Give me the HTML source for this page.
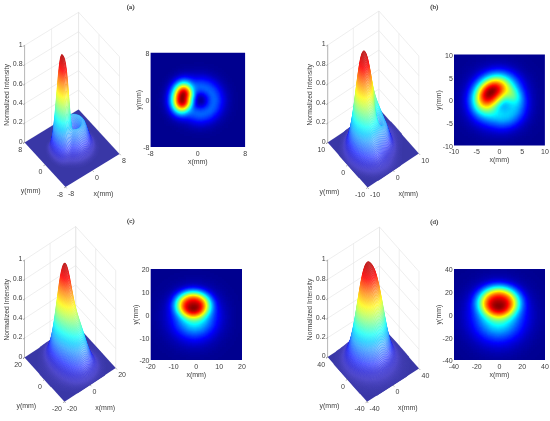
<!DOCTYPE html><html><head><meta charset="utf-8"><title>Intensity</title><style>html,body{margin:0;padding:0;background:#fff}svg{display:block}</style></head><body><svg width="550" height="421" viewBox="0 0 550 421"><defs><linearGradient id="fa" gradientUnits="userSpaceOnUse" x1="0" y1="0" x2="-432.64" y2="-705.81"><stop offset="0" stop-color="#3937a6"/><stop offset="0.03" stop-color="#5a54cc"/><stop offset="0.07" stop-color="#6460e0"/><stop offset="0.125" stop-color="#8c93ff"/><stop offset="0.1875" stop-color="#8cafff"/><stop offset="0.25" stop-color="#8ccbff"/><stop offset="0.3125" stop-color="#5cddff"/><stop offset="0.375" stop-color="#62fff9"/><stop offset="0.4375" stop-color="#8affd0"/><stop offset="0.5" stop-color="#b7ffae"/><stop offset="0.5625" stop-color="#ddff88"/><stop offset="0.625" stop-color="#fffb66"/><stop offset="0.6875" stop-color="#ffd666"/><stop offset="0.75" stop-color="#ffb066"/><stop offset="0.8125" stop-color="#ff7b52"/><stop offset="0.875" stop-color="#fe4040"/><stop offset="0.9375" stop-color="#e24040"/><stop offset="1" stop-color="#c64040"/></linearGradient><linearGradient id="sa" gradientUnits="userSpaceOnUse" x1="0" y1="0" x2="-432.64" y2="-705.81"><stop offset="0" stop-color="#3937a6"/><stop offset="0.03" stop-color="#4038c8"/><stop offset="0.07" stop-color="#1c1cd8"/><stop offset="0.125" stop-color="#000eff"/><stop offset="0.1875" stop-color="#004dff"/><stop offset="0.25" stop-color="#008bff"/><stop offset="0.3125" stop-color="#00caff"/><stop offset="0.375" stop-color="#0afff5"/><stop offset="0.4375" stop-color="#49ffb6"/><stop offset="0.5" stop-color="#87ff78"/><stop offset="0.5625" stop-color="#c6ff39"/><stop offset="0.625" stop-color="#fff900"/><stop offset="0.6875" stop-color="#ffba00"/><stop offset="0.75" stop-color="#ff7c00"/><stop offset="0.8125" stop-color="#ff3d00"/><stop offset="0.875" stop-color="#fe0000"/><stop offset="0.9375" stop-color="#d80000"/><stop offset="1" stop-color="#b20000"/></linearGradient><filter id="ja" x="0" y="0" width="1" height="1" color-interpolation-filters="sRGB"><feGaussianBlur stdDeviation="1.1"/><feComponentTransfer><feFuncR type="table" tableValues="0 0 0 0 0 0 0 0 0 0 0 0 0 0 0 0 0 0 0 0 0 0 0 0 .0625 .125 .1875 .25 .3125 .375 .4375 .5 .5625 .625 .6875 .75 .8125 .875 .9375 1 1 1 1 1 1 1 1 1 1 1 1 1 1 1 1 1 .9375 .875 .8125 .75 .6875 .625 .5625 .5"/><feFuncG type="table" tableValues="0 0 0 0 0 0 0 0 .0625 .125 .1875 .25 .3125 .375 .4375 .5 .5625 .625 .6875 .75 .8125 .875 .9375 1 1 1 1 1 1 1 1 1 1 1 1 1 1 1 1 1 .9375 .875 .8125 .75 .6875 .625 .5625 .5 .4375 .375 .3125 .25 .1875 .125 .0625 0 0 0 0 0 0 0 0 0"/><feFuncB type="table" tableValues=".5625 .625 .6875 .75 .8125 .875 .9375 1 1 1 1 1 1 1 1 1 1 1 1 1 1 1 1 1 .9375 .875 .8125 .75 .6875 .625 .5625 .5 .4375 .375 .3125 .25 .1875 .125 .0625 0 0 0 0 0 0 0 0 0 0 0 0 0 0 0 0 0 0 0 0 0 0 0 0 0"/></feComponentTransfer></filter><clipPath id="ca"><rect x="150.6" y="52.7" width="94.5" height="94.3"/></clipPath><linearGradient id="fb" gradientUnits="userSpaceOnUse" x1="0" y1="0" x2="-449.83" y2="-675.41"><stop offset="0" stop-color="#3937a6"/><stop offset="0.03" stop-color="#5a54cc"/><stop offset="0.07" stop-color="#6460e0"/><stop offset="0.125" stop-color="#8c93ff"/><stop offset="0.1875" stop-color="#8cafff"/><stop offset="0.25" stop-color="#8ccbff"/><stop offset="0.3125" stop-color="#5cddff"/><stop offset="0.375" stop-color="#62fff9"/><stop offset="0.4375" stop-color="#8affd0"/><stop offset="0.5" stop-color="#b7ffae"/><stop offset="0.5625" stop-color="#ddff88"/><stop offset="0.625" stop-color="#fffb66"/><stop offset="0.6875" stop-color="#ffd666"/><stop offset="0.75" stop-color="#ffb066"/><stop offset="0.8125" stop-color="#ff7b52"/><stop offset="0.875" stop-color="#fe4040"/><stop offset="0.9375" stop-color="#e24040"/><stop offset="1" stop-color="#c64040"/></linearGradient><linearGradient id="sb" gradientUnits="userSpaceOnUse" x1="0" y1="0" x2="-449.83" y2="-675.41"><stop offset="0" stop-color="#3937a6"/><stop offset="0.03" stop-color="#4038c8"/><stop offset="0.07" stop-color="#1c1cd8"/><stop offset="0.125" stop-color="#000eff"/><stop offset="0.1875" stop-color="#004dff"/><stop offset="0.25" stop-color="#008bff"/><stop offset="0.3125" stop-color="#00caff"/><stop offset="0.375" stop-color="#0afff5"/><stop offset="0.4375" stop-color="#49ffb6"/><stop offset="0.5" stop-color="#87ff78"/><stop offset="0.5625" stop-color="#c6ff39"/><stop offset="0.625" stop-color="#fff900"/><stop offset="0.6875" stop-color="#ffba00"/><stop offset="0.75" stop-color="#ff7c00"/><stop offset="0.8125" stop-color="#ff3d00"/><stop offset="0.875" stop-color="#fe0000"/><stop offset="0.9375" stop-color="#d80000"/><stop offset="1" stop-color="#b20000"/></linearGradient><filter id="jb" x="0" y="0" width="1" height="1" color-interpolation-filters="sRGB"><feGaussianBlur stdDeviation="1.1"/><feComponentTransfer><feFuncR type="table" tableValues="0 0 0 0 0 0 0 0 0 0 0 0 0 0 0 0 0 0 0 0 0 0 0 0 .0625 .125 .1875 .25 .3125 .375 .4375 .5 .5625 .625 .6875 .75 .8125 .875 .9375 1 1 1 1 1 1 1 1 1 1 1 1 1 1 1 1 1 .9375 .875 .8125 .75 .6875 .625 .5625 .5"/><feFuncG type="table" tableValues="0 0 0 0 0 0 0 0 .0625 .125 .1875 .25 .3125 .375 .4375 .5 .5625 .625 .6875 .75 .8125 .875 .9375 1 1 1 1 1 1 1 1 1 1 1 1 1 1 1 1 1 .9375 .875 .8125 .75 .6875 .625 .5625 .5 .4375 .375 .3125 .25 .1875 .125 .0625 0 0 0 0 0 0 0 0 0"/><feFuncB type="table" tableValues=".5625 .625 .6875 .75 .8125 .875 .9375 1 1 1 1 1 1 1 1 1 1 1 1 1 1 1 1 1 .9375 .875 .8125 .75 .6875 .625 .5625 .5 .4375 .375 .3125 .25 .1875 .125 .0625 0 0 0 0 0 0 0 0 0 0 0 0 0 0 0 0 0 0 0 0 0 0 0 0 0"/></feComponentTransfer></filter><clipPath id="cb"><rect x="454" y="54.5" width="90.9" height="90.9"/></clipPath><linearGradient id="fc" gradientUnits="userSpaceOnUse" x1="0" y1="0" x2="-447.24" y2="-681.50"><stop offset="0" stop-color="#3937a6"/><stop offset="0.03" stop-color="#5a54cc"/><stop offset="0.07" stop-color="#6460e0"/><stop offset="0.125" stop-color="#8c93ff"/><stop offset="0.1875" stop-color="#8cafff"/><stop offset="0.25" stop-color="#8ccbff"/><stop offset="0.3125" stop-color="#5cddff"/><stop offset="0.375" stop-color="#62fff9"/><stop offset="0.4375" stop-color="#8affd0"/><stop offset="0.5" stop-color="#b7ffae"/><stop offset="0.5625" stop-color="#ddff88"/><stop offset="0.625" stop-color="#fffb66"/><stop offset="0.6875" stop-color="#ffd666"/><stop offset="0.75" stop-color="#ffb066"/><stop offset="0.8125" stop-color="#ff7b52"/><stop offset="0.875" stop-color="#fe4040"/><stop offset="0.9375" stop-color="#e24040"/><stop offset="1" stop-color="#c64040"/></linearGradient><linearGradient id="sc" gradientUnits="userSpaceOnUse" x1="0" y1="0" x2="-447.24" y2="-681.50"><stop offset="0" stop-color="#3937a6"/><stop offset="0.03" stop-color="#4038c8"/><stop offset="0.07" stop-color="#1c1cd8"/><stop offset="0.125" stop-color="#000eff"/><stop offset="0.1875" stop-color="#004dff"/><stop offset="0.25" stop-color="#008bff"/><stop offset="0.3125" stop-color="#00caff"/><stop offset="0.375" stop-color="#0afff5"/><stop offset="0.4375" stop-color="#49ffb6"/><stop offset="0.5" stop-color="#87ff78"/><stop offset="0.5625" stop-color="#c6ff39"/><stop offset="0.625" stop-color="#fff900"/><stop offset="0.6875" stop-color="#ffba00"/><stop offset="0.75" stop-color="#ff7c00"/><stop offset="0.8125" stop-color="#ff3d00"/><stop offset="0.875" stop-color="#fe0000"/><stop offset="0.9375" stop-color="#d80000"/><stop offset="1" stop-color="#b20000"/></linearGradient><filter id="jc" x="0" y="0" width="1" height="1" color-interpolation-filters="sRGB"><feGaussianBlur stdDeviation="1.1"/><feComponentTransfer><feFuncR type="table" tableValues="0 0 0 0 0 0 0 0 0 0 0 0 0 0 0 0 0 0 0 0 0 0 0 0 .0625 .125 .1875 .25 .3125 .375 .4375 .5 .5625 .625 .6875 .75 .8125 .875 .9375 1 1 1 1 1 1 1 1 1 1 1 1 1 1 1 1 1 .9375 .875 .8125 .75 .6875 .625 .5625 .5"/><feFuncG type="table" tableValues="0 0 0 0 0 0 0 0 .0625 .125 .1875 .25 .3125 .375 .4375 .5 .5625 .625 .6875 .75 .8125 .875 .9375 1 1 1 1 1 1 1 1 1 1 1 1 1 1 1 1 1 .9375 .875 .8125 .75 .6875 .625 .5625 .5 .4375 .375 .3125 .25 .1875 .125 .0625 0 0 0 0 0 0 0 0 0"/><feFuncB type="table" tableValues=".5625 .625 .6875 .75 .8125 .875 .9375 1 1 1 1 1 1 1 1 1 1 1 1 1 1 1 1 1 .9375 .875 .8125 .75 .6875 .625 .5625 .5 .4375 .375 .3125 .25 .1875 .125 .0625 0 0 0 0 0 0 0 0 0 0 0 0 0 0 0 0 0 0 0 0 0 0 0 0 0"/></feComponentTransfer></filter><clipPath id="cc"><rect x="150.7" y="269" width="91.3" height="91"/></clipPath><linearGradient id="fd" gradientUnits="userSpaceOnUse" x1="0" y1="0" x2="-439.76" y2="-689.54"><stop offset="0" stop-color="#3937a6"/><stop offset="0.03" stop-color="#5a54cc"/><stop offset="0.07" stop-color="#6460e0"/><stop offset="0.125" stop-color="#8c93ff"/><stop offset="0.1875" stop-color="#8cafff"/><stop offset="0.25" stop-color="#8ccbff"/><stop offset="0.3125" stop-color="#5cddff"/><stop offset="0.375" stop-color="#62fff9"/><stop offset="0.4375" stop-color="#8affd0"/><stop offset="0.5" stop-color="#b7ffae"/><stop offset="0.5625" stop-color="#ddff88"/><stop offset="0.625" stop-color="#fffb66"/><stop offset="0.6875" stop-color="#ffd666"/><stop offset="0.75" stop-color="#ffb066"/><stop offset="0.8125" stop-color="#ff7b52"/><stop offset="0.875" stop-color="#fe4040"/><stop offset="0.9375" stop-color="#e24040"/><stop offset="1" stop-color="#c64040"/></linearGradient><linearGradient id="sd" gradientUnits="userSpaceOnUse" x1="0" y1="0" x2="-439.76" y2="-689.54"><stop offset="0" stop-color="#3937a6"/><stop offset="0.03" stop-color="#4038c8"/><stop offset="0.07" stop-color="#1c1cd8"/><stop offset="0.125" stop-color="#000eff"/><stop offset="0.1875" stop-color="#004dff"/><stop offset="0.25" stop-color="#008bff"/><stop offset="0.3125" stop-color="#00caff"/><stop offset="0.375" stop-color="#0afff5"/><stop offset="0.4375" stop-color="#49ffb6"/><stop offset="0.5" stop-color="#87ff78"/><stop offset="0.5625" stop-color="#c6ff39"/><stop offset="0.625" stop-color="#fff900"/><stop offset="0.6875" stop-color="#ffba00"/><stop offset="0.75" stop-color="#ff7c00"/><stop offset="0.8125" stop-color="#ff3d00"/><stop offset="0.875" stop-color="#fe0000"/><stop offset="0.9375" stop-color="#d80000"/><stop offset="1" stop-color="#b20000"/></linearGradient><filter id="jd" x="0" y="0" width="1" height="1" color-interpolation-filters="sRGB"><feGaussianBlur stdDeviation="1.1"/><feComponentTransfer><feFuncR type="table" tableValues="0 0 0 0 0 0 0 0 0 0 0 0 0 0 0 0 0 0 0 0 0 0 0 0 .0625 .125 .1875 .25 .3125 .375 .4375 .5 .5625 .625 .6875 .75 .8125 .875 .9375 1 1 1 1 1 1 1 1 1 1 1 1 1 1 1 1 1 .9375 .875 .8125 .75 .6875 .625 .5625 .5"/><feFuncG type="table" tableValues="0 0 0 0 0 0 0 0 .0625 .125 .1875 .25 .3125 .375 .4375 .5 .5625 .625 .6875 .75 .8125 .875 .9375 1 1 1 1 1 1 1 1 1 1 1 1 1 1 1 1 1 .9375 .875 .8125 .75 .6875 .625 .5625 .5 .4375 .375 .3125 .25 .1875 .125 .0625 0 0 0 0 0 0 0 0 0"/><feFuncB type="table" tableValues=".5625 .625 .6875 .75 .8125 .875 .9375 1 1 1 1 1 1 1 1 1 1 1 1 1 1 1 1 1 .9375 .875 .8125 .75 .6875 .625 .5625 .5 .4375 .375 .3125 .25 .1875 .125 .0625 0 0 0 0 0 0 0 0 0 0 0 0 0 0 0 0 0 0 0 0 0 0 0 0 0"/></feComponentTransfer></filter><clipPath id="cd"><rect x="453.9" y="269" width="91.1" height="91"/></clipPath></defs><path d="M24.6 142.5L78.6 109.4L119.5 153.9M24.6 123.1L78.6 90L119.5 134.5M24.6 103.7L78.6 70.6L119.5 115.1M24.6 84.2L78.6 51.1L119.5 95.6M24.6 64.8L78.6 31.7L119.5 76.2M24.6 45.4L78.6 12.3L119.5 56.8M24.6 142.5V45.4M119.5 153.9V56.8M51.6 125.9V28.8M99 131.7V34.6M78.6 109.4V12.3M78.6 109.4V12.3" stroke="#e3e3e3" stroke-width=".6" fill="none"/><path d="M24.6 142.5V45.4" stroke="#a8a8a8" stroke-width=".8" fill="none"/><path d="M65.5 187L119.5 153.9L78.6 109.4L24.6 142.5Z" fill="#3937a6"/><g fill="url(#fa)" stroke="url(#sa)" stroke-width="3.5"><g transform="translate(30.1 148.4)scale(.1)"><path d="M258 -158l0-3 6-4 6-4 6-3 6-4 6-4 6-3 6-4 6-4 6-3 0 3z"/></g><g transform="translate(30.4 148.8)scale(.1)"><path d="M234 -143l0-3 6-4 6-4 6-4 6-4 6-4 6-4 6-3 6-4 6-4 6-3 6-4 6-4 6-3 6-4 6-3 6-3 6-4 0 3z"/></g><g transform="translate(30.7 149.2)scale(.1)"><path d="M216 -132l0-3 6-4 6-4 6-4 6-4 6-4 6-4 6-4 6-4 6-4 6-4 6-3 6-4 6-4 6-3 6-4 6-3 6-4 6-3 6-3 6-4 6-3 6-3 6-4 0 3z"/></g><g transform="translate(31.1 149.5)scale(.1)"><path d="M204 -125l0-3 6-4 6-4 6-4 6-4 6-4 6-5 6-4 6-4 6-4 6-4 6-4 6-3 6-4 6-4 6-3 6-4 6-3 6-4 6-3 6-3 6-4 6-3 6-3 6-3 6-3 6-4 6-3 0 3z"/></g><g transform="translate(31.4 149.9)scale(.1)"><path d="M192 -118l0-2 6-4 6-5 6-4 6-4 6-4 6-5 6-4 6-4 6-4 6-5 6-4 6-4 6-4 6-4 6-3 6-4 6-4 6-3 6-3 6-4 6-3 6-3 6-3 6-3 6-3 6-3 6-3 6-4 6-3 6-3 0 3z"/></g><g transform="translate(31.8 150.3)scale(.1)"><path d="M180 -110l0-3 6-4 6-4 6-4 6-5 6-4 6-4 6-5 6-4 6-5 6-4 6-4 6-5 6-4 6-4 6-4 6-4 6-4 6-4 6-3 6-4 6-3 6-3 6-3 6-3 6-3 6-3 6-3 6-3 6-3 6-3 6-3 6-3 6-3 6-3 0 3z"/></g><g transform="translate(32.1 150.7)scale(.1)"><path d="M168 -103l0-2 6-5 6-4 6-4 6-4 6-5 6-4 6-4 6-5 6-5 6-4 6-5 6-5 6-4 6-5 6-4 6-4 6-4 6-4 6-4 6-4 6-3 6-4 6-3 6-3 6-3 6-3 6-2 6-3 6-3 6-3 6-2 6-3 6-3 6-3 6-3 6-3 6-3 0 3z"/></g><g transform="translate(32.4 151)scale(.1)"><path d="M162 -99l0-3 6-4 6-5 6-4 6-4 6-5 6-4 6-5 6-4 6-5 6-5 6-5 6-5 6-5 6-4 6-5 6-5 6-4 6-4 6-4 6-4 6-4 6-3 6-3 6-4 6-2 6-3 6-3 6-2 6-3 6-2 6-3 6-2 6-3 6-2 6-3 6-3 6-3 6-3 6-3 0 3z"/></g><g transform="translate(32.8 151.4)scale(.1)"><path d="M150 -92l0-3 6-4 6-4 6-5 6-4 6-4 6-5 6-4 6-5 6-5 6-5 6-5 6-5 6-5 6-5 6-5 6-5 6-5 6-5 6-4 6-5 6-4 6-4 6-4 6-3 6-3 6-3 6-3 6-2 6-3 6-2 6-2 6-2 6-2 6-3 6-2 6-2 6-3 6-2 6-3 6-2 6-3 6-3 0 3z"/></g><g transform="translate(33.1 151.8)scale(.1)"><path d="M138 -85l0-2 6-4 6-5 6-4 6-5 6-4 6-5 6-4 6-5 6-4 6-5 6-5 6-5 6-6 6-5 6-6 6-5 6-6 6-5 6-5 6-5 6-5 6-4 6-5 6-4 6-3 6-4 6-3 6-2 6-3 6-2 6-2 6-2 6-2 6-2 6-2 6-2 6-1 6-2 6-3 6-2 6-2 6-3 6-2 6-3 6-3 6-3 0 2z"/></g><g transform="translate(33.5 152.1)scale(.1)"><path d="M132 -81l0-3 6-4 6-5 6-4 6-5 6-5 6-4 6-5 6-5 6-4 6-5 6-5 6-5 6-6 6-5 6-6 6-6 6-6 6-6 6-5 6-6 6-5 6-5 6-5 6-4 6-4 6-4 6-3 6-3 6-3 6-2 6-2 6-2 6-1 6-2 6-1 6-2 6-1 6-1 6-2 6-2 6-2 6-2 6-2 6-2 6-3 6-3 6-3 0 3z"/></g><g transform="translate(33.8 152.5)scale(.1)"><path d="M126 -77l0-3 6-5 6-4 6-5 6-5 6-5 6-5 6-5 6-5 6-5 6-5 6-5 6-5 6-5 6-6 6-6 6-6 6-6 6-6 6-7 6-6 6-6 6-5 6-6 6-4 6-5 6-4 6-4 6-3 6-3 6-2 6-2 6-2 6-1 6-1 6-1 6-1 6-1 6-1 6-1 6-1 6-2 6-1 6-2 6-2 6-2 6-2 6-3 6-2 6-3 0 3z"/></g><g transform="translate(34.1 152.9)scale(.1)"><path d="M120 -74l0-2 6-5 6-5 6-5 6-5 6-6 6-5 6-5 6-6 6-5 6-5 6-5 6-5 6-5 6-6 6-6 6-6 6-7 6-6 6-7 6-7 6-6 6-7 6-6 6-5 6-5 6-5 6-4 6-4 6-3 6-2 6-2 6-2 6-1 6-1 6-1 6-1 6 0 6 0 6-1 6 0 6-1 6-1 6-1 6-1 6-2 6-1 6-2 6-3 6-2 6-3 6-3 0 3z"/></g><g transform="translate(34.5 153.3)scale(.1)"><path d="M114 -70l0-3 6-4 6-5 6-6 6-5 6-6 6-6 6-6 6-6 6-6 6-5 6-5 6-6 6-5 6-5 6-6 6-6 6-6 6-7 6-7 6-8 6-7 6-7 6-7 6-6 6-6 6-5 6-5 6-4 6-4 6-3 6-2 6-2 6-1 6-1 6-1 6 0 6 0 6 0 6 0 6 1 6 0 6 0 6 0 6-1 6-1 6-1 6-1 6-2 6-2 6-2 6-3 6-2 6-3 0 2z"/></g><g transform="translate(34.8 153.6)scale(.1)"><path d="M108 -66l0-3 6-4 6-6 6-5 6-6 6-6 6-7 6-6 6-7 6-7 6-6 6-6 6-5 6-6 6-5 6-5 6-6 6-6 6-6 6-8 6-7 6-8 6-8 6-8 6-7 6-6 6-7 6-5 6-5 6-5 6-3 6-3 6-2 6-2 6-1 6 0 6 0 6 0 6 1 6 1 6 0 6 1 6 1 6 1 6 0 6 0 6 0 6-1 6 0 6-2 6-1 6-2 6-3 6-2 6-3 6-3 0 3z"/></g><g transform="translate(35.2 154)scale(.1)"><path d="M102 -63l0-2 6-5 6-5 6-5 6-6 6-7 6-7 6-8 6-7 6-8 6-7 6-7 6-7 6-6 6-5 6-5 6-5 6-5 6-6 6-7 6-7 6-9 6-8 6-8 6-8 6-8 6-7 6-7 6-6 6-5 6-4 6-4 6-3 6-2 6-1 6 0 6 0 6 0 6 1 6 1 6 2 6 2 6 1 6 2 6 1 6 1 6 1 6 0 6 0 6 0 6-1 6-1 6-2 6-2 6-2 6-2 6-3 0 3z"/></g><g transform="translate(35.5 154.4)scale(.1)"><path d="M96 -59l0-2 6-4 6-6 6-5 6-6 6-7 6-8 6-8 6-9 6-9 6-9 6-8 6-8 6-7 6-6 6-5 6-5 6-4 6-5 6-6 6-7 6-7 6-9 6-9 6-9 6-8 6-8 6-8 6-7 6-6 6-6 6-4 6-4 6-2 6-2 6-1 6 0 6 0 6 1 6 2 6 2 6 2 6 3 6 2 6 3 6 2 6 2 6 1 6 1 6 1 6 0 6 0 6-1 6-1 6-2 6-2 6-2 6-3 6-3 0 3z"/></g><g transform="translate(35.8 154.7)scale(.1)"><path d="M96 -59l0-2 6-5 6-6 6-6 6-7 6-8 6-8 6-10 6-10 6-11 6-10 6-10 6-10 6-7 6-7 6-5 6-4 6-4 6-4 6-5 6-6 6-8 6-8 6-10 6-9 6-9 6-9 6-8 6-7 6-7 6-5 6-5 6-3 6-3 6-2 6 0 6 0 6 1 6 2 6 2 6 3 6 3 6 3 6 3 6 3 6 4 6 2 6 3 6 2 6 1 6 1 6 0 6 0 6-1 6-1 6-2 6-2 6-2 6-3 6-3 0 2z"/></g><g transform="translate(36.2 155.1)scale(.1)"><path d="M90 -55l0-2 6-5 6-5 6-6 6-7 6-8 6-9 6-10 6-11 6-13 6-12 6-13 6-12 6-10 6-9 6-7 6-5 6-3 6-3 6-3 6-4 6-5 6-7 6-9 6-9 6-10 6-10 6-9 6-9 6-8 6-6 6-6 6-5 6-3 6-3 6-1 6 0 6 0 6 2 6 2 6 3 6 3 6 4 6 4 6 4 6 5 6 4 6 3 6 4 6 2 6 2 6 2 6 1 6 0 6 0 6-1 6-1 6-2 6-2 6-3 6-2 0 2z"/></g><g transform="translate(36.5 155.5)scale(.1)"><path d="M90 -55l0-3 6-5 6-6 6-6 6-8 6-9 6-10 6-12 6-14 6-14 6-15 6-15 6-14 6-13 6-10 6-8 6-5 6-2 6-1 6-1 6-2 6-4 6-7 6-8 6-9 6-11 6-10 6-10 6-9 6-8 6-6 6-6 6-5 6-3 6-3 6-1 6 0 6 1 6 2 6 2 6 4 6 4 6 5 6 5 6 5 6 5 6 5 6 5 6 4 6 3 6 3 6 3 6 1 6 1 6 1 6-1 6-1 6-1 6-2 6-2 6-3 6-3 0 2z"/></g><g transform="translate(36.9 155.8)scale(.1)"><path d="M84 -51l0-3 6-4 6-6 6-6 6-8 6-8 6-11 6-12 6-14 6-15 6-18 6-18 6-18 6-17 6-15 6-12 6-8 6-5 6-1 6 0 6 2 6 0 6-2 6-5 6-7 6-9 6-11 6-10 6-10 6-10 6-8 6-7 6-6 6-5 6-3 6-2 6-2 6 0 6 2 6 2 6 3 6 4 6 5 6 5 6 6 6 6 6 6 6 6 6 6 6 5 6 5 6 4 6 3 6 3 6 1 6 1 6 0 6 0 6-1 6-2 6-2 6-2 6-3 0 2z"/></g><g transform="translate(37.2 156.2)scale(.1)"><path d="M84 -51l0-3 6-5 6-6 6-7 6-8 6-10 6-12 6-14 6-17 6-18 6-21 6-21 6-22 6-20 6-19 6-14 6-9 6-5 6 0 6 3 6 4 6 4 6 1 6-2 6-6 6-9 6-10 6-11 6-10 6-10 6-8 6-7 6-6 6-5 6-4 6-2 6-1 6 0 6 1 6 3 6 4 6 4 6 6 6 6 6 6 6 7 6 7 6 7 6 7 6 6 6 6 6 5 6 4 6 3 6 3 6 1 6 1 6 0 6-1 6-1 6-2 6-2 6-3 6-2 0 2z"/></g><g transform="translate(37.6 156.6)scale(.1)"><path d="M78 -48l0-2 6-5 6-5 6-7 6-7 6-10 6-11 6-13 6-17 6-19 6-22 6-24 6-26 6-26 6-24 6-22 6-17 6-11 6-5 6 1 6 6 6 8 6 8 6 5 6 1 6-4 6-8 6-9 6-11 6-10 6-10 6-8 6-8 6-6 6-4 6-4 6-2 6-1 6 0 6 1 6 3 6 4 6 5 6 6 6 6 6 8 6 8 6 8 6 8 6 8 6 7 6 7 6 6 6 5 6 4 6 3 6 2 6 1 6 1 6 0 6-1 6-2 6-2 6-2 6-3 0 3z"/></g><g transform="translate(37.9 157)scale(.1)"><path d="M78 -48l0-2 6-5 6-6 6-7 6-9 6-10 6-13 6-16 6-19 6-22 6-26 6-28 6-30 6-31 6-29 6-26 6-21 6-13 6-5 6 2 6 9 6 12 6 13 6 10 6 5 6 0 6-6 6-8 6-11 6-10 6-9 6-9 6-7 6-6 6-4 6-4 6-2 6-1 6 0 6 1 6 3 6 4 6 5 6 6 6 7 6 8 6 9 6 9 6 9 6 8 6 9 6 8 6 7 6 6 6 5 6 4 6 3 6 2 6 1 6 0 6 0 6-2 6-1 6-3 6-2 6-3 0 2z"/></g><g transform="translate(38.2 157.3)scale(.1)"><path d="M78 -48l0-3 6-5 6-6 6-8 6-10 6-11 6-15 6-18 6-22 6-25 6-30 6-33 6-36 6-36 6-34 6-31 6-25 6-15 6-7 6 4 6 11 6 17 6 19 6 16 6 11 6 4 6-2 6-7 6-10 6-10 6-9 6-8 6-7 6-5 6-5 6-4 6-2 6-1 6 0 6 1 6 2 6 4 6 5 6 6 6 8 6 8 6 10 6 9 6 10 6 10 6 9 6 9 6 8 6 7 6 7 6 4 6 4 6 3 6 2 6 0 6 0 6-1 6-1 6-2 6-3 6-2 0 2z"/></g><g transform="translate(38.6 157.7)scale(.1)"><path d="M72 -44l0-2 6-5 6-6 6-7 6-8 6-11 6-13 6-16 6-21 6-25 6-29 6-35 6-38 6-41 6-42 6-40 6-36 6-29 6-19 6-8 6 4 6 14 6 22 6 25 6 23 6 18 6 10 6 2 6-4 6-8 6-9 6-9 6-7 6-7 6-5 6-5 6-3 6-3 6-1 6-1 6 1 6 2 6 3 6 5 6 6 6 8 6 9 6 9 6 11 6 10 6 11 6 11 6 10 6 9 6 8 6 7 6 6 6 4 6 4 6 2 6 1 6 1 6-1 6-1 6-2 6-2 6-3 0 3z"/></g><g transform="translate(38.9 158.1)scale(.1)"><path d="M72 -44l0-3 6-5 6-6 6-7 6-10 6-11 6-15 6-18 6-23 6-29 6-33 6-39 6-44 6-47 6-48 6-47 6-42 6-34 6-23 6-10 6 4 6 17 6 26 6 32 6 32 6 26 6 18 6 7 6 0 6-6 6-8 6-7 6-7 6-6 6-6 6-4 6-4 6-2 6-2 6-1 6 0 6 1 6 3 6 4 6 6 6 8 6 8 6 10 6 11 6 12 6 11 6 12 6 11 6 10 6 9 6 8 6 7 6 5 6 4 6 3 6 2 6 1 6 0 6-1 6-1 6-2 6-3 6-3 0 2z"/></g><g transform="translate(39.3 158.4)scale(.1)"><path d="M72 -44l0-3 6-5 6-7 6-8 6-10 6-13 6-16 6-21 6-26 6-32 6-38 6-44 6-49 6-53 6-54 6-54 6-47 6-40 6-27 6-13 6 4 6 18 6 31 6 38 6 41 6 35 6 27 6 15 6 4 6-2 6-6 6-7 6-6 6-5 6-5 6-4 6-4 6-3 6-2 6-2 6-1 6 0 6 2 6 4 6 5 6 7 6 9 6 10 6 11 6 12 6 12 6 13 6 12 6 11 6 10 6 9 6 8 6 6 6 5 6 4 6 2 6 1 6 1 6-1 6-1 6-2 6-2 6-3 0 2z"/></g><g transform="translate(39.6 158.8)scale(.1)"><path d="M66 -40l0-2 6-5 6-6 6-7 6-9 6-11 6-14 6-18 6-23 6-29 6-35 6-43 6-49 6-55 6-59 6-61 6-59 6-54 6-45 6-32 6-16 6 2 6 20 6 34 6 45 6 49 6 45 6 37 6 24 6 11 6 2 6-4 6-5 6-5 6-4 6-4 6-4 6-4 6-3 6-3 6-3 6-2 6-1 6 1 6 2 6 5 6 6 6 8 6 10 6 11 6 12 6 13 6 13 6 13 6 13 6 11 6 10 6 9 6 7 6 5 6 5 6 3 6 2 6 0 6 0 6-1 6-2 6-2 6-2 0 2z"/></g><g transform="translate(39.9 159.2)scale(.1)"><path d="M66 -40l0-3 6-5 6-6 6-7 6-10 6-12 6-15 6-20 6-25 6-32 6-39 6-47 6-54 6-61 6-65 6-67 6-66 6-60 6-50 6-37 6-19 6 0 6 20 6 37 6 50 6 57 6 56 6 47 6 35 6 19 6 7 6 0 6-3 6-3 6-3 6-4 6-3 6-4 6-4 6-4 6-4 6-3 6-2 6-1 6 1 6 3 6 5 6 7 6 10 6 11 6 12 6 14 6 13 6 14 6 13 6 12 6 12 6 9 6 8 6 7 6 5 6 3 6 3 6 1 6 0 6-1 6-1 6-2 6-3 6-2 0 2z"/></g><g transform="translate(40.3 159.6)scale(.1)"><path d="M66 -40l0-3 6-5 6-7 6-8 6-10 6-13 6-16 6-22 6-28 6-35 6-43 6-51 6-59 6-66 6-71 6-73 6-71 6-66 6-55 6-41 6-22 6-2 6 19 6 38 6 54 6 64 6 65 6 59 6 46 6 29 6 15 6 4 6 0 6-2 6-2 6-2 6-3 6-4 6-5 6-5 6-5 6-5 6-4 6-3 6-1 6 2 6 3 6 7 6 9 6 10 6 13 6 13 6 15 6 14 6 14 6 13 6 12 6 11 6 9 6 7 6 6 6 4 6 3 6 1 6 1 6-1 6-1 6-2 6-2 6-3 0 3z"/></g><g transform="translate(40.6 159.9)scale(.1)"><path d="M66 -40l0-3 6-6 6-7 6-8 6-11 6-14 6-18 6-24 6-30 6-38 6-46 6-55 6-64 6-71 6-77 6-78 6-77 6-70 6-60 6-44 6-26 6-4 6 18 6 39 6 56 6 69 6 73 6 70 6 58 6 41 6 23 6 10 6 3 6 1 6-1 6-1 6-3 6-3 6-6 6-6 6-7 6-7 6-6 6-5 6-3 6 0 6 2 6 5 6 7 6 11 6 12 6 14 6 14 6 15 6 15 6 14 6 13 6 11 6 10 6 8 6 7 6 5 6 3 6 2 6 1 6 0 6-1 6-2 6-2 6-3 0 3z"/></g><g transform="translate(41 160.3)scale(.1)"><path d="M60 -37l0-2 6-5 6-5 6-7 6-9 6-12 6-15 6-19 6-26 6-33 6-40 6-50 6-60 6-68 6-76 6-81 6-83 6-81 6-74 6-63 6-48 6-27 6-7 6 17 6 38 6 58 6 72 6 79 6 79 6 69 6 53 6 34 6 18 6 7 6 3 6 1 6 0 6-2 6-4 6-6 6-7 6-9 6-9 6-9 6-7 6-5 6-3 6 0 6 3 6 7 6 9 6 12 6 13 6 15 6 16 6 15 6 15 6 14 6 12 6 11 6 9 6 7 6 5 6 4 6 3 6 1 6 0 6-1 6-1 6-2 6-3 0 3z"/></g><g transform="translate(41.3 160.7)scale(.1)"><path d="M60 -37l0-2 6-5 6-6 6-7 6-10 6-12 6-16 6-21 6-27 6-35 6-44 6-53 6-63 6-72 6-80 6-86 6-87 6-84 6-77 6-66 6-49 6-30 6-7 6 16 6 37 6 58 6 73 6 83 6 86 6 79 6 65 6 46 6 26 6 13 6 5 6 3 6 1 6-1 6-4 6-7 6-9 6-10 6-11 6-12 6-10 6-8 6-5 6-2 6 1 6 5 6 8 6 12 6 13 6 15 6 16 6 16 6 15 6 15 6 13 6 11 6 10 6 8 6 6 6 4 6 3 6 2 6 0 6-1 6-1 6-2 6-2 6-3 0 2z"/></g><g transform="translate(41.6 161)scale(.1)"><path d="M60 -37l0-2 6-5 6-7 6-7 6-10 6-13 6-17 6-22 6-29 6-38 6-46 6-56 6-67 6-76 6-83 6-89 6-90 6-87 6-79 6-67 6-50 6-30 6-8 6 15 6 38 6 57 6 73 6 84 6 89 6 87 6 75 6 58 6 37 6 19 6 10 6 5 6 2 6-1 6-4 6-7 6-11 6-12 6-14 6-14 6-13 6-11 6-8 6-5 6 0 6 3 6 7 6 10 6 13 6 15 6 16 6 17 6 16 6 15 6 14 6 12 6 10 6 9 6 6 6 5 6 4 6 1 6 1 6 0 6-1 6-2 6-2 6-3 0 2z"/></g><g transform="translate(42 161.4)scale(.1)"><path d="M60 -37l0-2 6-6 6-6 6-8 6-10 6-14 6-18 6-24 6-30 6-40 6-49 6-59 6-69 6-79 6-87 6-92 6-92 6-89 6-80 6-67 6-50 6-29 6-7 6 16 6 37 6 56 6 73 6 83 6 91 6 90 6 84 6 68 6 48 6 28 6 14 6 8 6 3 6 0 6-4 6-9 6-11 6-15 6-16 6-17 6-16 6-14 6-11 6-8 6-3 6 2 6 6 6 9 6 12 6 15 6 16 6 17 6 17 6 15 6 15 6 13 6 11 6 9 6 7 6 6 6 3 6 2 6 1 6 0 6-1 6-1 6-3 6-2 0 2z"/></g><g transform="translate(42.3 161.8)scale(.1)"><path d="M60 -37l0-2 6-6 6-7 6-8 6-11 6-14 6-19 6-25 6-32 6-41 6-52 6-61 6-73 6-82 6-89 6-94 6-94 6-89 6-80 6-66 6-49 6-27 6-5 6 17 6 38 6 56 6 71 6 83 6 89 6 92 6 87 6 77 6 59 6 37 6 20 6 10 6 5 6 1 6-5 6-9 6-13 6-17 6-19 6-20 6-19 6-17 6-14 6-10 6-5 6-1 6 4 6 8 6 12 6 15 6 16 6 17 6 17 6 16 6 16 6 13 6 12 6 9 6 8 6 6 6 4 6 2 6 2 6 0 6-1 6-2 6-2 6-2 0 2z"/></g><g transform="translate(42.7 162.2)scale(.1)"><path d="M60 -37l0-3 6-5 6-7 6-9 6-11 6-15 6-20 6-26 6-34 6-42 6-54 6-64 6-75 6-84 6-91 6-96 6-95 6-89 6-80 6-64 6-46 6-25 6-2 6 19 6 40 6 57 6 71 6 81 6 87 6 90 6 88 6 81 6 68 6 47 6 27 6 13 6 7 6 1 6-4 6-10 6-15 6-19 6-22 6-23 6-22 6-20 6-17 6-13 6-7 6-3 6 3 6 7 6 11 6 14 6 16 6 17 6 18 6 17 6 15 6 14 6 13 6 10 6 8 6 6 6 5 6 2 6 2 6 0 6-1 6-1 6-2 6-2 0 2z"/></g><g transform="translate(43 162.5)scale(.1)"><path d="M54 -33l0-2 6-5 6-6 6-7 6-9 6-11 6-16 6-20 6-27 6-35 6-45 6-55 6-66 6-77 6-86 6-93 6-97 6-96 6-89 6-78 6-63 6-43 6-21 6 1 6 23 6 42 6 58 6 72 6 80 6 85 6 87 6 87 6 81 6 73 6 56 6 35 6 18 6 8 6 1 6-4 6-11 6-16 6-21 6-24 6-26 6-25 6-23 6-20 6-15 6-10 6-5 6 1 6 6 6 10 6 14 6 16 6 17 6 18 6 17 6 17 6 14 6 13 6 11 6 8 6 7 6 5 6 3 6 1 6 1 6-1 6-1 6-2 6-3 0 3z"/></g><g transform="translate(43.3 162.9)scale(.1)"><path d="M54 -33l0-2 6-5 6-6 6-7 6-9 6-12 6-16 6-22 6-28 6-36 6-46 6-56 6-68 6-79 6-88 6-94 6-98 6-95 6-89 6-77 6-60 6-40 6-18 6 5 6 26 6 46 6 61 6 72 6 80 6 85 6 85 6 83 6 79 6 73 6 61 6 44 6 23 6 10 6 2 6-5 6-11 6-18 6-23 6-26 6-28 6-28 6-26 6-23 6-18 6-12 6-6 6-1 6 5 6 10 6 13 6 16 6 17 6 18 6 18 6 16 6 15 6 14 6 11 6 9 6 7 6 5 6 3 6 2 6 0 6 0 6-1 6-2 6-3 0 3z"/></g><g transform="translate(43.7 163.3)scale(.1)"><path d="M54 -33l0-2 6-5 6-6 6-7 6-10 6-12 6-17 6-21 6-29 6-38 6-47 6-58 6-69 6-80 6-90 6-95 6-98 6-96 6-88 6-75 6-58 6-37 6-14 6 9 6 30 6 48 6 64 6 75 6 81 6 84 6 84 6 80 6 76 6 70 6 62 6 50 6 29 6 12 6 3 6-4 6-13 6-18 6-25 6-28 6-31 6-30 6-29 6-25 6-20 6-14 6-8 6-2 6 4 6 9 6 12 6 16 6 18 6 18 6 18 6 17 6 15 6 13 6 12 6 9 6 7 6 6 6 3 6 2 6 1 6 0 6-2 6-1 6-3 6-3 0 2z"/></g><g transform="translate(44 163.6)scale(.1)"><path d="M54 -33l0-2 6-5 6-6 6-8 6-9 6-13 6-17 6-22 6-30 6-38 6-48 6-59 6-71 6-81 6-90 6-97 6-98 6-96 6-87 6-74 6-55 6-34 6-12 6 12 6 34 6 52 6 66 6 77 6 83 6 85 6 83 6 80 6 74 6 66 6 59 6 50 6 36 6 16 6 3 6-5 6-13 6-19 6-26 6-30 6-33 6-32 6-31 6-27 6-22 6-16 6-10 6-3 6 3 6 8 6 13 6 15 6 18 6 18 6 18 6 17 6 16 6 14 6 11 6 10 6 7 6 6 6 4 6 2 6 1 6-1 6-1 6-2 6-2 6-3 0 2z"/></g><g transform="translate(44.4 164)scale(.1)"><path d="M54 -33l0-2 6-5 6-6 6-8 6-10 6-13 6-17 6-22 6-30 6-39 6-49 6-60 6-72 6-82 6-91 6-97 6-99 6-95 6-87 6-72 6-54 6-32 6-9 6 15 6 36 6 54 6 69 6 79 6 85 6 86 6 84 6 80 6 73 6 65 6 56 6 46 6 37 6 21 6 4 6-5 6-13 6-21 6-27 6-31 6-34 6-34 6-33 6-28 6-24 6-17 6-11 6-4 6 2 6 8 6 12 6 15 6 17 6 19 6 18 6 17 6 16 6 14 6 12 6 10 6 8 6 5 6 4 6 2 6 1 6 0 6-1 6-2 6-2 6-3 0 2z"/></g><g transform="translate(44.7 164.4)scale(.1)"><path d="M54 -33l0-2 6-5 6-6 6-8 6-10 6-13 6-17 6-23 6-31 6-39 6-49 6-61 6-72 6-83 6-92 6-97 6-99 6-95 6-86 6-72 6-52 6-31 6-7 6 16 6 38 6 57 6 71 6 80 6 86 6 87 6 85 6 80 6 73 6 65 6 55 6 45 6 33 6 22 6 7 6-5 6-14 6-21 6-27 6-33 6-35 6-35 6-34 6-30 6-25 6-18 6-12 6-5 6 2 6 7 6 12 6 15 6 18 6 18 6 19 6 17 6 16 6 14 6 13 6 9 6 8 6 6 6 4 6 2 6 1 6 0 6-1 6-2 6-2 6-3 0 2z"/></g><g transform="translate(45 164.8)scale(.1)"><path d="M54 -33l0-2 6-5 6-7 6-7 6-10 6-13 6-18 6-23 6-30 6-40 6-49 6-61 6-72 6-83 6-92 6-98 6-98 6-95 6-86 6-71 6-52 6-30 6-6 6 17 6 39 6 58 6 71 6 81 6 86 6 88 6 85 6 81 6 74 6 65 6 55 6 44 6 32 6 20 6 8 6-5 6-14 6-21 6-28 6-33 6-36 6-36 6-34 6-31 6-25 6-19 6-12 6-6 6 2 6 7 6 11 6 16 6 17 6 18 6 19 6 17 6 17 6 14 6 12 6 10 6 8 6 6 6 4 6 2 6 1 6 0 6-1 6-2 6-2 6-3 0 2z"/></g><g transform="translate(45.4 165.1)scale(.1)"><path d="M54 -33l0-2 6-5 6-7 6-7 6-10 6-13 6-17 6-24 6-30 6-39 6-50 6-61 6-72 6-83 6-91 6-97 6-99 6-94 6-85 6-71 6-52 6-29 6-6 6 18 6 39 6 57 6 71 6 81 6 86 6 88 6 85 6 80 6 73 6 65 6 55 6 44 6 33 6 19 6 7 6-5 6-13 6-22 6-28 6-33 6-36 6-36 6-35 6-31 6-25 6-19 6-12 6-6 6 2 6 7 6 11 6 15 6 18 6 18 6 19 6 17 6 17 6 14 6 12 6 10 6 8 6 6 6 4 6 2 6 1 6 0 6-1 6-2 6-2 6-3 0 2z"/></g><g transform="translate(45.7 165.5)scale(.1)"><path d="M54 -33l0-2 6-5 6-6 6-8 6-10 6-13 6-17 6-23 6-30 6-39 6-49 6-61 6-71 6-82 6-91 6-96 6-98 6-94 6-84 6-70 6-51 6-30 6-5 6 17 6 39 6 56 6 71 6 80 6 85 6 86 6 85 6 79 6 73 6 64 6 55 6 43 6 32 6 19 6 4 6-5 6-13 6-21 6-28 6-33 6-36 6-35 6-35 6-30 6-25 6-19 6-12 6-5 6 2 6 7 6 12 6 15 6 17 6 19 6 18 6 18 6 16 6 14 6 12 6 10 6 8 6 6 6 4 6 2 6 1 6 0 6-1 6-2 6-2 6-3 0 2z"/></g><g transform="translate(46.1 165.9)scale(.1)"><path d="M54 -33l0-2 6-5 6-6 6-8 6-10 6-12 6-17 6-23 6-30 6-38 6-48 6-60 6-70 6-81 6-89 6-95 6-96 6-93 6-83 6-69 6-51 6-29 6-6 6 17 6 38 6 56 6 69 6 79 6 84 6 85 6 84 6 78 6 72 6 63 6 54 6 42 6 28 6 13 6 4 6-5 6-13 6-21 6-28 6-31 6-35 6-35 6-33 6-30 6-24 6-18 6-11 6-4 6 2 6 7 6 12 6 15 6 17 6 19 6 18 6 18 6 16 6 14 6 12 6 10 6 7 6 6 6 4 6 2 6 1 6 0 6-1 6-2 6-2 6-3 0 2z"/></g><g transform="translate(46.4 166.2)scale(.1)"><path d="M54 -33l0-2 6-5 6-6 6-8 6-9 6-13 6-16 6-22 6-30 6-37 6-47 6-58 6-69 6-79 6-87 6-93 6-94 6-90 6-82 6-68 6-49 6-28 6-6 6 17 6 37 6 55 6 68 6 78 6 83 6 83 6 82 6 77 6 69 6 61 6 49 6 35 6 21 6 11 6 4 6-5 6-13 6-20 6-26 6-31 6-34 6-33 6-32 6-28 6-23 6-16 6-10 6-4 6 2 6 8 6 13 6 15 6 17 6 19 6 18 6 17 6 16 6 14 6 12 6 10 6 7 6 6 6 3 6 3 6 0 6 0 6-1 6-2 6-2 6-3 0 2z"/></g><g transform="translate(46.8 166.6)scale(.1)"><path d="M54 -33l0-2 6-5 6-6 6-7 6-10 6-12 6-16 6-21 6-29 6-36 6-46 6-56 6-66 6-77 6-84 6-90 6-91 6-88 6-79 6-65 6-48 6-27 6-5 6 17 6 38 6 54 6 67 6 76 6 81 6 82 6 78 6 73 6 65 6 53 6 40 6 27 6 17 6 10 6 3 6-5 6-12 6-20 6-25 6-29 6-31 6-32 6-30 6-26 6-21 6-15 6-9 6-2 6 3 6 8 6 13 6 16 6 17 6 18 6 18 6 17 6 16 6 14 6 11 6 10 6 7 6 5 6 4 6 2 6 1 6-1 6-1 6-2 6-2 6-3 0 2z"/></g><g transform="translate(47.1 167)scale(.1)"><path d="M54 -33l0-2 6-5 6-6 6-7 6-9 6-12 6-15 6-21 6-27 6-35 6-44 6-54 6-64 6-73 6-81 6-86 6-87 6-84 6-75 6-62 6-45 6-25 6-3 6 18 6 37 6 54 6 66 6 74 6 78 6 77 6 73 6 65 6 55 6 42 6 30 6 21 6 15 6 9 6 3 6-5 6-12 6-18 6-24 6-27 6-29 6-29 6-28 6-24 6-19 6-13 6-7 6-1 6 4 6 9 6 13 6 16 6 17 6 18 6 18 6 17 6 15 6 13 6 12 6 9 6 7 6 5 6 3 6 2 6 1 6 0 6-2 6-1 6-3 0 3z"/></g><g transform="translate(47.4 167.3)scale(.1)"><path d="M54 -33l0-2 6-5 6-5 6-7 6-9 6-12 6-15 6-19 6-26 6-33 6-42 6-51 6-61 6-69 6-77 6-81 6-82 6-79 6-71 6-58 6-41 6-22 6-1 6 19 6 38 6 53 6 63 6 71 6 72 6 70 6 64 6 53 6 42 6 31 6 23 6 18 6 13 6 8 6 2 6-4 6-11 6-17 6-22 6-26 6-26 6-27 6-25 6-21 6-16 6-12 6-5 6 0 6 6 6 9 6 14 6 16 6 17 6 18 6 18 6 16 6 15 6 13 6 11 6 8 6 7 6 5 6 3 6 2 6 0 6 0 6-1 6-2 6-3 0 3z"/></g><g transform="translate(47.8 167.7)scale(.1)"><path d="M60 -37l0-3 6-5 6-7 6-8 6-11 6-14 6-19 6-24 6-32 6-39 6-48 6-57 6-65 6-72 6-76 6-76 6-73 6-65 6-53 6-37 6-18 6 2 6 20 6 38 6 51 6 60 6 64 6 64 6 59 6 51 6 40 6 30 6 23 6 17 6 15 6 12 6 7 6 1 6-4 6-11 6-15 6-20 6-23 6-24 6-24 6-22 6-18 6-14 6-9 6-3 6 1 6 7 6 11 6 13 6 17 6 17 6 17 6 17 6 16 6 15 6 12 6 11 6 8 6 7 6 4 6 3 6 2 6 0 6-1 6-1 6-2 6-3 0 3z"/></g><g transform="translate(48.1 168.1)scale(.1)"><path d="M60 -37l0-2 6-6 6-6 6-8 6-11 6-13 6-18 6-22 6-30 6-36 6-45 6-52 6-61 6-66 6-70 6-70 6-67 6-58 6-47 6-32 6-14 6 4 6 22 6 36 6 48 6 54 6 56 6 52 6 46 6 37 6 28 6 20 6 16 6 14 6 13 6 9 6 6 6 1 6-5 6-9 6-14 6-18 6-21 6-21 6-21 6-18 6-16 6-11 6-7 6-1 6 3 6 8 6 11 6 15 6 16 6 17 6 17 6 17 6 15 6 14 6 12 6 10 6 8 6 6 6 4 6 3 6 1 6 0 6 0 6-2 6-2 6-2 0 2z"/></g><g transform="translate(48.5 168.5)scale(.1)"><path d="M60 -37l0-2 6-5 6-7 6-7 6-10 6-13 6-16 6-21 6-27 6-34 6-41 6-48 6-55 6-60 6-64 6-63 6-59 6-52 6-41 6-26 6-10 6 6 6 21 6 34 6 42 6 46 6 45 6 40 6 32 6 24 6 17 6 13 6 12 6 11 6 10 6 7 6 4 6 1 6-5 6-8 6-13 6-16 6-17 6-19 6-17 6-16 6-13 6-8 6-4 6 0 6 5 6 9 6 12 6 15 6 16 6 17 6 17 6 16 6 15 6 13 6 11 6 10 6 7 6 6 6 4 6 2 6 1 6 0 6-1 6-2 6-2 6-2 0 2z"/></g><g transform="translate(48.8 168.8)scale(.1)"><path d="M60 -37l0-2 6-5 6-6 6-7 6-10 6-11 6-15 6-20 6-24 6-31 6-37 6-44 6-49 6-55 6-56 6-56 6-52 6-45 6-34 6-22 6-6 6 7 6 20 6 29 6 35 6 36 6 33 6 27 6 19 6 13 6 10 6 7 6 8 6 8 6 8 6 5 6 3 6 0 6-4 6-8 6-11 6-14 6-15 6-15 6-15 6-12 6-10 6-6 6-2 6 3 6 6 6 10 6 13 6 14 6 17 6 16 6 17 6 15 6 14 6 13 6 11 6 8 6 7 6 5 6 4 6 2 6 1 6 0 6-2 6-1 6-2 6-3 0 2z"/></g><g transform="translate(49.1 169.2)scale(.1)"><path d="M60 -37l0-2 6-5 6-5 6-7 6-9 6-11 6-14 6-17 6-23 6-27 6-34 6-39 6-44 6-47 6-50 6-49 6-45 6-38 6-28 6-17 6-5 6 8 6 17 6 24 6 26 6 25 6 21 6 15 6 9 6 5 6 3 6 4 6 5 6 5 6 5 6 4 6 1 6-1 6-4 6-7 6-9 6-12 6-13 6-12 6-12 6-9 6-7 6-3 6 0 6 4 6 8 6 11 6 13 6 15 6 16 6 16 6 16 6 15 6 13 6 12 6 10 6 8 6 7 6 4 6 3 6 2 6 1 6-1 6-1 6-2 6-2 6-3 0 2z"/></g><g transform="translate(49.5 169.6)scale(.1)"><path d="M66 -40l0-3 6-6 6-6 6-8 6-10 6-13 6-16 6-20 6-25 6-29 6-34 6-39 6-42 6-43 6-42 6-38 6-32 6-23 6-13 6-3 6 6 6 13 6 17 6 18 6 15 6 10 6 5 6 1 6-2 6-1 6 1 6 2 6 2 6 3 6 2 6 0 6-1 6-4 6-7 6-8 6-9 6-11 6-9 6-9 6-7 6-4 6-1 6 3 6 5 6 9 6 12 6 13 6 15 6 16 6 15 6 16 6 14 6 12 6 11 6 10 6 7 6 6 6 4 6 3 6 1 6 0 6 0 6-2 6-2 6-2 0 3z"/></g><g transform="translate(49.8 169.9)scale(.1)"><path d="M66 -40l0-3 6-5 6-6 6-8 6-9 6-11 6-15 6-18 6-21 6-26 6-30 6-34 6-35 6-37 6-36 6-32 6-26 6-19 6-11 6-3 6 4 6 9 6 10 6 9 6 5 6 2 6-3 6-5 6-5 6-5 6-2 6-1 6 0 6 1 6 0 6-1 6-2 6-4 6-5 6-7 6-8 6-8 6-7 6-6 6-4 6-2 6 1 6 4 6 7 6 10 6 12 6 14 6 15 6 15 6 15 6 14 6 14 6 12 6 10 6 8 6 7 6 5 6 4 6 2 6 1 6 0 6-1 6-1 6-2 6-3 0 3z"/></g><g transform="translate(50.2 170.3)scale(.1)"><path d="M66 -40l0-3 6-5 6-5 6-7 6-9 6-10 6-13 6-16 6-19 6-22 6-26 6-29 6-30 6-31 6-30 6-26 6-22 6-16 6-9 6-4 6 1 6 4 6 3 6 2 6-2 6-6 6-8 6-9 6-8 6-7 6-5 6-3 6-2 6-1 6-2 6-2 6-2 6-4 6-5 6-6 6-6 6-6 6-5 6-4 6-2 6 1 6 3 6 6 6 8 6 10 6 13 6 13 6 15 6 15 6 14 6 14 6 12 6 11 6 9 6 8 6 6 6 5 6 3 6 2 6 0 6 0 6-1 6-2 6-2 6-3 0 3z"/></g><g transform="translate(50.5 170.7)scale(.1)"><path d="M66 -40l0-2 6-5 6-6 6-6 6-8 6-9 6-11 6-14 6-17 6-19 6-22 6-25 6-25 6-26 6-25 6-22 6-18 6-14 6-8 6-5 6-2 6-1 6-3 6-4 6-8 6-10 6-12 6-12 6-11 6-8 6-7 6-5 6-4 6-3 6-3 6-3 6-3 6-4 6-4 6-5 6-4 6-4 6-4 6-1 6 0 6 2 6 4 6 7 6 9 6 11 6 13 6 13 6 15 6 14 6 13 6 13 6 11 6 10 6 9 6 7 6 5 6 4 6 3 6 1 6 0 6 0 6-1 6-2 6-3 6-2 0 2z"/></g><g transform="translate(50.8 171.1)scale(.1)"><path d="M72 -44l0-3 6-5 6-6 6-7 6-8 6-10 6-12 6-15 6-16 6-19 6-21 6-21 6-22 6-20 6-19 6-15 6-12 6-9 6-6 6-5 6-5 6-7 6-9 6-12 6-14 6-14 6-14 6-12 6-10 6-9 6-7 6-5 6-5 6-4 6-3 6-4 6-4 6-3 6-4 6-3 6-3 6-1 6-1 6 2 6 4 6 6 6 7 6 10 6 11 6 13 6 13 6 13 6 14 6 12 6 12 6 11 6 9 6 8 6 6 6 4 6 4 6 2 6 1 6 0 6-1 6-2 6-2 6-2 0 2z"/></g><g transform="translate(51.2 171.4)scale(.1)"><path d="M72 -44l0-2 6-5 6-6 6-6 6-8 6-9 6-10 6-13 6-14 6-16 6-17 6-18 6-18 6-17 6-15 6-14 6-11 6-9 6-8 6-7 6-9 6-10 6-13 6-14 6-16 6-15 6-15 6-13 6-12 6-10 6-8 6-7 6-6 6-5 6-4 6-4 6-4 6-3 6-3 6-2 6-1 6-1 6 2 6 3 6 5 6 6 6 9 6 10 6 11 6 12 6 13 6 12 6 13 6 12 6 10 6 10 6 8 6 7 6 5 6 4 6 3 6 1 6 1 6 0 6-2 6-1 6-2 6-3 0 2z"/></g><g transform="translate(51.5 171.8)scale(.1)"><path d="M78 -48l0-3 6-5 6-6 6-7 6-8 6-9 6-10 6-13 6-13 6-14 6-15 6-15 6-15 6-13 6-12 6-11 6-9 6-9 6-10 6-11 6-12 6-15 6-16 6-16 6-17 6-15 6-14 6-13 6-11 6-9 6-8 6-7 6-5 6-5 6-4 6-4 6-3 6-2 6-2 6 0 6 1 6 2 6 4 6 6 6 7 6 9 6 10 6 11 6 12 6 12 6 12 6 11 6 11 6 10 6 8 6 7 6 6 6 5 6 3 6 2 6 1 6 0 6 0 6-2 6-2 6-2 6-3 0 2z"/></g><g transform="translate(51.9 172.2)scale(.1)"><path d="M78 -48l0-2 6-5 6-6 6-6 6-7 6-8 6-9 6-11 6-11 6-12 6-13 6-13 6-12 6-11 6-11 6-10 6-10 6-10 6-11 6-13 6-14 6-16 6-16 6-17 6-17 6-15 6-15 6-13 6-11 6-10 6-9 6-8 6-6 6-5 6-5 6-3 6-3 6-2 6 0 6 0 6 2 6 3 6 4 6 7 6 7 6 9 6 10 6 10 6 12 6 11 6 11 6 10 6 10 6 9 6 7 6 6 6 5 6 4 6 3 6 1 6 1 6 0 6-1 6-2 6-2 6-3 0 3z"/></g><g transform="translate(52.2 172.5)scale(.1)"><path d="M84 -51l0-3 6-5 6-6 6-7 6-7 6-8 6-9 6-9 6-11 6-11 6-11 6-10 6-11 6-10 6-10 6-10 6-10 6-12 6-14 6-14 6-16 6-17 6-16 6-17 6-16 6-14 6-13 6-12 6-11 6-9 6-8 6-7 6-6 6-4 6-4 6-2 6-2 6 0 6 1 6 2 6 4 6 5 6 6 6 8 6 8 6 10 6 10 6 10 6 11 6 10 6 9 6 9 6 7 6 7 6 5 6 4 6 3 6 2 6 1 6 0 6 0 6-2 6-1 6-3 6-2 0 2z"/></g><g transform="translate(52.5 172.9)scale(.1)"><path d="M84 -51l0-3 6-5 6-5 6-6 6-6 6-7 6-8 6-8 6-9 6-10 6-9 6-10 6-9 6-10 6-9 6-10 6-11 6-13 6-13 6-15 6-15 6-17 6-16 6-16 6-15 6-15 6-13 6-12 6-11 6-10 6-8 6-7 6-6 6-4 6-4 6-2 6-2 6 0 6 2 6 2 6 4 6 5 6 7 6 7 6 8 6 9 6 9 6 10 6 9 6 9 6 9 6 7 6 7 6 5 6 5 6 3 6 2 6 2 6 0 6 0 6-1 6-2 6-2 6-2 6-3 0 2z"/></g><g transform="translate(52.9 173.3)scale(.1)"><path d="M90 -55l0-3 6-5 6-5 6-6 6-6 6-7 6-8 6-7 6-9 6-8 6-8 6-9 6-9 6-9 6-11 6-11 6-12 6-13 6-14 6-15 6-16 6-16 6-15 6-15 6-14 6-13 6-12 6-11 6-10 6-8 6-7 6-6 6-5 6-4 6-2 6-1 6 0 6 2 6 2 6 4 6 5 6 6 6 7 6 8 6 8 6 9 6 8 6 9 6 7 6 8 6 6 6 6 6 4 6 4 6 3 6 1 6 1 6 0 6-1 6-1 6-2 6-2 6-3 0 3z"/></g><g transform="translate(53.2 173.7)scale(.1)"><path d="M90 -55l0-2 6-5 6-5 6-5 6-6 6-6 6-7 6-7 6-7 6-7 6-8 6-8 6-9 6-9 6-10 6-10 6-12 6-13 6-14 6-14 6-15 6-14 6-15 6-14 6-14 6-13 6-12 6-10 6-10 6-8 6-8 6-6 6-4 6-4 6-2 6-1 6 0 6 1 6 3 6 4 6 4 6 6 6 7 6 7 6 7 6 8 6 7 6 7 6 7 6 6 6 6 6 4 6 4 6 3 6 2 6 1 6 0 6-1 6-1 6-1 6-2 6-3 6-3 0 3z"/></g><g transform="translate(53.6 174)scale(.1)"><path d="M96 -59l0-2 6-5 6-5 6-5 6-6 6-6 6-6 6-7 6-6 6-8 6-7 6-8 6-9 6-9 6-10 6-12 6-12 6-13 6-13 6-14 6-14 6-14 6-13 6-13 6-12 6-12 6-10 6-10 6-8 6-7 6-6 6-5 6-3 6-3 6-1 6 0 6 2 6 2 6 3 6 5 6 5 6 6 6 6 6 6 6 7 6 7 6 6 6 5 6 6 6 4 6 4 6 3 6 1 6 2 6 0 6 0 6-1 6-1 6-2 6-3 6-2 0 2z"/></g><g transform="translate(53.9 174.4)scale(.1)"><path d="M102 -63l0-2 6-5 6-5 6-5 6-5 6-6 6-6 6-6 6-7 6-7 6-8 6-8 6-9 6-10 6-10 6-12 6-11 6-13 6-13 6-13 6-13 6-12 6-13 6-11 6-11 6-10 6-10 6-8 6-7 6-6 6-4 6-4 6-2 6-1 6 0 6 1 6 2 6 3 6 4 6 4 6 5 6 6 6 5 6 6 6 5 6 5 6 5 6 4 6 4 6 3 6 2 6 1 6 0 6 0 6 0 6-2 6-1 6-3 6-2 6-3 0 2z"/></g><g transform="translate(54.3 174.8)scale(.1)"><path d="M108 -66l0-3 6-5 6-4 6-6 6-5 6-5 6-6 6-7 6-6 6-7 6-8 6-9 6-9 6-9 6-11 6-11 6-12 6-12 6-12 6-12 6-11 6-12 6-11 6-10 6-10 6-9 6-8 6-6 6-6 6-5 6-3 6-3 6-1 6 0 6 0 6 2 6 3 6 3 6 4 6 4 6 4 6 5 6 5 6 4 6 4 6 4 6 3 6 3 6 2 6 1 6 1 6 0 6-1 6-1 6-2 6-2 6-2 6-3 0 3z"/></g><g transform="translate(54.6 175.1)scale(.1)"><path d="M114 -70l0-3 6-4 6-5 6-5 6-5 6-6 6-6 6-6 6-7 6-7 6-8 6-8 6-10 6-9 6-10 6-11 6-11 6-11 6-11 6-11 6-11 6-10 6-10 6-9 6-8 6-8 6-6 6-6 6-5 6-3 6-3 6-1 6-1 6 1 6 1 6 2 6 2 6 3 6 4 6 4 6 3 6 4 6 4 6 3 6 3 6 2 6 2 6 1 6 0 6 0 6 0 6-1 6-2 6-2 6-2 6-2 6-3 0 2z"/></g><g transform="translate(54.9 175.5)scale(.1)"><path d="M114 -70l0-2 6-5 6-4 6-5 6-5 6-5 6-6 6-6 6-6 6-7 6-7 6-8 6-8 6-9 6-9 6-10 6-10 6-10 6-11 6-10 6-10 6-9 6-10 6-8 6-8 6-7 6-6 6-6 6-4 6-4 6-2 6-2 6-1 6 0 6 1 6 1 6 2 6 2 6 3 6 3 6 3 6 3 6 2 6 3 6 1 6 2 6 1 6 0 6 0 6 0 6-1 6-2 6-1 6-3 6-2 6-3 0 3z"/></g><g transform="translate(55.3 175.9)scale(.1)"><path d="M120 -74l0-2 6-4 6-5 6-5 6-5 6-5 6-5 6-6 6-7 6-6 6-8 6-8 6-8 6-8 6-9 6-9 6-10 6-9 6-9 6-10 6-9 6-8 6-8 6-8 6-6 6-6 6-6 6-4 6-3 6-3 6-2 6-1 6-1 6 1 6 0 6 2 6 1 6 2 6 2 6 2 6 2 6 2 6 1 6 2 6 0 6 1 6 0 6-1 6-1 6-1 6-2 6-2 6-3 6-2 6-3 0 2z"/></g><g transform="translate(55.6 176.2)scale(.1)"><path d="M126 -77l0-3 6-4 6-5 6-4 6-5 6-6 6-5 6-6 6-7 6-6 6-7 6-8 6-8 6-8 6-8 6-9 6-8 6-9 6-9 6-8 6-8 6-7 6-7 6-7 6-5 6-5 6-5 6-3 6-3 6-2 6-2 6 0 6-1 6 1 6 0 6 1 6 1 6 2 6 1 6 1 6 1 6 1 6 0 6 0 6 0 6-1 6-1 6-1 6-2 6-2 6-2 6-3 6-3 0 3z"/></g><g transform="translate(56 176.6)scale(.1)"><path d="M132 -81l0-2 6-5 6-4 6-5 6-5 6-5 6-6 6-6 6-6 6-7 6-7 6-7 6-7 6-8 6-8 6-8 6-8 6-8 6-7 6-7 6-7 6-7 6-6 6-6 6-4 6-5 6-3 6-3 6-2 6-2 6-1 6-1 6 0 6 0 6 0 6 1 6 0 6 1 6 0 6 0 6 0 6 0 6 0 6-1 6-1 6-2 6-2 6-2 6-2 6-3 6-3 0 3z"/></g><g transform="translate(56.3 177)scale(.1)"><path d="M138 -85l0-2 6-5 6-4 6-5 6-5 6-5 6-6 6-6 6-6 6-6 6-7 6-7 6-7 6-7 6-7 6-7 6-8 6-7 6-6 6-7 6-6 6-6 6-5 6-5 6-4 6-3 6-3 6-3 6-2 6-2 6-1 6 0 6-1 6 0 6 0 6 0 6 0 6-1 6 0 6-1 6 0 6-1 6-2 6-1 6-2 6-2 6-3 6-2 6-3 6-3 0 2z"/></g><g transform="translate(56.6 177.4)scale(.1)"><path d="M144 -88l0-3 6-4 6-5 6-5 6-5 6-5 6-5 6-6 6-6 6-6 6-6 6-7 6-7 6-6 6-7 6-7 6-6 6-6 6-6 6-6 6-6 6-5 6-4 6-4 6-4 6-3 6-3 6-2 6-2 6-1 6-2 6 0 6-1 6-1 6-1 6 0 6-1 6-1 6-1 6-1 6-2 6-2 6-2 6-2 6-2 6-3 6-3 6-3 0 3z"/></g><g transform="translate(57 177.7)scale(.1)"><path d="M150 -92l0-3 6-4 6-5 6-4 6-5 6-5 6-6 6-5 6-6 6-6 6-6 6-6 6-6 6-6 6-7 6-6 6-5 6-6 6-6 6-5 6-5 6-4 6-4 6-4 6-3 6-3 6-2 6-2 6-2 6-2 6-1 6-1 6-2 6-1 6-1 6-1 6-2 6-1 6-2 6-2 6-2 6-2 6-3 6-2 6-3 6-3 0 3z"/></g><g transform="translate(57.3 178.1)scale(.1)"><path d="M156 -96l0-2 6-5 6-4 6-5 6-5 6-5 6-5 6-5 6-6 6-5 6-6 6-6 6-6 6-5 6-6 6-6 6-5 6-5 6-5 6-4 6-5 6-4 6-3 6-4 6-3 6-2 6-3 6-2 6-2 6-2 6-1 6-2 6-2 6-1 6-2 6-2 6-2 6-2 6-2 6-2 6-3 6-3 6-2 6-3 0 2z"/></g><g transform="translate(57.7 178.5)scale(.1)"><path d="M162 -99l0-3 6-4 6-5 6-5 6-4 6-5 6-5 6-5 6-6 6-5 6-5 6-6 6-5 6-5 6-5 6-5 6-5 6-5 6-4 6-5 6-4 6-3 6-4 6-3 6-3 6-2 6-3 6-2 6-2 6-2 6-2 6-2 6-2 6-2 6-2 6-3 6-2 6-2 6-3 6-3 6-3 6-3 0 3z"/></g><g transform="translate(58 178.8)scale(.1)"><path d="M168 -103l0-3 6-4 6-4 6-5 6-5 6-4 6-5 6-5 6-5 6-5 6-5 6-5 6-5 6-5 6-5 6-5 6-4 6-4 6-5 6-3 6-4 6-3 6-4 6-3 6-2 6-3 6-3 6-2 6-2 6-3 6-2 6-2 6-3 6-2 6-3 6-2 6-3 6-3 6-3 6-3 0 3z"/></g><g transform="translate(58.3 179.2)scale(.1)"><path d="M174 -107l0-2 6-5 6-4 6-4 6-5 6-5 6-4 6-5 6-5 6-4 6-5 6-5 6-5 6-4 6-5 6-4 6-4 6-4 6-4 6-4 6-3 6-3 6-4 6-3 6-2 6-3 6-3 6-2 6-3 6-3 6-2 6-3 6-3 6-2 6-3 6-3 6-3 6-3 0 2z"/></g><g transform="translate(58.7 179.6)scale(.1)"><path d="M180 -110l0-3 6-4 6-4 6-5 6-4 6-5 6-4 6-5 6-4 6-5 6-4 6-5 6-4 6-4 6-5 6-4 6-4 6-3 6-4 6-4 6-3 6-3 6-3 6-3 6-3 6-3 6-3 6-3 6-3 6-2 6-3 6-3 6-3 6-3 6-3 6-3 0 2z"/></g><g transform="translate(59 180)scale(.1)"><path d="M192 -118l0-3 6-4 6-4 6-4 6-5 6-4 6-4 6-5 6-4 6-4 6-5 6-4 6-4 6-4 6-4 6-4 6-3 6-4 6-3 6-4 6-3 6-3 6-3 6-3 6-3 6-3 6-3 6-3 6-3 6-3 6-3 6-3 0 2z"/></g><g transform="translate(59.4 180.3)scale(.1)"><path d="M198 -121l0-3 6-4 6-4 6-4 6-5 6-4 6-4 6-4 6-4 6-5 6-4 6-4 6-4 6-3 6-4 6-4 6-3 6-4 6-3 6-4 6-3 6-3 6-3 6-3 6-4 6-3 6-3 6-3 6-3 6-4 0 3z"/></g><g transform="translate(59.7 180.7)scale(.1)"><path d="M210 -129l0-2 6-5 6-4 6-4 6-4 6-4 6-4 6-4 6-4 6-4 6-4 6-4 6-3 6-4 6-4 6-3 6-4 6-3 6-3 6-4 6-3 6-3 6-3 6-4 6-3 6-3 0 2z"/></g><g transform="translate(60 181.1)scale(.1)"><path d="M222 -136l0-3 6-4 6-4 6-4 6-4 6-4 6-4 6-3 6-4 6-4 6-4 6-3 6-4 6-4 6-3 6-4 6-3 6-3 6-4 6-3 6-4 0 3z"/></g><g transform="translate(60.4 181.4)scale(.1)"><path d="M240 -147l0-3 6-4 6-4 6-3 6-4 6-4 6-4 6-4 6-3 6-4 6-3 6-4 6-4 6-3 6-4 0 3z"/></g></g><path d="M24.6 142.5L23.1 143.4M24.6 123.1L23.1 124M24.6 103.7L23.1 104.6M24.6 84.2L23.1 85.2M24.6 64.8L23.1 65.8M24.6 45.4L23.1 46.3M65.5 187L64 187.9M65.5 187L66.7 188.3M45 164.8L43.5 165.7M92.5 170.4L93.7 171.8M24.6 142.5L23.1 143.4M119.5 153.9L120.7 155.2" stroke="#777" stroke-width=".6" fill="none"/><g style="font-family:'Liberation Sans',Arial,sans-serif" font-size="7" fill="#404040"><text x="22.6" y="143.8" text-anchor="end">0</text><text x="22.6" y="124.4" text-anchor="end">0.2</text><text x="22.6" y="105" text-anchor="end">0.4</text><text x="22.6" y="85.5" text-anchor="end">0.6</text><text x="22.6" y="66.1" text-anchor="end">0.8</text><text x="22.6" y="46.7" text-anchor="end">1</text><text x="22.1" y="152" text-anchor="end">8</text><text x="42.5" y="174.2" text-anchor="end">0</text><text x="63" y="196.5" text-anchor="end">-8</text><text x="68" y="196.3">-8</text><text x="95" y="179.8">0</text><text x="122" y="163.2">8</text></g><g clip-path="url(#ca)"><g filter="url(#ja)" shape-rendering="crispEdges"><rect x="146" y="48" width="104" height="104" fill="#000"/><path fill="#010101" d="M194 62h2v2h-2zM196 62h2v2h-2zM198 62h2v2h-2zM200 62h2v2h-2zM202 62h2v2h-2zM180 64h2v2h-2zM182 64h2v2h-2zM184 64h2v2h-2zM186 64h2v2h-2zM188 64h2v2h-2zM190 64h2v2h-2zM192 64h2v2h-2zM194 64h2v2h-2zM196 64h2v2h-2zM198 64h2v2h-2zM200 64h2v2h-2zM202 64h2v2h-2zM204 64h2v2h-2zM206 64h2v2h-2zM208 64h2v2h-2zM210 64h2v2h-2zM212 64h2v2h-2zM176 66h2v2h-2zM178 66h2v2h-2zM180 66h2v2h-2zM182 66h2v2h-2zM208 66h2v2h-2zM210 66h2v2h-2zM212 66h2v2h-2zM214 66h2v2h-2zM216 66h2v2h-2zM172 68h2v2h-2zM174 68h2v2h-2zM176 68h2v2h-2zM214 68h2v2h-2zM216 68h2v2h-2zM218 68h2v2h-2zM220 68h2v2h-2zM170 70h2v2h-2zM172 70h2v2h-2zM218 70h2v2h-2zM220 70h2v2h-2zM222 70h2v2h-2zM168 72h2v2h-2zM222 72h2v2h-2zM224 72h2v2h-2zM166 74h2v2h-2zM224 74h2v2h-2zM226 74h2v2h-2zM164 76h2v2h-2zM226 76h2v2h-2zM228 76h2v2h-2zM162 78h2v2h-2zM164 78h2v2h-2zM228 78h2v2h-2zM230 78h2v2h-2zM162 80h2v2h-2zM228 80h2v2h-2zM230 80h2v2h-2zM160 82h2v2h-2zM230 82h2v2h-2zM232 82h2v2h-2zM160 84h2v2h-2zM232 84h2v2h-2zM158 86h2v2h-2zM160 86h2v2h-2zM232 86h2v2h-2zM234 86h2v2h-2zM158 88h2v2h-2zM232 88h2v2h-2zM234 88h2v2h-2zM158 90h2v2h-2zM234 90h2v2h-2zM158 92h2v2h-2zM234 92h2v2h-2zM236 92h2v2h-2zM156 94h2v2h-2zM158 94h2v2h-2zM234 94h2v2h-2zM236 94h2v2h-2zM156 96h2v2h-2zM158 96h2v2h-2zM234 96h2v2h-2zM236 96h2v2h-2zM156 98h2v2h-2zM234 98h2v2h-2zM236 98h2v2h-2zM156 100h2v2h-2zM200 100h2v2h-2zM234 100h2v2h-2zM236 100h2v2h-2zM156 102h2v2h-2zM158 102h2v2h-2zM234 102h2v2h-2zM236 102h2v2h-2zM156 104h2v2h-2zM158 104h2v2h-2zM234 104h2v2h-2zM236 104h2v2h-2zM158 106h2v2h-2zM234 106h2v2h-2zM236 106h2v2h-2zM158 108h2v2h-2zM234 108h2v2h-2zM236 108h2v2h-2zM158 110h2v2h-2zM234 110h2v2h-2zM158 112h2v2h-2zM160 112h2v2h-2zM232 112h2v2h-2zM234 112h2v2h-2zM160 114h2v2h-2zM232 114h2v2h-2zM234 114h2v2h-2zM160 116h2v2h-2zM162 116h2v2h-2zM230 116h2v2h-2zM232 116h2v2h-2zM162 118h2v2h-2zM230 118h2v2h-2zM232 118h2v2h-2zM164 120h2v2h-2zM228 120h2v2h-2zM230 120h2v2h-2zM164 122h2v2h-2zM166 122h2v2h-2zM226 122h2v2h-2zM228 122h2v2h-2zM166 124h2v2h-2zM168 124h2v2h-2zM224 124h2v2h-2zM226 124h2v2h-2zM170 126h2v2h-2zM172 126h2v2h-2zM222 126h2v2h-2zM224 126h2v2h-2zM226 126h2v2h-2zM172 128h2v2h-2zM174 128h2v2h-2zM176 128h2v2h-2zM220 128h2v2h-2zM222 128h2v2h-2zM176 130h2v2h-2zM178 130h2v2h-2zM180 130h2v2h-2zM182 130h2v2h-2zM216 130h2v2h-2zM218 130h2v2h-2zM220 130h2v2h-2zM180 132h2v2h-2zM182 132h2v2h-2zM184 132h2v2h-2zM186 132h2v2h-2zM188 132h2v2h-2zM212 132h2v2h-2zM214 132h2v2h-2zM216 132h2v2h-2zM218 132h2v2h-2zM184 134h2v2h-2zM186 134h2v2h-2zM188 134h2v2h-2zM190 134h2v2h-2zM192 134h2v2h-2zM194 134h2v2h-2zM196 134h2v2h-2zM198 134h2v2h-2zM200 134h2v2h-2zM202 134h2v2h-2zM204 134h2v2h-2zM206 134h2v2h-2zM208 134h2v2h-2zM210 134h2v2h-2zM212 134h2v2h-2zM214 134h2v2h-2zM192 136h2v2h-2zM194 136h2v2h-2zM196 136h2v2h-2zM198 136h2v2h-2zM200 136h2v2h-2zM202 136h2v2h-2zM204 136h2v2h-2zM206 136h2v2h-2zM208 136h2v2h-2z"/><path fill="#020202" d="M184 66h2v2h-2zM186 66h2v2h-2zM188 66h2v2h-2zM190 66h2v2h-2zM192 66h2v2h-2zM194 66h2v2h-2zM196 66h2v2h-2zM198 66h2v2h-2zM200 66h2v2h-2zM202 66h2v2h-2zM204 66h2v2h-2zM206 66h2v2h-2zM178 68h2v2h-2zM180 68h2v2h-2zM210 68h2v2h-2zM212 68h2v2h-2zM174 70h2v2h-2zM214 70h2v2h-2zM216 70h2v2h-2zM170 72h2v2h-2zM218 72h2v2h-2zM220 72h2v2h-2zM168 74h2v2h-2zM220 74h2v2h-2zM222 74h2v2h-2zM166 76h2v2h-2zM224 76h2v2h-2zM226 78h2v2h-2zM164 80h2v2h-2zM226 80h2v2h-2zM162 82h2v2h-2zM228 82h2v2h-2zM162 84h2v2h-2zM230 84h2v2h-2zM230 86h2v2h-2zM160 88h2v2h-2zM160 90h2v2h-2zM232 90h2v2h-2zM232 92h2v2h-2zM232 94h2v2h-2zM232 96h2v2h-2zM158 98h2v2h-2zM158 100h2v2h-2zM232 104h2v2h-2zM232 106h2v2h-2zM160 108h2v2h-2zM232 108h2v2h-2zM160 110h2v2h-2zM232 110h2v2h-2zM230 112h2v2h-2zM162 114h2v2h-2zM230 114h2v2h-2zM228 116h2v2h-2zM164 118h2v2h-2zM228 118h2v2h-2zM166 120h2v2h-2zM226 120h2v2h-2zM168 122h2v2h-2zM224 122h2v2h-2zM170 124h2v2h-2zM172 124h2v2h-2zM222 124h2v2h-2zM174 126h2v2h-2zM176 126h2v2h-2zM220 126h2v2h-2zM178 128h2v2h-2zM180 128h2v2h-2zM182 128h2v2h-2zM216 128h2v2h-2zM218 128h2v2h-2zM184 130h2v2h-2zM186 130h2v2h-2zM212 130h2v2h-2zM214 130h2v2h-2zM190 132h2v2h-2zM192 132h2v2h-2zM194 132h2v2h-2zM204 132h2v2h-2zM206 132h2v2h-2zM208 132h2v2h-2zM210 132h2v2h-2z"/><path fill="#030303" d="M182 68h2v2h-2zM184 68h2v2h-2zM186 68h2v2h-2zM188 68h2v2h-2zM190 68h2v2h-2zM192 68h2v2h-2zM204 68h2v2h-2zM206 68h2v2h-2zM208 68h2v2h-2zM176 70h2v2h-2zM212 70h2v2h-2zM172 72h2v2h-2zM216 72h2v2h-2zM170 74h2v2h-2zM168 76h2v2h-2zM222 76h2v2h-2zM166 78h2v2h-2zM224 78h2v2h-2zM164 82h2v2h-2zM226 82h2v2h-2zM228 84h2v2h-2zM162 86h2v2h-2zM228 86h2v2h-2zM230 88h2v2h-2zM230 90h2v2h-2zM160 92h2v2h-2zM160 94h2v2h-2zM160 96h2v2h-2zM200 98h2v2h-2zM232 98h2v2h-2zM198 100h2v2h-2zM232 100h2v2h-2zM160 102h2v2h-2zM232 102h2v2h-2zM160 104h2v2h-2zM160 106h2v2h-2zM230 108h2v2h-2zM230 110h2v2h-2zM162 112h2v2h-2zM228 114h2v2h-2zM164 116h2v2h-2zM166 118h2v2h-2zM226 118h2v2h-2zM168 120h2v2h-2zM224 120h2v2h-2zM170 122h2v2h-2zM222 122h2v2h-2zM174 124h2v2h-2zM220 124h2v2h-2zM178 126h2v2h-2zM218 126h2v2h-2zM184 128h2v2h-2zM214 128h2v2h-2zM188 130h2v2h-2zM190 130h2v2h-2zM208 130h2v2h-2zM210 130h2v2h-2zM196 132h2v2h-2zM198 132h2v2h-2zM200 132h2v2h-2zM202 132h2v2h-2z"/><path fill="#040404" d="M194 68h2v2h-2zM196 68h2v2h-2zM198 68h2v2h-2zM200 68h2v2h-2zM202 68h2v2h-2zM178 70h2v2h-2zM208 70h2v2h-2zM210 70h2v2h-2zM174 72h2v2h-2zM214 72h2v2h-2zM218 74h2v2h-2zM220 76h2v2h-2zM222 78h2v2h-2zM166 80h2v2h-2zM224 80h2v2h-2zM226 84h2v2h-2zM162 88h2v2h-2zM228 88h2v2h-2zM230 92h2v2h-2zM230 94h2v2h-2zM230 96h2v2h-2zM160 98h2v2h-2zM160 100h2v2h-2zM230 102h2v2h-2zM230 104h2v2h-2zM230 106h2v2h-2zM162 110h2v2h-2zM228 112h2v2h-2zM164 114h2v2h-2zM226 116h2v2h-2zM224 118h2v2h-2zM172 122h2v2h-2zM176 124h2v2h-2zM218 124h2v2h-2zM180 126h2v2h-2zM182 126h2v2h-2zM216 126h2v2h-2zM186 128h2v2h-2zM212 128h2v2h-2zM192 130h2v2h-2zM194 130h2v2h-2zM196 130h2v2h-2zM202 130h2v2h-2zM204 130h2v2h-2zM206 130h2v2h-2z"/><path fill="#050505" d="M180 70h2v2h-2zM182 70h2v2h-2zM206 70h2v2h-2zM212 72h2v2h-2zM172 74h2v2h-2zM216 74h2v2h-2zM170 76h2v2h-2zM218 76h2v2h-2zM168 78h2v2h-2zM224 82h2v2h-2zM164 84h2v2h-2zM162 90h2v2h-2zM228 90h2v2h-2zM198 98h2v2h-2zM230 98h2v2h-2zM230 100h2v2h-2zM162 108h2v2h-2zM228 110h2v2h-2zM226 114h2v2h-2zM166 116h2v2h-2zM168 118h2v2h-2zM170 120h2v2h-2zM222 120h2v2h-2zM220 122h2v2h-2zM178 124h2v2h-2zM184 126h2v2h-2zM214 126h2v2h-2zM188 128h2v2h-2zM190 128h2v2h-2zM210 128h2v2h-2zM198 130h2v2h-2zM200 130h2v2h-2z"/><path fill="#060606" d="M184 70h2v2h-2zM186 70h2v2h-2zM188 70h2v2h-2zM190 70h2v2h-2zM192 70h2v2h-2zM194 70h2v2h-2zM196 70h2v2h-2zM198 70h2v2h-2zM200 70h2v2h-2zM202 70h2v2h-2zM204 70h2v2h-2zM176 72h2v2h-2zM210 72h2v2h-2zM214 74h2v2h-2zM220 78h2v2h-2zM222 80h2v2h-2zM226 86h2v2h-2zM162 92h2v2h-2zM228 92h2v2h-2zM202 100h2v2h-2zM200 102h2v2h-2zM162 106h2v2h-2zM228 106h2v2h-2zM228 108h2v2h-2zM164 112h2v2h-2zM226 112h2v2h-2zM224 116h2v2h-2zM222 118h2v2h-2zM174 122h2v2h-2zM218 122h2v2h-2zM180 124h2v2h-2zM216 124h2v2h-2zM186 126h2v2h-2zM212 126h2v2h-2zM192 128h2v2h-2zM206 128h2v2h-2zM208 128h2v2h-2z"/><path fill="#070707" d="M178 72h2v2h-2zM208 72h2v2h-2zM174 74h2v2h-2zM216 76h2v2h-2zM166 82h2v2h-2zM224 84h2v2h-2zM164 86h2v2h-2zM226 88h2v2h-2zM162 94h2v2h-2zM228 94h2v2h-2zM228 96h2v2h-2zM202 98h2v2h-2zM228 98h2v2h-2zM198 102h2v2h-2zM228 102h2v2h-2zM162 104h2v2h-2zM228 104h2v2h-2zM166 114h2v2h-2zM172 120h2v2h-2zM220 120h2v2h-2zM182 124h2v2h-2zM188 126h2v2h-2zM194 128h2v2h-2zM196 128h2v2h-2zM202 128h2v2h-2zM204 128h2v2h-2z"/><path fill="#080808" d="M206 72h2v2h-2zM212 74h2v2h-2zM218 78h2v2h-2zM168 80h2v2h-2zM220 80h2v2h-2zM222 82h2v2h-2zM164 88h2v2h-2zM226 90h2v2h-2zM162 96h2v2h-2zM162 98h2v2h-2zM162 100h2v2h-2zM228 100h2v2h-2zM162 102h2v2h-2zM164 110h2v2h-2zM226 110h2v2h-2zM224 114h2v2h-2zM168 116h2v2h-2zM170 118h2v2h-2zM176 122h2v2h-2zM184 124h2v2h-2zM214 124h2v2h-2zM210 126h2v2h-2zM198 128h2v2h-2zM200 128h2v2h-2z"/><path fill="#090909" d="M180 72h2v2h-2zM204 72h2v2h-2zM172 76h2v2h-2zM170 78h2v2h-2zM166 84h2v2h-2zM224 86h2v2h-2zM200 96h2v2h-2zM226 108h2v2h-2zM222 116h2v2h-2zM220 118h2v2h-2zM218 120h2v2h-2zM178 122h2v2h-2zM216 122h2v2h-2zM190 126h2v2h-2zM208 126h2v2h-2z"/><path fill="#0a0a0a" d="M182 72h2v2h-2zM190 72h2v2h-2zM192 72h2v2h-2zM194 72h2v2h-2zM196 72h2v2h-2zM198 72h2v2h-2zM200 72h2v2h-2zM202 72h2v2h-2zM176 74h2v2h-2zM210 74h2v2h-2zM214 76h2v2h-2zM222 84h2v2h-2zM164 90h2v2h-2zM226 92h2v2h-2zM202 102h2v2h-2zM226 106h2v2h-2zM164 108h2v2h-2zM224 112h2v2h-2zM174 120h2v2h-2zM186 124h2v2h-2zM212 124h2v2h-2zM192 126h2v2h-2zM206 126h2v2h-2z"/><path fill="#0b0b0b" d="M184 72h2v2h-2zM186 72h2v2h-2zM188 72h2v2h-2zM208 74h2v2h-2zM216 78h2v2h-2zM218 80h2v2h-2zM220 82h2v2h-2zM224 88h2v2h-2zM226 94h2v2h-2zM198 96h2v2h-2zM226 96h2v2h-2zM226 104h2v2h-2zM224 110h2v2h-2zM166 112h2v2h-2zM222 114h2v2h-2zM180 122h2v2h-2zM214 122h2v2h-2zM188 124h2v2h-2zM194 126h2v2h-2zM204 126h2v2h-2z"/><path fill="#0c0c0c" d="M212 76h2v2h-2zM168 82h2v2h-2zM164 92h2v2h-2zM226 98h2v2h-2zM226 100h2v2h-2zM226 102h2v2h-2zM164 106h2v2h-2zM220 116h2v2h-2zM216 120h2v2h-2zM182 122h2v2h-2zM210 124h2v2h-2zM196 126h2v2h-2zM198 126h2v2h-2zM200 126h2v2h-2zM202 126h2v2h-2z"/><path fill="#0d0d0d" d="M178 74h2v2h-2zM206 74h2v2h-2zM174 76h2v2h-2zM166 86h2v2h-2zM222 86h2v2h-2zM224 90h2v2h-2zM224 108h2v2h-2zM168 114h2v2h-2zM172 118h2v2h-2zM218 118h2v2h-2zM176 120h2v2h-2zM184 122h2v2h-2zM190 124h2v2h-2zM208 124h2v2h-2z"/><path fill="#0e0e0e" d="M204 74h2v2h-2zM210 76h2v2h-2zM172 78h2v2h-2zM214 78h2v2h-2zM170 80h2v2h-2zM220 84h2v2h-2zM224 92h2v2h-2zM164 94h2v2h-2zM202 96h2v2h-2zM164 104h2v2h-2zM166 110h2v2h-2zM222 112h2v2h-2zM170 116h2v2h-2zM212 122h2v2h-2z"/><path fill="#0f0f0f" d="M194 74h2v2h-2zM196 74h2v2h-2zM198 74h2v2h-2zM200 74h2v2h-2zM202 74h2v2h-2zM216 80h2v2h-2zM218 82h2v2h-2zM222 88h2v2h-2zM164 96h2v2h-2zM164 102h2v2h-2zM200 104h2v2h-2zM224 106h2v2h-2zM186 122h2v2h-2zM192 124h2v2h-2zM206 124h2v2h-2z"/><path fill="#101010" d="M180 74h2v2h-2zM190 74h2v2h-2zM192 74h2v2h-2zM166 88h2v2h-2zM224 94h2v2h-2zM164 98h2v2h-2zM164 100h2v2h-2zM204 100h2v2h-2zM198 104h2v2h-2zM224 104h2v2h-2zM220 114h2v2h-2zM178 120h2v2h-2zM214 120h2v2h-2zM194 124h2v2h-2z"/><path fill="#111111" d="M188 74h2v2h-2zM208 76h2v2h-2zM212 78h2v2h-2zM168 84h2v2h-2zM224 96h2v2h-2zM204 98h2v2h-2zM196 102h2v2h-2zM224 102h2v2h-2zM222 110h2v2h-2zM218 116h2v2h-2zM174 118h2v2h-2zM216 118h2v2h-2zM188 122h2v2h-2zM210 122h2v2h-2zM196 124h2v2h-2zM204 124h2v2h-2z"/><path fill="#121212" d="M182 74h2v2h-2zM186 74h2v2h-2zM176 76h2v2h-2zM220 86h2v2h-2zM222 90h2v2h-2zM224 98h2v2h-2zM196 100h2v2h-2zM224 100h2v2h-2zM166 108h2v2h-2zM168 112h2v2h-2zM180 120h2v2h-2zM198 124h2v2h-2zM200 124h2v2h-2zM202 124h2v2h-2z"/><path fill="#131313" d="M184 74h2v2h-2zM206 76h2v2h-2zM214 80h2v2h-2zM218 84h2v2h-2zM204 102h2v2h-2zM202 104h2v2h-2zM222 108h2v2h-2zM220 112h2v2h-2zM182 120h2v2h-2zM212 120h2v2h-2zM190 122h2v2h-2zM208 122h2v2h-2z"/><path fill="#141414" d="M204 76h2v2h-2zM210 78h2v2h-2zM170 82h2v2h-2zM216 82h2v2h-2zM166 90h2v2h-2zM200 94h2v2h-2zM170 114h2v2h-2zM172 116h2v2h-2zM184 120h2v2h-2z"/><path fill="#151515" d="M202 76h2v2h-2zM174 78h2v2h-2zM220 88h2v2h-2zM222 92h2v2h-2zM218 114h2v2h-2zM214 118h2v2h-2zM192 122h2v2h-2z"/><path fill="#161616" d="M194 76h2v2h-2zM196 76h2v2h-2zM198 76h2v2h-2zM200 76h2v2h-2zM172 80h2v2h-2zM198 94h2v2h-2zM204 96h2v2h-2zM196 98h2v2h-2zM166 106h2v2h-2zM222 106h2v2h-2zM216 116h2v2h-2zM176 118h2v2h-2zM186 120h2v2h-2zM206 122h2v2h-2z"/><path fill="#171717" d="M178 76h2v2h-2zM192 76h2v2h-2zM208 78h2v2h-2zM212 80h2v2h-2zM168 86h2v2h-2zM166 92h2v2h-2zM222 94h2v2h-2zM196 104h2v2h-2zM222 104h2v2h-2zM220 110h2v2h-2zM210 120h2v2h-2zM194 122h2v2h-2zM204 122h2v2h-2z"/><path fill="#181818" d="M218 86h2v2h-2zM202 94h2v2h-2zM222 96h2v2h-2zM188 120h2v2h-2zM196 122h2v2h-2z"/><path fill="#191919" d="M190 76h2v2h-2zM214 82h2v2h-2zM216 84h2v2h-2zM220 90h2v2h-2zM222 98h2v2h-2zM222 100h2v2h-2zM222 102h2v2h-2zM166 104h2v2h-2zM168 110h2v2h-2zM198 122h2v2h-2zM200 122h2v2h-2zM202 122h2v2h-2z"/><path fill="#1a1a1a" d="M206 78h2v2h-2zM166 94h2v2h-2zM220 108h2v2h-2zM218 112h2v2h-2zM178 118h2v2h-2zM212 118h2v2h-2zM190 120h2v2h-2zM208 120h2v2h-2z"/><path fill="#1b1b1b" d="M180 76h2v2h-2zM210 80h2v2h-2zM196 96h2v2h-2zM204 104h2v2h-2zM200 106h2v2h-2zM216 114h2v2h-2zM174 116h2v2h-2zM214 116h2v2h-2z"/><path fill="#1c1c1c" d="M188 76h2v2h-2zM204 78h2v2h-2zM218 88h2v2h-2zM220 92h2v2h-2zM166 96h2v2h-2zM206 100h2v2h-2zM166 102h2v2h-2zM198 106h2v2h-2zM180 118h2v2h-2z"/><path fill="#1d1d1d" d="M176 78h2v2h-2zM202 78h2v2h-2zM170 84h2v2h-2zM168 88h2v2h-2zM166 98h2v2h-2zM206 98h2v2h-2zM166 100h2v2h-2zM220 106h2v2h-2zM170 112h2v2h-2zM192 120h2v2h-2zM206 120h2v2h-2z"/><path fill="#1e1e1e" d="M182 76h2v2h-2zM186 76h2v2h-2zM196 78h2v2h-2zM198 78h2v2h-2zM200 78h2v2h-2zM212 82h2v2h-2zM216 86h2v2h-2zM220 94h2v2h-2zM202 106h2v2h-2zM218 110h2v2h-2zM172 114h2v2h-2zM182 118h2v2h-2zM184 118h2v2h-2zM210 118h2v2h-2z"/><path fill="#1f1f1f" d="M184 76h2v2h-2zM194 78h2v2h-2zM208 80h2v2h-2zM214 84h2v2h-2zM204 94h2v2h-2zM206 102h2v2h-2zM220 104h2v2h-2zM168 108h2v2h-2zM186 118h2v2h-2zM194 120h2v2h-2zM204 120h2v2h-2z"/><path fill="#202020" d="M174 80h2v2h-2zM172 82h2v2h-2zM218 90h2v2h-2zM220 96h2v2h-2zM196 106h2v2h-2zM216 112h2v2h-2zM212 116h2v2h-2zM188 118h2v2h-2z"/><path fill="#212121" d="M192 78h2v2h-2zM200 92h2v2h-2zM196 94h2v2h-2zM206 96h2v2h-2zM220 98h2v2h-2zM220 100h2v2h-2zM220 102h2v2h-2zM214 114h2v2h-2zM196 120h2v2h-2zM198 120h2v2h-2zM202 120h2v2h-2z"/><path fill="#222222" d="M206 80h2v2h-2zM210 82h2v2h-2zM198 92h2v2h-2zM218 108h2v2h-2zM176 116h2v2h-2zM190 118h2v2h-2zM208 118h2v2h-2zM200 120h2v2h-2z"/><path fill="#232323" d="M216 88h2v2h-2zM168 90h2v2h-2zM202 92h2v2h-2z"/><path fill="#242424" d="M204 80h2v2h-2zM212 84h2v2h-2zM218 92h2v2h-2zM206 104h2v2h-2zM204 106h2v2h-2z"/><path fill="#252525" d="M178 78h2v2h-2zM190 78h2v2h-2zM214 86h2v2h-2zM218 106h2v2h-2zM216 110h2v2h-2zM210 116h2v2h-2zM192 118h2v2h-2zM206 118h2v2h-2z"/><path fill="#262626" d="M200 80h2v2h-2zM202 80h2v2h-2zM208 82h2v2h-2zM170 86h2v2h-2zM168 106h2v2h-2z"/><path fill="#272727" d="M196 80h2v2h-2zM198 80h2v2h-2zM206 94h2v2h-2zM218 94h2v2h-2zM194 104h2v2h-2zM218 104h2v2h-2zM200 108h2v2h-2zM170 110h2v2h-2zM214 112h2v2h-2zM212 114h2v2h-2zM194 118h2v2h-2z"/><path fill="#282828" d="M194 80h2v2h-2zM216 90h2v2h-2zM168 92h2v2h-2zM204 92h2v2h-2zM218 96h2v2h-2zM208 98h2v2h-2zM208 100h2v2h-2zM198 108h2v2h-2zM178 116h2v2h-2zM204 118h2v2h-2z"/><path fill="#292929" d="M188 78h2v2h-2zM210 84h2v2h-2zM218 98h2v2h-2zM194 102h2v2h-2zM218 102h2v2h-2zM202 108h2v2h-2zM216 108h2v2h-2zM174 114h2v2h-2zM208 116h2v2h-2zM196 118h2v2h-2zM202 118h2v2h-2z"/><path fill="#2a2a2a" d="M206 82h2v2h-2zM212 86h2v2h-2zM214 88h2v2h-2zM196 92h2v2h-2zM218 100h2v2h-2zM208 102h2v2h-2zM194 106h2v2h-2zM186 116h2v2h-2zM188 116h2v2h-2zM198 118h2v2h-2zM200 118h2v2h-2z"/><path fill="#2b2b2b" d="M216 92h2v2h-2zM208 96h2v2h-2zM206 106h2v2h-2zM196 108h2v2h-2zM172 112h2v2h-2zM190 116h2v2h-2z"/><path fill="#2c2c2c" d="M180 78h2v2h-2zM176 80h2v2h-2zM192 80h2v2h-2zM204 82h2v2h-2zM200 90h2v2h-2zM194 100h2v2h-2zM168 104h2v2h-2zM214 110h2v2h-2zM210 114h2v2h-2zM180 116h2v2h-2zM182 116h2v2h-2zM184 116h2v2h-2z"/><path fill="#2d2d2d" d="M202 82h2v2h-2zM172 84h2v2h-2zM208 84h2v2h-2zM198 90h2v2h-2zM202 90h2v2h-2zM168 94h2v2h-2zM208 104h2v2h-2zM216 106h2v2h-2zM204 108h2v2h-2zM212 112h2v2h-2zM192 116h2v2h-2zM206 116h2v2h-2z"/><path fill="#2e2e2e" d="M186 78h2v2h-2zM200 82h2v2h-2zM214 90h2v2h-2zM206 92h2v2h-2zM216 94h2v2h-2z"/><path fill="#2f2f2f" d="M174 82h2v2h-2zM196 82h2v2h-2zM198 82h2v2h-2zM210 86h2v2h-2zM170 88h2v2h-2zM212 88h2v2h-2zM208 94h2v2h-2zM216 104h2v2h-2zM194 116h2v2h-2zM204 116h2v2h-2z"/><path fill="#303030" d="M182 78h2v2h-2zM184 78h2v2h-2zM206 84h2v2h-2zM204 90h2v2h-2zM168 96h2v2h-2zM216 96h2v2h-2zM194 98h2v2h-2zM168 102h2v2h-2zM216 102h2v2h-2zM194 108h2v2h-2zM214 108h2v2h-2zM200 110h2v2h-2zM208 114h2v2h-2zM196 116h2v2h-2zM202 116h2v2h-2z"/><path fill="#313131" d="M214 92h2v2h-2zM210 98h2v2h-2zM216 98h2v2h-2zM210 100h2v2h-2zM216 100h2v2h-2zM208 106h2v2h-2zM206 108h2v2h-2zM198 110h2v2h-2zM202 110h2v2h-2zM212 110h2v2h-2zM210 112h2v2h-2zM198 116h2v2h-2zM200 116h2v2h-2z"/><path fill="#323232" d="M194 82h2v2h-2zM204 84h2v2h-2zM196 90h2v2h-2zM210 96h2v2h-2zM168 98h2v2h-2zM168 100h2v2h-2zM210 102h2v2h-2zM214 106h2v2h-2zM170 108h2v2h-2zM196 110h2v2h-2zM206 114h2v2h-2z"/><path fill="#333333" d="M190 80h2v2h-2zM202 84h2v2h-2zM208 86h2v2h-2zM200 88h2v2h-2zM210 88h2v2h-2zM206 90h2v2h-2zM212 90h2v2h-2zM208 92h2v2h-2zM214 94h2v2h-2zM210 104h2v2h-2zM204 110h2v2h-2zM190 114h2v2h-2zM192 114h2v2h-2z"/><path fill="#343434" d="M198 84h2v2h-2zM200 84h2v2h-2zM198 88h2v2h-2zM202 88h2v2h-2zM210 94h2v2h-2zM214 96h2v2h-2zM214 104h2v2h-2zM212 108h2v2h-2zM208 112h2v2h-2zM176 114h2v2h-2zM194 114h2v2h-2zM204 114h2v2h-2z"/><path fill="#353535" d="M204 86h2v2h-2zM206 86h2v2h-2zM204 88h2v2h-2zM208 88h2v2h-2zM208 90h2v2h-2zM210 90h2v2h-2zM212 92h2v2h-2zM212 98h2v2h-2zM214 98h2v2h-2zM212 100h2v2h-2zM214 100h2v2h-2zM212 102h2v2h-2zM214 102h2v2h-2zM210 106h2v2h-2zM212 106h2v2h-2zM208 108h2v2h-2zM194 110h2v2h-2zM206 110h2v2h-2zM210 110h2v2h-2zM198 112h2v2h-2zM200 112h2v2h-2zM202 112h2v2h-2zM206 112h2v2h-2zM188 114h2v2h-2zM196 114h2v2h-2zM198 114h2v2h-2zM200 114h2v2h-2zM202 114h2v2h-2z"/><path fill="#363636" d="M196 84h2v2h-2zM198 86h2v2h-2zM200 86h2v2h-2zM202 86h2v2h-2zM206 88h2v2h-2zM210 92h2v2h-2zM212 94h2v2h-2zM212 96h2v2h-2zM212 104h2v2h-2zM210 108h2v2h-2zM208 110h2v2h-2zM194 112h2v2h-2zM196 112h2v2h-2zM204 112h2v2h-2z"/><path fill="#383838" d="M178 80h2v2h-2zM192 82h2v2h-2zM196 88h2v2h-2zM194 96h2v2h-2zM192 112h2v2h-2z"/><path fill="#393939" d="M196 86h2v2h-2zM170 90h2v2h-2zM186 114h2v2h-2z"/><path fill="#3a3a3a" d="M194 84h2v2h-2zM172 86h2v2h-2zM172 110h2v2h-2zM192 110h2v2h-2z"/><path fill="#3b3b3b" d="M188 80h2v2h-2zM192 108h2v2h-2zM174 112h2v2h-2zM190 112h2v2h-2z"/><path fill="#3c3c3c" d="M170 106h2v2h-2zM178 114h2v2h-2z"/><path fill="#3d3d3d" d="M194 94h2v2h-2zM192 106h2v2h-2z"/><path fill="#3e3e3e" d="M184 114h2v2h-2z"/><path fill="#404040" d="M176 82h2v2h-2zM194 86h2v2h-2zM194 92h2v2h-2z"/><path fill="#414141" d="M174 84h2v2h-2zM170 92h2v2h-2zM180 114h2v2h-2zM182 114h2v2h-2z"/><path fill="#424242" d="M180 80h2v2h-2zM188 112h2v2h-2z"/><path fill="#434343" d="M186 80h2v2h-2zM190 82h2v2h-2zM194 88h2v2h-2zM194 90h2v2h-2zM192 104h2v2h-2zM190 110h2v2h-2z"/><path fill="#454545" d="M192 84h2v2h-2zM170 104h2v2h-2z"/><path fill="#484848" d="M182 80h2v2h-2zM184 80h2v2h-2zM172 88h2v2h-2zM170 94h2v2h-2z"/><path fill="#4a4a4a" d="M172 108h2v2h-2zM176 112h2v2h-2z"/><path fill="#4b4b4b" d="M170 102h2v2h-2zM192 102h2v2h-2zM186 112h2v2h-2z"/><path fill="#4c4c4c" d="M170 96h2v2h-2zM190 108h2v2h-2z"/><path fill="#4f4f4f" d="M170 98h2v2h-2zM170 100h2v2h-2zM192 100h2v2h-2zM174 110h2v2h-2z"/><path fill="#505050" d="M192 86h2v2h-2z"/><path fill="#515151" d="M178 82h2v2h-2zM188 82h2v2h-2zM188 110h2v2h-2z"/><path fill="#535353" d="M192 98h2v2h-2z"/><path fill="#545454" d="M174 86h2v2h-2z"/><path fill="#555555" d="M190 84h2v2h-2zM184 112h2v2h-2z"/><path fill="#565656" d="M172 90h2v2h-2zM178 112h2v2h-2z"/><path fill="#575757" d="M176 84h2v2h-2z"/><path fill="#595959" d="M192 88h2v2h-2zM172 106h2v2h-2zM190 106h2v2h-2z"/><path fill="#5b5b5b" d="M182 112h2v2h-2z"/><path fill="#5c5c5c" d="M192 96h2v2h-2zM180 112h2v2h-2z"/><path fill="#5d5d5d" d="M186 82h2v2h-2z"/><path fill="#5e5e5e" d="M180 82h2v2h-2z"/><path fill="#606060" d="M192 90h2v2h-2z"/><path fill="#616161" d="M172 92h2v2h-2z"/><path fill="#626262" d="M186 110h2v2h-2z"/><path fill="#636363" d="M192 94h2v2h-2zM176 110h2v2h-2z"/><path fill="#646464" d="M192 92h2v2h-2zM174 108h2v2h-2zM188 108h2v2h-2z"/><path fill="#656565" d="M182 82h2v2h-2zM184 82h2v2h-2zM172 104h2v2h-2z"/><path fill="#676767" d="M190 86h2v2h-2zM174 88h2v2h-2zM190 104h2v2h-2z"/><path fill="#696969" d="M188 84h2v2h-2z"/><path fill="#6a6a6a" d="M172 94h2v2h-2z"/><path fill="#6d6d6d" d="M178 84h2v2h-2z"/><path fill="#6f6f6f" d="M172 102h2v2h-2z"/><path fill="#707070" d="M176 86h2v2h-2z"/><path fill="#717171" d="M172 96h2v2h-2z"/><path fill="#727272" d="M184 110h2v2h-2z"/><path fill="#737373" d="M172 100h2v2h-2zM190 102h2v2h-2z"/><path fill="#747474" d="M172 98h2v2h-2zM178 110h2v2h-2z"/><path fill="#787878" d="M190 88h2v2h-2zM190 100h2v2h-2z"/><path fill="#797979" d="M174 90h2v2h-2zM174 106h2v2h-2zM188 106h2v2h-2z"/><path fill="#7b7b7b" d="M186 84h2v2h-2zM182 110h2v2h-2z"/><path fill="#7c7c7c" d="M190 98h2v2h-2zM180 110h2v2h-2z"/><path fill="#7d7d7d" d="M186 108h2v2h-2z"/><path fill="#7e7e7e" d="M180 84h2v2h-2z"/><path fill="#7f7f7f" d="M176 108h2v2h-2z"/><path fill="#828282" d="M188 86h2v2h-2z"/><path fill="#858585" d="M190 96h2v2h-2z"/><path fill="#868686" d="M184 84h2v2h-2zM190 90h2v2h-2z"/><path fill="#878787" d="M182 84h2v2h-2zM174 92h2v2h-2z"/><path fill="#888888" d="M176 88h2v2h-2z"/><path fill="#8a8a8a" d="M174 104h2v2h-2z"/><path fill="#8b8b8b" d="M178 86h2v2h-2z"/><path fill="#8d8d8d" d="M190 94h2v2h-2z"/><path fill="#8e8e8e" d="M190 92h2v2h-2zM188 104h2v2h-2z"/><path fill="#929292" d="M174 94h2v2h-2zM184 108h2v2h-2z"/><path fill="#949494" d="M178 108h2v2h-2z"/><path fill="#969696" d="M174 102h2v2h-2z"/><path fill="#989898" d="M176 106h2v2h-2z"/><path fill="#999999" d="M186 106h2v2h-2z"/><path fill="#9a9a9a" d="M186 86h2v2h-2zM188 88h2v2h-2zM174 96h2v2h-2z"/><path fill="#9c9c9c" d="M174 100h2v2h-2zM188 102h2v2h-2z"/><path fill="#9d9d9d" d="M174 98h2v2h-2z"/><path fill="#9e9e9e" d="M176 90h2v2h-2z"/><path fill="#9f9f9f" d="M180 108h2v2h-2zM182 108h2v2h-2z"/><path fill="#a0a0a0" d="M180 86h2v2h-2z"/><path fill="#a3a3a3" d="M188 100h2v2h-2z"/><path fill="#a7a7a7" d="M178 88h2v2h-2zM188 98h2v2h-2z"/><path fill="#a9a9a9" d="M184 86h2v2h-2z"/><path fill="#ababab" d="M182 86h2v2h-2z"/><path fill="#adadad" d="M188 90h2v2h-2z"/><path fill="#aeaeae" d="M176 104h2v2h-2z"/><path fill="#afafaf" d="M176 92h2v2h-2zM188 96h2v2h-2z"/><path fill="#b2b2b2" d="M186 104h2v2h-2zM178 106h2v2h-2z"/><path fill="#b3b3b3" d="M184 106h2v2h-2z"/><path fill="#b7b7b7" d="M186 88h2v2h-2zM188 92h2v2h-2zM188 94h2v2h-2z"/><path fill="#bbbbbb" d="M176 94h2v2h-2z"/><path fill="#bdbdbd" d="M176 102h2v2h-2z"/><path fill="#bfbfbf" d="M180 88h2v2h-2z"/><path fill="#c0c0c0" d="M178 90h2v2h-2zM180 106h2v2h-2z"/><path fill="#c1c1c1" d="M182 106h2v2h-2z"/><path fill="#c3c3c3" d="M176 96h2v2h-2zM186 102h2v2h-2z"/><path fill="#c5c5c5" d="M176 100h2v2h-2z"/><path fill="#c6c6c6" d="M176 98h2v2h-2z"/><path fill="#c8c8c8" d="M184 88h2v2h-2z"/><path fill="#cbcbcb" d="M182 88h2v2h-2zM186 100h2v2h-2zM178 104h2v2h-2z"/><path fill="#cdcdcd" d="M186 90h2v2h-2z"/><path fill="#cecece" d="M184 104h2v2h-2z"/><path fill="#cfcfcf" d="M186 98h2v2h-2z"/><path fill="#d2d2d2" d="M178 92h2v2h-2z"/><path fill="#d5d5d5" d="M186 96h2v2h-2z"/><path fill="#d9d9d9" d="M180 90h2v2h-2zM186 92h2v2h-2z"/><path fill="#dbdbdb" d="M186 94h2v2h-2z"/><path fill="#dcdcdc" d="M178 102h2v2h-2zM180 104h2v2h-2z"/><path fill="#dddddd" d="M182 104h2v2h-2z"/><path fill="#dedede" d="M178 94h2v2h-2z"/><path fill="#e1e1e1" d="M184 90h2v2h-2zM184 102h2v2h-2z"/><path fill="#e5e5e5" d="M182 90h2v2h-2zM178 96h2v2h-2z"/><path fill="#e6e6e6" d="M178 100h2v2h-2z"/><path fill="#e8e8e8" d="M178 98h2v2h-2z"/><path fill="#eaeaea" d="M184 100h2v2h-2z"/><path fill="#ebebeb" d="M180 92h2v2h-2z"/><path fill="#eeeeee" d="M184 98h2v2h-2z"/><path fill="#efefef" d="M184 92h2v2h-2zM180 102h2v2h-2z"/><path fill="#f0f0f0" d="M182 102h2v2h-2z"/><path fill="#f1f1f1" d="M184 96h2v2h-2z"/><path fill="#f4f4f4" d="M184 94h2v2h-2z"/><path fill="#f6f6f6" d="M182 92h2v2h-2zM180 94h2v2h-2z"/><path fill="#f9f9f9" d="M180 100h2v2h-2z"/><path fill="#fafafa" d="M180 96h2v2h-2zM182 100h2v2h-2z"/><path fill="#fbfbfb" d="M180 98h2v2h-2z"/><path fill="#fdfdfd" d="M182 94h2v2h-2zM182 98h2v2h-2z"/><path fill="#fefefe" d="M182 96h2v2h-2z"/></g></g><g style="font-family:'Liberation Sans',Arial,sans-serif" font-size="7" fill="#404040"><text x="150.6" y="155.9" text-anchor="middle">-8</text><text x="197.8" y="155.9" text-anchor="middle">0</text><text x="245.1" y="155.9" text-anchor="middle">8</text><text x="149.4" y="150.3" text-anchor="end">-8</text><text x="149.4" y="103.1" text-anchor="end">0</text><text x="149.4" y="56" text-anchor="end">8</text><text x="197.8" y="163.5" text-anchor="middle">x(mm)</text><text transform="translate(141.1 99.8) rotate(-90)" text-anchor="middle">y(mm)</text></g><path d="M327.7 142.6L378.9 108.5L418.8 153.5M327.7 123.1L378.9 89L418.8 134M327.7 103.6L378.9 69.5L418.8 114.5M327.7 84.1L378.9 50L418.8 95M327.7 64.6L378.9 30.5L418.8 75.5M327.7 45.1L378.9 11L418.8 56M327.7 142.6V45.1M418.8 153.5V56M353.3 125.6V28.1M398.9 131V33.5M378.9 108.5V11M378.9 108.5V11" stroke="#e3e3e3" stroke-width=".6" fill="none"/><path d="M327.7 142.6V45.1" stroke="#a8a8a8" stroke-width=".8" fill="none"/><path d="M367.6 187.6L418.8 153.5L378.9 108.5L327.7 142.6Z" fill="#3937a6"/><g fill="url(#fb)" stroke="url(#sb)" stroke-width="3.5"><g transform="translate(327.7 142.6)scale(.1)"><path d="M171 -114l0-2 5-4 6-5 6-4 5-4 6-4 6-4 5-4 6-4 6-4 6-4 5-4 6-4 6-4 5-4 6-4 6-3 5-4 6-4 6-4 5-3 6-4 6-3 6-4 5-3 6-4 6-3 5-4 6-3 6-4 5-3 6-4 0 3z"/></g><g transform="translate(328 143)scale(.1)"><path d="M159 -106l0-3 6-4 6-4 5-4 6-4 6-5 5-4 6-4 6-4 5-4 6-4 6-5 6-4 5-4 6-4 6-4 5-3 6-4 6-4 5-4 6-3 6-4 5-4 6-3 6-4 6-3 5-4 6-3 6-4 5-3 6-3 6-4 5-3 6-4 6-3 5-4 0 3z"/></g><g transform="translate(328.4 143.3)scale(.1)"><path d="M148 -99l0-2 6-4 5-5 6-4 6-4 5-4 6-5 6-4 5-4 6-4 6-5 5-4 6-4 6-4 6-4 5-4 6-4 6-4 5-4 6-4 6-4 5-4 6-3 6-4 5-3 6-4 6-3 6-4 5-3 6-4 6-3 5-3 6-4 6-3 5-3 6-4 6-3 5-3 6-4 6-3 0 3z"/></g><g transform="translate(328.7 143.7)scale(.1)"><path d="M137 -91l0-3 5-4 6-4 6-4 5-5 6-4 6-4 5-5 6-4 6-4 5-5 6-4 6-4 5-5 6-4 6-4 6-5 5-4 6-4 6-4 5-4 6-4 6-3 5-4 6-4 6-3 5-4 6-3 6-3 6-4 5-3 6-3 6-4 5-3 6-3 6-3 5-3 6-4 6-3 5-3 6-3 6-4 5-3 6-4 0 3z"/></g><g transform="translate(329 144.1)scale(.1)"><path d="M131 -87l0-3 6-4 5-4 6-5 6-4 5-5 6-4 6-5 5-4 6-5 6-4 5-5 6-4 6-5 5-4 6-5 6-4 6-4 5-4 6-4 6-5 5-3 6-4 6-4 5-4 6-3 6-4 5-3 6-4 6-3 6-3 5-3 6-3 6-3 5-4 6-3 6-3 5-3 6-3 6-3 5-3 6-3 6-4 5-3 6-3 6-4 0 3z"/></g><g transform="translate(329.4 144.5)scale(.1)"><path d="M119 -80l0-2 6-4 6-5 6-4 5-4 6-5 6-4 5-5 6-5 6-4 5-5 6-5 6-4 5-5 6-5 6-4 5-5 6-4 6-5 6-4 5-5 6-4 6-4 5-4 6-4 6-3 5-4 6-4 6-3 5-3 6-4 6-3 6-3 5-3 6-3 6-3 5-3 6-3 6-2 5-3 6-3 6-3 5-3 6-3 6-4 5-3 6-3 6-3 6-3 5-4 0 3z"/></g><g transform="translate(329.7 144.8)scale(.1)"><path d="M114 -76l0-2 5-5 6-4 6-5 6-4 5-5 6-4 6-5 5-5 6-4 6-5 5-5 6-5 6-5 5-5 6-5 6-5 5-4 6-5 6-5 6-4 5-4 6-5 6-4 5-4 6-4 6-3 5-4 6-3 6-4 5-3 6-3 6-3 6-3 5-3 6-3 6-2 5-3 6-3 6-3 5-2 6-3 6-3 5-3 6-3 6-3 5-3 6-3 6-3 6-3 5-3 6-4 0 3z"/></g><g transform="translate(330 145.2)scale(.1)"><path d="M108 -72l0-3 6-4 5-5 6-4 6-5 6-4 5-5 6-5 6-5 5-5 6-5 6-5 5-5 6-5 6-5 5-5 6-5 6-5 5-5 6-5 6-5 6-5 5-4 6-4 6-5 5-4 6-3 6-4 5-4 6-3 6-3 5-3 6-3 6-3 6-3 5-2 6-3 6-3 5-2 6-3 6-2 5-3 6-2 6-3 5-3 6-2 6-3 5-3 6-3 6-3 6-3 5-3 6-3 6-4 0 3z"/></g><g transform="translate(330.4 145.6)scale(.1)"><path d="M102 -68l0-3 6-4 6-5 5-4 6-5 6-5 6-5 5-5 6-5 6-5 5-5 6-5 6-6 5-5 6-5 6-6 5-5 6-6 6-5 5-5 6-5 6-5 6-5 5-4 6-5 6-4 5-4 6-4 6-4 5-3 6-3 6-3 5-3 6-3 6-3 6-2 5-3 6-2 6-2 5-3 6-2 6-2 5-2 6-3 6-2 5-3 6-2 6-3 5-2 6-3 6-3 6-3 5-3 6-3 6-3 5-3 0 2z"/></g><g transform="translate(330.7 146)scale(.1)"><path d="M91 -61l0-2 6-4 5-5 6-4 6-5 5-5 6-4 6-5 6-5 5-6 6-5 6-5 5-6 6-6 6-5 5-6 6-6 6-5 5-6 6-6 6-5 5-6 6-5 6-5 6-5 5-5 6-4 6-5 5-4 6-3 6-4 5-3 6-4 6-2 5-3 6-3 6-2 6-2 5-3 6-2 6-2 5-2 6-2 6-2 5-2 6-2 6-2 5-2 6-2 6-3 5-2 6-3 6-2 6-3 5-3 6-3 6-3 5-3 6-3 0 3z"/></g><g transform="translate(331 146.3)scale(.1)"><path d="M85 -57l0-2 6-5 6-4 5-5 6-4 6-5 5-5 6-5 6-5 6-6 5-5 6-6 6-5 5-6 6-6 6-6 5-6 6-6 6-7 5-6 6-6 6-5 5-6 6-6 6-5 6-5 5-5 6-5 6-4 5-4 6-4 6-4 5-3 6-3 6-2 5-3 6-2 6-2 6-2 5-2 6-2 6-2 5-1 6-2 6-2 5-1 6-2 6-2 5-2 6-2 6-2 5-2 6-2 6-3 6-2 5-3 6-3 6-3 5-3 6-3 6-3 0 3z"/></g><g transform="translate(331.4 146.7)scale(.1)"><path d="M80 -53l0-2 5-5 6-4 6-5 5-5 6-4 6-5 5-6 6-5 6-5 6-6 5-6 6-6 6-6 5-6 6-7 6-6 5-7 6-6 6-7 5-6 6-6 6-7 5-6 6-6 6-5 6-6 5-5 6-4 6-5 5-4 6-4 6-3 5-3 6-3 6-3 5-2 6-2 6-2 6-1 5-2 6-1 6-1 5-2 6-1 6-1 5-1 6-2 6-1 5-2 6-1 6-2 5-2 6-2 6-2 6-3 5-2 6-3 6-3 5-3 6-3 6-3 5-3 0 3z"/></g><g transform="translate(331.7 147.1)scale(.1)"><path d="M80 -53l0-3 5-4 6-5 6-5 5-5 6-5 6-5 5-5 6-6 6-6 6-6 5-6 6-7 6-6 5-7 6-7 6-7 5-7 6-7 6-7 5-7 6-6 6-7 5-6 6-7 6-6 6-5 5-5 6-5 6-5 5-4 6-4 6-3 5-3 6-2 6-3 5-2 6-1 6-2 6-1 5-1 6-1 6-1 5-1 6 0 6-1 5-1 6-1 6-1 5-1 6-2 6-1 5-2 6-1 6-2 6-2 5-3 6-2 6-3 5-2 6-3 6-3 5-3 6-4 0 3z"/></g><g transform="translate(332 147.5)scale(.1)"><path d="M74 -49l0-3 6-5 5-4 6-5 6-5 5-5 6-5 6-6 5-6 6-6 6-6 6-6 5-7 6-7 6-7 5-7 6-8 6-7 5-8 6-7 6-8 5-7 6-8 6-7 5-7 6-6 6-6 6-6 5-6 6-5 6-4 5-4 6-4 6-3 5-3 6-2 6-2 5-2 6-1 6-1 6-1 5 0 6-1 6 0 5 0 6-1 6 0 5 0 6-1 6 0 5-1 6-1 6-1 5-1 6-2 6-2 6-1 5-2 6-3 6-2 5-2 6-3 6-3 5-3 6-3 6-3 0 2z"/></g><g transform="translate(332.4 147.8)scale(.1)"><path d="M68 -45l0-3 6-5 6-4 5-5 6-5 6-5 5-6 6-5 6-6 5-6 6-7 6-7 6-6 5-8 6-7 6-8 5-8 6-8 6-8 5-8 6-8 6-8 5-8 6-8 6-8 5-7 6-7 6-6 6-7 5-5 6-5 6-5 5-4 6-3 6-3 5-3 6-2 6-2 5-1 6-1 6 0 6 0 5-1 6 1 6 0 5 0 6 0 6 0 5 1 6 0 6 0 5-1 6 0 6-1 5-1 6-1 6-1 6-2 5-1 6-2 6-2 5-3 6-2 6-3 5-3 6-3 6-3 5-3 0 3z"/></g><g transform="translate(332.7 148.2)scale(.1)"><path d="M63 -42l0-2 5-5 6-4 6-5 5-5 6-5 6-6 5-6 6-6 6-6 5-6 6-7 6-8 6-7 5-8 6-8 6-8 5-9 6-9 6-9 5-8 6-9 6-9 5-9 6-8 6-8 5-8 6-7 6-7 6-7 5-5 6-6 6-4 5-4 6-4 6-2 5-3 6-1 6-2 5 0 6-1 6 0 6 1 5 0 6 1 6 1 5 0 6 1 6 1 5 1 6 1 6 0 5 0 6 0 6 0 5 0 6-1 6-1 6-1 5-1 6-2 6-2 5-2 6-2 6-3 5-2 6-3 6-3 5-3 6-4 0 3z"/></g><g transform="translate(333 148.6)scale(.1)"><path d="M57 -38l0-2 6-5 5-4 6-5 6-5 5-6 6-5 6-6 5-6 6-6 6-7 5-7 6-8 6-7 6-9 5-8 6-9 6-9 5-9 6-10 6-9 5-10 6-10 6-9 5-10 6-9 6-8 5-9 6-7 6-8 6-6 5-6 6-6 6-4 5-4 6-3 6-3 5-2 6-1 6-1 5 0 6 0 6 1 6 1 5 1 6 1 6 2 5 1 6 2 6 1 5 2 6 1 6 1 5 1 6 0 6 1 5 0 6 0 6-1 6-1 5-1 6-1 6-2 5-1 6-3 6-2 5-2 6-3 6-3 5-3 6-3 0 3z"/></g><g transform="translate(333.4 149)scale(.1)"><path d="M51 -34l0-2 6-5 6-5 5-4 6-5 6-6 5-5 6-6 6-6 5-6 6-7 6-8 5-7 6-8 6-9 6-9 5-9 6-10 6-10 5-10 6-10 6-11 5-10 6-11 6-10 5-10 6-10 6-9 5-9 6-8 6-8 6-7 5-6 6-5 6-5 5-4 6-3 6-2 5-2 6 0 6-1 5 1 6 0 6 2 6 1 5 2 6 2 6 3 5 2 6 2 6 2 5 3 6 1 6 2 5 2 6 1 6 1 5 0 6 1 6 0 6-1 5 0 6-1 6-2 5-1 6-2 6-2 5-2 6-3 6-3 5-2 6-3 6-4 0 3z"/></g><g transform="translate(333.7 149.3)scale(.1)"><path d="M51 -34l0-3 6-4 6-5 5-5 6-5 6-6 5-6 6-6 6-6 5-7 6-8 6-8 5-8 6-9 6-9 6-10 5-10 6-10 6-11 5-11 6-12 6-11 5-12 6-11 6-11 5-11 6-11 6-10 5-9 6-9 6-8 6-7 5-6 6-6 6-4 5-4 6-3 6-2 5-1 6 0 6 0 5 1 6 2 6 2 6 2 5 3 6 3 6 3 5 3 6 3 6 3 5 3 6 2 6 3 5 2 6 2 6 2 5 1 6 1 6 0 6 0 5 0 6-1 6-1 5-1 6-2 6-1 5-2 6-3 6-2 5-3 6-3 6-3 5-3 0 2z"/></g><g transform="translate(334 149.7)scale(.1)"><path d="M46 -30l0-3 5-4 6-5 6-5 5-5 6-6 6-6 5-6 6-6 6-7 5-8 6-8 6-8 5-9 6-10 6-10 6-11 5-11 6-11 6-12 5-12 6-13 6-12 5-13 6-12 6-12 5-12 6-11 6-11 5-10 6-9 6-9 6-7 5-7 6-5 6-5 5-3 6-3 6-1 5-1 6 1 6 1 5 1 6 2 6 3 6 4 5 3 6 4 6 4 5 4 6 4 6 4 5 3 6 4 6 3 5 3 6 3 6 2 5 2 6 1 6 1 6 1 5 0 6 0 6-1 5-1 6-1 6-2 5-2 6-2 6-2 5-3 6-3 6-2 5-4 0 3z"/></g><g transform="translate(334.4 150.1)scale(.1)"><path d="M40 -27l0-2 6-4 5-5 6-5 6-5 5-6 6-5 6-6 5-7 6-7 6-8 5-8 6-8 6-10 5-9 6-11 6-11 6-12 5-12 6-12 6-13 5-14 6-13 6-14 5-13 6-14 6-13 5-13 6-12 6-11 5-11 6-10 6-8 6-8 5-7 6-5 6-5 5-3 6-2 6-1 5 0 6 1 6 2 5 2 6 3 6 4 6 4 5 4 6 5 6 5 5 5 6 5 6 5 5 4 6 5 6 4 5 3 6 4 6 3 5 2 6 2 6 2 6 1 5 0 6 1 6-1 5 0 6-1 6-1 5-2 6-2 6-2 5-3 6-2 6-3 5-3 6-3 0 3z"/></g><g transform="translate(334.7 150.5)scale(.1)"><path d="M40 -27l0-2 6-5 5-5 6-5 6-5 5-6 6-6 6-7 5-7 6-7 6-8 5-9 6-9 6-10 5-11 6-12 6-12 6-13 5-13 6-14 6-14 5-15 6-14 6-15 5-15 6-15 6-14 5-13 6-13 6-13 5-11 6-10 6-9 6-8 5-7 6-5 6-4 5-3 6-2 6 0 5 0 6 2 6 2 5 4 6 4 6 4 6 5 5 6 6 6 6 5 5 6 6 6 6 6 5 5 6 6 6 5 5 4 6 4 6 4 5 3 6 3 6 2 6 2 5 1 6 0 6 1 5-1 6 0 6-1 5-2 6-1 6-2 5-2 6-3 6-3 5-2 6-3 6-4 0 3z"/></g><g transform="translate(335 150.8)scale(.1)"><path d="M34 -23l0-2 6-5 6-5 5-5 6-5 6-6 5-6 6-6 6-7 5-7 6-9 6-8 5-10 6-10 6-11 5-12 6-12 6-14 6-14 5-14 6-15 6-16 5-16 6-16 6-16 5-16 6-16 6-15 5-15 6-14 6-13 5-12 6-10 6-10 6-8 5-6 6-6 6-4 5-2 6-1 6 0 5 1 6 2 6 4 5 4 6 5 6 6 6 6 5 6 6 7 6 7 5 7 6 7 6 7 5 6 6 6 6 6 5 6 6 4 6 5 5 4 6 3 6 3 6 2 5 2 6 1 6 1 5 0 6 0 6-1 5-1 6-2 6-1 5-2 6-3 6-2 5-3 6-3 6-3 0 3z"/></g><g transform="translate(335.3 151.2)scale(.1)"><path d="M28 -19l0-2 6-5 6-4 6-5 5-6 6-5 6-6 5-6 6-7 6-8 5-8 6-9 6-9 5-10 6-12 6-12 5-12 6-14 6-15 6-15 5-16 6-17 6-17 5-17 6-17 6-18 5-17 6-17 6-17 5-15 6-15 6-14 5-12 6-11 6-10 6-8 5-7 6-5 6-4 5-2 6 0 6 1 5 2 6 3 6 4 5 6 6 6 6 6 6 8 5 7 6 8 6 8 5 8 6 8 6 8 5 7 6 8 6 6 5 7 6 5 6 5 5 5 6 4 6 4 6 2 5 3 6 1 6 2 5 0 6 0 6 0 5-1 6-1 6-1 5-2 6-2 6-3 5-3 6-2 6-3 6-3 0 2z"/></g><g transform="translate(335.7 151.6)scale(.1)"><path d="M28 -19l0-3 6-4 6-5 6-5 5-6 6-5 6-7 5-6 6-8 6-8 5-8 6-10 6-10 5-12 6-12 6-13 5-14 6-15 6-16 6-17 5-17 6-18 6-19 5-18 6-19 6-19 5-19 6-18 6-18 5-17 6-15 6-15 5-13 6-11 6-10 6-8 5-7 6-5 6-3 5-1 6 0 6 1 5 3 6 4 6 6 5 6 6 7 6 8 6 9 5 8 6 9 6 10 5 9 6 9 6 9 5 8 6 8 6 8 5 7 6 7 6 6 5 5 6 5 6 4 6 4 5 2 6 3 6 1 5 1 6 1 6 0 5-1 6 0 6-2 5-1 6-2 6-3 5-2 6-3 6-3 6-3 0 3z"/></g><g transform="translate(336 152)scale(.1)"><path d="M23 -15l0-2 5-5 6-5 6-5 6-5 5-6 6-6 6-7 5-7 6-8 6-8 5-10 6-10 6-11 5-12 6-14 6-14 5-15 6-17 6-17 6-18 5-19 6-20 6-20 5-21 6-20 6-21 5-20 6-19 6-19 5-18 6-16 6-15 5-14 6-12 6-10 6-8 5-6 6-5 6-2 5-1 6 1 6 2 5 4 6 5 6 7 5 7 6 8 6 10 6 9 5 10 6 10 6 11 5 10 6 10 6 10 5 10 6 9 6 9 5 8 6 7 6 7 5 6 6 6 6 4 6 5 5 3 6 3 6 2 5 1 6 1 6 1 5 0 6-1 6-1 5-2 6-1 6-2 5-3 6-2 6-3 6-3 5-3 0 2z"/></g><g transform="translate(336.3 152.3)scale(.1)"><path d="M23 -15l0-3 5-5 6-4 6-6 6-5 5-6 6-7 6-7 5-7 6-9 6-9 5-10 6-11 6-13 5-13 6-14 6-16 5-17 6-18 6-19 6-19 5-21 6-22 6-21 5-23 6-22 6-22 5-21 6-21 6-20 5-19 6-17 6-16 5-14 6-12 6-10 6-8 5-6 6-4 6-2 5 0 6 2 6 3 5 5 6 6 6 8 5 9 6 9 6 11 6 10 5 12 6 11 6 12 5 11 6 11 6 11 5 11 6 10 6 10 5 9 6 8 6 8 5 7 6 6 6 6 6 4 5 4 6 4 6 2 5 2 6 2 6 0 5 1 6-1 6-1 5-1 6-1 6-2 5-2 6-3 6-3 6-2 5-4 0 3z"/></g><g transform="translate(336.7 152.7)scale(.1)"><path d="M17 -11l0-3 6-4 5-5 6-5 6-6 6-5 5-7 6-6 6-8 5-8 6-9 6-10 5-11 6-12 6-14 5-14 6-16 6-17 5-18 6-20 6-20 6-22 5-22 6-23 6-24 5-24 6-24 6-23 5-23 6-22 6-21 5-20 6-18 6-16 5-15 6-12 6-10 6-8 5-6 6-3 6-1 5 0 6 3 6 5 5 6 6 7 6 9 5 10 6 11 6 11 6 13 5 12 6 13 6 12 5 13 6 13 6 12 5 11 6 12 6 10 5 10 6 9 6 9 5 8 6 6 6 7 6 5 5 5 6 4 6 3 5 2 6 2 6 1 5 0 6 0 6 0 5-1 6-1 6-2 5-2 6-2 6-3 6-3 5-3 6-3 0 2z"/></g><g transform="translate(337 153.1)scale(.1)"><path d="M17 -11l0-3 6-5 5-5 6-5 6-6 6-6 5-6 6-8 6-7 5-9 6-10 6-11 5-12 6-13 6-14 5-16 6-17 6-19 5-20 6-21 6-22 6-24 5-24 6-25 6-25 5-26 6-25 6-25 5-25 6-23 6-22 5-21 6-19 6-16 5-15 6-12 6-10 6-8 5-5 6-3 6 0 5 2 6 3 6 6 5 7 6 9 6 10 5 11 6 13 6 13 6 13 5 14 6 14 6 13 5 14 6 14 6 13 5 13 6 12 6 11 5 11 6 10 6 10 5 8 6 8 6 7 6 6 5 5 6 4 6 4 5 3 6 2 6 1 5 1 6 1 6-1 5 0 6-1 6-2 5-2 6-2 6-3 6-2 5-3 6-3 0 2z"/></g><g transform="translate(337.3 153.5)scale(.1)"><path d="M11 -8l0-2 6-4 6-5 5-5 6-6 6-6 6-6 5-7 6-8 6-8 5-10 6-10 6-12 5-13 6-14 6-16 5-17 6-18 6-21 5-21 6-23 6-24 6-26 5-26 6-27 6-27 5-27 6-27 6-27 5-26 6-24 6-24 5-21 6-19 6-17 5-15 6-12 6-10 6-7 5-5 6-2 6 1 5 3 6 4 6 7 5 9 6 10 6 12 5 12 6 14 6 14 6 15 5 15 6 15 6 15 5 15 6 14 6 15 5 13 6 13 6 13 5 12 6 11 6 10 5 9 6 8 6 8 6 6 5 6 6 5 6 4 5 3 6 3 6 2 5 1 6 1 6 0 5-1 6-1 6-1 5-2 6-2 6-2 6-3 5-3 6-3 0 3z"/></g><g transform="translate(337.7 153.8)scale(.1)"><path d="M11 -8l0-2 6-5 6-5 5-5 6-6 6-6 6-7 5-7 6-8 6-9 5-11 6-11 6-12 5-14 6-16 6-17 5-18 6-20 6-22 5-24 6-24 6-27 6-27 5-28 6-29 6-29 5-29 6-29 6-28 5-27 6-26 6-24 5-22 6-20 6-17 5-15 6-12 6-9 6-7 5-4 6-1 6 2 5 4 6 6 6 8 5 10 6 12 6 13 5 14 6 14 6 16 6 16 5 16 6 16 6 17 5 16 6 15 6 16 5 14 6 14 6 14 5 12 6 12 6 11 5 10 6 9 6 8 6 7 5 6 6 6 6 4 5 4 6 3 6 2 5 2 6 1 6 0 5 0 6-1 6-1 5-1 6-2 6-3 6-2 5-3 6-3 6-3 0 3z"/></g><g transform="translate(338 154.2)scale(.1)"><path d="M6 -4l0-2 5-5 6-4 6-5 5-6 6-6 6-6 6-7 5-8 6-9 6-10 5-11 6-12 6-13 5-15 6-17 6-18 5-20 6-22 6-24 5-25 6-27 6-28 6-29 5-30 6-31 6-31 5-31 6-31 6-29 5-29 6-26 6-25 5-23 6-20 6-18 5-14 6-12 6-9 6-6 5-2 6 0 6 2 5 6 6 7 6 10 5 11 6 13 6 14 5 16 6 16 6 17 6 17 5 17 6 18 6 17 5 17 6 17 6 16 5 16 6 15 6 14 5 13 6 13 6 11 5 11 6 9 6 9 6 8 5 7 6 6 6 5 5 4 6 3 6 3 5 2 6 1 6 1 5 0 6-1 6-1 5-1 6-2 6-2 6-3 5-2 6-3 6-3 0 3z"/></g><g transform="translate(338.3 154.6)scale(.1)"><path d="M6 -4l0-2 5-5 6-5 6-5 5-6 6-6 6-7 6-7 5-9 6-9 6-10 5-12 6-13 6-15 5-16 6-18 6-20 5-21 6-24 6-25 5-28 6-28 6-30 6-32 5-32 6-33 6-32 5-33 6-32 6-31 5-30 6-28 6-25 5-23 6-21 6-17 5-15 6-11 6-8 6-5 5-2 6 2 6 4 5 6 6 9 6 11 5 13 6 14 6 16 5 17 6 17 6 18 6 19 5 19 6 18 6 19 5 18 6 17 6 17 5 17 6 16 6 15 5 14 6 13 6 12 5 11 6 10 6 10 6 8 5 7 6 7 6 5 5 5 6 3 6 3 5 3 6 1 6 1 5 0 6 0 6-1 5-1 6-2 6-2 6-2 5-3 6-2 6-3 5-3 0 2z"/></g><g transform="translate(338.7 155)scale(.1)"><path d="M6 -4l0-3 5-4 6-5 6-6 5-6 6-6 6-7 6-8 5-9 6-10 6-11 5-13 6-14 6-15 5-18 6-19 6-22 5-23 6-25 6-28 5-29 6-31 6-32 6-33 5-34 6-35 6-35 5-34 6-34 6-32 5-31 6-28 6-27 5-23 6-20 6-18 5-14 6-10 6-7 6-4 5-1 6 3 6 5 5 8 6 10 6 13 5 14 6 16 6 17 5 18 6 19 6 19 6 20 5 20 6 20 6 19 5 19 6 19 6 17 5 18 6 16 6 16 5 14 6 14 6 13 5 12 6 11 6 9 6 9 5 8 6 7 6 6 5 5 6 4 6 3 5 2 6 2 6 1 5 1 6 0 6-1 5-1 6-1 6-2 6-3 5-2 6-3 6-3 5-3 0 3z"/></g><g transform="translate(339 155.3)scale(.1)"><path d="M0 0l0-2 6-5 5-5 6-5 6-6 5-6 6-7 6-7 6-8 5-10 6-10 6-12 5-14 6-15 6-17 5-18 6-21 6-23 5-25 6-28 6-29 5-31 6-33 6-34 6-35 5-37 6-36 6-37 5-36 6-35 6-33 5-32 6-29 6-27 5-24 6-20 6-17 5-13 6-10 6-6 6-3 5 1 6 4 6 7 5 9 6 12 6 14 5 16 6 17 6 19 5 19 6 20 6 21 6 21 5 20 6 21 6 20 5 20 6 20 6 18 5 18 6 17 6 17 5 15 6 14 6 14 5 12 6 11 6 10 6 10 5 8 6 7 6 6 5 6 6 4 6 4 5 2 6 2 6 2 5 0 6 1 6-1 5-1 6-1 6-2 6-2 5-2 6-3 6-3 5-3 0 3z"/></g><g transform="translate(339.3 155.7)scale(.1)"><path d="M0 0l0-3 6-4 5-5 6-6 6-6 5-6 6-7 6-8 6-9 5-10 6-11 6-13 5-14 6-16 6-18 5-20 6-23 6-24 5-27 6-29 6-32 5-33 6-35 6-36 6-38 5-38 6-38 6-38 5-38 6-36 6-35 5-32 6-30 6-27 5-24 6-20 6-16 5-13 6-9 6-5 6-1 5 2 6 6 6 8 5 11 6 14 6 15 5 18 6 18 6 20 5 21 6 21 6 22 6 22 5 21 6 22 6 21 5 21 6 20 6 19 5 19 6 17 6 17 5 16 6 15 6 14 5 13 6 11 6 11 6 9 5 9 6 8 6 6 5 6 6 4 6 4 5 3 6 3 6 1 5 1 6 0 6 0 5-1 6-1 6-2 6-1 5-3 6-2 6-3 5-3 0 3z"/></g><g transform="translate(339.7 156.1)scale(.1)"><path d="M0 0l0-3 6-5 5-5 6-5 6-7 5-6 6-8 6-8 6-9 5-11 6-12 6-13 5-16 6-17 6-19 5-22 6-24 6-26 5-29 6-31 6-33 5-35 6-37 6-39 6-39 5-40 6-41 6-39 5-39 6-38 6-35 5-33 6-31 6-27 5-23 6-20 6-15 5-12 6-8 6-3 6 0 5 3 6 7 6 10 5 13 6 15 6 17 5 19 6 20 6 21 5 22 6 23 6 22 6 23 5 23 6 22 6 22 5 21 6 21 6 20 5 19 6 18 6 18 5 16 6 15 6 15 5 13 6 12 6 11 6 10 5 9 6 7 6 7 5 6 6 5 6 4 5 3 6 3 6 2 5 1 6 0 6 0 5 0 6-2 6-1 6-2 5-2 6-3 6-2 5-3 6-3 0 2z"/></g><g transform="translate(340 156.5)scale(.1)"><path d="M0 0l0-3 6-5 5-5 6-6 6-7 5-7 6-7 6-9 6-10 5-11 6-13 6-14 5-17 6-18 6-21 5-23 6-25 6-28 5-31 6-33 6-35 5-37 6-39 6-41 6-41 5-42 6-42 6-41 5-41 6-38 6-37 5-33 6-31 6-26 5-23 6-19 6-15 5-11 6-6 6-3 6 2 5 5 6 9 6 12 5 14 6 17 6 18 5 21 6 21 6 22 5 24 6 23 6 24 6 23 5 23 6 23 6 23 5 22 6 21 6 21 5 19 6 19 6 18 5 17 6 15 6 15 5 13 6 13 6 11 6 10 5 9 6 8 6 8 5 6 6 5 6 4 5 4 6 2 6 2 5 2 6 0 6 0 5 0 6-1 6-2 6-1 5-3 6-2 6-3 5-3 6-3 0 3z"/></g><g transform="translate(340.3 156.8)scale(.1)"><path d="M0 0l0-4 6-5 5-5 6-6 6-7 5-7 6-8 6-9 6-11 5-12 6-13 6-15 5-18 6-19 6-22 5-25 6-27 6-30 5-32 6-35 6-37 5-40 6-41 6-42 6-43 5-44 6-44 6-42 5-42 6-39 6-37 5-34 6-30 6-27 5-23 6-18 6-14 5-9 6-5 6-1 6 4 5 6 6 11 6 13 5 16 6 18 6 21 5 21 6 23 6 24 5 24 6 24 6 24 6 25 5 24 6 23 6 23 5 23 6 21 6 21 5 20 6 20 6 18 5 17 6 16 6 15 5 14 6 12 6 12 6 10 5 10 6 8 6 7 5 7 6 5 6 4 5 4 6 3 6 2 5 1 6 1 6 0 5 0 6-1 6-1 6-2 5-2 6-2 6-3 5-3 6-3 0 3z"/></g><g transform="translate(340.7 157.2)scale(.1)"><path d="M0 0l0-4 6-5 5-6 6-6 6-7 5-7 6-9 6-10 6-11 5-12 6-15 6-16 5-18 6-21 6-23 5-26 6-29 6-32 5-34 6-37 6-39 5-41 6-43 6-45 6-45 5-45 6-45 6-44 5-42 6-40 6-38 5-34 6-30 6-26 5-22 6-17 6-13 5-8 6-3 6 1 6 4 5 9 6 12 6 15 5 18 6 19 6 22 5 23 6 24 6 25 5 25 6 25 6 25 6 25 5 24 6 24 6 24 5 23 6 22 6 21 5 20 6 20 6 18 5 18 6 16 6 15 5 14 6 13 6 12 6 11 5 9 6 9 6 7 5 7 6 5 6 5 5 4 6 3 6 2 5 1 6 1 6 1 5-1 6 0 6-2 6-1 5-2 6-3 6-2 5-3 6-3 0 3z"/></g><g transform="translate(341 157.6)scale(.1)"><path d="M0 0l0-4 6-6 5-5 6-7 6-7 5-8 6-9 6-10 6-12 5-13 6-15 6-17 5-20 6-22 6-25 5-27 6-30 6-34 5-36 6-38 6-42 5-43 6-45 6-46 6-47 5-47 6-46 6-45 5-43 6-41 6-37 5-34 6-30 6-26 5-21 6-16 6-11 5-6 6-2 6 2 6 7 5 10 6 14 6 16 5 20 6 21 6 23 5 24 6 25 6 26 5 26 6 25 6 26 6 25 5 25 6 25 6 23 5 23 6 23 6 21 5 21 6 20 6 19 5 17 6 17 6 15 5 15 6 13 6 12 6 11 5 9 6 9 6 7 5 7 6 6 6 4 5 4 6 3 6 3 5 1 6 1 6 1 5 0 6-1 6-1 6-2 5-2 6-2 6-2 5-3 6-3 0 3z"/></g><g transform="translate(341.3 158)scale(.1)"><path d="M0 0l0-5 6-5 5-6 6-7 6-7 5-8 6-10 6-10 6-13 5-14 6-16 6-18 5-21 6-23 6-26 5-29 6-32 6-35 5-38 6-40 6-43 5-45 6-47 6-48 6-48 5-49 6-47 6-46 5-44 6-41 6-37 5-34 6-29 6-25 5-20 6-15 6-10 5-5 6 0 6 4 6 9 5 12 6 15 6 18 5 21 6 23 6 24 5 25 6 26 6 27 5 26 6 27 6 26 6 25 5 26 6 24 6 24 5 23 6 23 6 21 5 21 6 20 6 19 5 18 6 17 6 16 5 15 6 13 6 12 6 11 5 10 6 8 6 8 5 7 6 5 6 5 5 4 6 3 6 3 5 2 6 1 6 0 5 0 6-1 6-1 6-1 5-2 6-2 6-3 5-2 6-3 0 3z"/></g><g transform="translate(341.7 158.3)scale(.1)"><path d="M0 0l0-5 6-6 5-6 6-7 6-7 5-9 6-10 6-11 6-13 5-15 6-17 6-19 5-21 6-25 6-28 5-30 6-34 6-36 5-40 6-42 6-45 5-47 6-48 6-50 6-50 5-49 6-49 6-46 5-44 6-41 6-38 5-33 6-29 6-23 5-19 6-14 6-8 5-3 6 1 6 6 6 10 5 14 6 17 6 20 5 22 6 24 6 25 5 27 6 26 6 28 5 27 6 27 6 26 6 26 5 25 6 25 6 23 5 24 6 22 6 22 5 21 6 20 6 20 5 18 6 17 6 16 5 15 6 13 6 13 6 11 5 9 6 9 6 8 5 7 6 5 6 5 5 4 6 4 6 2 5 2 6 1 6 1 5-1 6 0 6-1 6-1 5-2 6-2 6-3 5-2 6-3 0 3z"/></g><g transform="translate(342 158.7)scale(.1)"><path d="M0 0l0-6 6-5 5-7 6-7 6-8 5-9 6-10 6-12 6-13 5-16 6-17 6-21 5-22 6-26 6-29 5-32 6-35 6-39 5-41 6-44 6-46 5-49 6-50 6-51 6-51 5-50 6-50 6-47 5-44 6-41 6-37 5-33 6-28 6-22 5-18 6-12 6-6 5-2 6 3 6 8 6 11 5 16 6 18 6 22 5 23 6 25 6 27 5 27 6 28 6 27 5 28 6 27 6 26 6 26 5 25 6 25 6 24 5 23 6 22 6 22 5 22 6 20 6 19 5 19 6 17 6 16 5 15 6 14 6 12 6 12 5 10 6 8 6 8 5 7 6 6 6 5 5 4 6 3 6 2 5 2 6 1 6 1 5 0 6 0 6-1 6-2 5-2 6-2 6-2 5-3 6-2 0 3z"/></g><g transform="translate(342.3 159.1)scale(.1)"><path d="M0 0l0-6 6-6 5-6 6-8 6-8 5-9 6-11 6-12 6-14 5-17 6-18 6-21 5-24 6-27 6-31 5-33 6-37 6-40 5-43 6-45 6-48 5-50 6-52 6-52 6-52 5-51 6-50 6-48 5-44 6-41 6-37 5-32 6-26 6-22 5-16 6-10 6-5 5 0 6 5 6 9 6 13 5 17 6 20 6 23 5 24 6 27 6 27 5 28 6 29 6 28 5 28 6 27 6 26 6 26 5 25 6 24 6 24 5 23 6 22 6 22 5 21 6 21 6 19 5 19 6 18 6 16 5 15 6 14 6 13 6 11 5 10 6 9 6 8 5 6 6 6 6 5 5 4 6 3 6 3 5 2 6 1 6 1 5 0 6-1 6-1 6-1 5-2 6-2 6-2 5-3 6-3 0 4z"/></g><g transform="translate(342.7 159.5)scale(.1)"><path d="M0 0l0-7 6-6 5-6 6-8 6-8 5-10 6-11 6-13 6-15 5-17 6-19 6-22 5-25 6-29 6-31 5-35 6-38 6-42 5-44 6-47 6-50 5-51 6-53 6-53 6-53 5-52 6-50 6-48 5-44 6-41 6-36 5-31 6-25 6-20 5-15 6-9 6-3 5 1 6 7 6 11 6 15 5 18 6 21 6 24 5 26 6 27 6 29 5 28 6 29 6 29 5 28 6 27 6 26 6 26 5 24 6 24 6 23 5 23 6 22 6 22 5 21 6 21 6 20 5 19 6 18 6 16 5 16 6 14 6 12 6 12 5 10 6 9 6 8 5 6 6 6 6 5 5 4 6 3 6 3 5 1 6 2 6 0 5 0 6 0 6-1 6-1 5-2 6-2 6-2 5-3 6-3 0 4z"/></g><g transform="translate(343 159.8)scale(.1)"><path d="M0 0l0-7 6-6 5-7 6-8 6-9 5-10 6-11 6-14 6-15 5-18 6-20 6-23 5-26 6-30 6-32 5-37 6-39 6-43 5-46 6-49 6-51 5-52 6-54 6-54 6-54 5-52 6-51 6-47 5-44 6-40 6-35 5-30 6-25 6-18 5-13 6-7 6-2 5 3 6 8 6 12 6 17 5 19 6 23 6 25 5 27 6 28 6 29 5 30 6 29 6 29 5 27 6 28 6 26 6 25 5 24 6 23 6 23 5 22 6 22 6 22 5 21 6 20 6 20 5 19 6 19 6 16 5 16 6 14 6 13 6 12 5 10 6 9 6 8 5 6 6 6 6 5 5 4 6 3 6 2 5 2 6 1 6 1 5 0 6 0 6-1 6-2 5-1 6-2 6-2 5-3 6-3 0 4z"/></g><g transform="translate(343.3 160.2)scale(.1)"><path d="M0 0l0-7 6-7 5-7 6-8 6-9 5-11 6-12 6-13 6-16 5-19 6-21 6-24 5-27 6-31 6-34 5-37 6-41 6-44 5-47 6-50 6-52 5-54 6-55 6-54 6-55 5-52 6-51 6-47 5-44 6-39 6-34 5-29 6-23 6-17 5-12 6-5 6-1 5 5 6 10 6 13 6 18 5 21 6 24 6 26 5 28 6 29 6 30 5 29 6 30 6 29 5 28 6 26 6 26 6 24 5 24 6 23 6 22 5 21 6 22 6 21 5 21 6 21 6 20 5 19 6 19 6 17 5 16 6 14 6 13 6 12 5 10 6 9 6 8 5 7 6 5 6 5 5 4 6 3 6 2 5 2 6 1 6 1 5 0 6-1 6 0 6-2 5-1 6-2 6-3 5-2 6-3 0 4z"/></g><g transform="translate(343.7 160.6)scale(.1)"><path d="M0 0l0-8 6-6 5-8 6-8 6-9 5-11 6-13 6-14 6-17 5-19 6-22 6-25 5-28 6-31 6-35 5-39 6-42 6-46 5-48 6-51 6-53 5-55 6-55 6-56 6-54 5-53 6-50 6-47 5-43 6-38 6-33 5-28 6-22 6-15 5-10 6-4 6 1 5 6 6 11 6 15 6 19 5 22 6 25 6 27 5 29 6 30 6 30 5 30 6 30 6 29 5 27 6 27 6 25 6 23 5 23 6 22 6 21 5 21 6 21 6 21 5 21 6 21 6 20 5 19 6 19 6 17 5 17 6 14 6 14 6 12 5 10 6 9 6 8 5 6 6 6 6 4 5 4 6 3 6 2 5 2 6 1 6 1 5 0 6-1 6-1 6-1 5-1 6-2 6-3 5-2 6-3 0 4z"/></g><g transform="translate(344 161)scale(.1)"><path d="M0 0l0-8 6-7 5-8 6-8 6-10 5-11 6-13 6-15 6-17 5-20 6-22 6-26 5-29 6-33 6-36 5-40 6-43 6-47 5-49 6-52 6-54 5-56 6-55 6-56 6-55 5-52 6-50 6-46 5-42 6-38 6-32 5-26 6-20 6-15 5-8 6-3 6 3 5 8 6 12 6 16 6 20 5 23 6 26 6 28 5 30 6 30 6 31 5 31 6 30 6 28 5 28 6 26 6 24 6 23 5 21 6 21 6 20 5 21 6 20 6 20 5 21 6 20 6 21 5 19 6 19 6 18 5 17 6 15 6 13 6 12 5 11 6 9 6 7 5 7 6 5 6 5 5 4 6 2 6 3 5 1 6 1 6 1 5 0 6-1 6-1 6-1 5-2 6-2 6-2 5-2 6-3 0 4z"/></g><g transform="translate(344.3 161.3)scale(.1)"><path d="M0 0l0-9 6-7 5-7 6-9 6-10 5-12 6-13 6-15 6-18 5-20 6-24 6-26 5-30 6-34 6-37 5-41 6-44 6-48 5-50 6-53 6-55 5-56 6-56 6-56 6-54 5-53 6-49 6-45 5-41 6-36 6-31 5-25 6-19 6-13 5-7 6-1 6 4 5 9 6 13 6 18 6 21 5 24 6 27 6 28 5 31 6 31 6 31 5 31 6 30 6 29 5 27 6 25 6 23 6 22 5 20 6 20 6 19 5 20 6 19 6 20 5 20 6 20 6 21 5 20 6 19 6 18 5 17 6 15 6 14 6 12 5 11 6 9 6 7 5 7 6 5 6 5 5 3 6 3 6 2 5 2 6 1 6 0 5 0 6-1 6-1 6-1 5-2 6-2 6-2 5-2 6-3 0 4z"/></g><g transform="translate(344.7 161.7)scale(.1)"><path d="M0 0l0-9 6-7 5-8 6-9 6-10 5-12 6-14 6-16 6-18 5-21 6-24 6-27 5-31 6-35 6-38 5-41 6-46 6-48 5-51 6-54 6-55 5-56 6-57 6-56 6-54 5-52 6-48 6-45 5-40 6-34 6-29 5-24 6-17 6-12 5-6 6 0 6 5 5 10 6 15 6 18 6 22 5 25 6 28 6 30 5 31 6 31 6 32 5 32 6 30 6 28 5 27 6 24 6 22 6 21 5 19 6 18 6 18 5 18 6 19 6 19 5 20 6 20 6 20 5 20 6 19 6 19 5 17 6 16 6 14 6 12 5 11 6 9 6 7 5 7 6 5 6 4 5 4 6 3 6 2 5 1 6 1 6 0 5 0 6-1 6-1 6-1 5-2 6-2 6-2 5-2 6-3 0 4z"/></g><g transform="translate(345 162.1)scale(.1)"><path d="M0 0l0-10 6-7 5-8 6-9 6-10 5-13 6-14 6-16 6-19 5-21 6-25 6-28 5-32 6-35 6-39 5-42 6-46 6-49 5-52 6-54 6-56 5-57 6-56 6-56 6-53 5-52 6-47 6-44 5-38 6-34 6-27 5-22 6-16 6-10 5-5 6 1 6 6 5 11 6 16 6 19 6 23 5 26 6 28 6 31 5 32 6 32 6 32 5 32 6 30 6 29 5 26 6 23 6 21 6 19 5 17 6 17 6 17 5 16 6 18 6 18 5 20 6 19 6 21 5 20 6 19 6 19 5 17 6 16 6 14 6 13 5 11 6 9 6 8 5 6 6 5 6 4 5 4 6 2 6 2 5 1 6 1 6 0 5 0 6 0 6-1 6-2 5-2 6-2 6-2 5-2 6-3 0 4z"/></g><g transform="translate(345.3 162.5)scale(.1)"><path d="M0 0l0-10 6-7 5-9 6-9 6-11 5-12 6-15 6-16 6-19 5-23 6-25 6-28 5-33 6-36 6-39 5-43 6-47 6-50 5-52 6-55 6-56 5-56 6-57 6-55 6-53 5-50 6-47 6-42 5-37 6-32 6-26 5-21 6-14 6-9 5-3 6 2 6 7 5 12 6 16 6 20 6 24 5 27 6 29 6 31 5 33 6 33 6 33 5 32 6 30 6 28 5 26 6 22 6 19 6 18 5 16 6 14 6 15 5 16 6 16 6 17 5 19 6 20 6 20 5 20 6 19 6 19 5 18 6 16 6 14 6 13 5 11 6 9 6 8 5 6 6 5 6 5 5 3 6 2 6 2 5 1 6 1 6 0 5 0 6-1 6-1 6-2 5-1 6-2 6-3 5-2 6-3 0 4z"/></g><g transform="translate(345.7 162.8)scale(.1)"><path d="M0 0l0-11 6-7 5-8 6-10 6-11 5-12 6-15 6-17 6-20 5-23 6-25 6-29 5-33 6-37 6-40 5-44 6-47 6-50 5-53 6-55 6-56 5-56 6-56 6-55 6-52 5-50 6-45 6-41 5-36 6-30 6-25 5-18 6-13 6-8 5-2 6 3 6 8 5 12 6 17 6 21 6 25 5 27 6 30 6 32 5 34 6 34 6 33 5 33 6 30 6 28 5 25 6 21 6 18 6 15 5 14 6 13 6 13 5 14 6 15 6 16 5 18 6 19 6 20 5 20 6 20 6 19 5 18 6 16 6 15 6 12 5 11 6 10 6 7 5 7 6 5 6 4 5 3 6 2 6 2 5 1 6 0 6 0 5 0 6-1 6-1 6-2 5-1 6-2 6-3 5-2 6-3 0 4z"/></g><g transform="translate(346 163.2)scale(.1)"><path d="M0 0l0-11 6-7 5-9 6-10 6-11 5-13 6-15 6-17 6-20 5-23 6-26 6-30 5-33 6-37 6-41 5-44 6-48 6-50 5-53 6-55 6-56 5-56 6-56 6-54 6-51 5-49 6-44 6-39 5-35 6-28 6-23 5-18 6-11 6-6 5-1 6 4 6 8 5 14 6 17 6 21 6 26 5 28 6 31 6 32 5 35 6 34 6 35 5 33 6 31 6 27 5 24 6 20 6 16 6 14 5 11 6 11 6 11 5 12 6 14 6 15 5 17 6 18 6 20 5 19 6 20 6 19 5 18 6 17 6 15 6 13 5 11 6 9 6 8 5 6 6 5 6 4 5 3 6 2 6 2 5 0 6 1 6 0 5-1 6-1 6-1 6-1 5-2 6-2 6-3 5-2 6-3 0 4z"/></g><g transform="translate(346.3 163.6)scale(.1)"><path d="M0 0l0-11 6-8 5-8 6-10 6-12 5-13 6-15 6-18 6-20 5-24 6-26 6-30 5-34 6-37 6-41 5-45 6-48 6-51 5-53 6-54 6-56 5-56 6-55 6-53 6-50 5-47 6-43 6-38 5-33 6-27 6-22 5-16 6-10 6-5 5 1 6 5 6 9 5 14 6 18 6 22 6 25 5 29 6 32 6 34 5 35 6 35 6 36 5 33 6 31 6 28 5 23 6 18 6 14 6 12 5 9 6 8 6 9 5 10 6 12 6 14 5 16 6 18 6 19 5 19 6 20 6 19 5 18 6 17 6 15 6 13 5 12 6 9 6 8 5 6 6 5 6 3 5 3 6 2 6 2 5 0 6 1 6-1 5 0 6-1 6-2 6-1 5-2 6-2 6-3 5-2 6-3 0 4z"/></g><g transform="translate(346.7 164)scale(.1)"><path d="M0 0l0-12 6-7 5-9 6-10 6-11 5-14 6-15 6-18 6-21 5-24 6-26 6-31 5-34 6-38 6-41 5-45 6-48 6-51 5-53 6-54 6-55 5-56 6-54 6-52 6-49 5-46 6-42 6-36 5-31 6-26 6-20 5-14 6-9 6-4 5 2 6 5 6 11 5 14 6 19 6 22 6 26 5 29 6 33 6 34 5 37 6 36 6 36 5 35 6 31 6 27 5 22 6 17 6 12 6 9 5 7 6 6 6 6 5 8 6 11 6 12 5 15 6 17 6 18 5 20 6 19 6 20 5 18 6 17 6 15 6 13 5 11 6 10 6 7 5 6 6 5 6 4 5 2 6 2 6 2 5 0 6 0 6 0 5-1 6-1 6-1 6-2 5-2 6-2 6-2 5-3 6-3 0 4z"/></g><g transform="translate(347 164.3)scale(.1)"><path d="M0 0l0-12 6-8 5-8 6-10 6-12 5-14 6-15 6-18 6-21 5-24 6-27 6-31 5-34 6-38 6-42 5-45 6-48 6-50 5-53 6-54 6-55 5-55 6-53 6-51 6-48 5-45 6-40 6-35 5-29 6-24 6-19 5-13 6-7 6-3 5 2 6 7 6 11 5 15 6 19 6 23 6 27 5 30 6 33 6 35 5 37 6 38 6 37 5 35 6 31 6 27 5 22 6 15 6 10 6 6 5 4 6 3 6 4 5 6 6 9 6 11 5 14 6 16 6 18 5 19 6 19 6 19 5 18 6 17 6 15 6 14 5 11 6 9 6 8 5 6 6 5 6 3 5 3 6 2 6 1 5 0 6 0 6 0 5-1 6-1 6-2 6-2 5-2 6-2 6-2 5-3 6-3 0 4z"/></g><g transform="translate(347.3 164.7)scale(.1)"><path d="M0 0l0-12 6-8 5-9 6-10 6-12 5-13 6-16 6-18 6-22 5-24 6-27 6-31 5-34 6-38 6-42 5-45 6-48 6-50 5-53 6-53 6-54 5-54 6-52 6-50 6-47 5-43 6-39 6-33 5-28 6-23 6-17 5-11 6-7 6-1 5 3 6 8 6 11 5 16 6 20 6 23 6 27 5 30 6 34 6 36 5 38 6 39 6 38 5 35 6 32 6 27 5 20 6 14 6 8 6 3 5 1 6 1 6 1 5 4 6 7 6 9 5 13 6 15 6 17 5 19 6 19 6 19 5 18 6 17 6 15 6 14 5 11 6 9 6 8 5 6 6 4 6 4 5 2 6 2 6 1 5 0 6 0 6-1 5-1 6-1 6-1 6-2 5-2 6-3 6-2 5-3 6-3 0 4z"/></g><g transform="translate(347.6 165.1)scale(.1)"><path d="M0 0l0-12 6-8 5-9 6-10 6-12 5-14 6-16 6-18 6-21 5-25 6-27 6-31 5-35 6-38 6-41 5-45 6-48 6-50 5-52 6-53 6-53 5-53 6-51 6-49 6-45 5-42 6-37 6-32 5-26 6-21 6-16 5-10 6-5 6-1 5 4 6 9 6 12 5 16 6 21 6 24 6 27 5 31 6 34 6 37 5 38 6 40 6 38 5 37 6 33 6 26 5 19 6 12 6 5 6 0 5-1 6-2 6-1 5 1 6 5 6 8 5 11 6 15 6 16 5 18 6 19 6 19 5 18 6 17 6 15 6 14 5 11 6 9 6 8 5 6 6 4 6 3 5 3 6 1 6 1 5 0 6 0 6-1 5-1 6-1 6-2 6-2 5-2 6-2 6-3 5-3 6-3 0 4z"/></g><g transform="translate(348 165.5)scale(.1)"><path d="M0 0l0-12 6-8 5-9 6-11 6-12 5-13 6-16 6-19 6-21 5-24 6-28 6-31 5-34 6-38 6-41 5-45 6-47 6-50 5-51 6-53 6-52 5-52 6-50 6-47 6-45 5-40 6-35 6-30 5-25 6-20 6-14 5-9 6-4 6 0 5 5 6 9 6 13 5 17 6 21 6 24 6 28 5 32 6 34 6 37 5 40 6 39 6 40 5 37 6 34 6 26 5 18 6 9 6 2 6-2 5-5 6-4 6-4 5 0 6 3 6 6 5 10 6 14 6 16 5 17 6 19 6 18 5 19 6 16 6 15 6 14 5 11 6 9 6 8 5 6 6 4 6 3 5 2 6 1 6 1 5 0 6 0 6-1 5-1 6-2 6-2 6-2 5-2 6-2 6-3 5-3 6-3 0 4z"/></g><g transform="translate(348.3 165.8)scale(.1)"><path d="M0 0l0-12 6-8 5-9 6-11 6-12 5-14 6-16 6-18 6-21 5-25 6-27 6-31 5-34 6-38 6-41 5-44 6-47 6-49 5-51 6-51 6-52 5-50 6-49 6-46 6-43 5-39 6-34 6-28 5-24 6-18 6-13 5-8 6-3 6 1 5 6 6 9 6 14 5 17 6 22 6 25 6 28 5 33 6 35 6 37 5 39 6 41 6 40 5 38 6 34 6 26 5 17 6 6 6-1 6-5 5-7 6-8 6-5 5-3 6 1 6 5 5 9 6 13 6 15 5 17 6 19 6 18 5 18 6 17 6 15 6 13 5 11 6 9 6 8 5 5 6 5 6 3 5 2 6 1 6 0 5 0 6-1 6-1 5-1 6-1 6-2 6-2 5-3 6-2 6-3 5-2 6-3 0 3z"/></g><g transform="translate(348.6 166.2)scale(.1)"><path d="M0 0l0-13 6-7 5-9 6-11 6-12 5-14 6-16 6-18 6-21 5-25 6-27 6-31 5-34 6-37 6-41 5-43 6-47 6-48 5-50 6-51 6-50 5-49 6-48 6-45 6-41 5-37 6-33 6-27 5-22 6-17 6-12 5-6 6-3 6 2 5 7 6 10 6 14 5 18 6 21 6 26 6 29 5 33 6 36 6 38 5 39 6 40 6 41 5 38 6 35 6 26 5 15 6 3 6-4 6-8 5-10 6-10 6-7 5-5 6 0 6 4 5 8 6 11 6 15 5 17 6 18 6 18 5 18 6 16 6 15 6 13 5 11 6 10 6 7 5 5 6 4 6 3 5 2 6 1 6 0 5 0 6-1 6-1 5-1 6-2 6-2 6-2 5-2 6-3 6-2 5-3 6-3 0 3z"/></g><g transform="translate(349 166.6)scale(.1)"><path d="M0 0l0-13 6-7 5-9 6-11 6-12 5-14 6-16 6-18 6-21 5-24 6-27 6-31 5-33 6-38 6-40 5-43 6-46 6-47 5-49 6-50 6-49 5-48 6-46 6-44 6-40 5-35 6-31 6-26 5-21 6-15 6-11 5-6 6-1 6 2 5 7 6 11 6 14 5 18 6 22 6 26 6 30 5 33 6 37 6 38 5 40 6 40 6 40 5 39 6 36 6 25 5 12 6 0 6-7 6-11 5-13 6-11 6-10 5-6 6-1 6 2 5 8 6 11 6 14 5 16 6 18 6 18 5 17 6 17 6 15 6 13 5 11 6 9 6 7 5 5 6 4 6 3 5 1 6 1 6 0 5 0 6-1 6-1 5-1 6-2 6-2 6-2 5-3 6-2 6-3 5-3 6-3 0 3z"/></g><g transform="translate(349.3 167)scale(.1)"><path d="M0 0l0-13 6-7 5-9 6-11 6-12 5-13 6-16 6-19 6-20 5-24 6-27 6-30 5-34 6-36 6-40 5-42 6-45 6-47 5-48 6-49 6-48 5-47 6-44 6-42 6-39 5-34 6-30 6-24 5-20 6-14 6-9 5-5 6-1 6 3 5 7 6 11 6 15 5 18 6 23 6 26 6 30 5 33 6 37 6 39 5 40 6 40 6 41 5 39 6 36 6 24 5 8 6-4 6-11 6-13 5-14 6-14 6-10 5-7 6-3 6 2 5 6 6 11 6 14 5 16 6 17 6 18 5 18 6 16 6 15 6 12 5 11 6 9 6 7 5 5 6 4 6 2 5 2 6 1 6 0 5-1 6-1 6-1 5-2 6-2 6-2 6-2 5-3 6-2 6-3 5-3 6-3 0 3z"/></g><g transform="translate(349.6 167.3)scale(.1)"><path d="M0 0l0-12 6-8 5-9 6-11 6-11 5-14 6-16 6-18 6-21 5-23 6-27 6-29 5-33 6-36 6-40 5-41 6-44 6-46 5-47 6-47 6-47 5-46 6-43 6-41 6-37 5-33 6-28 6-23 5-18 6-13 6-9 5-4 6 0 6 4 5 7 6 11 6 15 5 18 6 23 6 26 6 30 5 34 6 37 6 39 5 40 6 41 6 40 5 39 6 36 6 22 5 2 6-8 6-13 6-15 5-16 6-14 6-11 5-8 6-4 6 2 5 6 6 10 6 14 5 15 6 18 6 17 5 18 6 16 6 14 6 13 5 11 6 8 6 7 5 5 6 4 6 2 5 1 6 1 6 0 5-1 6-1 6-1 5-2 6-2 6-2 6-3 5-2 6-3 6-3 5-3 6-3 0 3z"/></g><g transform="translate(350 167.7)scale(.1)"><path d="M0 0l0-12 6-8 5-9 6-10 6-12 5-13 6-16 6-18 6-20 5-24 6-26 6-29 5-33 6-35 6-38 5-41 6-43 6-45 5-46 6-46 6-46 5-44 6-42 6-39 6-36 5-31 6-27 6-22 5-17 6-12 6-8 5-3 6 0 6 4 5 8 6 11 6 15 5 18 6 22 6 26 6 30 5 34 6 37 6 38 5 41 6 40 6 41 5 39 6 33 6 18 5-4 6-11 6-14 6-16 5-16 6-14 6-12 5-9 6-3 6 1 5 6 6 10 6 13 5 16 6 17 6 18 5 17 6 16 6 14 6 13 5 10 6 9 6 6 5 5 6 3 6 3 5 1 6 0 6 0 5-1 6-1 6-2 5-1 6-3 6-2 6-2 5-3 6-3 6-3 5-3 6-3 0 3z"/></g><g transform="translate(350.3 168.1)scale(.1)"><path d="M0 0l0-12 6-8 5-9 6-10 6-11 5-14 6-15 6-18 6-20 5-23 6-26 6-28 5-32 6-35 6-38 5-40 6-42 6-43 5-45 6-45 6-44 5-43 6-41 6-38 6-34 5-30 6-25 6-21 5-16 6-11 6-7 5-3 6 1 6 4 5 8 6 11 6 15 5 18 6 21 6 26 6 29 5 33 6 36 6 39 5 39 6 40 6 39 5 37 6 30 6 9 5-6 6-10 6-14 6-15 5-16 6-15 6-12 5-8 6-4 6 2 5 6 6 10 6 13 5 16 6 17 6 18 5 17 6 15 6 14 6 13 5 10 6 8 6 6 5 5 6 3 6 2 5 1 6 0 6 0 5-1 6-1 6-2 5-2 6-2 6-2 6-3 5-3 6-2 6-3 5-3 6-4 0 3z"/></g><g transform="translate(350.6 168.5)scale(.1)"><path d="M0 0l0-12 6-8 5-8 6-10 6-12 5-13 6-15 6-17 6-20 5-23 6-25 6-28 5-31 6-34 6-37 5-39 6-41 6-43 5-43 6-44 6-43 5-41 6-40 6-36 6-33 5-29 6-24 6-20 5-15 6-10 6-6 5-3 6 2 6 4 5 8 6 11 6 14 5 18 6 21 6 24 6 29 5 32 6 35 6 37 5 38 6 38 6 37 5 33 6 22 6 6 5-5 6-10 6-13 6-15 5-15 6-14 6-12 5-7 6-3 6 1 5 7 6 10 6 14 5 15 6 17 6 18 5 16 6 16 6 14 6 12 5 10 6 8 6 6 5 4 6 3 6 2 5 1 6 0 6-1 5-1 6-1 6-2 5-2 6-2 6-3 6-2 5-3 6-3 6-3 5-3 6-3 0 2z"/></g><g transform="translate(351 168.8)scale(.1)"><path d="M0 0l0-12 6-7 5-9 6-10 6-11 5-13 6-15 6-17 6-19 5-22 6-25 6-28 5-30 6-33 6-36 5-38 6-40 6-42 5-42 6-42 6-42 5-40 6-38 6-35 6-31 5-28 6-23 6-19 5-14 6-10 6-5 5-2 6 2 6 4 5 8 6 11 6 13 5 17 6 20 6 24 6 27 5 30 6 34 6 35 5 36 6 35 6 33 5 28 6 17 6 5 5-4 6-9 6-13 6-14 5-14 6-13 6-11 5-6 6-3 6 3 5 6 6 11 6 14 5 16 6 17 6 17 5 16 6 16 6 13 6 12 5 9 6 8 6 6 5 4 6 3 6 1 5 1 6 0 6-1 5-1 6-2 6-1 5-3 6-2 6-2 6-3 5-3 6-3 6-3 5-3 0 3z"/></g><g transform="translate(351.3 169.2)scale(.1)"><path d="M0 0l0-11 6-8 5-8 6-10 6-11 5-13 6-15 6-16 6-19 5-22 6-24 6-27 5-30 6-32 6-35 5-37 6-39 6-40 5-41 6-41 6-40 5-39 6-36 6-34 6-30 5-27 6-22 6-17 5-14 6-9 6-5 5-1 6 1 6 5 5 8 6 10 6 13 5 16 6 18 6 23 6 25 5 29 6 31 6 33 5 33 6 32 6 29 5 23 6 14 6 4 5-4 6-8 6-11 6-13 5-13 6-12 6-9 5-6 6-1 6 3 5 8 6 11 6 14 5 16 6 17 6 17 5 16 6 15 6 13 6 11 5 9 6 8 6 5 5 4 6 3 6 1 5 0 6 0 6-1 5-1 6-2 6-2 5-2 6-2 6-3 6-3 5-3 6-3 6-3 5-3 0 3z"/></g><g transform="translate(351.6 169.6)scale(.1)"><path d="M0 0l0-11 6-8 5-8 6-9 6-11 5-13 6-14 6-16 6-19 5-21 6-23 6-27 5-29 6-31 6-34 5-36 6-38 6-38 5-40 6-40 6-39 5-37 6-35 6-33 6-29 5-25 6-21 6-17 5-12 6-9 6-4 5-2 6 2 6 5 5 7 6 10 6 12 5 15 6 17 6 21 6 23 5 26 6 29 6 30 5 30 6 28 6 25 5 20 6 11 6 4 5-3 6-8 6-10 6-11 5-12 6-11 6-7 5-5 6 0 6 5 5 8 6 12 6 14 5 16 6 17 6 16 5 16 6 15 6 13 6 10 5 9 6 7 6 5 5 4 6 2 6 2 5 0 6-1 6-1 5-1 6-2 6-2 5-2 6-3 6-3 6-2 5-3 6-3 6-4 5-3 0 3z"/></g><g transform="translate(352 170)scale(.1)"><path d="M0 0l0-11 6-7 5-8 6-10 6-10 5-12 6-14 6-16 6-18 5-21 6-23 6-25 5-28 6-31 6-33 5-34 6-37 6-38 5-38 6-38 6-38 5-36 6-34 6-31 6-28 5-24 6-20 6-16 5-12 6-8 6-4 5-1 6 2 6 4 5 7 6 9 6 11 5 14 6 16 6 19 6 21 5 24 6 25 6 27 5 26 6 25 6 22 5 16 6 9 6 4 5-3 6-6 6-9 6-10 5-10 6-9 6-6 5-3 6 1 6 6 5 9 6 12 6 15 5 16 6 16 6 17 5 15 6 14 6 13 6 10 5 8 6 7 6 5 5 3 6 2 6 1 5 0 6 0 6-2 5-1 6-2 6-2 5-3 6-2 6-3 6-3 5-3 6-3 6-3 0 3z"/></g><g transform="translate(352.3 170.3)scale(.1)"><path d="M0 0l0-10 6-8 5-8 6-9 6-10 5-12 6-14 6-15 6-18 5-20 6-22 6-24 5-28 6-29 6-32 5-34 6-35 6-36 5-37 6-37 6-36 5-35 6-33 6-30 6-27 5-23 6-19 6-15 5-11 6-8 6-4 5-1 6 2 6 4 5 7 6 8 6 10 5 13 6 14 6 17 6 19 5 21 6 22 6 23 5 23 6 22 6 18 5 13 6 8 6 3 5-2 6-5 6-8 6-8 5-9 6-6 6-5 5-1 6 3 6 6 5 10 6 13 6 15 5 16 6 16 6 16 5 15 6 14 6 12 6 9 5 8 6 7 6 4 5 3 6 2 6 1 5-1 6 0 6-2 5-1 6-2 6-3 5-2 6-3 6-3 6-3 5-3 6-3 6-3 0 3z"/></g><g transform="translate(352.6 170.7)scale(.1)"><path d="M0 0l0-10 6-7 5-8 6-9 6-10 5-12 6-13 6-15 6-17 5-19 6-22 6-24 5-26 6-28 6-31 5-32 6-35 6-35 5-35 6-36 6-35 5-33 6-32 6-28 6-26 5-22 6-19 6-14 5-11 6-7 6-4 5-1 6 2 6 4 5 6 6 8 6 9 5 11 6 13 6 14 6 17 5 18 6 19 6 20 5 20 6 18 6 15 5 11 6 7 6 2 5-1 6-5 6-6 6-7 5-6 6-5 6-2 5 0 6 4 6 8 5 11 6 13 6 15 5 15 6 17 6 15 5 15 6 13 6 11 6 9 5 8 6 5 6 4 5 3 6 1 6 1 5 0 6-1 6-2 5-2 6-2 6-2 5-3 6-2 6-3 6-3 5-3 6-4 6-3 0 3z"/></g><g transform="translate(353 171.1)scale(.1)"><path d="M0 0l0-10 6-6 5-8 6-9 6-10 5-11 6-13 6-15 6-16 5-19 6-20 6-23 5-26 6-27 6-30 5-31 6-33 6-34 5-34 6-34 6-34 5-32 6-30 6-28 6-25 5-21 6-18 6-14 5-10 6-7 6-3 5-1 6 2 6 3 5 6 6 7 6 8 5 10 6 11 6 13 6 14 5 15 6 16 6 17 5 16 6 15 6 13 5 9 6 5 6 3 5-2 6-3 6-5 6-5 5-4 6-3 6-1 5 3 6 5 6 8 5 12 6 13 6 15 5 16 6 15 6 15 5 14 6 13 6 10 6 9 5 7 6 5 6 4 5 2 6 1 6 0 5 0 6-1 6-2 5-2 6-2 6-3 5-2 6-3 6-3 6-3 5-3 6-3 0 2z"/></g><g transform="translate(353.3 171.5)scale(.1)"><path d="M0 0l0-9 6-7 5-7 6-9 6-10 5-11 6-12 6-14 6-16 5-18 6-20 6-22 5-25 6-26 6-28 5-31 6-31 6-33 5-33 6-32 6-33 5-31 6-29 6-26 6-24 5-21 6-17 6-13 5-10 6-6 6-4 5-1 6 2 6 3 5 5 6 7 6 7 5 8 6 10 6 11 6 12 5 12 6 14 6 13 5 14 6 12 6 10 5 7 6 5 6 1 5 0 6-3 6-3 6-4 5-2 6-1 6 1 5 4 6 7 6 9 5 12 6 13 6 15 5 15 6 16 6 14 5 13 6 12 6 10 6 8 5 6 6 5 6 3 5 2 6 1 6 0 5-1 6-1 6-2 5-2 6-2 6-3 5-3 6-3 6-3 6-3 5-3 6-3 0 2z"/></g><g transform="translate(353.6 171.8)scale(.1)"><path d="M0 0l0-9 6-6 5-8 6-8 6-9 5-11 6-12 6-14 6-15 5-17 6-20 6-21 5-23 6-26 6-27 5-29 6-30 6-31 5-32 6-32 6-31 5-29 6-28 6-26 6-23 5-19 6-17 6-13 5-9 6-6 6-4 5-1 6 2 6 3 5 4 6 6 6 6 5 8 6 8 6 9 6 10 5 10 6 11 6 11 5 10 6 10 6 8 5 5 6 4 6 2 5-1 6-1 6-2 6-2 5-1 6 0 6 3 5 5 6 8 6 10 5 13 6 13 6 15 5 15 6 14 6 14 5 12 6 11 6 9 6 7 5 6 6 4 6 3 5 2 6 0 6 0 5-1 6-1 6-2 5-2 6-3 6-2 5-3 6-3 6-3 6-3 5-4 0 3z"/></g><g transform="translate(354 172.2)scale(.1)"><path d="M0 0l0-8 6-7 5-7 6-8 6-9 5-10 6-12 6-13 6-15 5-16 6-19 6-21 5-22 6-24 6-27 5-27 6-29 6-30 5-30 6-31 6-29 5-29 6-27 6-24 6-22 5-19 6-16 6-13 5-9 6-6 6-3 5-1 6 1 6 3 5 4 6 5 6 6 5 6 6 7 6 7 6 8 5 8 6 9 6 8 5 8 6 8 6 6 5 4 6 3 6 1 5 0 6 0 6-1 6-1 5 0 6 3 6 4 5 6 6 9 6 11 5 12 6 14 6 14 5 14 6 14 6 13 5 11 6 10 6 9 6 6 5 5 6 4 6 2 5 2 6 0 6-1 5-1 6-1 6-2 5-3 6-2 6-3 5-3 6-3 6-3 6-3 5-3 0 2z"/></g><g transform="translate(354.3 172.6)scale(.1)"><path d="M0 0l0-8 6-6 5-7 6-8 6-9 5-10 6-11 6-13 6-14 5-16 6-17 6-20 5-22 6-23 6-25 5-26 6-28 6-29 5-29 6-29 6-28 5-28 6-25 6-24 6-21 5-19 6-15 6-12 5-9 6-6 6-3 5-1 6 1 6 2 5 4 6 4 6 5 5 6 6 5 6 7 6 6 5 6 6 7 6 6 5 6 6 6 6 4 5 3 6 3 6 1 5 0 6 0 6 0 6 1 5 1 6 4 6 5 5 7 6 10 6 11 5 13 6 13 6 13 5 14 6 13 6 12 5 10 6 10 6 7 6 6 5 5 6 3 6 2 5 0 6 0 6 0 5-2 6-1 6-2 5-3 6-3 6-2 5-3 6-3 6-4 6-3 0 3z"/></g><g transform="translate(354.6 173)scale(.1)"><path d="M0 0l0-7 6-7 5-6 6-8 6-8 5-10 6-11 6-12 6-14 5-15 6-17 6-19 5-20 6-23 6-23 5-26 6-26 6-28 5-27 6-28 6-27 5-27 6-24 6-23 6-21 5-17 6-15 6-12 5-8 6-6 6-4 5-1 6 1 6 2 5 3 6 4 6 5 5 4 6 5 6 5 6 5 5 5 6 5 6 4 5 5 6 4 6 3 5 2 6 2 6 1 5 0 6 1 6 1 6 1 5 3 6 5 6 6 5 8 6 10 6 11 5 12 6 13 6 13 5 13 6 12 6 11 5 10 6 8 6 7 6 5 5 4 6 2 6 2 5 0 6 0 6-1 5-2 6-1 6-3 5-2 6-3 6-3 5-3 6-3 6-3 6-4 0 3z"/></g><g transform="translate(355 173.3)scale(.1)"><path d="M0 0l0-7 6-6 5-7 6-7 6-8 5-9 6-11 6-11 6-14 5-14 6-16 6-18 5-20 6-21 6-23 5-24 6-25 6-26 5-27 6-27 6-26 5-25 6-23 6-22 6-20 5-17 6-14 6-12 5-8 6-6 6-4 5-1 6 1 6 1 5 3 6 4 6 4 5 4 6 4 6 4 6 4 5 3 6 4 6 3 5 3 6 3 6 2 5 1 6 2 6 1 5 0 6 1 6 2 6 2 5 4 6 5 6 7 5 8 6 10 6 11 5 12 6 13 6 12 5 12 6 11 6 10 5 9 6 7 6 6 6 4 5 4 6 2 6 1 5 0 6-1 6-1 5-2 6-2 6-2 5-3 6-3 6-2 5-4 6-3 6-3 0 3z"/></g><g transform="translate(355.3 173.7)scale(.1)"><path d="M0 0l0-6 6-6 5-7 6-7 6-8 5-9 6-10 6-11 6-12 5-14 6-16 6-17 5-19 6-20 6-22 5-23 6-24 6-25 5-25 6-25 6-25 5-24 6-23 6-21 6-19 5-16 6-14 6-12 5-8 6-6 6-3 5-2 6 1 6 1 5 3 6 3 6 4 5 3 6 4 6 3 6 3 5 2 6 3 6 2 5 2 6 2 6 1 5 1 6 1 6 1 5 1 6 1 6 2 6 3 5 5 6 5 6 7 5 9 6 10 6 10 5 12 6 12 6 11 5 11 6 10 6 9 5 8 6 6 6 5 6 4 5 3 6 1 6 1 5 0 6-1 6-2 5-2 6-2 6-2 5-3 6-3 6-3 5-3 6-3 6-4 0 3z"/></g><g transform="translate(355.6 174.1)scale(.1)"><path d="M0 0l0-6 6-6 5-6 6-7 6-8 5-8 6-10 6-10 6-12 5-14 6-14 6-17 5-18 6-19 6-20 5-22 6-23 6-24 5-24 6-24 6-24 5-23 6-22 6-20 6-18 5-16 6-14 6-11 5-8 6-6 6-3 5-2 6 0 6 1 5 3 6 3 6 3 5 3 6 3 6 3 6 2 5 2 6 2 6 1 5 1 6 1 6 1 5 0 6 1 6 1 5 1 6 2 6 2 6 4 5 5 6 5 6 8 5 8 6 10 6 10 5 10 6 11 6 11 5 10 6 9 6 8 5 7 6 5 6 4 6 3 5 2 6 1 6 1 5-1 6-1 6-2 5-2 6-2 6-3 5-3 6-3 6-3 5-3 6-3 0 3z"/></g><g transform="translate(356 174.5)scale(.1)"><path d="M0 0l0-6 6-5 5-6 6-7 6-7 5-9 6-9 6-10 6-11 5-13 6-14 6-16 5-16 6-19 6-19 5-21 6-22 6-22 5-23 6-23 6-23 5-22 6-21 6-19 6-18 5-15 6-14 6-10 5-9 6-5 6-4 5-2 6 0 6 1 5 2 6 3 6 2 5 3 6 3 6 2 6 2 5 2 6 1 6 1 5 0 6 1 6 0 5 1 6 0 6 1 5 1 6 2 6 3 6 4 5 4 6 6 6 7 5 9 6 9 6 9 5 10 6 10 6 9 5 9 6 8 6 7 5 6 6 5 6 3 6 3 5 1 6 1 6-1 5 0 6-2 6-2 5-2 6-2 6-3 5-3 6-3 6-3 5-4 0 3z"/></g><g transform="translate(356.3 174.8)scale(.1)"><path d="M0 0l0-5 6-6 5-6 6-6 6-7 5-8 6-9 6-10 6-11 5-12 6-13 6-15 5-16 6-17 6-19 5-19 6-21 6-21 5-22 6-22 6-21 5-21 6-21 6-18 6-17 5-15 6-13 6-10 5-9 6-6 6-4 5-2 6 0 6 1 5 2 6 2 6 3 5 2 6 3 6 2 6 1 5 2 6 1 6 0 5 0 6 1 6 0 5 0 6 0 6 1 5 1 6 2 6 3 6 4 5 5 6 6 6 7 5 7 6 8 6 9 5 9 6 9 6 8 5 8 6 7 6 7 5 4 6 4 6 3 6 2 5 1 6 0 6-1 5-1 6-2 6-2 5-2 6-3 6-3 5-3 6-3 6-3 5-3 0 2z"/></g><g transform="translate(356.6 175.2)scale(.1)"><path d="M0 0l0-5 6-5 5-6 6-6 6-7 5-8 6-8 6-9 6-11 5-11 6-13 6-14 5-15 6-16 6-18 5-19 6-19 6-20 5-21 6-21 6-20 5-20 6-20 6-18 6-16 5-14 6-13 6-10 5-8 6-6 6-4 5-3 6 0 6 0 5 2 6 2 6 2 5 3 6 2 6 2 6 1 5 1 6 1 6 0 5 1 6 0 6 0 5 0 6 0 6 1 5 1 6 2 6 3 6 4 5 5 6 5 6 7 5 7 6 7 6 8 5 8 6 8 6 7 5 7 6 6 6 5 5 4 6 3 6 2 6 1 5 1 6 0 6-1 5-2 6-2 6-2 5-2 6-3 6-3 5-3 6-3 6-4 0 3z"/></g><g transform="translate(357 175.6)scale(.1)"><path d="M0 0l0-4 6-6 5-5 6-6 6-7 5-7 6-8 6-9 6-10 5-11 6-12 6-13 5-15 6-15 6-17 5-17 6-19 6-19 5-19 6-20 6-20 5-19 6-18 6-17 6-16 5-14 6-12 6-11 5-8 6-6 6-4 5-2 6-1 6 0 5 1 6 2 6 2 5 2 6 2 6 2 6 2 5 1 6 0 6 1 5 0 6 0 6 0 5 0 6 0 6 1 5 2 6 2 6 2 6 4 5 4 6 6 6 5 5 7 6 7 6 6 5 7 6 7 6 6 5 6 6 5 6 4 5 4 6 2 6 2 6 0 5 0 6-1 6-1 5-2 6-2 6-2 5-3 6-3 6-3 5-3 6-3 6-3 0 2z"/></g><g transform="translate(357.3 176)scale(.1)"><path d="M0 0l0-4 6-5 5-6 6-5 6-7 5-7 6-8 6-8 6-10 5-10 6-11 6-13 5-13 6-15 6-16 5-16 6-18 6-18 5-18 6-19 6-19 5-18 6-17 6-17 6-15 5-14 6-12 6-10 5-8 6-6 6-4 5-3 6-1 6 0 5 1 6 1 6 2 5 2 6 2 6 2 6 2 5 1 6 0 6 1 5 0 6 0 6 0 5 0 6 1 6 1 5 1 6 2 6 2 6 4 5 4 6 4 6 6 5 5 6 6 6 6 5 6 6 6 6 5 5 5 6 4 6 3 5 3 6 1 6 2 6 0 5-1 6-1 6-2 5-2 6-2 6-2 5-3 6-3 6-3 5-3 6-4 0 3z"/></g><g transform="translate(357.6 176.3)scale(.1)"><path d="M0 0l0-4 6-5 5-5 6-6 6-6 5-7 6-7 6-8 6-9 5-10 6-11 6-11 5-13 6-14 6-15 5-16 6-16 6-17 5-18 6-17 6-18 5-17 6-17 6-16 6-14 5-14 6-11 6-10 5-8 6-6 6-5 5-3 6-1 6-1 5 1 6 1 6 2 5 2 6 2 6 1 6 2 5 1 6 1 6 0 5 1 6 0 6 0 5 0 6 1 6 1 5 1 6 2 6 2 6 3 5 4 6 4 6 4 5 5 6 5 6 5 5 5 6 5 6 4 5 4 6 3 6 3 5 1 6 2 6 0 6 0 5-1 6-2 6-1 5-3 6-2 6-3 5-3 6-3 6-3 5-3 0 3z"/></g><g transform="translate(358 176.7)scale(.1)"><path d="M0 0l0-3 6-5 5-5 6-6 6-6 5-6 6-7 6-8 6-9 5-9 6-10 6-11 5-12 6-13 6-14 5-15 6-16 6-16 5-16 6-17 6-17 5-16 6-16 6-15 6-14 5-13 6-12 6-9 5-8 6-7 6-4 5-4 6-1 6-1 5 0 6 1 6 2 5 2 6 1 6 2 6 1 5 2 6 1 6 0 5 1 6 0 6 0 5 1 6 0 6 1 5 1 6 2 6 2 6 2 5 4 6 3 6 4 5 4 6 4 6 5 5 4 6 3 6 4 5 3 6 2 6 2 5 1 6 0 6 0 6 0 5-1 6-2 6-2 5-3 6-2 6-3 5-3 6-3 6-3 5-4 0 3z"/></g><g transform="translate(358.3 177.1)scale(.1)"><path d="M0 0l0-3 6-5 5-5 6-5 6-6 5-6 6-7 6-7 6-9 5-8 6-10 6-11 5-11 6-12 6-13 5-14 6-15 6-15 5-16 6-15 6-16 5-16 6-15 6-15 6-13 5-12 6-11 6-10 5-8 6-6 6-5 5-4 6-2 6-1 5 0 6 1 6 1 5 2 6 1 6 2 6 1 5 2 6 1 6 0 5 1 6 0 6 1 5 0 6 1 6 0 5 1 6 2 6 2 6 2 5 3 6 3 6 3 5 3 6 4 6 3 5 3 6 3 6 3 5 2 6 1 6 1 5 1 6 0 6-1 6-1 5-1 6-2 6-2 5-3 6-3 6-3 5-3 6-3 6-3 0 2z"/></g><g transform="translate(358.6 177.5)scale(.1)"><path d="M0 0l0-3 6-4 5-5 6-6 6-5 5-6 6-7 6-7 6-7 5-9 6-9 6-10 5-11 6-11 6-12 5-14 6-13 6-15 5-14 6-15 6-15 5-15 6-15 6-13 6-13 5-12 6-11 6-9 5-8 6-7 6-5 5-4 6-2 6-1 5-1 6 1 6 1 5 1 6 1 6 2 6 1 5 2 6 1 6 0 5 1 6 1 6 0 5 1 6 0 6 1 5 1 6 1 6 2 6 2 5 2 6 2 6 3 5 2 6 3 6 3 5 2 6 2 6 2 5 1 6 1 6 0 5 0 6 0 6-1 6-1 5-2 6-2 6-2 5-3 6-3 6-3 5-3 6-3 0 2z"/></g><g transform="translate(359 177.8)scale(.1)"><path d="M0 0l0-2 6-5 5-5 6-5 6-5 5-6 6-6 6-7 6-7 5-8 6-9 6-9 5-11 6-10 6-12 5-12 6-13 6-14 5-14 6-14 6-14 5-14 6-14 6-13 6-12 5-12 6-10 6-10 5-7 6-7 6-5 5-4 6-3 6-1 5-1 6 0 6 1 5 1 6 1 6 1 6 2 5 1 6 1 6 1 5 1 6 0 6 1 5 0 6 1 6 0 5 1 6 1 6 2 6 1 5 2 6 2 6 2 5 2 6 1 6 2 5 2 6 1 6 1 5 1 6 0 6 0 5 0 6-1 6-1 6-2 5-2 6-2 6-3 5-2 6-3 6-4 5-3 0 3z"/></g><g transform="translate(359.3 178.2)scale(.1)"><path d="M6 -4l0-3 5-4 6-5 6-6 5-5 6-6 6-7 6-7 5-7 6-8 6-9 5-10 6-10 6-11 5-12 6-12 6-12 5-13 6-14 6-13 5-13 6-13 6-13 6-12 5-11 6-10 6-9 5-8 6-7 6-5 5-4 6-3 6-2 5-1 6 0 6 0 5 1 6 1 6 1 6 1 5 1 6 1 6 1 5 1 6 1 6 0 5 1 6 0 6 1 5 0 6 1 6 1 6 1 5 2 6 1 6 1 5 2 6 1 6 1 5 1 6 1 6 0 5 1 6-1 6 0 5-1 6-1 6-2 6-2 5-2 6-2 6-3 5-3 6-3 6-3 5-3 0 2z"/></g><g transform="translate(359.6 178.6)scale(.1)"><path d="M6 -4l0-2 5-5 6-5 6-5 5-5 6-6 6-6 6-7 5-7 6-8 6-8 5-9 6-10 6-10 5-11 6-11 6-12 5-13 6-12 6-13 5-12 6-13 6-12 6-11 5-11 6-10 6-9 5-7 6-7 6-5 5-5 6-3 6-2 5-1 6-1 6 0 5 0 6 1 6 1 6 1 5 1 6 1 6 1 5 1 6 0 6 1 5 0 6 1 6 0 5 1 6 0 6 1 6 1 5 1 6 0 6 1 5 1 6 1 6 1 5 0 6 0 6 0 5 0 6-1 6-1 5-1 6-2 6-2 6-2 5-2 6-3 6-2 5-3 6-3 6-4 0 3z"/></g><g transform="translate(360 179)scale(.1)"><path d="M6 -4l0-2 5-5 6-4 6-5 5-6 6-5 6-6 6-6 5-7 6-8 6-8 5-8 6-9 6-10 5-10 6-11 6-11 5-11 6-12 6-12 5-12 6-12 6-11 6-11 5-10 6-10 6-9 5-7 6-7 6-5 5-5 6-3 6-3 5-1 6-1 6-1 5 0 6 1 6 0 6 1 5 1 6 1 6 1 5 0 6 1 6 0 5 1 6 0 6 0 5 1 6 0 6 1 6 0 5 1 6 0 6 0 5 1 6 0 6 0 5 0 6 0 6-1 5-1 6-1 6-1 5-2 6-1 6-3 6-2 5-2 6-3 6-3 5-3 6-3 0 3z"/></g><g transform="translate(360.3 179.3)scale(.1)"><path d="M11 -8l0-2 6-5 6-5 5-5 6-5 6-6 6-6 5-7 6-6 6-8 5-8 6-9 6-9 5-9 6-10 6-11 5-11 6-11 6-11 5-11 6-11 6-11 6-11 5-10 6-9 6-8 5-8 6-6 6-6 5-5 6-3 6-3 5-2 6-1 6-1 5 0 6 0 6 0 6 1 5 1 6 0 6 1 5 0 6 1 6 0 5 0 6 1 6 0 5 0 6 0 6 0 6 0 5 1 6 0 6 0 5 0 6-1 6 0 5 0 6-1 6-1 5-1 6-2 6-1 5-2 6-2 6-3 6-2 5-3 6-3 6-3 5-3 6-3 0 3z"/></g><g transform="translate(360.6 179.7)scale(.1)"><path d="M11 -8l0-2 6-4 6-5 5-5 6-5 6-6 6-6 5-6 6-7 6-7 5-7 6-8 6-9 5-9 6-9 6-10 5-10 6-11 6-10 5-11 6-11 6-10 6-10 5-9 6-9 6-8 5-8 6-6 6-6 5-5 6-4 6-3 5-2 6-2 6-1 5 0 6 0 6 0 6 0 5 0 6 1 6 0 5 1 6 0 6 0 5 0 6 0 6 0 5 0 6 0 6 0 6 0 5 0 6 0 6-1 5 0 6-1 6 0 5-1 6-1 6-2 5-1 6-2 6-2 5-2 6-2 6-3 6-2 5-3 6-3 6-3 5-3 0 2z"/></g><g transform="translate(360.9 180.1)scale(.1)"><path d="M17 -11l0-3 6-5 5-5 6-5 6-5 6-5 5-6 6-7 6-6 5-8 6-7 6-8 5-9 6-9 6-9 5-10 6-9 6-10 5-10 6-10 6-10 6-10 5-9 6-8 6-8 5-8 6-6 6-6 5-5 6-4 6-3 5-3 6-2 6-1 5-1 6 0 6-1 6 0 5 1 6 0 6 0 5 0 6 0 6 0 5 0 6 0 6 0 5 0 6 0 6-1 6 0 5-1 6 0 6-1 5-1 6 0 6-2 5-1 6-1 6-2 5-1 6-2 6-3 5-2 6-2 6-3 6-3 5-3 6-3 6-3 5-3 0 2z"/></g><g transform="translate(361.3 180.5)scale(.1)"><path d="M17 -11l0-3 6-4 5-5 6-5 6-5 6-5 5-6 6-6 6-7 5-6 6-8 6-7 5-8 6-8 6-9 5-9 6-9 6-10 5-9 6-10 6-9 6-9 5-9 6-8 6-8 5-7 6-6 6-6 5-5 6-4 6-4 5-3 6-2 6-2 5-1 6-1 6 0 6 0 5-1 6 0 6 0 5 0 6 0 6 0 5 0 6 0 6-1 5 0 6-1 6 0 6-1 5-1 6 0 6-1 5-1 6-2 6-1 5-1 6-2 6-2 5-2 6-2 6-2 5-3 6-3 6-2 6-3 5-3 6-3 6-4 0 3z"/></g><g transform="translate(361.6 180.8)scale(.1)"><path d="M23 -15l0-3 5-4 6-5 6-5 6-5 5-6 6-6 6-6 5-6 6-7 6-7 5-8 6-8 6-8 5-8 6-9 6-9 5-9 6-9 6-9 6-8 5-9 6-8 6-7 5-7 6-6 6-6 5-5 6-4 6-4 5-3 6-3 6-2 5-1 6-1 6-1 6-1 5 0 6-1 6 0 5 0 6 0 6-1 5 0 6-1 6 0 5-1 6 0 6-1 6-1 5-1 6-1 6-1 5-2 6-1 6-2 5-2 6-1 6-2 5-3 6-2 6-2 5-3 6-3 6-3 6-3 5-3 6-3 6-3 0 2z"/></g><g transform="translate(361.9 181.2)scale(.1)"><path d="M23 -15l0-3 5-4 6-5 6-4 6-5 5-6 6-5 6-6 5-6 6-7 6-7 5-7 6-7 6-8 5-8 6-8 6-8 5-9 6-8 6-9 6-8 5-8 6-8 6-7 5-7 6-6 6-6 5-5 6-4 6-4 5-3 6-3 6-2 5-2 6-2 6-1 6-1 5 0 6-1 6 0 5-1 6 0 6-1 5-1 6 0 6-1 5-1 6-1 6-1 6-1 5-1 6-1 6-2 5-1 6-2 6-2 5-2 6-2 6-2 5-2 6-3 6-3 5-2 6-3 6-3 6-3 5-3 6-4 0 3z"/></g><g transform="translate(362.3 181.6)scale(.1)"><path d="M28 -19l0-3 6-4 6-5 6-5 5-5 6-5 6-6 5-6 6-6 6-6 5-7 6-7 6-7 5-8 6-7 6-8 5-8 6-8 6-8 6-8 5-8 6-7 6-7 5-7 6-6 6-6 5-5 6-4 6-4 5-4 6-3 6-2 5-2 6-2 6-1 6-2 5-1 6-1 6 0 5-1 6-1 6-1 5 0 6-1 6-1 5-1 6-1 6-2 6-1 5-1 6-2 6-2 5-1 6-2 6-2 5-2 6-3 6-2 5-2 6-3 6-3 5-3 6-3 6-3 6-3 5-3 0 3z"/></g><g transform="translate(362.6 182)scale(.1)"><path d="M28 -19l0-2 6-5 6-4 6-5 5-5 6-5 6-5 5-6 6-6 6-6 5-6 6-7 6-7 5-7 6-7 6-8 5-7 6-8 6-7 6-8 5-7 6-7 6-7 5-7 6-6 6-5 5-5 6-5 6-4 5-4 6-3 6-3 5-2 6-2 6-2 6-1 5-1 6-2 6-1 5-1 6-1 6-1 5-1 6-1 6-1 5-1 6-1 6-2 6-1 5-2 6-2 6-2 5-1 6-3 6-2 5-2 6-2 6-3 5-3 6-2 6-3 5-3 6-3 6-3 6-4 5-3 0 3z"/></g><g transform="translate(362.9 182.3)scale(.1)"><path d="M34 -23l0-2 6-5 6-4 5-5 6-5 6-5 5-6 6-5 6-6 5-6 6-6 6-7 5-7 6-7 6-7 5-7 6-7 6-7 6-7 5-7 6-7 6-7 5-6 6-6 6-5 5-5 6-5 6-4 5-4 6-3 6-3 5-3 6-2 6-2 6-2 5-1 6-2 6-1 5-2 6-1 6-1 5-1 6-2 6-1 5-1 6-2 6-1 6-2 5-2 6-2 6-2 5-2 6-2 6-2 5-3 6-2 6-3 5-3 6-3 6-3 5-3 6-3 6-3 6-3 0 3z"/></g><g transform="translate(363.3 182.7)scale(.1)"><path d="M40 -27l0-2 6-5 5-4 6-5 6-5 5-5 6-6 6-5 5-6 6-6 6-6 5-7 6-6 6-7 5-7 6-7 6-6 6-7 5-7 6-6 6-7 5-6 6-5 6-6 5-5 6-5 6-4 5-4 6-3 6-3 5-3 6-3 6-2 6-2 5-2 6-2 6-1 5-2 6-1 6-2 5-1 6-2 6-1 5-2 6-1 6-2 6-2 5-2 6-2 6-2 5-2 6-3 6-2 5-3 6-3 6-2 5-3 6-3 6-3 5-3 6-3 6-4 6-3 0 3z"/></g><g transform="translate(363.6 183.1)scale(.1)"><path d="M40 -27l0-2 6-4 5-5 6-4 6-5 5-5 6-5 6-6 5-5 6-6 6-6 5-6 6-6 6-7 5-6 6-6 6-7 6-6 5-7 6-6 6-6 5-6 6-6 6-5 5-5 6-5 6-4 5-4 6-4 6-3 5-3 6-3 6-2 6-2 5-2 6-2 6-2 5-2 6-2 6-1 5-2 6-2 6-1 5-2 6-2 6-2 6-2 5-2 6-2 6-3 5-2 6-3 6-2 5-3 6-3 6-3 5-2 6-4 6-3 5-3 6-3 6-3 0 2z"/></g><g transform="translate(363.9 183.5)scale(.1)"><path d="M46 -30l0-3 5-4 6-5 6-4 5-5 6-5 6-5 5-6 6-5 6-6 5-6 6-6 6-6 5-6 6-6 6-6 6-6 5-6 6-6 6-6 5-6 6-5 6-6 5-5 6-4 6-5 5-4 6-3 6-4 5-3 6-3 6-3 6-2 5-2 6-3 6-2 5-2 6-1 6-2 5-2 6-2 6-2 5-2 6-2 6-2 6-2 5-3 6-2 6-2 5-3 6-3 6-2 5-3 6-3 6-3 5-3 6-3 6-3 5-3 6-4 0 3z"/></g><g transform="translate(364.3 183.8)scale(.1)"><path d="M51 -34l0-3 6-4 6-5 5-4 6-5 6-5 5-5 6-6 6-5 5-5 6-6 6-6 5-6 6-6 6-6 6-5 5-6 6-6 6-6 5-5 6-6 6-5 5-5 6-4 6-5 5-4 6-4 6-3 5-3 6-4 6-2 6-3 5-3 6-2 6-2 5-2 6-2 6-3 5-2 6-2 6-2 5-2 6-2 6-3 6-2 5-2 6-3 6-2 5-3 6-3 6-2 5-3 6-3 6-3 5-3 6-4 6-3 5-3 6-3 0 2z"/></g><g transform="translate(364.6 184.2)scale(.1)"><path d="M57 -38l0-3 6-4 5-5 6-4 6-5 5-5 6-5 6-5 5-6 6-5 6-5 5-6 6-6 6-5 6-6 5-6 6-5 6-6 5-5 6-5 6-5 5-5 6-5 6-4 5-4 6-4 6-4 5-3 6-3 6-3 6-3 5-3 6-3 6-2 5-2 6-3 6-2 5-2 6-3 6-2 5-2 6-3 6-2 6-2 5-3 6-3 6-2 5-3 6-3 6-3 5-3 6-3 6-3 5-3 6-3 6-3 5-4 0 3z"/></g><g transform="translate(364.9 184.6)scale(.1)"><path d="M57 -38l0-2 6-5 5-4 6-5 6-4 5-5 6-5 6-5 5-5 6-5 6-5 5-6 6-5 6-6 6-5 5-5 6-6 6-5 5-5 6-5 6-5 5-5 6-5 6-4 5-4 6-4 6-4 5-3 6-4 6-3 6-3 5-3 6-2 6-3 5-3 6-2 6-3 5-2 6-2 6-3 5-2 6-3 6-2 6-3 5-3 6-2 6-3 5-3 6-3 6-3 5-3 6-3 6-3 5-4 6-3 6-3 0 3z"/></g><g transform="translate(365.3 185)scale(.1)"><path d="M63 -42l0-2 5-4 6-5 6-4 5-5 6-5 6-5 5-4 6-5 6-6 5-5 6-5 6-5 6-5 5-6 6-5 6-5 5-5 6-5 6-5 5-4 6-5 6-4 5-4 6-4 6-4 5-4 6-3 6-4 6-3 5-3 6-3 6-2 5-3 6-3 6-2 5-3 6-3 6-2 5-3 6-2 6-3 6-3 5-3 6-2 6-3 5-3 6-3 6-3 5-3 6-4 6-3 5-3 6-3 6-4 0 3z"/></g><g transform="translate(365.6 185.3)scale(.1)"><path d="M68 -45l0-3 6-4 6-5 5-4 6-5 6-4 5-5 6-5 6-5 5-5 6-5 6-5 6-5 5-5 6-5 6-5 5-5 6-5 6-5 5-4 6-5 6-4 5-4 6-4 6-4 5-4 6-3 6-3 6-4 5-3 6-3 6-3 5-3 6-2 6-3 5-3 6-3 6-2 5-3 6-3 6-3 6-3 5-3 6-2 6-3 5-3 6-4 6-3 5-3 6-3 6-3 5-4 6-3 0 3z"/></g><g transform="translate(365.9 185.7)scale(.1)"><path d="M74 -49l0-3 6-4 5-5 6-4 6-5 5-4 6-5 6-5 5-4 6-5 6-5 6-5 5-5 6-5 6-5 5-4 6-5 6-5 5-4 6-5 6-4 5-4 6-4 6-4 5-4 6-3 6-4 6-3 5-3 6-3 6-3 5-3 6-3 6-3 5-3 6-3 6-3 5-3 6-3 6-3 6-3 5-3 6-3 6-3 5-3 6-3 6-3 5-3 6-4 6-3 5-3 0 2z"/></g><g transform="translate(366.3 186.1)scale(.1)"><path d="M80 -53l0-3 5-4 6-4 6-5 5-4 6-5 6-4 5-5 6-5 6-4 6-5 5-5 6-5 6-4 5-5 6-5 6-4 5-5 6-4 6-4 5-4 6-4 6-4 5-4 6-4 6-3 6-4 5-3 6-3 6-3 5-3 6-4 6-3 5-3 6-3 6-3 5-3 6-3 6-3 6-3 5-3 6-3 6-3 5-3 6-3 6-4 5-3 6-3 6-4 0 3z"/></g><g transform="translate(366.6 186.5)scale(.1)"><path d="M85 -57l0-2 6-5 6-4 5-4 6-5 6-4 5-5 6-4 6-5 6-5 5-4 6-5 6-4 5-5 6-4 6-5 5-4 6-5 6-4 5-4 6-4 6-4 5-4 6-3 6-4 6-3 5-4 6-3 6-3 5-4 6-3 6-3 5-3 6-3 6-3 5-3 6-3 6-4 6-3 5-3 6-3 6-3 5-4 6-3 6-3 5-4 6-3 0 3z"/></g><g transform="translate(366.9 186.8)scale(.1)"><path d="M91 -61l0-2 6-4 5-5 6-4 6-4 5-5 6-4 6-5 6-4 5-5 6-4 6-5 5-4 6-5 6-4 5-4 6-4 6-5 5-4 6-4 6-4 5-3 6-4 6-4 6-3 5-4 6-3 6-4 5-3 6-3 6-3 5-4 6-3 6-3 5-3 6-3 6-4 6-3 5-3 6-3 6-4 5-3 6-3 6-4 5-3 0 3z"/></g><g transform="translate(367.3 187.2)scale(.1)"><path d="M102 -68l0-3 6-4 6-5 5-4 6-4 6-5 6-4 5-4 6-5 6-4 5-5 6-4 6-4 5-4 6-5 6-4 5-4 6-4 6-4 5-4 6-3 6-4 6-4 5-3 6-4 6-3 5-3 6-4 6-3 5-3 6-4 6-3 5-3 6-4 6-3 6-3 5-3 6-4 6-3 5-3 6-4 6-3 0 2z"/></g><g transform="translate(367.6 187.6)scale(.1)"><path d="M108 -72l0-3 6-4 5-4 6-4 6-5 6-4 5-4 6-5 6-4 5-4 6-4 6-5 5-4 6-4 6-4 5-4 6-4 6-4 5-4 6-4 6-3 6-4 5-4 6-3 6-4 5-3 6-4 6-3 5-3 6-4 6-3 5-3 6-4 6-3 6-3 5-4 6-3 6-4 5-3 6-3 0 2z"/></g></g><path d="M327.7 142.6L326.2 143.6M327.7 123.1L326.2 124.1M327.7 103.6L326.2 104.6M327.7 84.1L326.2 85.1M327.7 64.6L326.2 65.6M327.7 45.1L326.2 46.1M367.6 187.6L366.1 188.6M367.6 187.6L368.8 188.9M347.6 165.1L346.2 166.1M393.2 170.6L394.4 171.9M327.7 142.6L326.2 143.6M418.8 153.5L420 154.8" stroke="#777" stroke-width=".6" fill="none"/><g style="font-family:'Liberation Sans',Arial,sans-serif" font-size="7" fill="#404040"><text x="325.7" y="143.9" text-anchor="end">0</text><text x="325.7" y="124.4" text-anchor="end">0.2</text><text x="325.7" y="104.9" text-anchor="end">0.4</text><text x="325.7" y="85.4" text-anchor="end">0.6</text><text x="325.7" y="65.9" text-anchor="end">0.8</text><text x="325.7" y="46.4" text-anchor="end">1</text><text x="325.2" y="152.1" text-anchor="end">10</text><text x="345.1" y="174.6" text-anchor="end">0</text><text x="365.1" y="197.1" text-anchor="end">-10</text><text x="370.1" y="196.9">-10</text><text x="395.7" y="179.9">0</text><text x="421.3" y="162.8">10</text></g><g clip-path="url(#cb)"><g filter="url(#jb)" shape-rendering="crispEdges"><rect x="450" y="50" width="100" height="100" fill="#000"/><path fill="#010101" d="M470 50h2v2h-2zM472 50h2v2h-2zM474 50h2v2h-2zM476 50h2v2h-2zM478 50h2v2h-2zM480 50h2v2h-2zM482 50h2v2h-2zM484 50h2v2h-2zM486 50h2v2h-2zM488 50h2v2h-2zM490 50h2v2h-2zM492 50h2v2h-2zM494 50h2v2h-2zM496 50h2v2h-2zM498 50h2v2h-2zM500 50h2v2h-2zM502 50h2v2h-2zM504 50h2v2h-2zM506 50h2v2h-2zM508 50h2v2h-2zM510 50h2v2h-2zM512 50h2v2h-2zM514 50h2v2h-2zM516 50h2v2h-2zM466 52h2v2h-2zM468 52h2v2h-2zM470 52h2v2h-2zM472 52h2v2h-2zM474 52h2v2h-2zM476 52h2v2h-2zM478 52h2v2h-2zM480 52h2v2h-2zM482 52h2v2h-2zM484 52h2v2h-2zM486 52h2v2h-2zM502 52h2v2h-2zM504 52h2v2h-2zM506 52h2v2h-2zM508 52h2v2h-2zM510 52h2v2h-2zM512 52h2v2h-2zM514 52h2v2h-2zM516 52h2v2h-2zM518 52h2v2h-2zM520 52h2v2h-2zM462 54h2v2h-2zM464 54h2v2h-2zM466 54h2v2h-2zM468 54h2v2h-2zM470 54h2v2h-2zM472 54h2v2h-2zM474 54h2v2h-2zM476 54h2v2h-2zM478 54h2v2h-2zM510 54h2v2h-2zM512 54h2v2h-2zM514 54h2v2h-2zM516 54h2v2h-2zM518 54h2v2h-2zM520 54h2v2h-2zM522 54h2v2h-2zM524 54h2v2h-2zM460 56h2v2h-2zM462 56h2v2h-2zM464 56h2v2h-2zM466 56h2v2h-2zM468 56h2v2h-2zM470 56h2v2h-2zM472 56h2v2h-2zM474 56h2v2h-2zM516 56h2v2h-2zM518 56h2v2h-2zM520 56h2v2h-2zM522 56h2v2h-2zM524 56h2v2h-2zM526 56h2v2h-2zM458 58h2v2h-2zM460 58h2v2h-2zM462 58h2v2h-2zM464 58h2v2h-2zM466 58h2v2h-2zM468 58h2v2h-2zM470 58h2v2h-2zM520 58h2v2h-2zM522 58h2v2h-2zM524 58h2v2h-2zM526 58h2v2h-2zM528 58h2v2h-2zM456 60h2v2h-2zM458 60h2v2h-2zM460 60h2v2h-2zM462 60h2v2h-2zM464 60h2v2h-2zM466 60h2v2h-2zM524 60h2v2h-2zM526 60h2v2h-2zM528 60h2v2h-2zM530 60h2v2h-2zM454 62h2v2h-2zM456 62h2v2h-2zM458 62h2v2h-2zM460 62h2v2h-2zM462 62h2v2h-2zM464 62h2v2h-2zM526 62h2v2h-2zM528 62h2v2h-2zM530 62h2v2h-2zM532 62h2v2h-2zM452 64h2v2h-2zM454 64h2v2h-2zM456 64h2v2h-2zM458 64h2v2h-2zM460 64h2v2h-2zM462 64h2v2h-2zM528 64h2v2h-2zM530 64h2v2h-2zM532 64h2v2h-2zM534 64h2v2h-2zM450 66h2v2h-2zM452 66h2v2h-2zM454 66h2v2h-2zM456 66h2v2h-2zM458 66h2v2h-2zM460 66h2v2h-2zM530 66h2v2h-2zM532 66h2v2h-2zM534 66h2v2h-2zM536 66h2v2h-2zM450 68h2v2h-2zM452 68h2v2h-2zM454 68h2v2h-2zM456 68h2v2h-2zM458 68h2v2h-2zM532 68h2v2h-2zM534 68h2v2h-2zM536 68h2v2h-2zM538 68h2v2h-2zM450 70h2v2h-2zM452 70h2v2h-2zM454 70h2v2h-2zM456 70h2v2h-2zM534 70h2v2h-2zM536 70h2v2h-2zM538 70h2v2h-2zM450 72h2v2h-2zM452 72h2v2h-2zM454 72h2v2h-2zM536 72h2v2h-2zM538 72h2v2h-2zM540 72h2v2h-2zM450 74h2v2h-2zM452 74h2v2h-2zM536 74h2v2h-2zM538 74h2v2h-2zM540 74h2v2h-2zM542 74h2v2h-2zM450 76h2v2h-2zM452 76h2v2h-2zM538 76h2v2h-2zM540 76h2v2h-2zM542 76h2v2h-2zM450 78h2v2h-2zM538 78h2v2h-2zM540 78h2v2h-2zM542 78h2v2h-2zM450 80h2v2h-2zM540 80h2v2h-2zM542 80h2v2h-2zM544 80h2v2h-2zM450 82h2v2h-2zM540 82h2v2h-2zM542 82h2v2h-2zM544 82h2v2h-2zM540 84h2v2h-2zM542 84h2v2h-2zM544 84h2v2h-2zM546 84h2v2h-2zM542 86h2v2h-2zM544 86h2v2h-2zM546 86h2v2h-2zM542 88h2v2h-2zM544 88h2v2h-2zM546 88h2v2h-2zM542 90h2v2h-2zM544 90h2v2h-2zM546 90h2v2h-2zM542 92h2v2h-2zM544 92h2v2h-2zM546 92h2v2h-2zM544 94h2v2h-2zM546 94h2v2h-2zM544 96h2v2h-2zM546 96h2v2h-2zM548 96h2v2h-2zM544 98h2v2h-2zM546 98h2v2h-2zM548 98h2v2h-2zM544 100h2v2h-2zM546 100h2v2h-2zM548 100h2v2h-2zM544 102h2v2h-2zM546 102h2v2h-2zM548 102h2v2h-2zM544 104h2v2h-2zM546 104h2v2h-2zM544 106h2v2h-2zM546 106h2v2h-2zM542 108h2v2h-2zM544 108h2v2h-2zM546 108h2v2h-2zM542 110h2v2h-2zM544 110h2v2h-2zM546 110h2v2h-2zM542 112h2v2h-2zM544 112h2v2h-2zM546 112h2v2h-2zM450 114h2v2h-2zM542 114h2v2h-2zM544 114h2v2h-2zM546 114h2v2h-2zM450 116h2v2h-2zM540 116h2v2h-2zM542 116h2v2h-2zM544 116h2v2h-2zM450 118h2v2h-2zM540 118h2v2h-2zM542 118h2v2h-2zM544 118h2v2h-2zM450 120h2v2h-2zM452 120h2v2h-2zM540 120h2v2h-2zM542 120h2v2h-2zM544 120h2v2h-2zM450 122h2v2h-2zM452 122h2v2h-2zM538 122h2v2h-2zM540 122h2v2h-2zM542 122h2v2h-2zM450 124h2v2h-2zM452 124h2v2h-2zM454 124h2v2h-2zM538 124h2v2h-2zM540 124h2v2h-2zM542 124h2v2h-2zM450 126h2v2h-2zM452 126h2v2h-2zM454 126h2v2h-2zM456 126h2v2h-2zM536 126h2v2h-2zM538 126h2v2h-2zM540 126h2v2h-2zM450 128h2v2h-2zM452 128h2v2h-2zM454 128h2v2h-2zM456 128h2v2h-2zM458 128h2v2h-2zM534 128h2v2h-2zM536 128h2v2h-2zM538 128h2v2h-2zM540 128h2v2h-2zM452 130h2v2h-2zM454 130h2v2h-2zM456 130h2v2h-2zM458 130h2v2h-2zM532 130h2v2h-2zM534 130h2v2h-2zM536 130h2v2h-2zM538 130h2v2h-2zM452 132h2v2h-2zM454 132h2v2h-2zM456 132h2v2h-2zM458 132h2v2h-2zM460 132h2v2h-2zM532 132h2v2h-2zM534 132h2v2h-2zM536 132h2v2h-2zM454 134h2v2h-2zM456 134h2v2h-2zM458 134h2v2h-2zM460 134h2v2h-2zM462 134h2v2h-2zM530 134h2v2h-2zM532 134h2v2h-2zM534 134h2v2h-2zM456 136h2v2h-2zM458 136h2v2h-2zM460 136h2v2h-2zM462 136h2v2h-2zM464 136h2v2h-2zM466 136h2v2h-2zM526 136h2v2h-2zM528 136h2v2h-2zM530 136h2v2h-2zM532 136h2v2h-2zM458 138h2v2h-2zM460 138h2v2h-2zM462 138h2v2h-2zM464 138h2v2h-2zM466 138h2v2h-2zM468 138h2v2h-2zM524 138h2v2h-2zM526 138h2v2h-2zM528 138h2v2h-2zM530 138h2v2h-2zM462 140h2v2h-2zM464 140h2v2h-2zM466 140h2v2h-2zM468 140h2v2h-2zM470 140h2v2h-2zM472 140h2v2h-2zM520 140h2v2h-2zM522 140h2v2h-2zM524 140h2v2h-2zM526 140h2v2h-2zM528 140h2v2h-2zM464 142h2v2h-2zM466 142h2v2h-2zM468 142h2v2h-2zM470 142h2v2h-2zM472 142h2v2h-2zM474 142h2v2h-2zM476 142h2v2h-2zM516 142h2v2h-2zM518 142h2v2h-2zM520 142h2v2h-2zM522 142h2v2h-2zM524 142h2v2h-2zM526 142h2v2h-2zM466 144h2v2h-2zM468 144h2v2h-2zM470 144h2v2h-2zM472 144h2v2h-2zM474 144h2v2h-2zM476 144h2v2h-2zM478 144h2v2h-2zM480 144h2v2h-2zM482 144h2v2h-2zM510 144h2v2h-2zM512 144h2v2h-2zM514 144h2v2h-2zM516 144h2v2h-2zM518 144h2v2h-2zM520 144h2v2h-2zM522 144h2v2h-2zM470 146h2v2h-2zM472 146h2v2h-2zM474 146h2v2h-2zM476 146h2v2h-2zM478 146h2v2h-2zM480 146h2v2h-2zM482 146h2v2h-2zM484 146h2v2h-2zM486 146h2v2h-2zM488 146h2v2h-2zM490 146h2v2h-2zM492 146h2v2h-2zM494 146h2v2h-2zM496 146h2v2h-2zM498 146h2v2h-2zM500 146h2v2h-2zM502 146h2v2h-2zM504 146h2v2h-2zM506 146h2v2h-2zM508 146h2v2h-2zM510 146h2v2h-2zM512 146h2v2h-2zM514 146h2v2h-2zM516 146h2v2h-2zM518 146h2v2h-2zM520 146h2v2h-2zM474 148h2v2h-2zM476 148h2v2h-2zM478 148h2v2h-2zM480 148h2v2h-2zM482 148h2v2h-2zM484 148h2v2h-2zM486 148h2v2h-2zM488 148h2v2h-2zM490 148h2v2h-2zM492 148h2v2h-2zM494 148h2v2h-2zM496 148h2v2h-2zM498 148h2v2h-2zM500 148h2v2h-2zM502 148h2v2h-2zM504 148h2v2h-2zM506 148h2v2h-2zM508 148h2v2h-2zM510 148h2v2h-2zM512 148h2v2h-2zM514 148h2v2h-2z"/><path fill="#020202" d="M488 52h2v2h-2zM490 52h2v2h-2zM492 52h2v2h-2zM494 52h2v2h-2zM496 52h2v2h-2zM498 52h2v2h-2zM500 52h2v2h-2zM480 54h2v2h-2zM482 54h2v2h-2zM484 54h2v2h-2zM486 54h2v2h-2zM488 54h2v2h-2zM490 54h2v2h-2zM492 54h2v2h-2zM494 54h2v2h-2zM496 54h2v2h-2zM498 54h2v2h-2zM500 54h2v2h-2zM502 54h2v2h-2zM504 54h2v2h-2zM506 54h2v2h-2zM508 54h2v2h-2zM476 56h2v2h-2zM478 56h2v2h-2zM480 56h2v2h-2zM482 56h2v2h-2zM484 56h2v2h-2zM508 56h2v2h-2zM510 56h2v2h-2zM512 56h2v2h-2zM514 56h2v2h-2zM472 58h2v2h-2zM474 58h2v2h-2zM476 58h2v2h-2zM478 58h2v2h-2zM514 58h2v2h-2zM516 58h2v2h-2zM518 58h2v2h-2zM468 60h2v2h-2zM470 60h2v2h-2zM472 60h2v2h-2zM474 60h2v2h-2zM518 60h2v2h-2zM520 60h2v2h-2zM522 60h2v2h-2zM466 62h2v2h-2zM468 62h2v2h-2zM470 62h2v2h-2zM522 62h2v2h-2zM524 62h2v2h-2zM464 64h2v2h-2zM466 64h2v2h-2zM468 64h2v2h-2zM524 64h2v2h-2zM526 64h2v2h-2zM462 66h2v2h-2zM464 66h2v2h-2zM526 66h2v2h-2zM528 66h2v2h-2zM460 68h2v2h-2zM462 68h2v2h-2zM528 68h2v2h-2zM530 68h2v2h-2zM458 70h2v2h-2zM460 70h2v2h-2zM530 70h2v2h-2zM532 70h2v2h-2zM456 72h2v2h-2zM458 72h2v2h-2zM460 72h2v2h-2zM532 72h2v2h-2zM534 72h2v2h-2zM454 74h2v2h-2zM456 74h2v2h-2zM458 74h2v2h-2zM534 74h2v2h-2zM454 76h2v2h-2zM456 76h2v2h-2zM534 76h2v2h-2zM536 76h2v2h-2zM452 78h2v2h-2zM454 78h2v2h-2zM456 78h2v2h-2zM536 78h2v2h-2zM452 80h2v2h-2zM454 80h2v2h-2zM536 80h2v2h-2zM538 80h2v2h-2zM452 82h2v2h-2zM454 82h2v2h-2zM538 82h2v2h-2zM450 84h2v2h-2zM452 84h2v2h-2zM538 84h2v2h-2zM450 86h2v2h-2zM452 86h2v2h-2zM538 86h2v2h-2zM540 86h2v2h-2zM450 88h2v2h-2zM452 88h2v2h-2zM540 88h2v2h-2zM450 90h2v2h-2zM540 90h2v2h-2zM450 92h2v2h-2zM540 92h2v2h-2zM450 94h2v2h-2zM540 94h2v2h-2zM542 94h2v2h-2zM450 96h2v2h-2zM540 96h2v2h-2zM542 96h2v2h-2zM450 98h2v2h-2zM540 98h2v2h-2zM542 98h2v2h-2zM450 100h2v2h-2zM540 100h2v2h-2zM542 100h2v2h-2zM450 102h2v2h-2zM540 102h2v2h-2zM542 102h2v2h-2zM450 104h2v2h-2zM540 104h2v2h-2zM542 104h2v2h-2zM450 106h2v2h-2zM540 106h2v2h-2zM542 106h2v2h-2zM450 108h2v2h-2zM540 108h2v2h-2zM450 110h2v2h-2zM452 110h2v2h-2zM540 110h2v2h-2zM450 112h2v2h-2zM452 112h2v2h-2zM540 112h2v2h-2zM452 114h2v2h-2zM538 114h2v2h-2zM540 114h2v2h-2zM452 116h2v2h-2zM454 116h2v2h-2zM538 116h2v2h-2zM452 118h2v2h-2zM454 118h2v2h-2zM538 118h2v2h-2zM454 120h2v2h-2zM456 120h2v2h-2zM536 120h2v2h-2zM538 120h2v2h-2zM454 122h2v2h-2zM456 122h2v2h-2zM536 122h2v2h-2zM456 124h2v2h-2zM458 124h2v2h-2zM534 124h2v2h-2zM536 124h2v2h-2zM458 126h2v2h-2zM460 126h2v2h-2zM532 126h2v2h-2zM534 126h2v2h-2zM460 128h2v2h-2zM462 128h2v2h-2zM532 128h2v2h-2zM460 130h2v2h-2zM462 130h2v2h-2zM464 130h2v2h-2zM530 130h2v2h-2zM462 132h2v2h-2zM464 132h2v2h-2zM466 132h2v2h-2zM528 132h2v2h-2zM530 132h2v2h-2zM464 134h2v2h-2zM466 134h2v2h-2zM468 134h2v2h-2zM526 134h2v2h-2zM528 134h2v2h-2zM468 136h2v2h-2zM470 136h2v2h-2zM522 136h2v2h-2zM524 136h2v2h-2zM470 138h2v2h-2zM472 138h2v2h-2zM474 138h2v2h-2zM518 138h2v2h-2zM520 138h2v2h-2zM522 138h2v2h-2zM474 140h2v2h-2zM476 140h2v2h-2zM478 140h2v2h-2zM480 140h2v2h-2zM514 140h2v2h-2zM516 140h2v2h-2zM518 140h2v2h-2zM478 142h2v2h-2zM480 142h2v2h-2zM482 142h2v2h-2zM484 142h2v2h-2zM486 142h2v2h-2zM488 142h2v2h-2zM506 142h2v2h-2zM508 142h2v2h-2zM510 142h2v2h-2zM512 142h2v2h-2zM514 142h2v2h-2zM484 144h2v2h-2zM486 144h2v2h-2zM488 144h2v2h-2zM490 144h2v2h-2zM492 144h2v2h-2zM494 144h2v2h-2zM496 144h2v2h-2zM498 144h2v2h-2zM500 144h2v2h-2zM502 144h2v2h-2zM504 144h2v2h-2zM506 144h2v2h-2zM508 144h2v2h-2z"/><path fill="#030303" d="M486 56h2v2h-2zM488 56h2v2h-2zM490 56h2v2h-2zM492 56h2v2h-2zM494 56h2v2h-2zM496 56h2v2h-2zM498 56h2v2h-2zM500 56h2v2h-2zM502 56h2v2h-2zM504 56h2v2h-2zM506 56h2v2h-2zM480 58h2v2h-2zM482 58h2v2h-2zM484 58h2v2h-2zM508 58h2v2h-2zM510 58h2v2h-2zM512 58h2v2h-2zM476 60h2v2h-2zM478 60h2v2h-2zM514 60h2v2h-2zM516 60h2v2h-2zM472 62h2v2h-2zM474 62h2v2h-2zM518 62h2v2h-2zM520 62h2v2h-2zM470 64h2v2h-2zM472 64h2v2h-2zM522 64h2v2h-2zM466 66h2v2h-2zM468 66h2v2h-2zM524 66h2v2h-2zM464 68h2v2h-2zM466 68h2v2h-2zM526 68h2v2h-2zM462 70h2v2h-2zM464 70h2v2h-2zM528 70h2v2h-2zM462 72h2v2h-2zM530 72h2v2h-2zM460 74h2v2h-2zM532 74h2v2h-2zM458 76h2v2h-2zM460 76h2v2h-2zM532 76h2v2h-2zM458 78h2v2h-2zM534 78h2v2h-2zM456 80h2v2h-2zM534 80h2v2h-2zM456 82h2v2h-2zM536 82h2v2h-2zM454 84h2v2h-2zM456 84h2v2h-2zM536 84h2v2h-2zM454 86h2v2h-2zM536 86h2v2h-2zM454 88h2v2h-2zM538 88h2v2h-2zM452 90h2v2h-2zM454 90h2v2h-2zM538 90h2v2h-2zM452 92h2v2h-2zM538 92h2v2h-2zM452 94h2v2h-2zM538 94h2v2h-2zM452 96h2v2h-2zM538 96h2v2h-2zM452 98h2v2h-2zM538 98h2v2h-2zM452 100h2v2h-2zM452 102h2v2h-2zM452 104h2v2h-2zM538 104h2v2h-2zM452 106h2v2h-2zM538 106h2v2h-2zM452 108h2v2h-2zM454 108h2v2h-2zM538 108h2v2h-2zM454 110h2v2h-2zM538 110h2v2h-2zM454 112h2v2h-2zM538 112h2v2h-2zM454 114h2v2h-2zM456 114h2v2h-2zM456 116h2v2h-2zM536 116h2v2h-2zM456 118h2v2h-2zM536 118h2v2h-2zM458 120h2v2h-2zM534 120h2v2h-2zM458 122h2v2h-2zM460 122h2v2h-2zM534 122h2v2h-2zM460 124h2v2h-2zM532 124h2v2h-2zM462 126h2v2h-2zM530 126h2v2h-2zM464 128h2v2h-2zM530 128h2v2h-2zM466 130h2v2h-2zM528 130h2v2h-2zM468 132h2v2h-2zM526 132h2v2h-2zM470 134h2v2h-2zM472 134h2v2h-2zM522 134h2v2h-2zM524 134h2v2h-2zM472 136h2v2h-2zM474 136h2v2h-2zM476 136h2v2h-2zM520 136h2v2h-2zM476 138h2v2h-2zM478 138h2v2h-2zM480 138h2v2h-2zM514 138h2v2h-2zM516 138h2v2h-2zM482 140h2v2h-2zM484 140h2v2h-2zM486 140h2v2h-2zM488 140h2v2h-2zM508 140h2v2h-2zM510 140h2v2h-2zM512 140h2v2h-2zM490 142h2v2h-2zM492 142h2v2h-2zM494 142h2v2h-2zM496 142h2v2h-2zM498 142h2v2h-2zM500 142h2v2h-2zM502 142h2v2h-2zM504 142h2v2h-2z"/><path fill="#040404" d="M486 58h2v2h-2zM488 58h2v2h-2zM490 58h2v2h-2zM492 58h2v2h-2zM494 58h2v2h-2zM496 58h2v2h-2zM498 58h2v2h-2zM500 58h2v2h-2zM502 58h2v2h-2zM504 58h2v2h-2zM506 58h2v2h-2zM480 60h2v2h-2zM482 60h2v2h-2zM484 60h2v2h-2zM510 60h2v2h-2zM512 60h2v2h-2zM476 62h2v2h-2zM478 62h2v2h-2zM516 62h2v2h-2zM474 64h2v2h-2zM518 64h2v2h-2zM520 64h2v2h-2zM470 66h2v2h-2zM472 66h2v2h-2zM522 66h2v2h-2zM468 68h2v2h-2zM524 68h2v2h-2zM466 70h2v2h-2zM526 70h2v2h-2zM464 72h2v2h-2zM528 72h2v2h-2zM462 74h2v2h-2zM530 74h2v2h-2zM462 76h2v2h-2zM460 78h2v2h-2zM532 78h2v2h-2zM458 80h2v2h-2zM458 82h2v2h-2zM534 82h2v2h-2zM534 84h2v2h-2zM456 86h2v2h-2zM456 88h2v2h-2zM536 88h2v2h-2zM536 90h2v2h-2zM454 92h2v2h-2zM536 92h2v2h-2zM454 94h2v2h-2zM454 96h2v2h-2zM454 98h2v2h-2zM454 100h2v2h-2zM538 100h2v2h-2zM454 102h2v2h-2zM538 102h2v2h-2zM454 104h2v2h-2zM454 106h2v2h-2zM456 110h2v2h-2zM536 110h2v2h-2zM456 112h2v2h-2zM536 112h2v2h-2zM536 114h2v2h-2zM458 116h2v2h-2zM458 118h2v2h-2zM534 118h2v2h-2zM460 120h2v2h-2zM532 122h2v2h-2zM462 124h2v2h-2zM530 124h2v2h-2zM464 126h2v2h-2zM466 128h2v2h-2zM528 128h2v2h-2zM468 130h2v2h-2zM526 130h2v2h-2zM470 132h2v2h-2zM472 132h2v2h-2zM524 132h2v2h-2zM474 134h2v2h-2zM520 134h2v2h-2zM478 136h2v2h-2zM516 136h2v2h-2zM518 136h2v2h-2zM482 138h2v2h-2zM484 138h2v2h-2zM486 138h2v2h-2zM510 138h2v2h-2zM512 138h2v2h-2zM490 140h2v2h-2zM492 140h2v2h-2zM494 140h2v2h-2zM496 140h2v2h-2zM498 140h2v2h-2zM500 140h2v2h-2zM502 140h2v2h-2zM504 140h2v2h-2zM506 140h2v2h-2z"/><path fill="#050505" d="M486 60h2v2h-2zM488 60h2v2h-2zM506 60h2v2h-2zM508 60h2v2h-2zM480 62h2v2h-2zM512 62h2v2h-2zM514 62h2v2h-2zM476 64h2v2h-2zM474 66h2v2h-2zM520 66h2v2h-2zM470 68h2v2h-2zM522 68h2v2h-2zM468 70h2v2h-2zM524 70h2v2h-2zM466 72h2v2h-2zM526 72h2v2h-2zM464 74h2v2h-2zM528 74h2v2h-2zM530 76h2v2h-2zM462 78h2v2h-2zM460 80h2v2h-2zM532 80h2v2h-2zM460 82h2v2h-2zM532 82h2v2h-2zM458 84h2v2h-2zM458 86h2v2h-2zM534 86h2v2h-2zM534 88h2v2h-2zM456 90h2v2h-2zM456 92h2v2h-2zM456 94h2v2h-2zM536 94h2v2h-2zM456 96h2v2h-2zM536 96h2v2h-2zM456 98h2v2h-2zM536 98h2v2h-2zM456 100h2v2h-2zM536 100h2v2h-2zM456 102h2v2h-2zM536 102h2v2h-2zM456 104h2v2h-2zM536 104h2v2h-2zM456 106h2v2h-2zM536 106h2v2h-2zM456 108h2v2h-2zM536 108h2v2h-2zM458 112h2v2h-2zM458 114h2v2h-2zM534 114h2v2h-2zM534 116h2v2h-2zM460 118h2v2h-2zM532 120h2v2h-2zM462 122h2v2h-2zM464 124h2v2h-2zM466 126h2v2h-2zM528 126h2v2h-2zM468 128h2v2h-2zM526 128h2v2h-2zM470 130h2v2h-2zM524 130h2v2h-2zM474 132h2v2h-2zM522 132h2v2h-2zM476 134h2v2h-2zM478 134h2v2h-2zM518 134h2v2h-2zM480 136h2v2h-2zM482 136h2v2h-2zM514 136h2v2h-2zM488 138h2v2h-2zM490 138h2v2h-2zM492 138h2v2h-2zM506 138h2v2h-2zM508 138h2v2h-2z"/><path fill="#060606" d="M490 60h2v2h-2zM492 60h2v2h-2zM494 60h2v2h-2zM500 60h2v2h-2zM502 60h2v2h-2zM504 60h2v2h-2zM482 62h2v2h-2zM484 62h2v2h-2zM510 62h2v2h-2zM478 64h2v2h-2zM516 64h2v2h-2zM518 66h2v2h-2zM472 68h2v2h-2zM470 70h2v2h-2zM468 72h2v2h-2zM466 74h2v2h-2zM464 76h2v2h-2zM528 76h2v2h-2zM530 78h2v2h-2zM462 80h2v2h-2zM460 84h2v2h-2zM532 84h2v2h-2zM458 88h2v2h-2zM458 90h2v2h-2zM534 90h2v2h-2zM534 92h2v2h-2zM458 110h2v2h-2zM534 112h2v2h-2zM460 116h2v2h-2zM532 118h2v2h-2zM462 120h2v2h-2zM464 122h2v2h-2zM530 122h2v2h-2zM466 124h2v2h-2zM528 124h2v2h-2zM470 128h2v2h-2zM472 130h2v2h-2zM522 130h2v2h-2zM476 132h2v2h-2zM520 132h2v2h-2zM480 134h2v2h-2zM516 134h2v2h-2zM484 136h2v2h-2zM486 136h2v2h-2zM510 136h2v2h-2zM512 136h2v2h-2zM494 138h2v2h-2zM496 138h2v2h-2zM498 138h2v2h-2zM500 138h2v2h-2zM502 138h2v2h-2zM504 138h2v2h-2z"/><path fill="#070707" d="M496 60h2v2h-2zM498 60h2v2h-2zM486 62h2v2h-2zM508 62h2v2h-2zM480 64h2v2h-2zM514 64h2v2h-2zM476 66h2v2h-2zM474 68h2v2h-2zM520 68h2v2h-2zM522 70h2v2h-2zM524 72h2v2h-2zM526 74h2v2h-2zM464 78h2v2h-2zM530 80h2v2h-2zM462 82h2v2h-2zM460 86h2v2h-2zM532 86h2v2h-2zM458 92h2v2h-2zM458 94h2v2h-2zM534 94h2v2h-2zM534 96h2v2h-2zM534 98h2v2h-2zM458 104h2v2h-2zM458 106h2v2h-2zM534 106h2v2h-2zM458 108h2v2h-2zM534 108h2v2h-2zM534 110h2v2h-2zM460 114h2v2h-2zM532 116h2v2h-2zM462 118h2v2h-2zM530 120h2v2h-2zM468 126h2v2h-2zM526 126h2v2h-2zM524 128h2v2h-2zM474 130h2v2h-2zM478 132h2v2h-2zM518 132h2v2h-2zM482 134h2v2h-2zM514 134h2v2h-2zM488 136h2v2h-2zM490 136h2v2h-2zM508 136h2v2h-2z"/><path fill="#080808" d="M488 62h2v2h-2zM506 62h2v2h-2zM482 64h2v2h-2zM512 64h2v2h-2zM478 66h2v2h-2zM516 66h2v2h-2zM472 70h2v2h-2zM470 72h2v2h-2zM468 74h2v2h-2zM466 76h2v2h-2zM528 78h2v2h-2zM464 80h2v2h-2zM530 82h2v2h-2zM460 88h2v2h-2zM532 88h2v2h-2zM458 96h2v2h-2zM458 98h2v2h-2zM458 100h2v2h-2zM534 100h2v2h-2zM458 102h2v2h-2zM534 102h2v2h-2zM534 104h2v2h-2zM460 110h2v2h-2zM460 112h2v2h-2zM532 114h2v2h-2zM462 116h2v2h-2zM530 118h2v2h-2zM464 120h2v2h-2zM466 122h2v2h-2zM528 122h2v2h-2zM468 124h2v2h-2zM526 124h2v2h-2zM470 126h2v2h-2zM472 128h2v2h-2zM520 130h2v2h-2zM484 134h2v2h-2zM512 134h2v2h-2zM492 136h2v2h-2zM494 136h2v2h-2zM496 136h2v2h-2zM498 136h2v2h-2zM500 136h2v2h-2zM502 136h2v2h-2zM504 136h2v2h-2zM506 136h2v2h-2z"/><path fill="#090909" d="M490 62h2v2h-2zM492 62h2v2h-2zM502 62h2v2h-2zM504 62h2v2h-2zM484 64h2v2h-2zM510 64h2v2h-2zM480 66h2v2h-2zM476 68h2v2h-2zM518 68h2v2h-2zM520 70h2v2h-2zM524 74h2v2h-2zM526 76h2v2h-2zM466 78h2v2h-2zM528 80h2v2h-2zM462 84h2v2h-2zM530 84h2v2h-2zM460 90h2v2h-2zM532 90h2v2h-2zM532 92h2v2h-2zM460 108h2v2h-2zM532 112h2v2h-2zM462 114h2v2h-2zM464 118h2v2h-2zM524 126h2v2h-2zM522 128h2v2h-2zM476 130h2v2h-2zM480 132h2v2h-2zM516 132h2v2h-2zM486 134h2v2h-2zM488 134h2v2h-2zM510 134h2v2h-2z"/><path fill="#0a0a0a" d="M494 62h2v2h-2zM496 62h2v2h-2zM498 62h2v2h-2zM500 62h2v2h-2zM486 64h2v2h-2zM514 66h2v2h-2zM474 70h2v2h-2zM472 72h2v2h-2zM522 72h2v2h-2zM470 74h2v2h-2zM468 76h2v2h-2zM464 82h2v2h-2zM462 86h2v2h-2zM530 86h2v2h-2zM460 92h2v2h-2zM460 94h2v2h-2zM532 94h2v2h-2zM532 96h2v2h-2zM460 106h2v2h-2zM532 108h2v2h-2zM532 110h2v2h-2zM530 116h2v2h-2zM466 120h2v2h-2zM528 120h2v2h-2zM472 126h2v2h-2zM474 128h2v2h-2zM478 130h2v2h-2zM518 130h2v2h-2zM482 132h2v2h-2zM514 132h2v2h-2zM490 134h2v2h-2zM508 134h2v2h-2z"/><path fill="#0b0b0b" d="M488 64h2v2h-2zM508 64h2v2h-2zM482 66h2v2h-2zM478 68h2v2h-2zM516 68h2v2h-2zM526 78h2v2h-2zM466 80h2v2h-2zM528 82h2v2h-2zM462 88h2v2h-2zM530 88h2v2h-2zM460 96h2v2h-2zM460 98h2v2h-2zM532 98h2v2h-2zM460 100h2v2h-2zM532 100h2v2h-2zM460 102h2v2h-2zM532 102h2v2h-2zM460 104h2v2h-2zM532 104h2v2h-2zM532 106h2v2h-2zM462 112h2v2h-2zM530 114h2v2h-2zM464 116h2v2h-2zM468 122h2v2h-2zM526 122h2v2h-2zM470 124h2v2h-2zM524 124h2v2h-2zM522 126h2v2h-2zM520 128h2v2h-2zM484 132h2v2h-2zM492 134h2v2h-2zM494 134h2v2h-2zM506 134h2v2h-2z"/><path fill="#0c0c0c" d="M506 64h2v2h-2zM512 66h2v2h-2zM476 70h2v2h-2zM518 70h2v2h-2zM524 76h2v2h-2zM464 84h2v2h-2zM528 84h2v2h-2zM530 90h2v2h-2zM462 110h2v2h-2zM530 112h2v2h-2zM466 118h2v2h-2zM528 118h2v2h-2zM476 128h2v2h-2zM480 130h2v2h-2zM516 130h2v2h-2zM486 132h2v2h-2zM512 132h2v2h-2zM496 134h2v2h-2zM498 134h2v2h-2zM500 134h2v2h-2zM502 134h2v2h-2zM504 134h2v2h-2z"/><path fill="#0d0d0d" d="M490 64h2v2h-2zM504 64h2v2h-2zM484 66h2v2h-2zM480 68h2v2h-2zM474 72h2v2h-2zM520 72h2v2h-2zM472 74h2v2h-2zM522 74h2v2h-2zM470 76h2v2h-2zM468 78h2v2h-2zM526 80h2v2h-2zM462 90h2v2h-2zM530 92h2v2h-2zM462 108h2v2h-2zM464 114h2v2h-2zM468 120h2v2h-2zM526 120h2v2h-2zM474 126h2v2h-2zM482 130h2v2h-2zM488 132h2v2h-2zM510 132h2v2h-2z"/><path fill="#0e0e0e" d="M492 64h2v2h-2zM494 64h2v2h-2zM502 64h2v2h-2zM510 66h2v2h-2zM514 68h2v2h-2zM524 78h2v2h-2zM466 82h2v2h-2zM464 86h2v2h-2zM528 86h2v2h-2zM462 92h2v2h-2zM530 94h2v2h-2zM530 110h2v2h-2zM528 116h2v2h-2zM470 122h2v2h-2zM524 122h2v2h-2zM472 124h2v2h-2zM520 126h2v2h-2zM478 128h2v2h-2zM518 128h2v2h-2zM514 130h2v2h-2zM490 132h2v2h-2z"/><path fill="#0f0f0f" d="M496 64h2v2h-2zM498 64h2v2h-2zM500 64h2v2h-2zM486 66h2v2h-2zM478 70h2v2h-2zM516 70h2v2h-2zM526 82h2v2h-2zM528 88h2v2h-2zM462 94h2v2h-2zM530 96h2v2h-2zM462 104h2v2h-2zM462 106h2v2h-2zM530 106h2v2h-2zM530 108h2v2h-2zM464 112h2v2h-2zM466 116h2v2h-2zM522 124h2v2h-2zM476 126h2v2h-2zM484 130h2v2h-2zM492 132h2v2h-2zM508 132h2v2h-2z"/><path fill="#101010" d="M508 66h2v2h-2zM482 68h2v2h-2zM518 72h2v2h-2zM520 74h2v2h-2zM522 76h2v2h-2zM468 80h2v2h-2zM464 88h2v2h-2zM462 96h2v2h-2zM462 98h2v2h-2zM530 98h2v2h-2zM462 100h2v2h-2zM530 100h2v2h-2zM462 102h2v2h-2zM530 102h2v2h-2zM530 104h2v2h-2zM528 114h2v2h-2zM526 118h2v2h-2zM480 128h2v2h-2zM516 128h2v2h-2zM486 130h2v2h-2zM512 130h2v2h-2zM494 132h2v2h-2zM496 132h2v2h-2zM504 132h2v2h-2zM506 132h2v2h-2z"/><path fill="#111111" d="M488 66h2v2h-2zM512 68h2v2h-2zM476 72h2v2h-2zM470 78h2v2h-2zM524 80h2v2h-2zM466 84h2v2h-2zM526 84h2v2h-2zM528 90h2v2h-2zM464 110h2v2h-2zM468 118h2v2h-2zM470 120h2v2h-2zM472 122h2v2h-2zM474 124h2v2h-2zM488 130h2v2h-2zM498 132h2v2h-2zM500 132h2v2h-2zM502 132h2v2h-2z"/><path fill="#121212" d="M506 66h2v2h-2zM474 74h2v2h-2zM472 76h2v2h-2zM464 90h2v2h-2zM528 112h2v2h-2zM466 114h2v2h-2zM524 120h2v2h-2zM478 126h2v2h-2zM518 126h2v2h-2zM482 128h2v2h-2zM510 130h2v2h-2z"/><path fill="#131313" d="M490 66h2v2h-2zM504 66h2v2h-2zM484 68h2v2h-2zM480 70h2v2h-2zM514 70h2v2h-2zM522 78h2v2h-2zM526 86h2v2h-2zM528 92h2v2h-2zM464 108h2v2h-2zM528 110h2v2h-2zM526 116h2v2h-2zM522 122h2v2h-2zM520 124h2v2h-2zM514 128h2v2h-2zM490 130h2v2h-2z"/><path fill="#141414" d="M492 66h2v2h-2zM510 68h2v2h-2zM468 82h2v2h-2zM524 82h2v2h-2zM466 86h2v2h-2zM464 92h2v2h-2zM528 94h2v2h-2zM468 116h2v2h-2zM476 124h2v2h-2zM484 128h2v2h-2zM492 130h2v2h-2zM508 130h2v2h-2z"/><path fill="#151515" d="M494 66h2v2h-2zM502 66h2v2h-2zM478 72h2v2h-2zM516 72h2v2h-2zM518 74h2v2h-2zM520 76h2v2h-2zM528 96h2v2h-2zM464 106h2v2h-2zM528 108h2v2h-2zM466 112h2v2h-2zM526 114h2v2h-2zM524 118h2v2h-2zM480 126h2v2h-2zM486 128h2v2h-2zM494 130h2v2h-2z"/><path fill="#161616" d="M496 66h2v2h-2zM498 66h2v2h-2zM500 66h2v2h-2zM486 68h2v2h-2zM470 80h2v2h-2zM526 88h2v2h-2zM464 94h2v2h-2zM528 98h2v2h-2zM464 104h2v2h-2zM528 106h2v2h-2zM470 118h2v2h-2zM472 120h2v2h-2zM474 122h2v2h-2zM516 126h2v2h-2zM512 128h2v2h-2zM496 130h2v2h-2zM506 130h2v2h-2z"/><path fill="#171717" d="M508 68h2v2h-2zM482 70h2v2h-2zM512 70h2v2h-2zM476 74h2v2h-2zM474 76h2v2h-2zM472 78h2v2h-2zM522 80h2v2h-2zM524 84h2v2h-2zM466 88h2v2h-2zM464 96h2v2h-2zM528 100h2v2h-2zM464 102h2v2h-2zM528 102h2v2h-2zM528 104h2v2h-2zM522 120h2v2h-2zM478 124h2v2h-2zM518 124h2v2h-2zM482 126h2v2h-2zM488 128h2v2h-2zM498 130h2v2h-2zM500 130h2v2h-2zM502 130h2v2h-2zM504 130h2v2h-2z"/><path fill="#181818" d="M468 84h2v2h-2zM526 90h2v2h-2zM464 98h2v2h-2zM464 100h2v2h-2zM466 110h2v2h-2zM526 112h2v2h-2zM468 114h2v2h-2zM520 122h2v2h-2z"/><path fill="#191919" d="M488 68h2v2h-2zM520 78h2v2h-2zM524 116h2v2h-2zM490 128h2v2h-2zM510 128h2v2h-2z"/><path fill="#1a1a1a" d="M506 68h2v2h-2zM480 72h2v2h-2zM514 72h2v2h-2zM524 86h2v2h-2zM466 90h2v2h-2zM526 92h2v2h-2zM526 110h2v2h-2zM476 122h2v2h-2zM484 126h2v2h-2zM514 126h2v2h-2z"/><path fill="#1b1b1b" d="M484 70h2v2h-2zM510 70h2v2h-2zM516 74h2v2h-2zM518 76h2v2h-2zM470 82h2v2h-2zM522 82h2v2h-2zM466 108h2v2h-2zM470 116h2v2h-2zM474 120h2v2h-2zM480 124h2v2h-2zM492 128h2v2h-2zM508 128h2v2h-2z"/><path fill="#1c1c1c" d="M490 68h2v2h-2zM504 68h2v2h-2zM468 86h2v2h-2zM526 94h2v2h-2zM526 108h2v2h-2zM524 114h2v2h-2zM472 118h2v2h-2zM522 118h2v2h-2zM516 124h2v2h-2zM486 126h2v2h-2zM494 128h2v2h-2z"/><path fill="#1d1d1d" d="M478 74h2v2h-2zM472 80h2v2h-2zM524 88h2v2h-2zM466 92h2v2h-2zM468 112h2v2h-2zM520 120h2v2h-2zM518 122h2v2h-2zM512 126h2v2h-2zM506 128h2v2h-2z"/><path fill="#1e1e1e" d="M492 68h2v2h-2zM502 68h2v2h-2zM476 76h2v2h-2zM520 80h2v2h-2zM526 96h2v2h-2zM466 106h2v2h-2zM526 106h2v2h-2zM478 122h2v2h-2zM482 124h2v2h-2zM488 126h2v2h-2zM496 128h2v2h-2zM504 128h2v2h-2z"/><path fill="#1f1f1f" d="M512 72h2v2h-2zM474 78h2v2h-2zM522 84h2v2h-2zM466 94h2v2h-2zM526 98h2v2h-2zM526 104h2v2h-2zM498 128h2v2h-2zM500 128h2v2h-2zM502 128h2v2h-2z"/><path fill="#202020" d="M494 68h2v2h-2zM496 68h2v2h-2zM498 68h2v2h-2zM500 68h2v2h-2zM486 70h2v2h-2zM508 70h2v2h-2zM482 72h2v2h-2zM526 100h2v2h-2zM526 102h2v2h-2zM466 104h2v2h-2zM524 112h2v2h-2zM470 114h2v2h-2zM522 116h2v2h-2z"/><path fill="#212121" d="M514 74h2v2h-2zM518 78h2v2h-2zM470 84h2v2h-2zM468 88h2v2h-2zM524 90h2v2h-2zM466 96h2v2h-2zM466 102h2v2h-2zM468 110h2v2h-2zM476 120h2v2h-2zM484 124h2v2h-2zM514 124h2v2h-2zM490 126h2v2h-2zM510 126h2v2h-2z"/><path fill="#222222" d="M516 76h2v2h-2zM466 98h2v2h-2zM466 100h2v2h-2zM472 116h2v2h-2zM474 118h2v2h-2zM480 122h2v2h-2z"/><path fill="#232323" d="M520 82h2v2h-2zM522 86h2v2h-2zM524 110h2v2h-2zM520 118h2v2h-2zM516 122h2v2h-2zM492 126h2v2h-2z"/><path fill="#242424" d="M488 70h2v2h-2zM506 70h2v2h-2zM480 74h2v2h-2zM524 92h2v2h-2zM518 120h2v2h-2zM486 124h2v2h-2zM508 126h2v2h-2z"/><path fill="#252525" d="M510 72h2v2h-2zM472 82h2v2h-2zM468 90h2v2h-2zM468 108h2v2h-2zM524 108h2v2h-2zM522 114h2v2h-2zM512 124h2v2h-2zM494 126h2v2h-2z"/><path fill="#262626" d="M484 72h2v2h-2zM470 112h2v2h-2zM478 120h2v2h-2zM482 122h2v2h-2zM496 126h2v2h-2zM506 126h2v2h-2z"/><path fill="#272727" d="M478 76h2v2h-2zM474 80h2v2h-2zM518 80h2v2h-2zM470 86h2v2h-2zM524 94h2v2h-2zM488 124h2v2h-2zM504 126h2v2h-2z"/><path fill="#282828" d="M490 70h2v2h-2zM504 70h2v2h-2zM476 78h2v2h-2zM522 88h2v2h-2zM524 106h2v2h-2zM520 116h2v2h-2zM498 126h2v2h-2zM500 126h2v2h-2zM502 126h2v2h-2z"/><path fill="#292929" d="M512 74h2v2h-2zM520 84h2v2h-2zM468 92h2v2h-2zM524 96h2v2h-2zM524 104h2v2h-2zM468 106h2v2h-2zM522 112h2v2h-2zM472 114h2v2h-2zM476 118h2v2h-2zM514 122h2v2h-2zM510 124h2v2h-2z"/><path fill="#2a2a2a" d="M514 76h2v2h-2zM516 78h2v2h-2zM524 102h2v2h-2zM474 116h2v2h-2zM518 118h2v2h-2zM516 120h2v2h-2zM484 122h2v2h-2zM490 124h2v2h-2z"/><path fill="#2b2b2b" d="M492 70h2v2h-2zM502 70h2v2h-2zM508 72h2v2h-2zM524 98h2v2h-2zM524 100h2v2h-2z"/><path fill="#2c2c2c" d="M482 74h2v2h-2zM522 90h2v2h-2zM468 104h2v2h-2zM470 110h2v2h-2zM522 110h2v2h-2zM480 120h2v2h-2zM492 124h2v2h-2z"/><path fill="#2d2d2d" d="M494 70h2v2h-2zM500 70h2v2h-2zM486 72h2v2h-2zM472 84h2v2h-2zM468 94h2v2h-2zM520 114h2v2h-2zM486 122h2v2h-2zM508 124h2v2h-2z"/><path fill="#2e2e2e" d="M496 70h2v2h-2zM498 70h2v2h-2zM518 82h2v2h-2zM520 86h2v2h-2zM470 88h2v2h-2zM512 122h2v2h-2zM494 124h2v2h-2z"/><path fill="#2f2f2f" d="M468 96h2v2h-2zM468 102h2v2h-2zM522 108h2v2h-2zM506 124h2v2h-2z"/><path fill="#303030" d="M468 98h2v2h-2zM468 100h2v2h-2zM518 116h2v2h-2zM478 118h2v2h-2zM482 120h2v2h-2zM496 124h2v2h-2z"/><path fill="#313131" d="M506 72h2v2h-2zM510 74h2v2h-2zM480 76h2v2h-2zM516 80h2v2h-2zM474 82h2v2h-2zM522 92h2v2h-2zM472 112h2v2h-2zM516 118h2v2h-2zM514 120h2v2h-2zM488 122h2v2h-2zM504 124h2v2h-2z"/><path fill="#323232" d="M522 106h2v2h-2zM470 108h2v2h-2zM520 112h2v2h-2zM498 124h2v2h-2zM500 124h2v2h-2zM502 124h2v2h-2z"/><path fill="#333333" d="M488 72h2v2h-2zM512 76h2v2h-2zM478 78h2v2h-2zM476 80h2v2h-2zM474 114h2v2h-2zM476 116h2v2h-2zM490 122h2v2h-2zM510 122h2v2h-2z"/><path fill="#343434" d="M514 78h2v2h-2zM518 84h2v2h-2zM520 88h2v2h-2zM470 90h2v2h-2zM522 94h2v2h-2zM484 120h2v2h-2z"/><path fill="#353535" d="M484 74h2v2h-2zM522 104h2v2h-2z"/><path fill="#363636" d="M504 72h2v2h-2zM472 86h2v2h-2zM520 110h2v2h-2zM518 114h2v2h-2zM480 118h2v2h-2zM512 120h2v2h-2zM492 122h2v2h-2zM508 122h2v2h-2z"/><path fill="#373737" d="M522 96h2v2h-2zM522 102h2v2h-2zM470 106h2v2h-2z"/><path fill="#383838" d="M490 72h2v2h-2zM522 98h2v2h-2zM522 100h2v2h-2zM516 116h2v2h-2zM514 118h2v2h-2zM486 120h2v2h-2zM494 122h2v2h-2z"/><path fill="#393939" d="M508 74h2v2h-2zM470 92h2v2h-2zM520 108h2v2h-2zM472 110h2v2h-2zM506 122h2v2h-2z"/><path fill="#3a3a3a" d="M516 82h2v2h-2zM520 90h2v2h-2zM496 122h2v2h-2z"/><path fill="#3b3b3b" d="M502 72h2v2h-2zM482 76h2v2h-2zM518 86h2v2h-2zM518 112h2v2h-2zM478 116h2v2h-2zM482 118h2v2h-2zM488 120h2v2h-2zM510 120h2v2h-2zM504 122h2v2h-2z"/><path fill="#3c3c3c" d="M492 72h2v2h-2zM474 84h2v2h-2zM470 104h2v2h-2zM498 122h2v2h-2zM500 122h2v2h-2zM502 122h2v2h-2z"/><path fill="#3d3d3d" d="M486 74h2v2h-2zM510 76h2v2h-2zM514 80h2v2h-2zM520 106h2v2h-2zM474 112h2v2h-2zM476 114h2v2h-2z"/><path fill="#3e3e3e" d="M500 72h2v2h-2zM472 88h2v2h-2zM470 94h2v2h-2zM516 114h2v2h-2zM512 118h2v2h-2zM490 120h2v2h-2z"/><path fill="#3f3f3f" d="M494 72h2v2h-2zM512 78h2v2h-2zM470 102h2v2h-2zM518 110h2v2h-2zM514 116h2v2h-2zM508 120h2v2h-2z"/><path fill="#404040" d="M498 72h2v2h-2zM506 74h2v2h-2zM480 78h2v2h-2zM476 82h2v2h-2zM520 92h2v2h-2zM520 104h2v2h-2zM484 118h2v2h-2zM492 120h2v2h-2z"/><path fill="#414141" d="M496 72h2v2h-2zM478 80h2v2h-2zM470 96h2v2h-2zM470 100h2v2h-2zM472 108h2v2h-2z"/><path fill="#424242" d="M516 84h2v2h-2zM470 98h2v2h-2zM480 116h2v2h-2zM494 120h2v2h-2zM506 120h2v2h-2z"/><path fill="#434343" d="M518 88h2v2h-2zM520 102h2v2h-2zM518 108h2v2h-2zM516 112h2v2h-2zM510 118h2v2h-2z"/><path fill="#444444" d="M520 94h2v2h-2zM486 118h2v2h-2zM496 120h2v2h-2zM504 120h2v2h-2z"/><path fill="#454545" d="M488 74h2v2h-2zM514 114h2v2h-2zM512 116h2v2h-2zM498 120h2v2h-2zM502 120h2v2h-2z"/><path fill="#464646" d="M520 100h2v2h-2zM518 106h2v2h-2zM500 120h2v2h-2z"/><path fill="#474747" d="M484 76h2v2h-2zM508 76h2v2h-2zM514 82h2v2h-2zM474 86h2v2h-2zM472 90h2v2h-2zM520 96h2v2h-2zM520 98h2v2h-2zM474 110h2v2h-2zM516 110h2v2h-2zM478 114h2v2h-2zM488 118h2v2h-2zM508 118h2v2h-2z"/><path fill="#484848" d="M504 74h2v2h-2zM472 106h2v2h-2zM482 116h2v2h-2z"/><path fill="#494949" d="M476 112h2v2h-2zM514 112h2v2h-2zM510 116h2v2h-2zM490 118h2v2h-2z"/><path fill="#4a4a4a" d="M512 80h2v2h-2zM516 86h2v2h-2zM518 90h2v2h-2zM518 104h2v2h-2zM516 108h2v2h-2zM512 114h2v2h-2zM506 118h2v2h-2z"/><path fill="#4b4b4b" d="M510 78h2v2h-2zM504 106h2v2h-2zM492 118h2v2h-2zM504 118h2v2h-2z"/><path fill="#4c4c4c" d="M490 74h2v2h-2zM502 106h2v2h-2zM504 108h2v2h-2zM514 110h2v2h-2zM508 116h2v2h-2zM494 118h2v2h-2zM502 118h2v2h-2z"/><path fill="#4d4d4d" d="M482 78h2v2h-2zM504 104h2v2h-2zM506 106h2v2h-2zM516 106h2v2h-2zM502 108h2v2h-2zM506 108h2v2h-2zM512 112h2v2h-2zM484 116h2v2h-2zM496 118h2v2h-2zM498 118h2v2h-2zM500 118h2v2h-2z"/><path fill="#4e4e4e" d="M502 74h2v2h-2zM476 84h2v2h-2zM472 92h2v2h-2zM518 102h2v2h-2zM472 104h2v2h-2zM506 104h2v2h-2zM510 114h2v2h-2z"/><path fill="#4f4f4f" d="M502 104h2v2h-2zM508 106h2v2h-2zM508 108h2v2h-2zM514 108h2v2h-2zM504 110h2v2h-2zM506 110h2v2h-2zM512 110h2v2h-2zM480 114h2v2h-2zM506 116h2v2h-2z"/><path fill="#505050" d="M518 92h2v2h-2zM502 110h2v2h-2zM508 110h2v2h-2zM510 112h2v2h-2zM508 114h2v2h-2zM486 116h2v2h-2zM504 116h2v2h-2z"/><path fill="#515151" d="M480 80h2v2h-2zM478 82h2v2h-2zM514 84h2v2h-2zM508 104h2v2h-2zM474 108h2v2h-2zM500 108h2v2h-2zM510 108h2v2h-2zM512 108h2v2h-2zM510 110h2v2h-2zM504 112h2v2h-2zM506 112h2v2h-2zM508 112h2v2h-2zM506 114h2v2h-2zM502 116h2v2h-2z"/><path fill="#525252" d="M492 74h2v2h-2zM486 76h2v2h-2zM506 76h2v2h-2zM518 100h2v2h-2zM516 104h2v2h-2zM500 106h2v2h-2zM510 106h2v2h-2zM514 106h2v2h-2zM500 110h2v2h-2zM502 112h2v2h-2zM504 114h2v2h-2zM500 116h2v2h-2z"/><path fill="#535353" d="M500 74h2v2h-2zM474 88h2v2h-2zM516 88h2v2h-2zM472 94h2v2h-2zM472 102h2v2h-2zM512 106h2v2h-2zM502 114h2v2h-2zM488 116h2v2h-2zM496 116h2v2h-2zM498 116h2v2h-2z"/><path fill="#545454" d="M504 102h2v2h-2zM478 112h2v2h-2zM500 112h2v2h-2zM500 114h2v2h-2zM490 116h2v2h-2zM492 116h2v2h-2zM494 116h2v2h-2z"/><path fill="#555555" d="M494 74h2v2h-2zM512 82h2v2h-2zM518 94h2v2h-2zM506 102h2v2h-2zM510 104h2v2h-2zM476 110h2v2h-2z"/><path fill="#565656" d="M498 74h2v2h-2zM472 96h2v2h-2zM518 98h2v2h-2zM472 100h2v2h-2zM512 104h2v2h-2zM514 104h2v2h-2zM482 114h2v2h-2zM498 114h2v2h-2z"/><path fill="#575757" d="M496 74h2v2h-2zM508 78h2v2h-2zM518 96h2v2h-2zM472 98h2v2h-2zM516 102h2v2h-2zM498 110h2v2h-2zM498 112h2v2h-2z"/><path fill="#585858" d="M510 80h2v2h-2zM508 102h2v2h-2zM498 108h2v2h-2zM496 114h2v2h-2z"/><path fill="#5a5a5a" d="M514 86h2v2h-2zM474 106h2v2h-2z"/><path fill="#5b5b5b" d="M504 76h2v2h-2zM516 90h2v2h-2zM510 102h2v2h-2zM500 104h2v2h-2zM484 114h2v2h-2zM494 114h2v2h-2z"/><path fill="#5c5c5c" d="M488 76h2v2h-2zM484 78h2v2h-2zM476 86h2v2h-2zM502 102h2v2h-2zM514 102h2v2h-2zM496 112h2v2h-2z"/><path fill="#5d5d5d" d="M474 90h2v2h-2zM516 100h2v2h-2zM512 102h2v2h-2zM498 106h2v2h-2zM492 114h2v2h-2z"/><path fill="#5e5e5e" d="M480 112h2v2h-2zM486 114h2v2h-2z"/><path fill="#5f5f5f" d="M496 110h2v2h-2zM488 114h2v2h-2zM490 114h2v2h-2z"/><path fill="#606060" d="M512 84h2v2h-2zM506 100h2v2h-2z"/><path fill="#616161" d="M516 92h2v2h-2zM476 108h2v2h-2zM494 112h2v2h-2z"/><path fill="#626262" d="M482 80h2v2h-2zM478 84h2v2h-2zM516 98h2v2h-2zM504 100h2v2h-2zM508 100h2v2h-2zM474 104h2v2h-2zM478 110h2v2h-2z"/><path fill="#636363" d="M502 76h2v2h-2zM506 78h2v2h-2zM514 88h2v2h-2zM514 100h2v2h-2zM496 108h2v2h-2z"/><path fill="#646464" d="M480 82h2v2h-2z"/><path fill="#656565" d="M490 76h2v2h-2zM510 82h2v2h-2zM474 92h2v2h-2zM516 94h2v2h-2zM516 96h2v2h-2zM510 100h2v2h-2zM482 112h2v2h-2z"/><path fill="#666666" d="M508 80h2v2h-2zM512 100h2v2h-2zM492 112h2v2h-2z"/><path fill="#676767" d="M494 110h2v2h-2z"/><path fill="#696969" d="M486 78h2v2h-2zM474 102h2v2h-2zM500 102h2v2h-2zM498 104h2v2h-2z"/><path fill="#6a6a6a" d="M500 76h2v2h-2zM512 86h2v2h-2zM476 88h2v2h-2zM490 112h2v2h-2z"/><path fill="#6b6b6b" d="M492 76h2v2h-2zM514 90h2v2h-2zM514 98h2v2h-2zM502 100h2v2h-2zM496 106h2v2h-2zM484 112h2v2h-2z"/><path fill="#6c6c6c" d="M474 94h2v2h-2z"/><path fill="#6d6d6d" d="M476 106h2v2h-2zM480 110h2v2h-2zM486 112h2v2h-2zM488 112h2v2h-2z"/><path fill="#6e6e6e" d="M498 76h2v2h-2zM506 98h2v2h-2zM508 98h2v2h-2zM474 100h2v2h-2z"/><path fill="#6f6f6f" d="M494 76h2v2h-2zM504 78h2v2h-2zM474 96h2v2h-2zM512 98h2v2h-2zM494 108h2v2h-2zM492 110h2v2h-2z"/><path fill="#707070" d="M496 76h2v2h-2zM510 84h2v2h-2zM514 92h2v2h-2zM514 96h2v2h-2zM474 98h2v2h-2zM510 98h2v2h-2zM478 108h2v2h-2z"/><path fill="#727272" d="M514 94h2v2h-2zM504 98h2v2h-2z"/><path fill="#737373" d="M484 80h2v2h-2zM512 88h2v2h-2z"/><path fill="#747474" d="M478 86h2v2h-2z"/><path fill="#757575" d="M506 80h2v2h-2zM508 82h2v2h-2z"/><path fill="#767676" d="M488 78h2v2h-2zM476 90h2v2h-2zM482 110h2v2h-2zM490 110h2v2h-2z"/><path fill="#777777" d="M512 96h2v2h-2zM476 104h2v2h-2z"/><path fill="#787878" d="M482 82h2v2h-2zM480 84h2v2h-2z"/><path fill="#797979" d="M512 90h2v2h-2zM498 102h2v2h-2zM496 104h2v2h-2z"/><path fill="#7a7a7a" d="M502 78h2v2h-2zM510 86h2v2h-2zM510 96h2v2h-2zM500 100h2v2h-2zM494 106h2v2h-2zM492 108h2v2h-2z"/><path fill="#7b7b7b" d="M508 96h2v2h-2zM484 110h2v2h-2zM488 110h2v2h-2z"/><path fill="#7c7c7c" d="M512 92h2v2h-2zM512 94h2v2h-2z"/><path fill="#7d7d7d" d="M506 96h2v2h-2zM502 98h2v2h-2zM480 108h2v2h-2zM486 110h2v2h-2z"/><path fill="#7e7e7e" d="M478 106h2v2h-2z"/><path fill="#808080" d="M490 78h2v2h-2zM476 92h2v2h-2zM476 102h2v2h-2z"/><path fill="#818181" d="M508 84h2v2h-2zM510 88h2v2h-2z"/><path fill="#828282" d="M500 78h2v2h-2zM510 94h2v2h-2z"/><path fill="#838383" d="M486 80h2v2h-2zM504 80h2v2h-2zM504 96h2v2h-2z"/><path fill="#848484" d="M506 82h2v2h-2zM478 88h2v2h-2zM490 108h2v2h-2z"/><path fill="#858585" d="M510 90h2v2h-2z"/><path fill="#868686" d="M510 92h2v2h-2zM508 94h2v2h-2z"/><path fill="#878787" d="M492 78h2v2h-2zM476 94h2v2h-2zM476 100h2v2h-2zM482 108h2v2h-2z"/><path fill="#888888" d="M498 78h2v2h-2zM492 106h2v2h-2z"/><path fill="#8a8a8a" d="M508 86h2v2h-2zM476 98h2v2h-2zM494 104h2v2h-2z"/><path fill="#8b8b8b" d="M494 78h2v2h-2zM496 78h2v2h-2zM506 94h2v2h-2zM476 96h2v2h-2zM498 100h2v2h-2zM496 102h2v2h-2zM478 104h2v2h-2zM488 108h2v2h-2z"/><path fill="#8c8c8c" d="M484 82h2v2h-2zM480 86h2v2h-2z"/><path fill="#8d8d8d" d="M508 92h2v2h-2zM500 98h2v2h-2zM480 106h2v2h-2zM484 108h2v2h-2z"/><path fill="#8e8e8e" d="M486 108h2v2h-2z"/><path fill="#8f8f8f" d="M502 80h2v2h-2zM482 84h2v2h-2zM502 96h2v2h-2z"/><path fill="#909090" d="M508 88h2v2h-2z"/><path fill="#919191" d="M488 80h2v2h-2zM506 84h2v2h-2zM508 90h2v2h-2z"/><path fill="#929292" d="M478 90h2v2h-2z"/><path fill="#939393" d="M504 94h2v2h-2z"/><path fill="#949494" d="M504 82h2v2h-2zM490 106h2v2h-2z"/><path fill="#969696" d="M506 92h2v2h-2z"/><path fill="#979797" d="M478 102h2v2h-2z"/><path fill="#999999" d="M492 104h2v2h-2zM482 106h2v2h-2z"/><path fill="#9a9a9a" d="M500 80h2v2h-2zM506 86h2v2h-2z"/><path fill="#9c9c9c" d="M490 80h2v2h-2zM478 92h2v2h-2zM494 102h2v2h-2z"/><path fill="#9d9d9d" d="M506 90h2v2h-2zM496 100h2v2h-2zM480 104h2v2h-2zM488 106h2v2h-2z"/><path fill="#9e9e9e" d="M486 82h2v2h-2zM480 88h2v2h-2zM506 88h2v2h-2zM498 98h2v2h-2z"/><path fill="#9f9f9f" d="M478 100h2v2h-2zM484 106h2v2h-2z"/><path fill="#a0a0a0" d="M500 96h2v2h-2zM486 106h2v2h-2z"/><path fill="#a1a1a1" d="M504 92h2v2h-2zM502 94h2v2h-2z"/><path fill="#a2a2a2" d="M498 80h2v2h-2zM504 84h2v2h-2z"/><path fill="#a3a3a3" d="M502 82h2v2h-2zM478 94h2v2h-2z"/><path fill="#a4a4a4" d="M492 80h2v2h-2zM484 84h2v2h-2zM482 86h2v2h-2z"/><path fill="#a5a5a5" d="M478 98h2v2h-2z"/><path fill="#a6a6a6" d="M478 96h2v2h-2z"/><path fill="#a7a7a7" d="M494 80h2v2h-2zM496 80h2v2h-2zM490 104h2v2h-2z"/><path fill="#aaaaaa" d="M504 86h2v2h-2zM504 90h2v2h-2zM480 102h2v2h-2zM482 104h2v2h-2z"/><path fill="#adadad" d="M488 82h2v2h-2zM504 88h2v2h-2zM480 90h2v2h-2zM492 102h2v2h-2z"/><path fill="#afafaf" d="M500 82h2v2h-2z"/><path fill="#b0b0b0" d="M502 92h2v2h-2zM494 100h2v2h-2zM488 104h2v2h-2z"/><path fill="#b1b1b1" d="M496 98h2v2h-2z"/><path fill="#b2b2b2" d="M502 84h2v2h-2zM500 94h2v2h-2zM498 96h2v2h-2zM484 104h2v2h-2z"/><path fill="#b4b4b4" d="M486 104h2v2h-2z"/><path fill="#b5b5b5" d="M480 100h2v2h-2z"/><path fill="#b7b7b7" d="M486 84h2v2h-2zM482 88h2v2h-2z"/><path fill="#b8b8b8" d="M480 92h2v2h-2z"/><path fill="#b9b9b9" d="M490 82h2v2h-2zM498 82h2v2h-2z"/><path fill="#bababa" d="M502 90h2v2h-2zM482 102h2v2h-2zM490 102h2v2h-2z"/><path fill="#bbbbbb" d="M484 86h2v2h-2zM502 86h2v2h-2z"/><path fill="#bdbdbd" d="M480 98h2v2h-2z"/><path fill="#bebebe" d="M502 88h2v2h-2z"/><path fill="#bfbfbf" d="M480 94h2v2h-2z"/><path fill="#c0c0c0" d="M492 82h2v2h-2zM496 82h2v2h-2zM500 84h2v2h-2zM480 96h2v2h-2z"/><path fill="#c1c1c1" d="M500 92h2v2h-2zM492 100h2v2h-2z"/><path fill="#c2c2c2" d="M494 82h2v2h-2z"/><path fill="#c3c3c3" d="M494 98h2v2h-2zM484 102h2v2h-2zM488 102h2v2h-2z"/><path fill="#c4c4c4" d="M498 94h2v2h-2zM496 96h2v2h-2z"/><path fill="#c6c6c6" d="M486 102h2v2h-2z"/><path fill="#c7c7c7" d="M488 84h2v2h-2zM482 90h2v2h-2zM482 100h2v2h-2z"/><path fill="#cbcbcb" d="M500 86h2v2h-2zM500 90h2v2h-2z"/><path fill="#cccccc" d="M498 84h2v2h-2z"/><path fill="#cecece" d="M486 86h2v2h-2zM484 88h2v2h-2zM500 88h2v2h-2zM490 100h2v2h-2z"/><path fill="#d1d1d1" d="M482 92h2v2h-2zM482 98h2v2h-2z"/><path fill="#d2d2d2" d="M490 84h2v2h-2zM498 92h2v2h-2z"/><path fill="#d3d3d3" d="M484 100h2v2h-2z"/><path fill="#d4d4d4" d="M492 98h2v2h-2z"/><path fill="#d5d5d5" d="M496 84h2v2h-2zM494 96h2v2h-2z"/><path fill="#d6d6d6" d="M496 94h2v2h-2zM482 96h2v2h-2zM488 100h2v2h-2z"/><path fill="#d7d7d7" d="M482 94h2v2h-2z"/><path fill="#d8d8d8" d="M492 84h2v2h-2zM486 100h2v2h-2z"/><path fill="#d9d9d9" d="M494 84h2v2h-2zM498 86h2v2h-2z"/><path fill="#dbdbdb" d="M498 90h2v2h-2z"/><path fill="#dddddd" d="M488 86h2v2h-2zM484 90h2v2h-2z"/><path fill="#dedede" d="M498 88h2v2h-2z"/><path fill="#dfdfdf" d="M484 98h2v2h-2z"/><path fill="#e0e0e0" d="M490 98h2v2h-2z"/><path fill="#e1e1e1" d="M486 88h2v2h-2z"/><path fill="#e3e3e3" d="M496 86h2v2h-2zM496 92h2v2h-2z"/><path fill="#e4e4e4" d="M492 96h2v2h-2z"/><path fill="#e5e5e5" d="M494 94h2v2h-2z"/><path fill="#e6e6e6" d="M484 92h2v2h-2zM486 98h2v2h-2zM488 98h2v2h-2z"/><path fill="#e7e7e7" d="M490 86h2v2h-2zM484 96h2v2h-2z"/><path fill="#eaeaea" d="M494 86h2v2h-2zM496 90h2v2h-2zM484 94h2v2h-2z"/><path fill="#ebebeb" d="M492 86h2v2h-2zM496 88h2v2h-2z"/><path fill="#eeeeee" d="M488 88h2v2h-2zM486 90h2v2h-2z"/><path fill="#efefef" d="M490 96h2v2h-2z"/><path fill="#f0f0f0" d="M494 92h2v2h-2z"/><path fill="#f1f1f1" d="M492 94h2v2h-2zM486 96h2v2h-2z"/><path fill="#f3f3f3" d="M488 96h2v2h-2z"/><path fill="#f4f4f4" d="M494 88h2v2h-2z"/><path fill="#f5f5f5" d="M486 92h2v2h-2z"/><path fill="#f6f6f6" d="M490 88h2v2h-2zM494 90h2v2h-2zM486 94h2v2h-2z"/><path fill="#f8f8f8" d="M492 88h2v2h-2z"/><path fill="#f9f9f9" d="M488 90h2v2h-2zM490 94h2v2h-2z"/><path fill="#fafafa" d="M492 92h2v2h-2z"/><path fill="#fbfbfb" d="M488 94h2v2h-2z"/><path fill="#fdfdfd" d="M492 90h2v2h-2zM488 92h2v2h-2z"/><path fill="#fefefe" d="M490 90h2v2h-2z"/><path fill="#ffffff" d="M490 92h2v2h-2z"/></g></g><g style="font-family:'Liberation Sans',Arial,sans-serif" font-size="7" fill="#404040"><text x="454" y="154.3" text-anchor="middle">-10</text><text x="476.7" y="154.3" text-anchor="middle">-5</text><text x="499.4" y="154.3" text-anchor="middle">0</text><text x="522.2" y="154.3" text-anchor="middle">5</text><text x="544.9" y="154.3" text-anchor="middle">10</text><text x="452.8" y="148.7" text-anchor="end">-10</text><text x="452.8" y="126" text-anchor="end">-5</text><text x="452.8" y="103.2" text-anchor="end">0</text><text x="452.8" y="80.5" text-anchor="end">5</text><text x="452.8" y="57.8" text-anchor="end">10</text><text x="499.4" y="161.9" text-anchor="middle">x(mm)</text><text transform="translate(441 100) rotate(-90)" text-anchor="middle">y(mm)</text></g><path d="M24.5 357.6L75.7 324L115.7 368.1M24.5 338.1L75.7 304.5L115.7 348.6M24.5 318.6L75.7 285L115.7 329.1M24.5 299.1L75.7 265.5L115.7 309.6M24.5 279.6L75.7 246L115.7 290.1M24.5 260.1L75.7 226.5L115.7 270.6M24.5 357.6V260.1M115.7 368.1V270.6M50.1 340.8V243.3M95.7 346.1V248.6M75.7 324V226.5M75.7 324V226.5" stroke="#e3e3e3" stroke-width=".6" fill="none"/><path d="M24.5 357.6V260.1" stroke="#a8a8a8" stroke-width=".8" fill="none"/><path d="M64.5 401.7L115.7 368.1L75.7 324L24.5 357.6Z" fill="#3937a6"/><g fill="url(#fc)" stroke="url(#sc)" stroke-width="3.5"><g transform="translate(24.5 357.6)scale(.1)"><path d="M154 -101l0-2 5-4 6-5 6-4 5-4 6-4 6-4 5-5 6-4 6-4 5-4 6-4 6-4 6-4 5-4 6-3 6-4 5-4 6-3 6-3 5-4 6-3 6-3 5-4 6-3 6-3 6-4 5-3 6-3 6-4 0 3z"/></g><g transform="translate(24.8 358)scale(.1)"><path d="M148 -97l0-3 6-4 5-4 6-4 6-4 5-5 6-4 6-4 5-5 6-4 6-4 5-4 6-4 6-4 6-4 5-4 6-4 6-3 5-4 6-3 6-4 5-3 6-3 6-3 5-4 6-3 6-3 6-3 5-4 6-3 6-3 5-4 0 3z"/></g><g transform="translate(25.2 358.3)scale(.1)"><path d="M142 -93l0-3 6-4 6-4 5-5 6-4 6-4 5-5 6-4 6-5 5-4 6-4 6-5 5-4 6-4 6-4 6-4 5-4 6-4 6-3 5-4 6-3 6-3 5-4 6-3 6-3 5-3 6-3 6-3 6-3 5-3 6-3 6-4 5-3 6-3 0 2z"/></g><g transform="translate(25.5 358.7)scale(.1)"><path d="M137 -90l0-2 5-5 6-4 6-4 5-4 6-5 6-4 5-5 6-4 6-5 5-5 6-4 6-4 5-5 6-4 6-4 6-4 5-4 6-4 6-3 5-4 6-3 6-3 5-3 6-3 6-3 5-3 6-3 6-3 6-3 5-3 6-3 6-3 5-4 6-3 6-3 0 3z"/></g><g transform="translate(25.8 359.1)scale(.1)"><path d="M131 -86l0-3 6-4 5-4 6-4 6-5 5-4 6-5 6-5 5-4 6-5 6-5 5-4 6-5 6-5 5-4 6-5 6-4 6-4 5-4 6-3 6-4 5-3 6-3 6-3 5-3 6-3 6-3 5-3 6-3 6-2 6-3 5-3 6-3 6-3 5-3 6-3 6-4 5-3 0 3z"/></g><g transform="translate(26.2 359.4)scale(.1)"><path d="M125 -82l0-3 6-4 6-4 5-5 6-4 6-5 5-4 6-5 6-5 5-5 6-5 6-5 5-5 6-4 6-5 5-5 6-4 6-5 6-4 5-4 6-3 6-4 5-3 6-3 6-3 5-3 6-3 6-2 5-3 6-2 6-3 6-2 5-3 6-3 6-3 5-3 6-3 6-3 5-3 6-4 0 3z"/></g><g transform="translate(26.5 359.8)scale(.1)"><path d="M119 -78l0-3 6-4 6-5 6-4 5-4 6-5 6-5 5-5 6-4 6-5 5-6 6-5 6-5 5-5 6-5 6-5 5-5 6-5 6-4 6-4 5-4 6-4 6-3 5-3 6-3 6-3 5-3 6-2 6-3 5-2 6-2 6-3 6-2 5-3 6-2 6-3 5-3 6-3 6-3 5-3 6-3 6-3 0 3z"/></g><g transform="translate(26.8 360.2)scale(.1)"><path d="M114 -75l0-2 5-4 6-5 6-4 6-5 5-4 6-5 6-5 5-5 6-5 6-5 5-6 6-5 6-6 5-5 6-5 6-6 5-5 6-4 6-5 6-4 5-4 6-4 6-3 5-3 6-3 6-3 5-2 6-2 6-2 5-2 6-2 6-3 6-2 5-2 6-2 6-3 5-3 6-2 6-3 5-3 6-4 6-3 5-3 0 3z"/></g><g transform="translate(27.2 360.5)scale(.1)"><path d="M108 -71l0-2 6-5 5-4 6-4 6-5 6-4 5-5 6-5 6-5 5-5 6-6 6-5 5-6 6-6 6-6 5-5 6-6 6-5 5-6 6-5 6-5 6-4 5-4 6-4 6-3 5-3 6-2 6-3 5-2 6-2 6-2 5-1 6-2 6-2 6-2 5-2 6-2 6-2 5-3 6-2 6-3 5-3 6-3 6-3 5-3 6-4 0 3z"/></g><g transform="translate(27.5 360.9)scale(.1)"><path d="M108 -71l0-3 6-4 5-4 6-5 6-5 6-4 5-5 6-5 6-6 5-5 6-6 6-6 5-6 6-6 6-6 5-6 6-6 6-6 5-6 6-5 6-5 6-4 5-5 6-3 6-3 5-3 6-2 6-3 5-1 6-2 6-1 5-2 6-1 6-2 6-1 5-2 6-2 6-2 5-2 6-2 6-3 5-3 6-3 6-3 5-3 6-3 6-3 0 2z"/></g><g transform="translate(27.8 361.3)scale(.1)"><path d="M102 -67l0-3 6-4 6-5 5-4 6-5 6-4 6-5 5-5 6-6 6-6 5-5 6-6 6-7 5-6 6-7 6-6 5-7 6-6 6-6 5-6 6-6 6-5 6-5 5-4 6-3 6-3 5-3 6-2 6-2 5-1 6-2 6-1 5-1 6-1 6-1 6-1 5-1 6-2 6-1 5-2 6-3 6-2 5-3 6-2 6-3 5-3 6-4 6-3 5-3 0 3z"/></g><g transform="translate(28.2 361.6)scale(.1)"><path d="M97 -63l0-3 5-4 6-5 6-4 5-5 6-4 6-5 6-5 5-6 6-6 6-6 5-6 6-6 6-7 5-7 6-7 6-7 5-7 6-7 6-6 5-7 6-6 6-5 6-5 5-4 6-4 6-3 5-2 6-2 6-1 5-1 6-1 6 0 5-1 6 0 6-1 6-1 5-1 6-1 6-1 5-2 6-2 6-2 5-3 6-2 6-3 5-3 6-3 6-3 5-4 6-3 0 3z"/></g><g transform="translate(28.5 362)scale(.1)"><path d="M91 -60l0-2 6-4 5-5 6-4 6-5 5-4 6-5 6-5 6-6 5-5 6-6 6-7 5-6 6-7 6-8 5-7 6-8 6-7 5-8 6-7 6-7 5-7 6-6 6-6 6-5 5-4 6-4 6-3 5-2 6-1 6-1 5-1 6 0 6 0 5 0 6 0 6 0 6 0 5-1 6 0 6-1 5-2 6-1 6-2 5-3 6-2 6-3 5-3 6-3 6-3 5-3 6-3 6-4 0 3z"/></g><g transform="translate(28.8 362.4)scale(.1)"><path d="M91 -60l0-3 6-4 5-4 6-5 6-4 5-5 6-5 6-6 6-5 5-6 6-7 6-6 5-7 6-8 6-8 5-8 6-8 6-8 5-8 6-8 6-8 5-7 6-7 6-6 6-5 5-4 6-4 6-3 5-2 6-1 6 0 5 0 6 0 6 1 5 0 6 1 6 1 6 0 5 0 6 0 6-1 5-1 6-1 6-2 5-2 6-2 6-2 5-3 6-3 6-3 5-3 6-4 6-3 6-3 0 2z"/></g><g transform="translate(29.2 362.7)scale(.1)"><path d="M85 -56l0-3 6-4 6-4 5-5 6-4 6-5 5-5 6-5 6-6 6-6 5-6 6-7 6-7 5-8 6-8 6-8 5-9 6-9 6-9 5-9 6-8 6-9 5-8 6-7 6-6 6-5 5-5 6-3 6-3 5-2 6 0 6 0 5 0 6 1 6 2 5 1 6 1 6 2 6 1 5 0 6 1 6 0 5-1 6-1 6-1 5-2 6-2 6-2 5-3 6-3 6-3 5-3 6-3 6-3 6-4 5-3 0 3z"/></g><g transform="translate(29.5 363.1)scale(.1)"><path d="M80 -52l0-3 5-4 6-4 6-5 5-4 6-5 6-5 5-5 6-6 6-5 6-7 5-6 6-8 6-7 5-9 6-8 6-9 5-10 6-10 6-9 5-10 6-10 6-9 5-8 6-8 6-6 6-6 5-5 6-3 6-2 5-2 6 0 6 1 5 1 6 2 6 2 5 2 6 2 6 2 6 2 5 1 6 1 6 1 5-1 6 0 6-1 5-1 6-2 6-2 5-3 6-2 6-3 5-3 6-3 6-4 6-3 5-3 0 3z"/></g><g transform="translate(29.8 363.5)scale(.1)"><path d="M80 -52l0-3 5-4 6-5 6-4 5-5 6-5 6-5 5-5 6-6 6-6 6-7 5-7 6-8 6-8 5-9 6-9 6-10 5-11 6-10 6-11 5-10 6-11 6-9 5-10 6-8 6-7 6-6 5-5 6-3 6-2 5-1 6 0 6 1 5 2 6 3 6 3 5 3 6 3 6 3 6 2 5 2 6 2 6 1 5 1 6 0 6-1 5-1 6-1 6-2 5-3 6-2 6-3 5-3 6-3 6-3 6-3 5-3 6-4 0 3z"/></g><g transform="translate(30.2 363.8)scale(.1)"><path d="M74 -49l0-2 6-4 5-5 6-4 6-5 5-4 6-5 6-6 5-5 6-6 6-7 6-7 5-8 6-8 6-9 5-10 6-10 6-11 5-11 6-11 6-12 5-12 6-11 6-11 5-10 6-8 6-8 6-6 5-5 6-4 6-2 5 0 6 1 6 2 5 2 6 4 6 4 5 4 6 4 6 4 6 3 5 3 6 3 6 1 5 2 6 0 6 0 5-1 6-1 6-2 5-2 6-2 6-2 5-3 6-3 6-3 6-3 5-4 6-3 6-4 0 3z"/></g><g transform="translate(30.5 364.2)scale(.1)"><path d="M68 -45l0-2 6-4 6-5 5-4 6-4 6-5 5-5 6-5 6-6 5-6 6-6 6-7 6-7 5-9 6-9 6-9 5-11 6-11 6-12 5-12 6-13 6-13 5-12 6-12 6-12 5-11 6-10 6-8 6-6 5-5 6-4 6-1 5 0 6 1 6 3 5 3 6 5 6 5 5 5 6 5 6 5 6 5 5 4 6 3 6 2 5 2 6 1 6 1 5-1 6 0 6-2 5-2 6-2 6-2 5-3 6-3 6-3 6-3 5-3 6-3 6-4 5-3 0 2z"/></g><g transform="translate(30.8 364.6)scale(.1)"><path d="M68 -45l0-3 6-4 6-4 5-4 6-5 6-5 5-5 6-5 6-6 5-6 6-7 6-7 6-8 5-9 6-10 6-10 5-12 6-12 6-13 5-13 6-14 6-14 5-14 6-13 6-13 5-12 6-10 6-9 6-7 5-5 6-3 6-2 5 1 6 2 6 3 5 5 6 6 6 6 5 6 6 7 6 6 6 5 5 5 6 5 6 3 5 2 6 2 6 1 5 0 6 0 6-1 5-2 6-2 6-2 5-2 6-3 6-3 6-3 5-3 6-4 6-3 5-3 0 2z"/></g><g transform="translate(31.2 365)scale(.1)"><path d="M63 -41l0-3 5-4 6-4 6-4 5-5 6-4 6-5 5-6 6-5 6-6 5-7 6-7 6-7 6-9 5-10 6-10 6-11 5-13 6-13 6-14 5-15 6-15 6-15 5-16 6-14 6-14 5-13 6-11 6-10 6-7 5-6 6-3 6-1 5 1 6 3 6 5 5 6 6 6 6 8 5 8 6 7 6 8 6 6 5 6 6 6 6 4 5 3 6 3 6 1 5 1 6 0 6-1 5-1 6-2 6-2 5-2 6-3 6-3 6-3 5-3 6-3 6-3 5-4 6-3 0 3z"/></g><g transform="translate(31.5 365.3)scale(.1)"><path d="M63 -41l0-3 5-4 6-4 6-5 5-4 6-5 6-5 5-5 6-6 6-6 5-7 6-8 6-8 6-9 5-11 6-11 6-12 5-14 6-14 6-15 5-16 6-17 6-17 5-16 6-17 6-15 5-14 6-12 6-10 6-8 5-6 6-3 6 0 5 1 6 4 6 6 5 7 6 8 6 9 5 9 6 9 6 9 6 8 5 7 6 6 6 6 5 4 6 3 6 2 5 2 6 0 6 0 5-1 6-2 6-2 5-2 6-2 6-3 6-3 5-3 6-3 6-4 5-3 6-3 6-4 0 3z"/></g><g transform="translate(31.8 365.7)scale(.1)"><path d="M57 -37l0-3 6-4 5-4 6-5 6-4 5-5 6-5 6-5 5-5 6-6 6-7 5-7 6-8 6-9 6-10 5-11 6-12 6-13 5-15 6-16 6-16 5-18 6-18 6-19 5-18 6-17 6-17 5-15 6-13 6-11 6-9 5-6 6-3 6 0 5 2 6 5 6 7 5 8 6 10 6 10 5 11 6 10 6 11 6 9 5 9 6 8 6 6 5 5 6 4 6 3 5 2 6 1 6 0 5-1 6-1 6-2 5-2 6-2 6-3 6-3 5-3 6-3 6-3 5-3 6-4 6-3 5-3 0 2z"/></g><g transform="translate(32.2 366.1)scale(.1)"><path d="M57 -37l0-3 6-4 5-5 6-4 6-5 5-4 6-5 6-6 5-5 6-7 6-6 5-8 6-8 6-10 6-10 5-12 6-13 6-15 5-16 6-17 6-18 5-19 6-20 6-20 5-20 6-19 6-18 5-17 6-14 6-12 6-9 5-6 6-3 6 0 5 3 6 6 6 8 5 9 6 11 6 12 5 13 6 12 6 12 6 11 5 10 6 9 6 8 5 6 6 5 6 4 5 2 6 1 6 1 5 0 6-1 6-2 5-2 6-2 6-2 6-3 5-3 6-3 6-3 5-4 6-3 6-3 5-4 0 3z"/></g><g transform="translate(32.5 366.4)scale(.1)"><path d="M51 -34l0-2 6-4 6-5 5-4 6-4 6-5 5-5 6-5 6-5 5-6 6-7 6-7 5-8 6-9 6-10 6-11 5-13 6-14 6-16 5-17 6-19 6-20 5-21 6-21 6-22 5-22 6-21 6-19 5-18 6-16 6-12 6-10 5-6 6-3 6 0 5 4 6 7 6 9 5 11 6 13 6 14 5 14 6 14 6 14 6 12 5 12 6 10 6 9 5 7 6 6 6 5 5 3 6 2 6 1 5 0 6-1 6-1 5-2 6-2 6-2 6-3 5-3 6-3 6-3 5-3 6-3 6-3 5-4 6-3 0 3z"/></g><g transform="translate(32.8 366.8)scale(.1)"><path d="M46 -30l0-2 5-5 6-4 6-4 5-4 6-5 6-5 5-4 6-6 6-5 5-6 6-7 6-8 5-8 6-10 6-10 6-13 5-13 6-16 6-17 5-18 6-20 6-22 5-23 6-23 6-24 5-24 6-22 6-22 5-19 6-17 6-14 6-10 5-6 6-3 6 1 5 4 6 8 6 11 5 13 6 14 6 16 5 16 6 16 6 15 6 15 5 13 6 12 6 10 5 9 6 6 6 6 5 4 6 2 6 2 5 0 6 0 6-1 5-2 6-1 6-3 6-2 5-3 6-3 6-3 5-3 6-3 6-4 5-3 6-3 6-4 0 3z"/></g><g transform="translate(33.2 367.2)scale(.1)"><path d="M46 -30l0-3 5-4 6-4 6-4 5-5 6-4 6-5 5-5 6-5 6-6 5-7 6-7 6-8 5-9 6-10 6-11 6-13 5-15 6-16 6-19 5-20 6-22 6-23 5-25 6-25 6-26 5-26 6-24 6-24 5-20 6-19 6-14 6-11 5-7 6-3 6 2 5 5 6 9 6 12 5 15 6 16 6 18 5 18 6 18 6 17 6 17 5 15 6 13 6 12 5 9 6 8 6 7 5 4 6 3 6 2 5 1 6 0 6 0 5-2 6-1 6-3 6-2 5-3 6-2 6-3 5-4 6-3 6-3 5-3 6-4 6-3 0 3z"/></g><g transform="translate(33.5 367.5)scale(.1)"><path d="M40 -26l0-3 6-4 5-4 6-4 6-5 5-4 6-5 6-5 5-5 6-5 6-6 5-7 6-7 6-9 5-9 6-11 6-12 6-14 5-16 6-17 6-20 5-22 6-23 6-26 5-27 6-27 6-28 5-28 6-27 6-25 5-22 6-20 6-15 6-12 5-7 6-3 6 2 5 6 6 11 6 13 5 16 6 19 6 19 5 21 6 20 6 19 6 19 5 17 6 15 6 13 5 11 6 9 6 7 5 6 6 3 6 3 5 1 6 1 6-1 5-1 6-1 6-2 6-3 5-2 6-3 6-3 5-3 6-3 6-3 5-4 6-3 6-3 5-4 0 3z"/></g><g transform="translate(33.8 367.9)scale(.1)"><path d="M40 -26l0-3 6-4 5-4 6-5 6-4 5-4 6-5 6-5 5-5 6-6 6-6 5-7 6-8 6-9 5-10 6-11 6-13 6-15 5-17 6-19 6-21 5-23 6-26 6-27 5-29 6-30 6-30 5-30 6-29 6-27 5-24 6-21 6-17 6-12 5-8 6-2 6 2 5 7 6 12 6 15 5 18 6 20 6 22 5 23 6 22 6 22 6 20 5 19 6 17 6 14 5 13 6 10 6 8 5 7 6 4 6 3 5 2 6 1 6 0 5-1 6-1 6-2 6-2 5-3 6-2 6-3 5-3 6-3 6-4 5-3 6-3 6-3 5-4 0 3z"/></g><g transform="translate(34.2 368.3)scale(.1)"><path d="M34 -22l0-3 6-4 6-4 5-4 6-5 6-4 5-5 6-5 6-5 5-5 6-6 6-6 5-7 6-9 6-9 5-10 6-12 6-14 6-16 5-18 6-20 6-23 5-25 6-28 6-29 5-31 6-32 6-33 5-32 6-31 6-29 5-26 6-23 6-18 6-13 5-8 6-2 6 3 5 8 6 13 6 17 5 20 6 22 6 24 5 25 6 25 6 24 6 22 5 21 6 18 6 17 5 14 6 11 6 9 5 8 6 5 6 4 5 2 6 1 6 1 5-1 6-1 6-2 6-2 5-2 6-3 6-3 5-3 6-3 6-3 5-3 6-3 6-4 5-3 6-3 0 2z"/></g><g transform="translate(34.5 368.6)scale(.1)"><path d="M34 -22l0-3 6-4 6-4 5-5 6-4 6-5 5-4 6-5 6-5 5-6 6-6 6-6 5-8 6-8 6-10 5-11 6-13 6-14 6-17 5-19 6-22 6-24 5-27 6-30 6-31 5-34 6-34 6-35 5-35 6-33 6-31 5-28 6-24 6-19 6-14 5-9 6-2 6 4 5 9 6 14 6 18 5 22 6 25 6 26 5 28 6 27 6 26 6 25 5 22 6 21 6 18 5 15 6 13 6 10 5 8 6 7 6 4 5 3 6 1 6 1 5 0 6-1 6-2 6-2 5-2 6-3 6-2 5-3 6-3 6-3 5-3 6-4 6-3 5-3 6-4 0 3z"/></g><g transform="translate(34.8 369)scale(.1)"><path d="M28 -19l0-2 6-4 6-4 6-5 5-4 6-4 6-5 5-5 6-5 6-5 5-6 6-6 6-7 5-7 6-9 6-10 5-12 6-13 6-16 6-17 5-21 6-23 6-26 5-29 6-31 6-34 5-36 6-37 6-37 5-37 6-36 6-33 5-30 6-26 6-20 6-15 5-8 6-2 6 4 5 10 6 15 6 20 5 24 6 27 6 29 5 30 6 29 6 29 6 27 5 24 6 23 6 19 5 17 6 14 6 12 5 9 6 7 6 5 5 3 6 2 6 1 5 0 6 0 6-2 6-2 5-2 6-2 6-3 5-3 6-3 6-3 5-3 6-3 6-3 5-3 6-4 6-3 0 3z"/></g><g transform="translate(35.2 369.4)scale(.1)"><path d="M28 -19l0-2 6-5 6-4 6-4 5-4 6-5 6-4 5-5 6-5 6-5 5-6 6-7 6-7 5-8 6-9 6-10 5-13 6-14 6-16 6-19 5-22 6-24 6-28 5-31 6-33 6-36 5-38 6-40 6-40 5-39 6-38 6-36 5-31 6-28 6-21 6-16 5-9 6-2 6 5 5 11 6 17 6 22 5 26 6 29 6 31 5 32 6 32 6 31 6 29 5 27 6 25 6 21 5 18 6 16 6 13 5 10 6 7 6 6 5 4 6 2 6 2 5 0 6-1 6-1 6-1 5-3 6-2 6-2 5-3 6-3 6-3 5-3 6-3 6-3 5-4 6-3 6-3 0 3z"/></g><g transform="translate(35.5 369.7)scale(.1)"><path d="M28 -19l0-3 6-4 6-4 6-4 5-5 6-4 6-5 5-5 6-5 6-5 5-6 6-7 6-7 5-8 6-10 6-11 5-12 6-15 6-18 6-20 5-23 6-26 6-29 5-33 6-35 6-38 5-41 6-42 6-42 5-42 6-41 6-37 5-34 6-29 6-23 6-16 5-9 6-2 6 5 5 12 6 18 6 24 5 28 6 31 6 34 5 34 6 35 6 33 6 32 5 29 6 26 6 23 5 20 6 17 6 14 5 11 6 9 6 6 5 4 6 3 6 2 5 0 6 0 6-1 6-1 5-2 6-3 6-2 5-3 6-2 6-3 5-3 6-3 6-4 5-3 6-3 6-3 5-4 0 3z"/></g><g transform="translate(35.8 370.1)scale(.1)"><path d="M23 -15l0-3 5-4 6-4 6-4 6-4 5-5 6-4 6-5 5-5 6-5 6-6 5-6 6-7 6-7 5-9 6-10 6-11 5-13 6-16 6-18 6-21 5-24 6-28 6-31 5-34 6-38 6-41 5-43 6-44 6-45 5-44 6-43 6-40 5-36 6-30 6-25 6-17 5-9 6-2 6 5 5 14 6 19 6 26 5 30 6 33 6 36 5 37 6 37 6 36 6 34 5 31 6 28 6 25 5 22 6 18 6 15 5 12 6 10 6 7 5 5 6 3 6 2 5 1 6 0 6-1 6-1 5-2 6-2 6-3 5-2 6-3 6-3 5-3 6-3 6-3 5-3 6-3 6-4 5-3 0 3z"/></g><g transform="translate(36.2 370.5)scale(.1)"><path d="M23 -15l0-3 5-4 6-4 6-4 6-5 5-4 6-5 6-4 5-5 6-6 6-5 5-7 6-7 6-7 5-9 6-10 6-12 5-14 6-17 6-19 6-22 5-25 6-29 6-33 5-36 6-40 6-43 5-45 6-47 6-48 5-47 6-45 6-42 5-37 6-33 6-25 6-18 5-10 6-2 6 6 5 14 6 21 6 28 5 32 6 36 6 38 5 39 6 40 6 38 6 36 5 33 6 31 6 26 5 24 6 19 6 16 5 13 6 11 6 7 5 6 6 4 6 2 5 1 6 0 6 0 6-1 5-2 6-2 6-2 5-3 6-2 6-3 5-3 6-3 6-3 5-3 6-4 6-3 5-3 6-3 0 2z"/></g><g transform="translate(36.5 370.8)scale(.1)"><path d="M17 -11l0-3 6-4 5-4 6-4 6-5 6-4 5-4 6-5 6-5 5-5 6-5 6-6 5-6 6-8 6-8 5-9 6-10 6-13 5-14 6-17 6-20 6-23 5-27 6-31 6-34 5-38 6-42 6-45 5-48 6-49 6-50 5-49 6-48 6-44 5-40 6-33 6-27 6-19 5-10 6-2 6 7 5 15 6 22 6 29 5 34 6 38 6 41 5 41 6 42 6 41 6 38 5 36 6 32 6 28 5 25 6 21 6 17 5 15 6 11 6 8 5 6 6 5 6 2 5 2 6 0 6 0 6-1 5-2 6-2 6-2 5-2 6-3 6-3 5-2 6-3 6-3 5-4 6-3 6-3 5-3 6-4 0 3z"/></g><g transform="translate(36.8 371.2)scale(.1)"><path d="M17 -11l0-3 6-4 5-4 6-4 6-5 6-4 5-5 6-4 6-5 5-5 6-6 6-6 5-6 6-8 6-8 5-9 6-11 6-13 5-15 6-18 6-21 6-24 5-28 6-32 6-36 5-40 6-44 6-47 5-50 6-51 6-53 5-51 6-50 6-47 5-41 6-35 6-28 6-20 5-11 6-1 6 7 5 16 6 23 6 31 5 36 6 40 6 43 5 44 6 44 6 43 6 41 5 37 6 34 6 31 5 26 6 22 6 19 5 15 6 11 6 10 5 6 6 5 6 3 5 2 6 1 6-1 6 0 5-2 6-1 6-3 5-2 6-2 6-3 5-3 6-3 6-3 5-3 6-3 6-3 5-3 6-4 6-3 0 2z"/></g><g transform="translate(37.2 371.6)scale(.1)"><path d="M17 -11l0-3 6-4 5-4 6-5 6-4 6-4 5-5 6-5 6-5 5-5 6-5 6-6 5-7 6-8 6-8 5-10 6-11 6-13 5-16 6-19 6-21 6-25 5-29 6-34 6-37 5-42 6-46 6-49 5-52 6-54 6-55 5-54 6-52 6-48 5-43 6-37 6-29 6-21 5-11 6-2 6 8 5 17 6 25 6 32 5 38 6 42 6 45 5 46 6 46 6 46 6 42 5 40 6 36 6 32 5 27 6 24 6 20 5 16 6 12 6 10 5 7 6 6 6 3 5 2 6 1 6 0 6 0 5-2 6-1 6-2 5-3 6-2 6-3 5-2 6-3 6-3 5-3 6-3 6-3 5-4 6-3 6-3 0 2z"/></g><g transform="translate(37.5 371.9)scale(.1)"><path d="M11 -7l0-3 6-4 6-4 5-5 6-4 6-4 6-5 5-4 6-5 6-5 5-5 6-6 6-6 5-7 6-7 6-9 5-10 6-12 6-14 5-16 6-19 6-22 6-26 5-31 6-34 6-39 5-44 6-47 6-52 5-54 6-56 6-57 5-56 6-54 6-51 5-45 6-38 6-30 6-21 5-12 6-1 6 8 5 17 6 26 6 34 5 39 6 44 6 47 5 49 6 48 6 48 6 44 5 42 6 37 6 34 5 29 6 25 6 21 5 17 6 13 6 11 5 7 6 6 6 4 5 2 6 2 6 0 6-1 5-1 6-1 6-2 5-2 6-3 6-2 5-3 6-3 6-2 5-3 6-3 6-4 5-3 6-3 6-3 0 2z"/></g><g transform="translate(37.8 372.3)scale(.1)"><path d="M11 -7l0-3 6-4 6-4 5-5 6-4 6-4 6-5 5-5 6-4 6-5 5-6 6-5 6-7 5-7 6-7 6-9 5-11 6-12 6-14 5-17 6-19 6-23 6-27 5-32 6-36 6-40 5-45 6-49 6-53 5-57 6-58 6-59 5-58 6-56 6-52 5-47 6-40 6-31 6-22 5-12 6-1 6 8 5 18 6 27 6 35 5 41 6 46 6 49 5 51 6 50 6 49 6 47 5 43 6 39 6 35 5 31 6 26 6 22 5 18 6 14 6 11 5 8 6 6 6 5 5 2 6 2 6 0 6 0 5-1 6-1 6-2 5-2 6-2 6-3 5-2 6-3 6-3 5-3 6-3 6-3 5-3 6-3 6-4 6-3 0 3z"/></g><g transform="translate(38.2 372.7)scale(.1)"><path d="M11 -7l0-3 6-4 6-5 5-4 6-4 6-5 6-4 5-5 6-5 6-5 5-5 6-6 6-6 5-7 6-8 6-9 5-11 6-12 6-15 5-17 6-20 6-24 6-28 5-32 6-37 6-42 5-47 6-51 6-55 5-58 6-60 6-61 5-60 6-58 6-54 5-48 6-41 6-32 6-22 5-13 6-1 6 8 5 19 6 28 6 36 5 43 6 47 6 51 5 52 6 53 6 51 6 48 5 45 6 41 6 36 5 32 6 27 6 23 5 19 6 15 6 11 5 9 6 7 6 4 5 3 6 2 6 1 6 0 5-1 6-1 6-2 5-2 6-2 6-2 5-3 6-2 6-3 5-3 6-3 6-3 5-3 6-3 6-4 6-3 0 3z"/></g><g transform="translate(38.5 373)scale(.1)"><path d="M6 -4l0-2 5-4 6-5 6-4 5-4 6-4 6-5 6-4 5-5 6-5 6-5 5-6 6-6 6-6 5-7 6-8 6-10 5-10 6-13 6-15 5-17 6-21 6-25 6-29 5-33 6-38 6-43 5-48 6-52 6-57 5-59 6-62 6-63 5-62 6-60 6-55 5-49 6-42 6-34 6-23 5-12 6-2 6 9 5 19 6 29 6 37 5 44 6 49 6 52 5 54 6 54 6 53 6 50 5 46 6 43 6 37 5 33 6 28 6 24 5 20 6 15 6 13 5 9 6 7 6 5 5 3 6 2 6 1 6 1 5-1 6-1 6-2 5-1 6-2 6-3 5-2 6-3 6-3 5-2 6-3 6-3 5-3 6-4 6-3 6-3 0 3z"/></g><g transform="translate(38.8 373.4)scale(.1)"><path d="M6 -4l0-2 5-5 6-4 6-4 5-4 6-5 6-4 6-5 5-4 6-5 6-6 5-5 6-6 6-7 5-7 6-8 6-10 5-11 6-12 6-16 5-18 6-21 6-25 6-30 5-34 6-39 6-44 5-49 6-53 6-58 5-62 6-63 6-65 5-63 6-61 6-57 5-51 6-43 6-34 6-24 5-12 6-2 6 9 5 20 6 29 6 38 5 45 6 50 6 54 5 55 6 56 6 54 6 51 5 48 6 44 6 39 5 34 6 29 6 24 5 21 6 16 6 13 5 10 6 7 6 6 5 3 6 3 6 1 6 0 5 0 6-1 6-1 5-2 6-2 6-2 5-3 6-2 6-3 5-3 6-3 6-3 5-3 6-3 6-3 6-3 5-4 0 3z"/></g><g transform="translate(39.2 373.8)scale(.1)"><path d="M6 -4l0-2 5-5 6-4 6-4 5-4 6-5 6-4 6-5 5-5 6-5 6-5 5-6 6-6 6-6 5-8 6-8 6-10 5-11 6-13 6-15 5-19 6-22 6-25 6-30 5-35 6-40 6-45 5-50 6-55 6-59 5-63 6-65 6-65 5-65 6-63 6-58 5-52 6-44 6-34 6-25 5-13 6-2 6 9 5 21 6 30 6 38 5 46 6 51 6 55 5 57 6 57 6 55 6 53 5 49 6 44 6 40 5 35 6 30 6 26 5 21 6 17 6 13 5 10 6 8 6 6 5 4 6 3 6 1 6 1 5-1 6 0 6-1 5-2 6-2 6-2 5-2 6-3 6-2 5-3 6-3 6-3 5-3 6-3 6-3 6-3 5-4 0 3z"/></g><g transform="translate(39.5 374.1)scale(.1)"><path d="M6 -4l0-3 5-4 6-4 6-4 5-5 6-4 6-5 6-4 5-5 6-5 6-5 5-6 6-6 6-7 5-7 6-9 6-9 5-12 6-13 6-16 5-19 6-22 6-26 6-31 5-35 6-40 6-46 5-51 6-56 6-60 5-64 6-66 6-67 5-66 6-64 6-59 5-53 6-45 6-35 6-25 5-13 6-2 6 9 5 20 6 30 6 40 5 46 6 52 6 56 5 58 6 58 6 56 6 54 5 50 6 46 6 41 5 35 6 31 6 26 5 22 6 17 6 14 5 11 6 8 6 6 5 5 6 3 6 1 6 1 5 0 6 0 6-1 5-2 6-2 6-2 5-2 6-2 6-3 5-2 6-3 6-3 5-3 6-3 6-3 6-4 5-3 0 3z"/></g><g transform="translate(39.8 374.5)scale(.1)"><path d="M0 0l0-3 6-4 5-4 6-4 6-4 5-5 6-4 6-5 6-4 5-5 6-5 6-6 5-5 6-7 6-6 5-8 6-8 6-10 5-12 6-13 6-16 5-19 6-23 6-26 6-31 5-36 6-41 6-47 5-52 6-56 6-62 5-64 6-67 6-68 5-67 6-65 6-60 5-53 6-46 6-36 6-25 5-14 6-2 6 9 5 20 6 31 6 40 5 47 6 53 6 56 5 59 6 58 6 57 6 55 5 51 6 46 6 42 5 37 6 31 6 27 5 22 6 18 6 14 5 12 6 8 6 7 5 4 6 4 6 2 6 1 5 0 6-1 6-1 5-1 6-1 6-2 5-2 6-3 6-2 5-3 6-2 6-3 5-3 6-3 6-3 6-4 5-3 0 3z"/></g><g transform="translate(40.2 374.9)scale(.1)"><path d="M0 0l0-3 6-4 5-4 6-4 6-4 5-5 6-4 6-5 6-5 5-5 6-5 6-5 5-6 6-6 6-7 5-7 6-9 6-10 5-12 6-13 6-17 5-19 6-23 6-26 6-32 5-36 6-42 6-47 5-52 6-57 6-62 5-66 6-67 6-69 5-68 6-65 6-61 5-54 6-46 6-36 6-26 5-14 6-3 6 9 5 21 6 31 6 39 5 48 6 53 6 57 5 59 6 59 6 58 6 55 5 52 6 47 6 42 5 37 6 32 6 27 5 23 6 19 6 14 5 12 6 9 6 7 5 5 6 3 6 3 6 1 5 0 6 0 6-1 5-1 6-1 6-2 5-2 6-2 6-3 5-2 6-3 6-3 5-2 6-4 6-3 6-3 5-3 6-3 0 2z"/></g><g transform="translate(40.5 375.2)scale(.1)"><path d="M0 0l0-3 6-4 5-4 6-4 6-5 5-4 6-5 6-4 6-5 5-5 6-5 6-5 5-6 6-6 6-7 5-8 6-9 6-10 5-12 6-13 6-17 5-19 6-23 6-27 6-32 5-36 6-42 6-47 5-53 6-58 6-62 5-66 6-68 6-70 5-68 6-66 6-61 5-55 6-46 6-37 6-26 5-14 6-3 6 9 5 20 6 31 6 40 5 47 6 53 6 58 5 59 6 59 6 59 6 55 5 52 6 48 6 42 5 38 6 33 6 27 5 23 6 19 6 15 5 13 6 9 6 7 5 5 6 4 6 3 6 1 5 1 6 0 6-1 5-1 6-1 6-2 5-2 6-2 6-2 5-2 6-3 6-3 5-3 6-3 6-3 6-3 5-3 6-3 0 2z"/></g><g transform="translate(40.8 375.6)scale(.1)"><path d="M0 0l0-3 6-4 5-4 6-4 6-5 5-4 6-5 6-4 6-5 5-5 6-5 6-6 5-6 6-6 6-7 5-8 6-8 6-11 5-11 6-14 6-17 5-19 6-23 6-27 6-32 5-37 6-42 6-47 5-53 6-58 6-63 5-66 6-69 6-69 5-69 6-66 6-62 5-55 6-46 6-37 6-27 5-14 6-3 6 8 5 20 6 31 6 39 5 48 6 53 6 57 5 60 6 59 6 59 6 55 5 53 6 47 6 43 5 38 6 33 6 28 5 23 6 20 6 15 5 13 6 10 6 7 5 6 6 4 6 2 6 2 5 1 6 0 6 0 5-1 6-1 6-1 5-2 6-2 6-2 5-3 6-2 6-3 5-3 6-3 6-3 6-3 5-3 6-4 0 3z"/></g><g transform="translate(41.2 376)scale(.1)"><path d="M0 0l0-3 6-4 5-4 6-5 6-4 5-4 6-5 6-5 6-4 5-5 6-6 6-5 5-6 6-6 6-7 5-8 6-9 6-10 5-12 6-14 6-17 5-19 6-23 6-27 6-32 5-37 6-42 6-48 5-53 6-58 6-62 5-66 6-69 6-70 5-68 6-67 6-61 5-55 6-47 6-38 6-26 5-15 6-4 6 9 5 19 6 30 6 40 5 47 6 53 6 57 5 59 6 59 6 59 6 55 5 53 6 47 6 44 5 38 6 33 6 28 5 24 6 19 6 16 5 13 6 10 6 8 5 6 6 4 6 3 6 2 5 1 6 1 6 0 5-1 6-1 6-1 5-2 6-2 6-2 5-2 6-3 6-2 5-3 6-3 6-3 6-3 5-3 6-4 0 3z"/></g><g transform="translate(41.5 376.3)scale(.1)"><path d="M0 0l0-3 6-4 5-4 6-5 6-4 5-4 6-5 6-5 6-5 5-5 6-5 6-5 5-6 6-7 6-7 5-7 6-9 6-11 5-12 6-14 6-16 5-20 6-23 6-27 6-32 5-36 6-42 6-48 5-53 6-58 6-62 5-66 6-69 6-69 5-69 6-66 6-61 5-55 6-48 6-37 6-27 5-15 6-4 6 8 5 19 6 30 6 39 5 46 6 53 6 56 5 59 6 59 6 58 6 55 5 52 6 48 6 43 5 38 6 33 6 29 5 24 6 20 6 16 5 13 6 11 6 8 5 6 6 5 6 3 6 2 5 2 6 0 6 0 5 0 6-1 6-1 5-2 6-1 6-2 5-3 6-2 6-3 5-2 6-3 6-3 6-3 5-4 6-3 6-3 0 2z"/></g><g transform="translate(41.8 376.7)scale(.1)"><path d="M0 0l0-3 6-4 5-4 6-5 6-4 5-5 6-4 6-5 6-5 5-5 6-5 6-6 5-6 6-6 6-7 5-8 6-9 6-10 5-12 6-14 6-17 5-19 6-23 6-27 6-32 5-36 6-42 6-47 5-53 6-57 6-63 5-65 6-68 6-69 5-68 6-66 6-62 5-55 6-47 6-37 6-27 5-16 6-4 6 7 5 19 6 29 6 38 5 46 6 52 6 55 5 58 6 59 6 57 6 55 5 52 6 47 6 43 5 38 6 33 6 29 5 24 6 20 6 17 5 13 6 11 6 8 5 7 6 5 6 4 6 2 5 2 6 1 6 0 5 0 6-1 6-1 5-1 6-2 6-2 5-2 6-2 6-3 5-3 6-2 6-3 6-3 5-4 6-3 6-3 0 2z"/></g><g transform="translate(42.2 377.1)scale(.1)"><path d="M0 0l0-3 6-4 5-4 6-5 6-4 5-5 6-4 6-5 6-5 5-5 6-5 6-6 5-6 6-6 6-7 5-8 6-9 6-10 5-12 6-14 6-17 5-19 6-23 6-27 6-31 5-37 6-41 6-47 5-52 6-57 6-62 5-65 6-67 6-68 5-68 6-66 6-60 5-55 6-47 6-38 6-27 5-16 6-5 6 7 5 18 6 29 6 37 5 45 6 50 6 55 5 57 6 58 6 56 6 55 5 51 6 47 6 42 5 38 6 33 6 29 5 24 6 21 6 16 5 14 6 11 6 9 5 7 6 5 6 4 6 3 5 2 6 1 6 1 5 0 6-1 6-1 5-1 6-2 6-1 5-3 6-2 6-2 5-3 6-3 6-3 6-3 5-3 6-3 6-3 0 2z"/></g><g transform="translate(42.5 377.4)scale(.1)"><path d="M0 0l0-3 6-4 5-5 6-4 6-4 5-5 6-4 6-5 6-5 5-5 6-5 6-6 5-6 6-7 6-7 5-8 6-8 6-11 5-12 6-14 6-16 5-19 6-23 6-27 6-31 5-36 6-41 6-46 5-51 6-57 6-60 5-65 6-66 6-68 5-67 6-65 6-60 5-54 6-47 6-38 6-27 5-16 6-5 6 6 5 17 6 28 6 36 5 44 6 49 6 54 5 55 6 57 6 55 6 54 5 50 6 47 6 42 5 38 6 32 6 29 5 24 6 21 6 17 5 14 6 11 6 9 5 8 6 5 6 5 6 3 5 2 6 1 6 1 5 0 6 0 6-1 5-1 6-1 6-2 5-2 6-2 6-3 5-2 6-3 6-3 6-3 5-3 6-3 6-3 0 2z"/></g><g transform="translate(42.8 377.8)scale(.1)"><path d="M0 0l0-3 6-4 5-5 6-4 6-4 5-5 6-5 6-4 6-5 5-5 6-6 6-5 5-6 6-7 6-7 5-8 6-9 6-10 5-12 6-14 6-16 5-19 6-23 6-26 6-31 5-35 6-40 6-46 5-51 6-55 6-60 5-63 6-66 6-67 5-66 6-64 6-59 5-54 6-46 6-38 6-27 5-17 6-5 6 5 5 17 6 26 6 35 5 42 6 48 6 52 5 55 6 55 6 54 6 53 5 49 6 46 6 42 5 37 6 33 6 28 5 24 6 21 6 17 5 15 6 11 6 10 5 7 6 6 6 5 6 3 5 3 6 2 6 1 5 0 6 0 6-1 5-1 6-1 6-2 5-1 6-3 6-2 5-2 6-3 6-3 6-3 5-3 6-3 6-3 0 2z"/></g><g transform="translate(43.2 378.2)scale(.1)"><path d="M0 0l0-3 6-4 5-5 6-4 6-4 5-5 6-5 6-4 6-5 5-5 6-6 6-5 5-6 6-7 6-7 5-8 6-9 6-10 5-12 6-14 6-16 5-19 6-22 6-26 6-30 5-35 6-40 6-45 5-49 6-55 6-59 5-62 6-64 6-66 5-65 6-63 6-58 5-54 6-46 6-37 6-27 5-17 6-6 6 5 5 15 6 25 6 34 5 41 6 46 6 51 5 53 6 53 6 53 6 51 5 49 6 45 6 41 5 36 6 33 6 28 5 24 6 21 6 18 5 14 6 12 6 10 5 8 6 6 6 5 6 4 5 3 6 2 6 1 5 1 6 0 6-1 5 0 6-2 6-1 5-2 6-2 6-2 5-3 6-2 6-3 6-3 5-3 6-3 6-3 0 2z"/></g><g transform="translate(43.5 378.5)scale(.1)"><path d="M0 0l0-3 6-4 5-5 6-4 6-5 5-4 6-5 6-5 6-4 5-6 6-5 6-6 5-6 6-6 6-7 5-8 6-9 6-10 5-12 6-14 6-15 5-19 6-22 6-26 6-29 5-35 6-39 6-44 5-48 6-54 6-57 5-61 6-63 6-65 5-63 6-62 6-58 5-52 6-46 6-37 6-27 5-17 6-7 6 4 5 14 6 24 6 32 5 39 6 45 6 49 5 51 6 52 6 52 6 50 5 47 6 44 6 40 5 36 6 32 6 28 5 24 6 21 6 18 5 15 6 12 6 10 5 8 6 7 6 5 6 4 5 4 6 2 6 1 5 1 6 1 6-1 5 0 6-1 6-2 5-1 6-2 6-2 5-3 6-2 6-3 6-3 5-3 6-3 6-3 5-4 0 3z"/></g><g transform="translate(43.8 378.9)scale(.1)"><path d="M0 0l0-3 6-4 5-5 6-4 6-5 5-4 6-5 6-5 6-5 5-5 6-5 6-6 5-6 6-6 6-7 5-8 6-9 6-10 5-12 6-13 6-16 5-18 6-22 6-25 6-29 5-34 6-38 6-43 5-48 6-52 6-56 5-60 6-61 6-63 5-63 6-60 6-57 5-51 6-45 6-37 6-27 5-18 6-7 6 3 5 13 6 23 6 30 5 38 6 42 6 47 5 50 6 50 6 50 6 48 5 46 6 43 6 39 5 36 6 31 6 28 5 24 6 21 6 18 5 15 6 12 6 11 5 9 6 7 6 5 6 5 5 3 6 3 6 2 5 1 6 0 6 0 5 0 6-1 6-1 5-2 6-2 6-2 5-2 6-3 6-2 6-3 5-3 6-3 6-4 5-3 0 3z"/></g><g transform="translate(44.2 379.3)scale(.1)"><path d="M0 0l0-3 6-5 5-4 6-4 6-5 5-4 6-5 6-5 6-5 5-5 6-5 6-6 5-6 6-6 6-8 5-7 6-9 6-10 5-12 6-13 6-16 5-18 6-21 6-24 6-29 5-33 6-37 6-42 5-47 6-50 6-55 5-58 6-60 6-62 5-61 6-59 6-55 5-51 6-44 6-36 6-27 5-18 6-8 6 2 5 12 6 21 6 28 5 36 6 41 6 45 5 47 6 48 6 48 6 47 5 45 6 41 6 39 5 35 6 31 6 27 5 24 6 21 6 18 5 15 6 13 6 11 5 9 6 7 6 6 6 5 5 4 6 3 6 2 5 1 6 1 6 0 5 0 6-1 6-1 5-1 6-2 6-2 5-2 6-3 6-3 6-2 5-3 6-3 6-4 5-3 0 3z"/></g><g transform="translate(44.5 379.6)scale(.1)"><path d="M0 0l0-3 6-5 5-4 6-4 6-5 5-4 6-5 6-5 6-5 5-5 6-5 6-6 5-6 6-7 6-7 5-7 6-9 6-10 5-12 6-13 6-15 5-18 6-20 6-25 6-27 5-32 6-37 6-41 5-45 6-49 6-54 5-56 6-59 6-59 5-60 6-57 6-55 5-49 6-43 6-36 6-27 5-19 6-8 6 1 5 10 6 20 6 26 5 34 6 39 6 42 5 46 6 46 6 46 6 45 5 43 6 41 6 37 5 34 6 31 6 27 5 24 6 21 6 18 5 15 6 14 6 11 5 9 6 8 6 6 6 6 5 4 6 3 6 2 5 2 6 1 6 0 5 0 6 0 6-1 5-2 6-1 6-2 5-3 6-2 6-3 6-2 5-3 6-3 6-4 5-3 0 3z"/></g><g transform="translate(44.8 380)scale(.1)"><path d="M0 0l0-3 6-5 5-4 6-4 6-5 5-4 6-5 6-5 6-5 5-5 6-5 6-6 5-6 6-7 6-7 5-7 6-9 6-10 5-11 6-13 6-15 5-18 6-20 6-24 6-27 5-31 6-35 6-40 5-44 6-48 6-52 5-54 6-57 6-58 5-58 6-56 6-53 5-48 6-43 6-35 6-27 5-19 6-9 6 0 5 9 6 17 6 25 5 32 6 36 6 41 5 43 6 44 6 44 6 44 5 41 6 40 6 36 5 33 6 30 6 27 5 24 6 21 6 18 5 16 6 13 6 12 5 9 6 8 6 7 6 6 5 4 6 4 6 3 5 2 6 1 6 0 5 0 6 0 6-1 5-1 6-2 6-2 5-2 6-2 6-3 6-3 5-3 6-3 6-3 5-3 0 3z"/></g><g transform="translate(45.2 380.4)scale(.1)"><path d="M0 0l0-3 6-5 5-4 6-4 6-5 5-4 6-5 6-5 6-5 5-5 6-5 6-6 5-6 6-7 6-7 5-7 6-9 6-10 5-11 6-13 6-14 5-18 6-19 6-23 6-27 5-30 6-34 6-39 5-43 6-46 6-50 5-53 6-55 6-57 5-56 6-54 6-52 5-47 6-42 6-35 6-27 5-18 6-10 6-1 5 7 6 16 6 23 5 29 6 35 6 38 5 41 6 42 6 42 6 41 5 41 6 37 6 36 5 32 6 30 6 26 5 24 6 21 6 18 5 16 6 13 6 12 5 10 6 9 6 7 6 6 5 5 6 4 6 3 5 2 6 2 6 0 5 1 6-1 6 0 5-2 6-1 6-2 5-2 6-2 6-3 6-3 5-3 6-3 6-3 5-3 0 3z"/></g><g transform="translate(45.5 380.8)scale(.1)"><path d="M0 0l0-3 6-5 5-4 6-4 6-5 5-4 6-5 6-5 6-5 5-5 6-5 6-6 5-6 6-7 6-7 5-7 6-9 6-10 5-11 6-12 6-15 5-16 6-20 6-22 6-26 5-29 6-34 6-37 5-41 6-45 6-49 5-51 6-53 6-55 5-54 6-53 6-50 5-46 6-41 6-34 6-27 5-19 6-11 6-2 5 6 6 14 6 21 5 27 6 32 6 36 5 38 6 40 6 41 6 39 5 39 6 36 6 35 5 31 6 29 6 26 5 24 6 20 6 19 5 16 6 14 6 12 5 11 6 9 6 7 6 7 5 5 6 4 6 3 5 3 6 1 6 1 5 1 6 0 6-1 5-1 6-1 6-2 5-2 6-3 6-2 6-3 5-3 6-3 6-3 5-3 0 3z"/></g><g transform="translate(45.8 381.1)scale(.1)"><path d="M0 0l0-3 6-5 5-4 6-4 6-5 5-4 6-5 6-5 6-5 5-5 6-5 6-6 5-6 6-7 6-7 5-7 6-9 6-9 5-11 6-13 6-14 5-16 6-19 6-22 6-25 5-28 6-33 6-36 5-39 6-44 6-47 5-49 6-52 6-52 5-53 6-51 6-49 5-45 6-40 6-34 6-27 5-19 6-11 6-4 5 5 6 12 6 19 5 25 6 30 6 33 5 37 6 37 6 38 6 38 5 37 6 35 6 33 5 31 6 29 6 25 5 23 6 21 6 19 5 16 6 14 6 13 5 11 6 9 6 8 6 7 5 6 6 4 6 4 5 2 6 2 6 1 5 1 6 0 6 0 5-1 6-2 6-1 5-2 6-3 6-2 6-3 5-3 6-3 6-3 5-3 0 3z"/></g><g transform="translate(46.2 381.5)scale(.1)"><path d="M0 0l0-3 6-5 5-4 6-4 6-5 5-4 6-5 6-5 6-5 5-5 6-5 6-6 5-6 6-7 6-7 5-7 6-9 6-9 5-11 6-12 6-14 5-16 6-18 6-21 6-25 5-27 6-31 6-35 5-39 6-42 6-45 5-48 6-49 6-51 5-51 6-49 6-48 5-44 6-39 6-33 6-27 5-20 6-12 6-4 5 3 6 11 6 17 5 22 6 28 6 31 5 34 6 35 6 36 6 36 5 36 6 33 6 33 5 29 6 28 6 25 5 24 6 20 6 19 5 16 6 15 6 13 5 11 6 10 6 8 6 7 5 6 6 5 6 4 5 3 6 2 6 2 5 0 6 0 6 0 5-1 6-1 6-2 5-2 6-2 6-2 6-3 5-3 6-3 6-3 5-3 0 3z"/></g><g transform="translate(46.5 381.9)scale(.1)"><path d="M0 0l0-3 6-5 5-4 6-4 6-5 5-4 6-5 6-5 6-5 5-5 6-5 6-6 5-6 6-7 6-6 5-8 6-8 6-10 5-10 6-12 6-14 5-15 6-18 6-21 6-23 5-27 6-30 6-34 5-37 6-41 6-43 5-46 6-48 6-49 5-49 6-48 6-46 5-42 6-39 6-33 6-26 5-20 6-13 6-5 5 1 6 9 6 15 5 21 6 25 6 28 5 32 6 33 6 34 6 35 5 33 6 33 6 31 5 29 6 27 6 25 5 23 6 20 6 19 5 17 6 15 6 13 5 12 6 10 6 8 6 8 5 6 6 5 6 4 5 4 6 2 6 2 5 1 6 0 6 0 5-1 6-1 6-2 5-2 6-2 6-2 6-3 5-3 6-3 6-3 5-3 0 3z"/></g><g transform="translate(46.8 382.2)scale(.1)"><path d="M0 0l0-3 6-5 5-4 6-4 6-5 5-4 6-5 6-5 6-5 5-5 6-5 6-6 5-6 6-6 6-7 5-8 6-8 6-9 5-11 6-11 6-14 5-15 6-17 6-20 6-23 5-26 6-29 6-33 5-35 6-39 6-42 5-45 6-46 6-47 5-47 6-47 6-44 5-42 6-37 6-32 6-27 5-20 6-13 6-7 5 0 6 7 6 13 5 19 6 23 6 26 5 29 6 31 6 33 6 32 5 32 6 31 6 30 5 28 6 27 6 24 5 23 6 21 6 19 5 16 6 16 6 13 5 12 6 11 6 9 6 7 5 7 6 5 6 5 5 3 6 3 6 2 5 1 6 0 6 0 5-1 6-1 6-1 5-2 6-2 6-3 6-2 5-3 6-3 6-3 5-3 0 3z"/></g><g transform="translate(47.2 382.6)scale(.1)"><path d="M0 0l0-3 6-5 5-4 6-4 6-5 5-4 6-5 6-5 6-5 5-5 6-5 6-6 5-6 6-6 6-7 5-8 6-8 6-9 5-10 6-12 6-13 5-15 6-17 6-19 6-22 5-25 6-28 6-31 5-35 6-37 6-41 5-42 6-45 6-45 5-46 6-45 6-43 5-40 6-37 6-31 6-27 5-20 6-14 6-8 5-1 6 5 6 11 5 17 6 20 6 25 5 27 6 29 6 30 6 30 5 31 6 30 6 29 5 27 6 26 6 24 5 23 6 20 6 19 5 17 6 16 6 14 5 12 6 11 6 9 6 8 5 7 6 6 6 5 5 3 6 3 6 2 5 1 6 1 6 0 5-1 6-1 6-1 5-2 6-2 6-3 6-2 5-3 6-3 6-3 5-3 0 3z"/></g><g transform="translate(47.5 383)scale(.1)"><path d="M0 0l0-3 6-4 5-5 6-4 6-5 5-4 6-5 6-5 6-5 5-5 6-5 6-6 5-6 6-6 6-7 5-7 6-8 6-9 5-10 6-12 6-13 5-14 6-17 6-19 6-21 5-24 6-27 6-30 5-33 6-36 6-39 5-41 6-43 6-44 5-44 6-43 6-42 5-39 6-36 6-31 6-26 5-21 6-15 6-8 5-2 6 3 6 9 5 15 6 18 6 22 5 25 6 27 6 28 6 29 5 29 6 29 6 28 5 26 6 26 6 23 5 23 6 20 6 19 5 17 6 16 6 14 5 13 6 11 6 10 6 8 5 7 6 6 6 5 5 4 6 3 6 2 5 2 6 0 6 0 5 0 6-1 6-2 5-1 6-2 6-3 6-2 5-3 6-3 6-3 5-3 0 3z"/></g><g transform="translate(47.8 383.3)scale(.1)"><path d="M0 0l0-3 6-4 5-5 6-4 6-5 5-4 6-5 6-5 6-5 5-5 6-5 6-6 5-6 6-6 6-7 5-7 6-8 6-9 5-10 6-11 6-12 5-15 6-16 6-18 6-21 5-23 6-26 6-29 5-32 6-35 6-37 5-39 6-41 6-42 5-43 6-42 6-40 5-38 6-35 6-31 6-26 5-21 6-16 6-9 5-4 6 3 6 7 5 12 6 17 6 20 5 22 6 25 6 27 6 27 5 28 6 27 6 27 5 26 6 24 6 24 5 22 6 20 6 19 5 18 6 16 6 14 5 13 6 11 6 10 6 9 5 8 6 6 6 5 5 4 6 3 6 3 5 1 6 1 6 0 5 0 6-1 6-2 5-1 6-2 6-3 6-2 5-3 6-3 6-3 5-3 0 3z"/></g><g transform="translate(48.2 383.7)scale(.1)"><path d="M0 0l0-3 6-4 5-5 6-4 6-5 5-4 6-5 6-5 6-4 5-6 6-5 6-6 5-5 6-7 6-6 5-8 6-8 6-8 5-10 6-11 6-12 5-14 6-16 6-18 6-20 5-22 6-25 6-28 5-31 6-33 6-36 5-38 6-39 6-41 5-41 6-40 6-39 5-37 6-34 6-31 6-26 5-21 6-16 6-10 5-5 6 1 6 5 5 11 6 14 6 18 5 21 6 23 6 25 6 25 5 27 6 26 6 26 5 25 6 24 6 23 5 22 6 20 6 19 5 18 6 16 6 14 5 13 6 12 6 10 6 9 5 8 6 7 6 5 5 4 6 4 6 2 5 2 6 0 6 1 5-1 6-1 6-1 5-1 6-2 6-3 6-2 5-3 6-3 6-3 5-3 0 3z"/></g><g transform="translate(48.5 384.1)scale(.1)"><path d="M0 0l0-3 6-4 5-5 6-4 6-4 5-5 6-5 6-4 6-5 5-5 6-6 6-5 5-6 6-6 6-7 5-7 6-8 6-9 5-9 6-11 6-12 5-14 6-15 6-17 6-20 5-21 6-25 6-27 5-29 6-32 6-34 5-37 6-38 6-39 5-39 6-39 6-38 5-36 6-33 6-30 6-26 5-21 6-17 6-11 5-6 6-1 6 4 5 9 6 13 6 16 5 19 6 21 6 23 6 24 5 25 6 25 6 25 5 24 6 24 6 22 5 22 6 20 6 19 5 18 6 16 6 15 5 13 6 12 6 11 6 9 5 8 6 6 6 6 5 4 6 4 6 2 5 2 6 1 6 0 5 0 6-1 6-1 5-2 6-2 6-2 6-2 5-3 6-3 6-3 5-3 0 3z"/></g><g transform="translate(48.8 384.4)scale(.1)"><path d="M0 0l0-3 6-4 5-5 6-4 6-4 5-5 6-5 6-4 6-5 5-5 6-6 6-5 5-6 6-6 6-7 5-7 6-8 6-8 5-10 6-10 6-12 5-13 6-15 6-17 6-19 5-21 6-23 6-26 5-28 6-31 6-33 5-35 6-37 6-37 5-38 6-38 6-36 5-35 6-33 6-29 6-26 5-22 6-16 6-12 5-7 6-2 6 2 5 7 6 11 6 14 5 17 6 20 6 21 6 23 5 24 6 24 6 23 5 24 6 23 6 22 5 22 6 20 6 19 5 18 6 16 6 15 5 13 6 12 6 11 6 10 5 8 6 7 6 5 5 5 6 3 6 3 5 2 6 1 6 0 5 0 6-1 6-1 5-2 6-2 6-2 6-2 5-3 6-3 6-3 5-3 0 3z"/></g><g transform="translate(49.2 384.8)scale(.1)"><path d="M0 0l0-3 6-4 5-4 6-5 6-4 5-5 6-4 6-5 6-5 5-5 6-5 6-6 5-6 6-6 6-6 5-8 6-7 6-9 5-9 6-10 6-12 5-13 6-14 6-16 6-19 5-20 6-23 6-25 5-27 6-29 6-32 5-34 6-35 6-36 5-36 6-37 6-35 5-34 6-32 6-29 6-26 5-21 6-17 6-13 5-8 6-3 6 1 5 5 6 9 6 13 5 16 6 17 6 20 6 22 5 22 6 23 6 23 5 23 6 22 6 22 5 21 6 20 6 19 5 18 6 16 6 15 5 14 6 12 6 11 6 10 5 8 6 7 6 6 5 4 6 4 6 3 5 2 6 1 6 0 5 0 6-1 6-1 5-2 6-2 6-2 6-2 5-3 6-3 6-3 5-3 0 3z"/></g><g transform="translate(49.5 385.2)scale(.1)"><path d="M0 0l0-3 6-4 5-4 6-5 6-4 5-5 6-4 6-5 6-5 5-5 6-5 6-6 5-5 6-7 6-6 5-7 6-8 6-8 5-9 6-10 6-11 5-13 6-14 6-16 6-18 5-19 6-22 6-24 5-26 6-29 6-30 5-33 6-33 6-35 5-35 6-35 6-35 5-33 6-31 6-29 6-25 5-21 6-18 6-13 5-9 6-4 6-1 5 4 6 8 6 11 5 14 6 16 6 19 6 20 5 21 6 22 6 22 5 22 6 22 6 21 5 21 6 20 6 19 5 17 6 17 6 15 5 14 6 12 6 11 6 10 5 8 6 7 6 6 5 5 6 4 6 3 5 1 6 2 6 0 5 0 6-1 6-1 5-2 6-2 6-2 6-2 5-3 6-3 6-3 5-3 0 3z"/></g><g transform="translate(49.8 385.5)scale(.1)"><path d="M0 0l0-3 6-4 5-4 6-5 6-4 5-5 6-4 6-5 6-5 5-5 6-5 6-5 5-6 6-6 6-7 5-7 6-7 6-8 5-9 6-10 6-11 5-13 6-13 6-16 6-17 5-19 6-21 6-23 5-25 6-28 6-29 5-31 6-32 6-34 5-34 6-34 6-33 5-32 6-31 6-28 6-25 5-21 6-18 6-14 5-9 6-6 6-1 5 2 6 7 6 9 5 13 6 15 6 17 6 18 5 20 6 21 6 22 5 21 6 21 6 22 5 20 6 20 6 18 5 18 6 16 6 15 5 14 6 12 6 12 6 9 5 9 6 7 6 6 5 5 6 4 6 2 5 2 6 2 6 0 5 0 6-1 6-1 5-2 6-1 6-3 6-2 5-3 6-3 6-3 5-3 0 3z"/></g><g transform="translate(50.2 385.9)scale(.1)"><path d="M0 0l0-3 6-4 5-4 6-5 6-4 5-4 6-5 6-5 6-5 5-5 6-5 6-5 5-6 6-6 6-6 5-7 6-8 6-8 5-8 6-10 6-11 5-12 6-13 6-15 6-17 5-18 6-20 6-23 5-24 6-26 6-29 5-29 6-32 6-32 5-33 6-32 6-33 5-31 6-30 6-27 6-25 5-21 6-18 6-15 5-10 6-6 6-3 5 2 6 5 6 8 5 11 6 14 6 15 6 18 5 19 6 20 6 20 5 21 6 21 6 20 5 20 6 20 6 18 5 18 6 16 6 15 5 14 6 12 6 11 6 10 5 9 6 7 6 6 5 5 6 4 6 2 5 2 6 2 6 0 5 0 6-1 6-1 5-1 6-2 6-3 6-2 5-3 6-3 6-3 5-3 0 3z"/></g><g transform="translate(50.5 386.3)scale(.1)"><path d="M0 0l0-3 6-4 5-4 6-4 6-5 5-4 6-5 6-5 6-4 5-5 6-5 6-6 5-5 6-6 6-7 5-7 6-7 6-8 5-9 6-9 6-11 5-11 6-13 6-15 6-16 5-18 6-19 6-22 5-23 6-26 6-27 5-28 6-30 6-31 5-32 6-32 6-31 5-30 6-29 6-27 6-24 5-22 6-18 6-15 5-11 6-7 6-3 5 0 6 4 6 7 5 10 6 12 6 15 6 16 5 18 6 19 6 19 5 21 6 20 6 20 5 20 6 19 6 18 5 17 6 16 6 15 5 14 6 12 6 12 6 9 5 9 6 7 6 6 5 5 6 4 6 3 5 2 6 1 6 0 5 0 6-1 6-1 5-1 6-2 6-3 6-2 5-3 6-3 6-3 5-3 0 3z"/></g><g transform="translate(50.8 386.6)scale(.1)"><path d="M0 0l0-3 6-4 5-4 6-4 6-5 5-4 6-5 6-4 6-5 5-5 6-5 6-6 5-5 6-6 6-6 5-7 6-7 6-8 5-9 6-9 6-10 5-12 6-12 6-14 6-16 5-17 6-19 6-21 5-22 6-25 6-26 5-27 6-29 6-30 5-31 6-30 6-30 5-30 6-28 6-26 6-24 5-22 6-18 6-15 5-12 6-7 6-5 5 0 6 2 6 6 5 9 6 11 6 13 6 16 5 17 6 18 6 19 5 19 6 20 6 19 5 20 6 18 6 18 5 17 6 16 6 15 5 14 6 12 6 11 6 10 5 8 6 7 6 6 5 5 6 4 6 3 5 2 6 1 6 0 5 0 6 0 6-2 5-1 6-2 6-2 6-3 5-3 6-3 6-3 5-3 0 3z"/></g><g transform="translate(51.2 387)scale(.1)"><path d="M0 0l0-3 6-4 5-4 6-4 6-5 5-4 6-4 6-5 6-5 5-5 6-5 6-5 5-6 6-6 6-6 5-6 6-8 6-7 5-9 6-9 6-10 5-11 6-12 6-14 6-15 5-17 6-18 6-20 5-22 6-23 6-25 5-27 6-28 6-28 5-30 6-29 6-29 5-29 6-27 6-26 6-24 5-21 6-18 6-15 5-12 6-9 6-5 5-1 6 1 6 5 5 8 6 10 6 12 6 15 5 15 6 18 6 18 5 18 6 19 6 19 5 19 6 19 6 17 5 17 6 16 6 14 5 14 6 12 6 11 6 10 5 8 6 7 6 6 5 5 6 3 6 3 5 2 6 1 6 1 5 0 6-1 6-1 5-2 6-2 6-2 6-3 5-3 6-3 6-3 5-3 0 3z"/></g><g transform="translate(51.5 387.4)scale(.1)"><path d="M6 -4l0-3 5-4 6-4 6-4 5-5 6-4 6-5 6-5 5-5 6-5 6-5 5-5 6-6 6-6 5-7 6-7 6-7 5-9 6-9 6-9 5-11 6-12 6-14 6-14 5-16 6-18 6-19 5-21 6-23 6-24 5-25 6-27 6-28 5-28 6-28 6-29 5-27 6-27 6-25 6-24 5-20 6-19 6-15 5-12 6-9 6-6 5-2 6 1 6 3 5 7 6 9 6 12 6 13 5 15 6 16 6 18 5 18 6 18 6 19 5 18 6 18 6 17 5 16 6 16 6 14 5 13 6 12 6 11 6 10 5 8 6 7 6 6 5 4 6 4 6 3 5 2 6 1 6 0 5 0 6-1 6-1 5-2 6-2 6-2 6-3 5-3 6-2 6-4 5-3 0 3z"/></g><g transform="translate(51.8 387.7)scale(.1)"><path d="M6 -4l0-3 5-4 6-4 6-4 5-5 6-4 6-5 6-4 5-5 6-5 6-5 5-6 6-6 6-6 5-6 6-7 6-8 5-8 6-8 6-10 5-11 6-11 6-13 6-14 5-16 6-17 6-19 5-20 6-21 6-24 5-24 6-26 6-26 5-27 6-28 6-27 5-27 6-26 6-25 6-22 5-21 6-18 6-16 5-12 6-9 6-7 5-3 6 0 6 3 5 6 6 8 6 11 6 12 5 14 6 16 6 16 5 18 6 17 6 18 5 18 6 17 6 17 5 16 6 15 6 14 5 13 6 12 6 11 6 9 5 8 6 7 6 6 5 4 6 4 6 2 5 2 6 1 6 0 5 0 6-1 6-1 5-2 6-2 6-2 6-3 5-2 6-3 6-3 5-4 0 3z"/></g><g transform="translate(52.2 388.1)scale(.1)"><path d="M6 -4l0-2 5-5 6-4 6-4 5-4 6-5 6-4 6-5 5-5 6-5 6-5 5-6 6-5 6-6 5-7 6-6 6-8 5-8 6-8 6-10 5-10 6-11 6-13 6-13 5-15 6-17 6-18 5-19 6-21 6-22 5-24 6-25 6-25 5-26 6-27 6-26 5-26 6-25 6-24 6-22 5-21 6-18 6-15 5-13 6-9 6-7 5-4 6 0 6 2 5 5 6 7 6 10 6 11 5 14 6 14 6 16 5 17 6 17 6 17 5 17 6 17 6 16 5 16 6 15 6 13 5 13 6 11 6 11 6 9 5 7 6 7 6 6 5 4 6 4 6 2 5 2 6 1 6 0 5-1 6 0 6-2 5-1 6-3 6-2 6-3 5-2 6-3 6-3 0 2z"/></g><g transform="translate(52.5 388.5)scale(.1)"><path d="M6 -4l0-2 5-4 6-5 6-4 5-4 6-5 6-4 6-5 5-5 6-5 6-5 5-5 6-6 6-6 5-6 6-7 6-7 5-7 6-9 6-9 5-10 6-11 6-12 6-14 5-14 6-16 6-17 5-19 6-20 6-21 5-23 6-24 6-24 5-25 6-26 6-25 5-25 6-25 6-23 6-22 5-20 6-17 6-16 5-12 6-10 6-7 5-4 6-2 6 2 5 4 6 7 6 8 6 11 5 13 6 13 6 15 5 16 6 17 6 16 5 17 6 16 6 16 5 15 6 14 6 14 5 12 6 11 6 10 6 9 5 7 6 7 6 5 5 4 6 3 6 3 5 1 6 1 6 0 5 0 6-1 6-1 5-2 6-2 6-3 6-2 5-3 6-3 6-3 0 2z"/></g><g transform="translate(52.8 388.8)scale(.1)"><path d="M11 -7l0-3 6-5 6-4 5-4 6-5 6-4 6-5 5-4 6-5 6-5 5-6 6-5 6-6 5-6 6-7 6-7 5-7 6-9 6-9 5-9 6-11 6-12 6-13 5-14 6-15 6-17 5-17 6-20 6-20 5-22 6-23 6-23 5-24 6-25 6-25 5-24 6-23 6-23 6-21 5-19 6-18 6-15 5-13 6-10 6-7 5-5 6-2 6 1 5 4 6 6 6 8 6 10 5 11 6 13 6 15 5 15 6 15 6 16 5 16 6 16 6 15 5 15 6 13 6 13 5 12 6 11 6 9 6 9 5 7 6 6 6 5 5 4 6 3 6 3 5 1 6 1 6 0 5-1 6-1 6-1 5-2 6-2 6-3 6-2 5-3 6-3 6-3 0 2z"/></g><g transform="translate(53.2 389.2)scale(.1)"><path d="M11 -7l0-3 6-4 6-5 5-4 6-4 6-5 6-4 5-5 6-5 6-5 5-5 6-6 6-5 5-6 6-7 6-7 5-7 6-8 6-9 5-10 6-10 6-11 6-13 5-13 6-15 6-16 5-17 6-19 6-19 5-21 6-22 6-23 5-23 6-23 6-24 5-23 6-23 6-22 6-20 5-19 6-18 6-14 5-13 6-10 6-8 5-5 6-2 6 0 5 3 6 5 6 8 6 9 5 11 6 12 6 14 5 14 6 15 6 15 5 15 6 15 6 15 5 14 6 13 6 12 5 12 6 10 6 9 6 8 5 7 6 6 6 5 5 4 6 3 6 2 5 1 6 1 6-1 5 0 6-1 6-2 5-2 6-2 6-2 6-3 5-3 6-3 6-3 0 2z"/></g><g transform="translate(53.5 389.6)scale(.1)"><path d="M11 -7l0-3 6-4 6-4 5-5 6-4 6-5 6-4 5-5 6-5 6-5 5-5 6-5 6-6 5-6 6-6 6-7 5-7 6-8 6-9 5-9 6-10 6-11 6-12 5-13 6-14 6-15 5-17 6-18 6-19 5-19 6-21 6-22 5-22 6-23 6-23 5-22 6-22 6-21 6-20 5-18 6-17 6-15 5-12 6-11 6-7 5-5 6-3 6 0 5 2 6 5 6 6 6 9 5 10 6 11 6 13 5 14 6 14 6 14 5 15 6 14 6 14 5 13 6 13 6 12 5 10 6 10 6 9 6 8 5 6 6 6 6 5 5 3 6 3 6 2 5 1 6 0 6 0 5-1 6-1 6-1 5-2 6-3 6-2 6-3 5-3 6-3 6-3 0 2z"/></g><g transform="translate(53.8 389.9)scale(.1)"><path d="M11 -7l0-3 6-4 6-4 5-5 6-4 6-4 6-5 5-4 6-5 6-5 5-5 6-6 6-5 5-6 6-6 6-7 5-7 6-8 6-8 5-9 6-10 6-10 6-12 5-12 6-14 6-15 5-16 6-17 6-18 5-19 6-20 6-21 5-21 6-22 6-21 5-22 6-21 6-20 6-20 5-17 6-17 6-14 5-13 6-10 6-7 5-6 6-3 6 0 5 1 6 4 6 6 6 8 5 9 6 11 6 12 5 13 6 13 6 14 5 14 6 13 6 13 5 13 6 12 6 11 5 11 6 9 6 8 6 8 5 6 6 5 6 4 5 4 6 2 6 2 5 1 6 0 6 0 5-1 6-1 6-2 5-2 6-2 6-3 6-3 5-3 6-3 0 3z"/></g><g transform="translate(54.2 390.3)scale(.1)"><path d="M17 -11l0-3 6-4 5-4 6-5 6-4 6-5 5-4 6-5 6-5 5-5 6-5 6-6 5-5 6-6 6-7 5-7 6-7 6-8 5-9 6-10 6-10 6-11 5-12 6-13 6-14 5-16 6-16 6-17 5-18 6-19 6-20 5-21 6-20 6-21 5-21 6-20 6-20 6-18 5-18 6-15 6-15 5-12 6-10 6-8 5-5 6-3 6-1 5 1 6 3 6 6 6 7 5 9 6 10 6 11 5 12 6 12 6 13 5 13 6 13 6 12 5 12 6 12 6 10 5 10 6 9 6 8 6 7 5 5 6 5 6 4 5 3 6 3 6 1 5 1 6 0 6-1 5 0 6-2 6-2 5-2 6-2 6-3 6-3 5-2 6-4 0 3z"/></g><g transform="translate(54.5 390.7)scale(.1)"><path d="M17 -11l0-3 6-4 5-4 6-5 6-4 6-4 5-5 6-5 6-4 5-5 6-5 6-6 5-6 6-6 6-6 5-7 6-7 6-8 5-8 6-9 6-10 6-11 5-12 6-12 6-14 5-14 6-16 6-17 5-17 6-18 6-19 5-20 6-19 6-20 5-20 6-19 6-19 6-18 5-17 6-15 6-14 5-12 6-10 6-7 5-6 6-4 6-1 5 1 6 3 6 5 6 6 5 8 6 9 6 11 5 11 6 12 6 12 5 12 6 12 6 12 5 11 6 11 6 10 5 9 6 8 6 7 6 7 5 5 6 5 6 3 5 3 6 2 6 1 5 1 6 0 6-1 5-1 6-1 6-2 5-2 6-3 6-2 6-3 5-3 6-3 0 2z"/></g><g transform="translate(54.8 391)scale(.1)"><path d="M17 -11l0-3 6-4 5-4 6-4 6-5 6-4 5-5 6-4 6-5 5-5 6-5 6-5 5-6 6-6 6-6 5-7 6-7 6-7 5-9 6-8 6-10 6-10 5-11 6-13 6-13 5-13 6-15 6-16 5-17 6-17 6-18 5-19 6-18 6-19 5-19 6-19 6-18 6-17 5-16 6-15 6-13 5-12 6-10 6-7 5-6 6-4 6-1 5 0 6 3 6 4 6 6 5 7 6 8 6 10 5 10 6 11 6 11 5 12 6 11 6 11 5 11 6 10 6 9 5 9 6 7 6 7 6 6 5 5 6 4 6 3 5 3 6 2 6 1 5 0 6 0 6-1 5-1 6-2 6-2 5-2 6-3 6-2 6-3 5-3 6-3 0 2z"/></g><g transform="translate(55.2 391.4)scale(.1)"><path d="M23 -15l0-3 5-4 6-4 6-4 6-5 5-4 6-5 6-5 5-4 6-5 6-6 5-5 6-6 6-6 5-6 6-7 6-8 5-8 6-8 6-9 6-10 5-11 6-12 6-12 5-13 6-15 6-15 5-16 6-16 6-17 5-18 6-18 6-18 5-18 6-18 6-17 6-16 5-16 6-14 6-13 5-11 6-10 6-7 5-6 6-4 6-2 5 0 6 2 6 4 6 5 5 7 6 8 6 8 5 10 6 10 6 10 5 11 6 11 6 10 5 10 6 9 6 9 5 7 6 8 6 6 6 5 5 5 6 4 6 2 5 3 6 1 6 1 5 0 6 0 6-1 5-2 6-1 6-2 5-3 6-2 6-3 6-3 5-3 6-3 0 2z"/></g><g transform="translate(55.5 391.8)scale(.1)"><path d="M23 -15l0-3 5-4 6-4 6-4 6-5 5-4 6-4 6-5 5-5 6-5 6-5 5-5 6-6 6-6 5-6 6-7 6-7 5-8 6-8 6-9 6-10 5-10 6-11 6-12 5-13 6-13 6-14 5-16 6-15 6-17 5-16 6-17 6-18 5-17 6-17 6-16 6-16 5-15 6-13 6-13 5-11 6-9 6-7 5-6 6-4 6-2 5 0 6 1 6 3 6 5 5 6 6 7 6 8 5 9 6 9 6 10 5 9 6 10 6 10 5 9 6 8 6 8 5 7 6 7 6 6 6 5 5 4 6 3 6 3 5 1 6 2 6 0 5 0 6-1 6-1 5-1 6-2 6-2 5-2 6-3 6-3 6-3 5-3 0 3z"/></g><g transform="translate(55.8 392.1)scale(.1)"><path d="M28 -19l0-3 6-4 6-4 6-4 5-5 6-4 6-5 5-4 6-5 6-5 5-6 6-5 6-6 5-6 6-7 6-7 5-7 6-8 6-9 6-9 5-10 6-10 6-12 5-12 6-13 6-13 5-15 6-15 6-15 5-16 6-16 6-17 5-16 6-16 6-16 6-15 5-14 6-13 6-12 5-10 6-9 6-8 5-5 6-4 6-3 5 0 6 1 6 3 6 4 5 5 6 6 6 8 5 8 6 8 6 9 5 9 6 9 6 8 5 9 6 8 6 7 5 6 6 6 6 6 6 4 5 4 6 3 6 2 5 1 6 1 6 0 5 0 6-1 6-1 5-1 6-2 6-3 5-2 6-3 6-3 6-3 5-3 0 3z"/></g><g transform="translate(56.2 392.5)scale(.1)"><path d="M28 -19l0-2 6-5 6-4 6-4 5-4 6-5 6-4 5-5 6-5 6-5 5-5 6-5 6-6 5-6 6-7 6-6 5-7 6-8 6-8 6-9 5-10 6-10 6-11 5-11 6-12 6-13 5-14 6-14 6-15 5-15 6-15 6-16 5-15 6-15 6-15 6-15 5-13 6-13 6-11 5-10 6-9 6-7 5-6 6-4 6-2 5-1 6 1 6 2 6 3 5 5 6 6 6 6 5 7 6 8 6 8 5 8 6 8 6 8 5 8 6 7 6 7 5 6 6 5 6 4 6 4 5 4 6 2 6 2 5 1 6 1 6 0 5-1 6-1 6-1 5-2 6-2 6-2 5-3 6-2 6-3 6-3 5-4 0 3z"/></g><g transform="translate(56.5 392.9)scale(.1)"><path d="M28 -19l0-2 6-4 6-5 6-4 5-4 6-4 6-5 5-5 6-4 6-5 5-5 6-6 6-5 5-6 6-6 6-7 5-7 6-7 6-8 6-9 5-9 6-9 6-11 5-11 6-11 6-13 5-12 6-14 6-14 5-14 6-15 6-14 5-15 6-14 6-14 6-14 5-13 6-12 6-11 5-10 6-8 6-7 5-6 6-4 6-2 5-1 6 0 6 2 6 3 5 4 6 5 6 6 5 6 6 7 6 7 5 8 6 7 6 7 5 7 6 6 6 6 5 6 6 4 6 4 6 4 5 2 6 3 6 1 5 1 6 0 6 0 5-1 6-1 6-1 5-2 6-2 6-3 5-2 6-3 6-3 6-3 0 3z"/></g><g transform="translate(56.8 393.2)scale(.1)"><path d="M34 -22l0-3 6-4 6-5 5-4 6-4 6-5 5-4 6-5 6-5 5-5 6-5 6-5 5-6 6-6 6-6 5-7 6-7 6-8 6-8 5-9 6-9 6-10 5-10 6-11 6-12 5-12 6-13 6-13 5-14 6-13 6-14 5-14 6-14 6-13 6-13 5-12 6-11 6-11 5-9 6-8 6-7 5-6 6-4 6-3 5-1 6 0 6 2 6 2 5 3 6 5 6 5 5 6 6 6 6 6 5 7 6 6 6 7 5 6 6 5 6 6 5 4 6 5 6 3 6 3 5 2 6 2 6 1 5 1 6 0 6-1 5-1 6-1 6-2 5-2 6-2 6-2 5-3 6-3 6-3 6-3 0 3z"/></g><g transform="translate(57.2 393.6)scale(.1)"><path d="M34 -22l0-3 6-4 6-4 5-5 6-4 6-4 5-5 6-4 6-5 5-5 6-5 6-5 5-6 6-6 6-6 5-7 6-6 6-8 6-8 5-8 6-9 6-9 5-10 6-11 6-11 5-11 6-12 6-13 5-12 6-13 6-13 5-13 6-13 6-13 6-12 5-12 6-11 6-10 5-8 6-8 6-7 5-5 6-4 6-3 5-2 6 0 6 1 6 2 5 3 6 3 6 5 5 5 6 5 6 6 5 6 6 6 6 5 5 6 6 5 6 4 5 4 6 4 6 3 6 2 5 2 6 1 6 1 5 0 6 0 6 0 5-2 6-1 6-2 5-2 6-2 6-3 5-3 6-3 6-3 6-3 0 3z"/></g><g transform="translate(57.5 394)scale(.1)"><path d="M40 -26l0-3 6-4 5-4 6-5 6-4 5-4 6-5 6-5 5-4 6-5 6-6 5-5 6-6 6-6 5-6 6-7 6-7 6-7 5-8 6-9 6-9 5-9 6-10 6-10 5-11 6-12 6-11 5-12 6-13 6-12 5-12 6-12 6-12 6-12 5-11 6-10 6-10 5-8 6-8 6-6 5-6 6-4 6-3 5-1 6-1 6 1 6 1 5 3 6 3 6 4 5 4 6 5 6 4 5 6 6 5 6 4 5 5 6 4 6 4 5 4 6 3 6 2 6 2 5 2 6 1 6 0 5 0 6 0 6-1 5-2 6-1 6-2 5-2 6-3 6-2 5-3 6-3 6-3 0 2z"/></g><g transform="translate(57.8 394.3)scale(.1)"><path d="M40 -26l0-3 6-4 5-4 6-4 6-5 5-4 6-4 6-5 5-5 6-5 6-5 5-5 6-6 6-5 5-7 6-6 6-7 6-7 5-8 6-8 6-8 5-9 6-10 6-9 5-11 6-10 6-11 5-12 6-11 6-12 5-12 6-11 6-11 6-11 5-11 6-9 6-9 5-9 6-7 6-6 5-5 6-4 6-3 5-2 6-1 6 0 6 1 5 2 6 3 6 3 5 3 6 4 6 5 5 4 6 4 6 4 5 4 6 4 6 4 5 2 6 3 6 2 6 1 5 2 6 0 6 0 5 0 6-1 6-1 5-2 6-1 6-2 5-3 6-2 6-3 5-3 6-3 6-3 0 2z"/></g><g transform="translate(58.2 394.7)scale(.1)"><path d="M46 -30l0-3 5-4 6-4 6-4 5-5 6-4 6-5 5-4 6-5 6-5 5-5 6-6 6-5 5-6 6-6 6-7 6-7 5-7 6-8 6-8 5-8 6-9 6-10 5-9 6-11 6-10 5-11 6-10 6-11 5-11 6-11 6-11 6-10 5-10 6-9 6-9 5-8 6-7 6-6 5-5 6-4 6-3 5-2 6-1 6 0 6 0 5 2 6 2 6 2 5 4 6 3 6 3 5 4 6 4 6 3 5 4 6 3 6 2 5 3 6 2 6 1 6 1 5 1 6 0 6 0 5-1 6-1 6-1 5-2 6-2 6-2 5-2 6-3 6-3 5-3 6-3 6-3 0 2z"/></g><g transform="translate(58.5 395.1)scale(.1)"><path d="M46 -30l0-2 5-5 6-4 6-4 5-4 6-5 6-4 5-5 6-4 6-5 5-5 6-6 6-5 5-6 6-6 6-6 6-7 5-7 6-7 6-8 5-8 6-8 6-9 5-9 6-10 6-10 5-10 6-10 6-10 5-11 6-10 6-10 6-9 5-10 6-9 6-8 5-7 6-7 6-6 5-5 6-4 6-3 5-2 6-1 6-1 6 0 5 1 6 2 6 2 5 2 6 3 6 3 5 3 6 3 6 3 5 2 6 3 6 2 5 2 6 1 6 2 6 0 5 0 6 0 6 0 5-1 6-1 6-2 5-2 6-2 6-2 5-3 6-2 6-3 5-3 6-4 0 3z"/></g><g transform="translate(58.8 395.5)scale(.1)"><path d="M51 -34l0-2 6-4 6-5 5-4 6-4 6-5 5-4 6-5 6-5 5-5 6-5 6-5 5-6 6-5 6-6 6-7 5-6 6-7 6-8 5-8 6-8 6-8 5-9 6-9 6-9 5-9 6-10 6-10 5-9 6-10 6-9 6-9 5-9 6-9 6-7 5-7 6-7 6-6 5-4 6-4 6-4 5-2 6-2 6 0 6-1 5 1 6 1 6 1 5 2 6 3 6 2 5 2 6 3 6 2 5 2 6 2 6 2 5 1 6 1 6 1 6 0 5 0 6-1 6-1 5-1 6-1 6-2 5-2 6-2 6-3 5-2 6-3 6-3 5-3 6-3 0 2z"/></g><g transform="translate(59.2 395.8)scale(.1)"><path d="M57 -37l0-3 6-4 5-5 6-4 6-4 5-5 6-4 6-5 5-5 6-5 6-5 5-5 6-6 6-6 6-6 5-6 6-7 6-7 5-7 6-8 6-8 5-8 6-9 6-8 5-9 6-9 6-9 5-10 6-9 6-8 6-9 5-8 6-8 6-8 5-6 6-7 6-5 5-5 6-4 6-3 5-3 6-1 6-2 6 0 5 0 6 1 6 1 5 1 6 2 6 1 5 2 6 2 6 2 5 1 6 2 6 1 5 1 6 0 6 0 6 0 5 0 6-1 6-1 5-1 6-2 6-2 5-2 6-2 6-3 5-3 6-3 6-3 5-3 0 3z"/></g><g transform="translate(59.5 396.2)scale(.1)"><path d="M57 -37l0-3 6-4 5-4 6-5 6-4 5-4 6-5 6-4 5-5 6-5 6-5 5-5 6-6 6-5 6-6 5-6 6-7 6-6 5-7 6-8 6-7 5-8 6-8 6-8 5-9 6-8 6-9 5-8 6-9 6-8 6-8 5-8 6-8 6-7 5-6 6-6 6-5 5-5 6-4 6-3 5-3 6-2 6-1 6-1 5 0 6 0 6 0 5 1 6 1 6 1 5 2 6 1 6 1 5 1 6 1 6 1 5 0 6 0 6 0 6 0 5-1 6-1 6-1 5-2 6-2 6-2 5-2 6-3 6-3 5-2 6-3 6-3 5-4 0 3z"/></g><g transform="translate(59.8 396.6)scale(.1)"><path d="M63 -41l0-3 5-4 6-4 6-4 5-5 6-4 6-5 5-4 6-5 6-5 5-5 6-5 6-6 6-6 5-6 6-6 6-6 5-7 6-7 6-7 5-7 6-8 6-7 5-8 6-8 6-8 5-9 6-8 6-7 6-8 5-8 6-7 6-6 5-6 6-6 6-5 5-5 6-4 6-3 5-3 6-2 6-2 6-1 5 0 6-1 6 0 5 1 6 0 6 1 5 1 6 1 6 0 5 1 6 0 6 0 5 1 6-1 6 0 6-1 5-1 6-1 6-2 5-2 6-2 6-2 5-3 6-2 6-3 5-3 6-3 6-3 0 3z"/></g><g transform="translate(60.2 396.9)scale(.1)"><path d="M63 -41l0-3 5-4 6-4 6-4 5-4 6-5 6-4 5-5 6-4 6-5 5-5 6-5 6-6 6-5 5-6 6-6 6-6 5-6 6-7 6-6 5-7 6-8 6-7 5-7 6-8 6-8 5-7 6-8 6-7 6-7 5-8 6-6 6-7 5-6 6-5 6-5 5-5 6-3 6-4 5-3 6-2 6-2 6-1 5-1 6-1 6 0 5 0 6 0 6 0 5 0 6 1 6 0 5 0 6 0 6 0 5 0 6-1 6-1 6-1 5-1 6-2 6-2 5-2 6-2 6-2 5-3 6-3 6-3 5-3 6-3 6-3 0 3z"/></g><g transform="translate(60.5 397.3)scale(.1)"><path d="M68 -45l0-3 6-4 6-4 5-4 6-4 6-5 5-4 6-5 6-4 5-5 6-5 6-5 6-6 5-5 6-6 6-6 5-6 6-6 6-6 5-7 6-7 6-7 5-7 6-7 6-7 5-7 6-8 6-7 6-6 5-7 6-7 6-6 5-5 6-6 6-4 5-5 6-4 6-3 5-3 6-3 6-2 6-1 5-2 6 0 6-1 5-1 6 0 6 0 5 0 6 0 6-1 5 0 6 0 6-1 5-1 6-1 6-1 6-1 5-2 6-1 6-2 5-3 6-2 6-3 5-2 6-3 6-3 5-3 6-3 0 2z"/></g><g transform="translate(60.8 397.7)scale(.1)"><path d="M74 -49l0-2 6-4 5-5 6-4 6-4 5-5 6-4 6-5 5-4 6-5 6-5 6-5 5-6 6-5 6-6 5-6 6-6 6-6 5-6 6-6 6-7 5-7 6-6 6-7 5-7 6-7 6-6 6-7 5-6 6-6 6-6 5-6 6-5 6-5 5-4 6-4 6-3 5-3 6-3 6-2 6-2 5-2 6-1 6-1 5-1 6 0 6-1 5 0 6-1 6-1 5 0 6-1 6-1 5-1 6-1 6-2 6-1 5-2 6-2 6-2 5-3 6-2 6-3 5-3 6-3 6-3 5-3 6-3 0 2z"/></g><g transform="translate(61.2 398)scale(.1)"><path d="M80 -52l0-3 5-4 6-5 6-4 5-4 6-5 6-4 5-5 6-4 6-5 6-5 5-5 6-6 6-5 5-6 6-5 6-6 5-6 6-6 6-7 5-6 6-6 6-7 5-6 6-7 6-6 6-6 5-6 6-6 6-6 5-5 6-5 6-4 5-5 6-3 6-4 5-3 6-3 6-2 6-2 5-2 6-2 6-1 5-1 6-1 6-1 5-1 6-1 6-1 5-1 6-1 6-1 5-2 6-1 6-2 6-2 5-2 6-2 6-2 5-3 6-2 6-3 5-3 6-3 6-3 5-4 0 3z"/></g><g transform="translate(61.5 398.4)scale(.1)"><path d="M80 -52l0-3 5-4 6-4 6-4 5-5 6-4 6-4 5-5 6-5 6-4 6-5 5-5 6-5 6-5 5-6 6-5 6-6 5-6 6-5 6-6 5-6 6-7 6-6 5-6 6-6 6-6 6-6 5-5 6-6 6-5 5-5 6-5 6-5 5-4 6-4 6-3 5-4 6-2 6-3 6-2 5-2 6-2 6-2 5-1 6-1 6-2 5-1 6-1 6-1 5-2 6-1 6-2 5-1 6-2 6-2 6-2 5-2 6-3 6-2 5-3 6-3 6-3 5-3 6-3 6-3 0 3z"/></g><g transform="translate(61.8 398.8)scale(.1)"><path d="M85 -56l0-3 6-4 6-4 5-4 6-4 6-5 5-4 6-5 6-4 6-5 5-5 6-5 6-5 5-5 6-5 6-6 5-5 6-6 6-5 5-6 6-6 6-6 5-6 6-5 6-6 6-6 5-5 6-6 6-5 5-5 6-4 6-5 5-4 6-4 6-3 5-4 6-3 6-2 6-3 5-2 6-2 6-2 5-2 6-1 6-2 5-1 6-2 6-1 5-2 6-2 6-2 5-1 6-2 6-3 6-2 5-2 6-3 6-2 5-3 6-3 6-3 5-3 6-3 6-4 0 3z"/></g><g transform="translate(62.2 399.1)scale(.1)"><path d="M91 -60l0-3 6-4 5-4 6-4 6-4 5-5 6-4 6-5 6-4 5-5 6-5 6-5 5-5 6-5 6-5 5-5 6-5 6-6 5-5 6-6 6-5 5-6 6-6 6-5 6-5 5-6 6-5 6-5 5-5 6-4 6-4 5-4 6-4 6-4 5-3 6-3 6-3 6-3 5-2 6-2 6-2 5-2 6-2 6-2 5-2 6-2 6-2 5-1 6-2 6-2 5-3 6-2 6-2 6-3 5-2 6-3 6-3 5-3 6-3 6-3 5-3 6-3 0 3z"/></g><g transform="translate(62.5 399.5)scale(.1)"><path d="M97 -63l0-3 5-4 6-5 6-4 5-4 6-4 6-5 6-4 5-5 6-5 6-4 5-5 6-5 6-5 5-5 6-5 6-6 5-5 6-5 6-5 5-6 6-5 6-5 6-5 5-6 6-4 6-5 5-5 6-4 6-5 5-4 6-3 6-4 5-3 6-3 6-3 6-3 5-3 6-2 6-2 5-3 6-2 6-2 5-2 6-2 6-2 5-2 6-2 6-3 5-2 6-2 6-3 6-3 5-2 6-3 6-3 5-3 6-3 6-3 5-4 0 3z"/></g><g transform="translate(62.8 399.9)scale(.1)"><path d="M102 -67l0-3 6-4 6-4 5-5 6-4 6-4 6-5 5-4 6-5 6-4 5-5 6-5 6-4 5-5 6-5 6-5 5-5 6-6 6-5 5-5 6-5 6-5 6-5 5-5 6-5 6-4 5-5 6-4 6-4 5-4 6-4 6-4 5-3 6-3 6-3 6-3 5-3 6-2 6-3 5-2 6-3 6-2 5-2 6-3 6-2 5-2 6-3 6-2 5-3 6-2 6-3 6-3 5-2 6-3 6-3 5-3 6-4 6-3 0 3z"/></g><g transform="translate(63.2 400.2)scale(.1)"><path d="M108 -71l0-3 6-4 5-4 6-4 6-5 6-4 5-4 6-5 6-4 5-5 6-4 6-5 5-5 6-5 6-5 5-4 6-5 6-5 5-5 6-5 6-5 6-5 5-4 6-5 6-5 5-4 6-4 6-4 5-4 6-4 6-4 5-3 6-3 6-4 6-3 5-2 6-3 6-3 5-2 6-3 6-2 5-3 6-2 6-3 5-2 6-3 6-3 5-2 6-3 6-3 6-3 5-3 6-3 6-3 5-3 6-3 6-4 0 3z"/></g><g transform="translate(63.5 400.6)scale(.1)"><path d="M108 -71l0-3 6-4 5-4 6-4 6-4 6-4 5-5 6-4 6-4 5-5 6-4 6-5 5-4 6-5 6-5 5-5 6-4 6-5 5-5 6-5 6-4 6-5 5-5 6-4 6-4 5-5 6-4 6-4 5-4 6-4 6-3 5-4 6-3 6-3 6-3 5-3 6-3 6-3 5-3 6-2 6-3 5-3 6-2 6-3 5-3 6-2 6-3 5-3 6-3 6-3 6-3 5-3 6-3 6-3 5-4 6-3 0 3z"/></g><g transform="translate(63.8 401)scale(.1)"><path d="M114 -75l0-2 5-4 6-4 6-5 6-4 5-4 6-4 6-5 5-4 6-4 6-5 5-4 6-5 6-4 5-5 6-5 6-4 5-5 6-4 6-5 6-4 5-5 6-4 6-5 5-4 6-4 6-4 5-4 6-4 6-3 5-4 6-3 6-3 6-4 5-3 6-3 6-3 5-2 6-3 6-3 5-3 6-3 6-3 5-2 6-3 6-3 5-3 6-3 6-3 6-3 5-3 6-4 6-3 5-3 0 2z"/></g><g transform="translate(64.2 401.3)scale(.1)"><path d="M125 -82l0-3 6-4 6-4 5-4 6-5 6-4 5-4 6-4 6-5 5-4 6-5 6-4 5-4 6-5 6-4 5-5 6-4 6-5 6-4 5-5 6-4 6-4 5-4 6-4 6-4 5-4 6-4 6-4 5-3 6-4 6-3 6-3 5-3 6-3 6-3 5-3 6-3 6-3 5-3 6-3 6-3 5-3 6-3 6-3 5-3 6-3 6-3 6-4 5-3 6-3 6-3 0 2z"/></g><g transform="translate(64.5 401.7)scale(.1)"><path d="M131 -86l0-3 6-4 5-4 6-4 6-4 5-4 6-5 6-4 5-4 6-4 6-5 5-4 6-5 6-4 5-4 6-5 6-4 6-4 5-5 6-4 6-4 5-4 6-4 6-4 5-4 6-4 6-3 5-4 6-3 6-4 6-3 5-3 6-3 6-4 5-3 6-3 6-3 5-3 6-3 6-3 5-3 6-3 6-3 5-3 6-4 6-3 6-3 5-3 6-4 0 3z"/></g></g><path d="M24.5 357.6L23 358.6M24.5 338.1L23 339.1M24.5 318.6L23 319.6M24.5 299.1L23 300.1M24.5 279.6L23 280.6M24.5 260.1L23 261.1M64.5 401.7L63 402.7M64.5 401.7L65.7 403M44.5 379.6L43 380.6M90.1 384.9L91.3 386.2M24.5 357.6L23 358.6M115.7 368.1L116.9 369.4" stroke="#777" stroke-width=".6" fill="none"/><g style="font-family:'Liberation Sans',Arial,sans-serif" font-size="7" fill="#404040"><text x="22.5" y="358.9" text-anchor="end">0</text><text x="22.5" y="339.4" text-anchor="end">0.2</text><text x="22.5" y="319.9" text-anchor="end">0.4</text><text x="22.5" y="300.4" text-anchor="end">0.6</text><text x="22.5" y="280.9" text-anchor="end">0.8</text><text x="22.5" y="261.4" text-anchor="end">1</text><text x="22" y="367.1" text-anchor="end">20</text><text x="42" y="389.1" text-anchor="end">0</text><text x="62" y="411.2" text-anchor="end">-20</text><text x="67" y="411">-20</text><text x="92.6" y="394.2">0</text><text x="118.2" y="377.4">20</text></g><g clip-path="url(#cc)"><g filter="url(#jc)" shape-rendering="crispEdges"><rect x="146" y="265" width="100" height="100" fill="#000"/><path fill="#010101" d="M188 269h2v2h-2zM190 269h2v2h-2zM192 269h2v2h-2zM194 269h2v2h-2zM196 269h2v2h-2zM198 269h2v2h-2zM200 269h2v2h-2zM180 271h2v2h-2zM182 271h2v2h-2zM184 271h2v2h-2zM186 271h2v2h-2zM188 271h2v2h-2zM190 271h2v2h-2zM192 271h2v2h-2zM194 271h2v2h-2zM196 271h2v2h-2zM198 271h2v2h-2zM200 271h2v2h-2zM202 271h2v2h-2zM204 271h2v2h-2zM206 271h2v2h-2zM208 271h2v2h-2zM174 273h2v2h-2zM176 273h2v2h-2zM178 273h2v2h-2zM180 273h2v2h-2zM182 273h2v2h-2zM184 273h2v2h-2zM186 273h2v2h-2zM188 273h2v2h-2zM190 273h2v2h-2zM192 273h2v2h-2zM194 273h2v2h-2zM196 273h2v2h-2zM198 273h2v2h-2zM200 273h2v2h-2zM202 273h2v2h-2zM204 273h2v2h-2zM206 273h2v2h-2zM208 273h2v2h-2zM210 273h2v2h-2zM212 273h2v2h-2zM170 275h2v2h-2zM172 275h2v2h-2zM174 275h2v2h-2zM176 275h2v2h-2zM178 275h2v2h-2zM180 275h2v2h-2zM182 275h2v2h-2zM206 275h2v2h-2zM208 275h2v2h-2zM210 275h2v2h-2zM212 275h2v2h-2zM214 275h2v2h-2zM216 275h2v2h-2zM168 277h2v2h-2zM170 277h2v2h-2zM172 277h2v2h-2zM174 277h2v2h-2zM176 277h2v2h-2zM212 277h2v2h-2zM214 277h2v2h-2zM216 277h2v2h-2zM218 277h2v2h-2zM220 277h2v2h-2zM164 279h2v2h-2zM166 279h2v2h-2zM168 279h2v2h-2zM170 279h2v2h-2zM172 279h2v2h-2zM216 279h2v2h-2zM218 279h2v2h-2zM220 279h2v2h-2zM222 279h2v2h-2zM162 281h2v2h-2zM164 281h2v2h-2zM166 281h2v2h-2zM168 281h2v2h-2zM218 281h2v2h-2zM220 281h2v2h-2zM222 281h2v2h-2zM224 281h2v2h-2zM160 283h2v2h-2zM162 283h2v2h-2zM164 283h2v2h-2zM166 283h2v2h-2zM222 283h2v2h-2zM224 283h2v2h-2zM226 283h2v2h-2zM158 285h2v2h-2zM160 285h2v2h-2zM162 285h2v2h-2zM164 285h2v2h-2zM224 285h2v2h-2zM226 285h2v2h-2zM228 285h2v2h-2zM156 287h2v2h-2zM158 287h2v2h-2zM160 287h2v2h-2zM162 287h2v2h-2zM226 287h2v2h-2zM228 287h2v2h-2zM230 287h2v2h-2zM156 289h2v2h-2zM158 289h2v2h-2zM160 289h2v2h-2zM228 289h2v2h-2zM230 289h2v2h-2zM232 289h2v2h-2zM154 291h2v2h-2zM156 291h2v2h-2zM158 291h2v2h-2zM228 291h2v2h-2zM230 291h2v2h-2zM232 291h2v2h-2zM152 293h2v2h-2zM154 293h2v2h-2zM156 293h2v2h-2zM230 293h2v2h-2zM232 293h2v2h-2zM234 293h2v2h-2zM152 295h2v2h-2zM154 295h2v2h-2zM156 295h2v2h-2zM232 295h2v2h-2zM234 295h2v2h-2zM236 295h2v2h-2zM150 297h2v2h-2zM152 297h2v2h-2zM154 297h2v2h-2zM232 297h2v2h-2zM234 297h2v2h-2zM236 297h2v2h-2zM150 299h2v2h-2zM152 299h2v2h-2zM154 299h2v2h-2zM234 299h2v2h-2zM236 299h2v2h-2zM150 301h2v2h-2zM152 301h2v2h-2zM234 301h2v2h-2zM236 301h2v2h-2zM238 301h2v2h-2zM148 303h2v2h-2zM150 303h2v2h-2zM152 303h2v2h-2zM234 303h2v2h-2zM236 303h2v2h-2zM238 303h2v2h-2zM148 305h2v2h-2zM150 305h2v2h-2zM152 305h2v2h-2zM236 305h2v2h-2zM238 305h2v2h-2zM148 307h2v2h-2zM150 307h2v2h-2zM152 307h2v2h-2zM236 307h2v2h-2zM238 307h2v2h-2zM240 307h2v2h-2zM148 309h2v2h-2zM150 309h2v2h-2zM236 309h2v2h-2zM238 309h2v2h-2zM240 309h2v2h-2zM148 311h2v2h-2zM150 311h2v2h-2zM236 311h2v2h-2zM238 311h2v2h-2zM240 311h2v2h-2zM148 313h2v2h-2zM150 313h2v2h-2zM236 313h2v2h-2zM238 313h2v2h-2zM240 313h2v2h-2zM148 315h2v2h-2zM150 315h2v2h-2zM236 315h2v2h-2zM238 315h2v2h-2zM240 315h2v2h-2zM148 317h2v2h-2zM150 317h2v2h-2zM236 317h2v2h-2zM238 317h2v2h-2zM240 317h2v2h-2zM148 319h2v2h-2zM150 319h2v2h-2zM236 319h2v2h-2zM238 319h2v2h-2zM240 319h2v2h-2zM148 321h2v2h-2zM150 321h2v2h-2zM236 321h2v2h-2zM238 321h2v2h-2zM240 321h2v2h-2zM148 323h2v2h-2zM150 323h2v2h-2zM236 323h2v2h-2zM238 323h2v2h-2zM240 323h2v2h-2zM148 325h2v2h-2zM150 325h2v2h-2zM152 325h2v2h-2zM236 325h2v2h-2zM238 325h2v2h-2zM240 325h2v2h-2zM148 327h2v2h-2zM150 327h2v2h-2zM152 327h2v2h-2zM236 327h2v2h-2zM238 327h2v2h-2zM148 329h2v2h-2zM150 329h2v2h-2zM152 329h2v2h-2zM234 329h2v2h-2zM236 329h2v2h-2zM238 329h2v2h-2zM150 331h2v2h-2zM152 331h2v2h-2zM154 331h2v2h-2zM234 331h2v2h-2zM236 331h2v2h-2zM238 331h2v2h-2zM150 333h2v2h-2zM152 333h2v2h-2zM154 333h2v2h-2zM234 333h2v2h-2zM236 333h2v2h-2zM152 335h2v2h-2zM154 335h2v2h-2zM232 335h2v2h-2zM234 335h2v2h-2zM236 335h2v2h-2zM152 337h2v2h-2zM154 337h2v2h-2zM156 337h2v2h-2zM232 337h2v2h-2zM234 337h2v2h-2zM154 339h2v2h-2zM156 339h2v2h-2zM158 339h2v2h-2zM230 339h2v2h-2zM232 339h2v2h-2zM234 339h2v2h-2zM154 341h2v2h-2zM156 341h2v2h-2zM158 341h2v2h-2zM228 341h2v2h-2zM230 341h2v2h-2zM232 341h2v2h-2zM156 343h2v2h-2zM158 343h2v2h-2zM160 343h2v2h-2zM226 343h2v2h-2zM228 343h2v2h-2zM230 343h2v2h-2zM232 343h2v2h-2zM158 345h2v2h-2zM160 345h2v2h-2zM162 345h2v2h-2zM226 345h2v2h-2zM228 345h2v2h-2zM230 345h2v2h-2zM158 347h2v2h-2zM160 347h2v2h-2zM162 347h2v2h-2zM164 347h2v2h-2zM222 347h2v2h-2zM224 347h2v2h-2zM226 347h2v2h-2zM228 347h2v2h-2zM160 349h2v2h-2zM162 349h2v2h-2zM164 349h2v2h-2zM166 349h2v2h-2zM220 349h2v2h-2zM222 349h2v2h-2zM224 349h2v2h-2zM226 349h2v2h-2zM162 351h2v2h-2zM164 351h2v2h-2zM166 351h2v2h-2zM168 351h2v2h-2zM170 351h2v2h-2zM218 351h2v2h-2zM220 351h2v2h-2zM222 351h2v2h-2zM224 351h2v2h-2zM166 353h2v2h-2zM168 353h2v2h-2zM170 353h2v2h-2zM172 353h2v2h-2zM214 353h2v2h-2zM216 353h2v2h-2zM218 353h2v2h-2zM220 353h2v2h-2zM222 353h2v2h-2zM168 355h2v2h-2zM170 355h2v2h-2zM172 355h2v2h-2zM174 355h2v2h-2zM176 355h2v2h-2zM178 355h2v2h-2zM210 355h2v2h-2zM212 355h2v2h-2zM214 355h2v2h-2zM216 355h2v2h-2zM218 355h2v2h-2zM220 355h2v2h-2zM172 357h2v2h-2zM174 357h2v2h-2zM176 357h2v2h-2zM178 357h2v2h-2zM180 357h2v2h-2zM182 357h2v2h-2zM184 357h2v2h-2zM204 357h2v2h-2zM206 357h2v2h-2zM208 357h2v2h-2zM210 357h2v2h-2zM212 357h2v2h-2zM214 357h2v2h-2zM216 357h2v2h-2zM176 359h2v2h-2zM178 359h2v2h-2zM180 359h2v2h-2zM182 359h2v2h-2zM184 359h2v2h-2zM186 359h2v2h-2zM188 359h2v2h-2zM190 359h2v2h-2zM192 359h2v2h-2zM194 359h2v2h-2zM196 359h2v2h-2zM198 359h2v2h-2zM200 359h2v2h-2zM202 359h2v2h-2zM204 359h2v2h-2zM206 359h2v2h-2zM208 359h2v2h-2zM210 359h2v2h-2zM212 359h2v2h-2zM180 361h2v2h-2zM182 361h2v2h-2zM184 361h2v2h-2zM186 361h2v2h-2zM188 361h2v2h-2zM190 361h2v2h-2zM192 361h2v2h-2zM194 361h2v2h-2zM196 361h2v2h-2zM198 361h2v2h-2zM200 361h2v2h-2zM202 361h2v2h-2zM204 361h2v2h-2zM206 361h2v2h-2zM192 363h2v2h-2zM194 363h2v2h-2zM196 363h2v2h-2z"/><path fill="#020202" d="M184 275h2v2h-2zM186 275h2v2h-2zM188 275h2v2h-2zM190 275h2v2h-2zM192 275h2v2h-2zM194 275h2v2h-2zM196 275h2v2h-2zM198 275h2v2h-2zM200 275h2v2h-2zM202 275h2v2h-2zM204 275h2v2h-2zM178 277h2v2h-2zM180 277h2v2h-2zM182 277h2v2h-2zM184 277h2v2h-2zM202 277h2v2h-2zM204 277h2v2h-2zM206 277h2v2h-2zM208 277h2v2h-2zM210 277h2v2h-2zM174 279h2v2h-2zM176 279h2v2h-2zM178 279h2v2h-2zM210 279h2v2h-2zM212 279h2v2h-2zM214 279h2v2h-2zM170 281h2v2h-2zM172 281h2v2h-2zM174 281h2v2h-2zM214 281h2v2h-2zM216 281h2v2h-2zM168 283h2v2h-2zM170 283h2v2h-2zM216 283h2v2h-2zM218 283h2v2h-2zM220 283h2v2h-2zM166 285h2v2h-2zM168 285h2v2h-2zM220 285h2v2h-2zM222 285h2v2h-2zM164 287h2v2h-2zM166 287h2v2h-2zM222 287h2v2h-2zM224 287h2v2h-2zM162 289h2v2h-2zM164 289h2v2h-2zM224 289h2v2h-2zM226 289h2v2h-2zM160 291h2v2h-2zM162 291h2v2h-2zM226 291h2v2h-2zM158 293h2v2h-2zM160 293h2v2h-2zM226 293h2v2h-2zM228 293h2v2h-2zM158 295h2v2h-2zM228 295h2v2h-2zM230 295h2v2h-2zM156 297h2v2h-2zM158 297h2v2h-2zM230 297h2v2h-2zM156 299h2v2h-2zM230 299h2v2h-2zM232 299h2v2h-2zM154 301h2v2h-2zM156 301h2v2h-2zM232 301h2v2h-2zM154 303h2v2h-2zM232 303h2v2h-2zM154 305h2v2h-2zM232 305h2v2h-2zM234 305h2v2h-2zM154 307h2v2h-2zM234 307h2v2h-2zM152 309h2v2h-2zM154 309h2v2h-2zM234 309h2v2h-2zM152 311h2v2h-2zM154 311h2v2h-2zM234 311h2v2h-2zM152 313h2v2h-2zM234 313h2v2h-2zM152 315h2v2h-2zM234 315h2v2h-2zM152 317h2v2h-2zM234 317h2v2h-2zM152 319h2v2h-2zM234 319h2v2h-2zM152 321h2v2h-2zM154 321h2v2h-2zM234 321h2v2h-2zM152 323h2v2h-2zM154 323h2v2h-2zM234 323h2v2h-2zM154 325h2v2h-2zM234 325h2v2h-2zM154 327h2v2h-2zM232 327h2v2h-2zM234 327h2v2h-2zM154 329h2v2h-2zM156 329h2v2h-2zM232 329h2v2h-2zM156 331h2v2h-2zM232 331h2v2h-2zM156 333h2v2h-2zM230 333h2v2h-2zM232 333h2v2h-2zM156 335h2v2h-2zM158 335h2v2h-2zM230 335h2v2h-2zM158 337h2v2h-2zM160 337h2v2h-2zM228 337h2v2h-2zM230 337h2v2h-2zM160 339h2v2h-2zM226 339h2v2h-2zM228 339h2v2h-2zM160 341h2v2h-2zM162 341h2v2h-2zM226 341h2v2h-2zM162 343h2v2h-2zM164 343h2v2h-2zM224 343h2v2h-2zM164 345h2v2h-2zM166 345h2v2h-2zM222 345h2v2h-2zM224 345h2v2h-2zM166 347h2v2h-2zM168 347h2v2h-2zM218 347h2v2h-2zM220 347h2v2h-2zM168 349h2v2h-2zM170 349h2v2h-2zM172 349h2v2h-2zM216 349h2v2h-2zM218 349h2v2h-2zM172 351h2v2h-2zM174 351h2v2h-2zM212 351h2v2h-2zM214 351h2v2h-2zM216 351h2v2h-2zM174 353h2v2h-2zM176 353h2v2h-2zM178 353h2v2h-2zM180 353h2v2h-2zM208 353h2v2h-2zM210 353h2v2h-2zM212 353h2v2h-2zM180 355h2v2h-2zM182 355h2v2h-2zM184 355h2v2h-2zM186 355h2v2h-2zM188 355h2v2h-2zM200 355h2v2h-2zM202 355h2v2h-2zM204 355h2v2h-2zM206 355h2v2h-2zM208 355h2v2h-2zM186 357h2v2h-2zM188 357h2v2h-2zM190 357h2v2h-2zM192 357h2v2h-2zM194 357h2v2h-2zM196 357h2v2h-2zM198 357h2v2h-2zM200 357h2v2h-2zM202 357h2v2h-2z"/><path fill="#030303" d="M186 277h2v2h-2zM188 277h2v2h-2zM190 277h2v2h-2zM192 277h2v2h-2zM194 277h2v2h-2zM196 277h2v2h-2zM198 277h2v2h-2zM200 277h2v2h-2zM180 279h2v2h-2zM182 279h2v2h-2zM184 279h2v2h-2zM204 279h2v2h-2zM206 279h2v2h-2zM208 279h2v2h-2zM176 281h2v2h-2zM178 281h2v2h-2zM210 281h2v2h-2zM212 281h2v2h-2zM172 283h2v2h-2zM174 283h2v2h-2zM214 283h2v2h-2zM170 285h2v2h-2zM216 285h2v2h-2zM218 285h2v2h-2zM168 287h2v2h-2zM220 287h2v2h-2zM166 289h2v2h-2zM222 289h2v2h-2zM164 291h2v2h-2zM224 291h2v2h-2zM162 293h2v2h-2zM224 293h2v2h-2zM160 295h2v2h-2zM226 295h2v2h-2zM160 297h2v2h-2zM228 297h2v2h-2zM158 299h2v2h-2zM228 299h2v2h-2zM158 301h2v2h-2zM230 301h2v2h-2zM156 303h2v2h-2zM230 303h2v2h-2zM156 305h2v2h-2zM230 305h2v2h-2zM156 307h2v2h-2zM232 307h2v2h-2zM156 309h2v2h-2zM232 309h2v2h-2zM232 311h2v2h-2zM154 313h2v2h-2zM232 313h2v2h-2zM154 315h2v2h-2zM232 315h2v2h-2zM154 317h2v2h-2zM232 317h2v2h-2zM154 319h2v2h-2zM232 319h2v2h-2zM156 321h2v2h-2zM232 321h2v2h-2zM156 323h2v2h-2zM232 323h2v2h-2zM156 325h2v2h-2zM232 325h2v2h-2zM156 327h2v2h-2zM230 327h2v2h-2zM158 329h2v2h-2zM230 329h2v2h-2zM158 331h2v2h-2zM230 331h2v2h-2zM158 333h2v2h-2zM228 333h2v2h-2zM160 335h2v2h-2zM228 335h2v2h-2zM162 337h2v2h-2zM226 337h2v2h-2zM162 339h2v2h-2zM224 339h2v2h-2zM164 341h2v2h-2zM222 341h2v2h-2zM224 341h2v2h-2zM166 343h2v2h-2zM220 343h2v2h-2zM222 343h2v2h-2zM168 345h2v2h-2zM218 345h2v2h-2zM220 345h2v2h-2zM170 347h2v2h-2zM172 347h2v2h-2zM216 347h2v2h-2zM174 349h2v2h-2zM212 349h2v2h-2zM214 349h2v2h-2zM176 351h2v2h-2zM178 351h2v2h-2zM208 351h2v2h-2zM210 351h2v2h-2zM182 353h2v2h-2zM184 353h2v2h-2zM186 353h2v2h-2zM200 353h2v2h-2zM202 353h2v2h-2zM204 353h2v2h-2zM206 353h2v2h-2zM190 355h2v2h-2zM192 355h2v2h-2zM194 355h2v2h-2zM196 355h2v2h-2zM198 355h2v2h-2z"/><path fill="#040404" d="M186 279h2v2h-2zM188 279h2v2h-2zM190 279h2v2h-2zM192 279h2v2h-2zM194 279h2v2h-2zM196 279h2v2h-2zM198 279h2v2h-2zM200 279h2v2h-2zM202 279h2v2h-2zM180 281h2v2h-2zM206 281h2v2h-2zM208 281h2v2h-2zM176 283h2v2h-2zM210 283h2v2h-2zM212 283h2v2h-2zM172 285h2v2h-2zM214 285h2v2h-2zM170 287h2v2h-2zM218 287h2v2h-2zM220 289h2v2h-2zM222 291h2v2h-2zM164 293h2v2h-2zM162 295h2v2h-2zM224 295h2v2h-2zM226 297h2v2h-2zM160 299h2v2h-2zM226 299h2v2h-2zM228 301h2v2h-2zM158 303h2v2h-2zM228 303h2v2h-2zM158 305h2v2h-2zM158 307h2v2h-2zM230 307h2v2h-2zM230 309h2v2h-2zM156 311h2v2h-2zM230 311h2v2h-2zM156 313h2v2h-2zM230 313h2v2h-2zM156 315h2v2h-2zM230 315h2v2h-2zM156 317h2v2h-2zM230 317h2v2h-2zM156 319h2v2h-2zM230 319h2v2h-2zM230 321h2v2h-2zM230 323h2v2h-2zM158 325h2v2h-2zM230 325h2v2h-2zM158 327h2v2h-2zM228 329h2v2h-2zM160 331h2v2h-2zM228 331h2v2h-2zM160 333h2v2h-2zM226 333h2v2h-2zM162 335h2v2h-2zM226 335h2v2h-2zM224 337h2v2h-2zM164 339h2v2h-2zM222 339h2v2h-2zM166 341h2v2h-2zM220 341h2v2h-2zM168 343h2v2h-2zM218 343h2v2h-2zM170 345h2v2h-2zM216 345h2v2h-2zM174 347h2v2h-2zM214 347h2v2h-2zM176 349h2v2h-2zM178 349h2v2h-2zM210 349h2v2h-2zM180 351h2v2h-2zM182 351h2v2h-2zM184 351h2v2h-2zM204 351h2v2h-2zM206 351h2v2h-2zM188 353h2v2h-2zM190 353h2v2h-2zM192 353h2v2h-2zM194 353h2v2h-2zM196 353h2v2h-2zM198 353h2v2h-2z"/><path fill="#050505" d="M182 281h2v2h-2zM184 281h2v2h-2zM202 281h2v2h-2zM204 281h2v2h-2zM178 283h2v2h-2zM208 283h2v2h-2zM174 285h2v2h-2zM212 285h2v2h-2zM216 287h2v2h-2zM168 289h2v2h-2zM218 289h2v2h-2zM166 291h2v2h-2zM220 291h2v2h-2zM222 293h2v2h-2zM164 295h2v2h-2zM162 297h2v2h-2zM224 297h2v2h-2zM160 301h2v2h-2zM226 301h2v2h-2zM160 303h2v2h-2zM228 305h2v2h-2zM228 307h2v2h-2zM158 309h2v2h-2zM158 311h2v2h-2zM158 313h2v2h-2zM158 315h2v2h-2zM158 317h2v2h-2zM158 319h2v2h-2zM158 321h2v2h-2zM158 323h2v2h-2zM228 325h2v2h-2zM160 327h2v2h-2zM228 327h2v2h-2zM160 329h2v2h-2zM226 331h2v2h-2zM162 333h2v2h-2zM164 335h2v2h-2zM224 335h2v2h-2zM164 337h2v2h-2zM222 337h2v2h-2zM166 339h2v2h-2zM220 339h2v2h-2zM168 341h2v2h-2zM170 343h2v2h-2zM216 343h2v2h-2zM172 345h2v2h-2zM214 345h2v2h-2zM176 347h2v2h-2zM210 347h2v2h-2zM212 347h2v2h-2zM180 349h2v2h-2zM182 349h2v2h-2zM206 349h2v2h-2zM208 349h2v2h-2zM186 351h2v2h-2zM188 351h2v2h-2zM190 351h2v2h-2zM192 351h2v2h-2zM194 351h2v2h-2zM196 351h2v2h-2zM198 351h2v2h-2zM200 351h2v2h-2zM202 351h2v2h-2z"/><path fill="#060606" d="M186 281h2v2h-2zM188 281h2v2h-2zM198 281h2v2h-2zM200 281h2v2h-2zM180 283h2v2h-2zM206 283h2v2h-2zM210 285h2v2h-2zM172 287h2v2h-2zM214 287h2v2h-2zM170 289h2v2h-2zM216 289h2v2h-2zM168 291h2v2h-2zM218 291h2v2h-2zM166 293h2v2h-2zM220 293h2v2h-2zM222 295h2v2h-2zM162 299h2v2h-2zM224 299h2v2h-2zM162 301h2v2h-2zM226 303h2v2h-2zM160 305h2v2h-2zM160 307h2v2h-2zM228 309h2v2h-2zM228 311h2v2h-2zM228 313h2v2h-2zM228 315h2v2h-2zM228 317h2v2h-2zM228 319h2v2h-2zM228 321h2v2h-2zM160 323h2v2h-2zM228 323h2v2h-2zM160 325h2v2h-2zM226 327h2v2h-2zM226 329h2v2h-2zM162 331h2v2h-2zM224 333h2v2h-2zM222 335h2v2h-2zM166 337h2v2h-2zM168 339h2v2h-2zM170 341h2v2h-2zM218 341h2v2h-2zM172 343h2v2h-2zM174 345h2v2h-2zM212 345h2v2h-2zM178 347h2v2h-2zM208 347h2v2h-2zM184 349h2v2h-2zM202 349h2v2h-2zM204 349h2v2h-2z"/><path fill="#070707" d="M190 281h2v2h-2zM192 281h2v2h-2zM194 281h2v2h-2zM196 281h2v2h-2zM182 283h2v2h-2zM204 283h2v2h-2zM176 285h2v2h-2zM212 287h2v2h-2zM164 297h2v2h-2zM222 297h2v2h-2zM224 301h2v2h-2zM162 303h2v2h-2zM226 305h2v2h-2zM226 307h2v2h-2zM160 309h2v2h-2zM160 311h2v2h-2zM160 313h2v2h-2zM160 315h2v2h-2zM160 317h2v2h-2zM160 319h2v2h-2zM160 321h2v2h-2zM226 325h2v2h-2zM162 327h2v2h-2zM162 329h2v2h-2zM224 331h2v2h-2zM164 333h2v2h-2zM166 335h2v2h-2zM220 337h2v2h-2zM218 339h2v2h-2zM216 341h2v2h-2zM174 343h2v2h-2zM214 343h2v2h-2zM176 345h2v2h-2zM210 345h2v2h-2zM180 347h2v2h-2zM182 347h2v2h-2zM206 347h2v2h-2zM186 349h2v2h-2zM188 349h2v2h-2zM190 349h2v2h-2zM192 349h2v2h-2zM194 349h2v2h-2zM196 349h2v2h-2zM198 349h2v2h-2zM200 349h2v2h-2z"/><path fill="#080808" d="M202 283h2v2h-2zM178 285h2v2h-2zM208 285h2v2h-2zM174 287h2v2h-2zM214 289h2v2h-2zM216 291h2v2h-2zM218 293h2v2h-2zM166 295h2v2h-2zM220 295h2v2h-2zM164 299h2v2h-2zM222 299h2v2h-2zM224 303h2v2h-2zM162 305h2v2h-2zM226 309h2v2h-2zM226 311h2v2h-2zM226 313h2v2h-2zM226 319h2v2h-2zM226 321h2v2h-2zM226 323h2v2h-2zM162 325h2v2h-2zM224 329h2v2h-2zM164 331h2v2h-2zM222 333h2v2h-2zM220 335h2v2h-2zM168 337h2v2h-2zM170 339h2v2h-2zM172 341h2v2h-2zM214 341h2v2h-2zM212 343h2v2h-2zM178 345h2v2h-2zM208 345h2v2h-2zM184 347h2v2h-2zM204 347h2v2h-2z"/><path fill="#090909" d="M184 283h2v2h-2zM200 283h2v2h-2zM172 289h2v2h-2zM170 291h2v2h-2zM168 293h2v2h-2zM224 305h2v2h-2zM162 307h2v2h-2zM162 309h2v2h-2zM226 315h2v2h-2zM226 317h2v2h-2zM162 321h2v2h-2zM162 323h2v2h-2zM224 325h2v2h-2zM224 327h2v2h-2zM164 329h2v2h-2zM222 331h2v2h-2zM166 333h2v2h-2zM168 335h2v2h-2zM218 337h2v2h-2zM216 339h2v2h-2zM174 341h2v2h-2zM176 343h2v2h-2zM210 343h2v2h-2zM180 345h2v2h-2zM206 345h2v2h-2zM186 347h2v2h-2zM188 347h2v2h-2zM200 347h2v2h-2zM202 347h2v2h-2z"/><path fill="#0a0a0a" d="M186 283h2v2h-2zM198 283h2v2h-2zM180 285h2v2h-2zM206 285h2v2h-2zM210 287h2v2h-2zM166 297h2v2h-2zM220 297h2v2h-2zM164 301h2v2h-2zM222 301h2v2h-2zM224 307h2v2h-2zM224 309h2v2h-2zM162 311h2v2h-2zM162 313h2v2h-2zM162 315h2v2h-2zM162 317h2v2h-2zM162 319h2v2h-2zM224 323h2v2h-2zM164 327h2v2h-2zM222 329h2v2h-2zM166 331h2v2h-2zM220 333h2v2h-2zM218 335h2v2h-2zM170 337h2v2h-2zM172 339h2v2h-2zM212 341h2v2h-2zM178 343h2v2h-2zM182 345h2v2h-2zM204 345h2v2h-2zM190 347h2v2h-2zM192 347h2v2h-2zM194 347h2v2h-2zM196 347h2v2h-2zM198 347h2v2h-2z"/><path fill="#0b0b0b" d="M188 283h2v2h-2zM190 283h2v2h-2zM194 283h2v2h-2zM196 283h2v2h-2zM176 287h2v2h-2zM212 289h2v2h-2zM216 293h2v2h-2zM218 295h2v2h-2zM220 299h2v2h-2zM164 303h2v2h-2zM222 303h2v2h-2zM224 311h2v2h-2zM224 313h2v2h-2zM224 319h2v2h-2zM224 321h2v2h-2zM164 325h2v2h-2zM222 327h2v2h-2zM166 329h2v2h-2zM220 331h2v2h-2zM168 333h2v2h-2zM216 337h2v2h-2zM214 339h2v2h-2zM176 341h2v2h-2zM208 343h2v2h-2zM184 345h2v2h-2zM202 345h2v2h-2z"/><path fill="#0c0c0c" d="M192 283h2v2h-2zM204 285h2v2h-2zM208 287h2v2h-2zM174 289h2v2h-2zM214 291h2v2h-2zM168 295h2v2h-2zM164 305h2v2h-2zM222 305h2v2h-2zM164 307h2v2h-2zM224 315h2v2h-2zM224 317h2v2h-2zM164 321h2v2h-2zM164 323h2v2h-2zM222 325h2v2h-2zM218 333h2v2h-2zM170 335h2v2h-2zM172 337h2v2h-2zM174 339h2v2h-2zM210 341h2v2h-2zM180 343h2v2h-2zM206 343h2v2h-2zM186 345h2v2h-2zM200 345h2v2h-2z"/><path fill="#0d0d0d" d="M182 285h2v2h-2zM170 293h2v2h-2zM218 297h2v2h-2zM166 299h2v2h-2zM220 301h2v2h-2zM222 307h2v2h-2zM164 309h2v2h-2zM164 311h2v2h-2zM164 313h2v2h-2zM164 315h2v2h-2zM164 317h2v2h-2zM164 319h2v2h-2zM222 323h2v2h-2zM166 327h2v2h-2zM220 329h2v2h-2zM168 331h2v2h-2zM216 335h2v2h-2zM214 337h2v2h-2zM212 339h2v2h-2zM178 341h2v2h-2zM182 343h2v2h-2zM188 345h2v2h-2zM190 345h2v2h-2zM196 345h2v2h-2zM198 345h2v2h-2z"/><path fill="#0e0e0e" d="M202 285h2v2h-2zM178 287h2v2h-2zM172 291h2v2h-2zM222 309h2v2h-2zM222 321h2v2h-2zM166 325h2v2h-2zM218 331h2v2h-2zM170 333h2v2h-2zM172 335h2v2h-2zM174 337h2v2h-2zM176 339h2v2h-2zM208 341h2v2h-2zM184 343h2v2h-2zM204 343h2v2h-2zM192 345h2v2h-2zM194 345h2v2h-2z"/><path fill="#0f0f0f" d="M184 285h2v2h-2zM210 289h2v2h-2zM216 295h2v2h-2zM166 301h2v2h-2zM220 303h2v2h-2zM222 311h2v2h-2zM222 313h2v2h-2zM222 315h2v2h-2zM222 317h2v2h-2zM222 319h2v2h-2zM166 323h2v2h-2zM220 327h2v2h-2zM168 329h2v2h-2zM210 339h2v2h-2zM180 341h2v2h-2zM202 343h2v2h-2z"/><path fill="#101010" d="M200 285h2v2h-2zM206 287h2v2h-2zM212 291h2v2h-2zM214 293h2v2h-2zM168 297h2v2h-2zM218 299h2v2h-2zM166 303h2v2h-2zM166 321h2v2h-2zM220 325h2v2h-2zM168 327h2v2h-2zM170 331h2v2h-2zM216 333h2v2h-2zM214 335h2v2h-2zM212 337h2v2h-2zM178 339h2v2h-2zM206 341h2v2h-2zM186 343h2v2h-2zM200 343h2v2h-2z"/><path fill="#111111" d="M186 285h2v2h-2zM176 289h2v2h-2zM220 305h2v2h-2zM166 317h2v2h-2zM166 319h2v2h-2zM220 323h2v2h-2zM218 329h2v2h-2zM172 333h2v2h-2zM174 335h2v2h-2zM176 337h2v2h-2zM182 341h2v2h-2zM188 343h2v2h-2zM190 343h2v2h-2zM198 343h2v2h-2z"/><path fill="#121212" d="M198 285h2v2h-2zM180 287h2v2h-2zM166 305h2v2h-2zM166 307h2v2h-2zM220 307h2v2h-2zM166 309h2v2h-2zM166 311h2v2h-2zM166 313h2v2h-2zM166 315h2v2h-2zM168 325h2v2h-2zM216 331h2v2h-2zM208 339h2v2h-2zM184 341h2v2h-2zM204 341h2v2h-2zM192 343h2v2h-2zM194 343h2v2h-2zM196 343h2v2h-2z"/><path fill="#131313" d="M188 285h2v2h-2zM208 289h2v2h-2zM170 295h2v2h-2zM216 297h2v2h-2zM218 301h2v2h-2zM220 309h2v2h-2zM220 311h2v2h-2zM220 319h2v2h-2zM220 321h2v2h-2zM218 327h2v2h-2zM170 329h2v2h-2zM214 333h2v2h-2zM212 335h2v2h-2zM210 337h2v2h-2zM180 339h2v2h-2zM202 341h2v2h-2z"/><path fill="#141414" d="M190 285h2v2h-2zM196 285h2v2h-2zM204 287h2v2h-2zM174 291h2v2h-2zM172 293h2v2h-2zM168 299h2v2h-2zM220 313h2v2h-2zM220 315h2v2h-2zM220 317h2v2h-2zM168 323h2v2h-2zM172 331h2v2h-2zM178 337h2v2h-2zM206 339h2v2h-2zM186 341h2v2h-2z"/><path fill="#151515" d="M192 285h2v2h-2zM194 285h2v2h-2zM218 303h2v2h-2zM168 321h2v2h-2zM218 325h2v2h-2zM170 327h2v2h-2zM216 329h2v2h-2zM174 333h2v2h-2zM176 335h2v2h-2zM182 339h2v2h-2zM188 341h2v2h-2zM200 341h2v2h-2z"/><path fill="#161616" d="M182 287h2v2h-2zM210 291h2v2h-2zM214 295h2v2h-2zM168 319h2v2h-2zM218 323h2v2h-2zM214 331h2v2h-2zM208 337h2v2h-2zM204 339h2v2h-2zM190 341h2v2h-2zM198 341h2v2h-2z"/><path fill="#171717" d="M178 289h2v2h-2zM212 293h2v2h-2zM168 301h2v2h-2zM218 305h2v2h-2zM168 317h2v2h-2zM170 325h2v2h-2zM216 327h2v2h-2zM172 329h2v2h-2zM212 333h2v2h-2zM210 335h2v2h-2zM180 337h2v2h-2zM184 339h2v2h-2zM192 341h2v2h-2zM194 341h2v2h-2zM196 341h2v2h-2z"/><path fill="#181818" d="M202 287h2v2h-2zM216 299h2v2h-2zM218 307h2v2h-2zM168 313h2v2h-2zM168 315h2v2h-2zM218 321h2v2h-2zM174 331h2v2h-2zM178 335h2v2h-2zM202 339h2v2h-2z"/><path fill="#191919" d="M206 289h2v2h-2zM170 297h2v2h-2zM168 303h2v2h-2zM218 309h2v2h-2zM168 311h2v2h-2zM218 317h2v2h-2zM218 319h2v2h-2zM170 323h2v2h-2zM214 329h2v2h-2zM176 333h2v2h-2zM206 337h2v2h-2zM186 339h2v2h-2z"/><path fill="#1a1a1a" d="M168 305h2v2h-2zM168 309h2v2h-2zM218 311h2v2h-2zM218 313h2v2h-2zM218 315h2v2h-2zM170 321h2v2h-2zM216 325h2v2h-2zM172 327h2v2h-2zM208 335h2v2h-2zM182 337h2v2h-2zM200 339h2v2h-2z"/><path fill="#1b1b1b" d="M184 287h2v2h-2zM168 307h2v2h-2zM212 331h2v2h-2zM210 333h2v2h-2zM204 337h2v2h-2zM188 339h2v2h-2zM198 339h2v2h-2z"/><path fill="#1c1c1c" d="M200 287h2v2h-2zM176 291h2v2h-2zM172 295h2v2h-2zM214 297h2v2h-2zM216 301h2v2h-2zM170 319h2v2h-2zM216 323h2v2h-2zM172 325h2v2h-2zM174 329h2v2h-2zM180 335h2v2h-2zM190 339h2v2h-2zM196 339h2v2h-2z"/><path fill="#1d1d1d" d="M170 317h2v2h-2zM214 327h2v2h-2zM176 331h2v2h-2zM178 333h2v2h-2zM184 337h2v2h-2zM192 339h2v2h-2zM194 339h2v2h-2z"/><path fill="#1e1e1e" d="M208 291h2v2h-2zM174 293h2v2h-2zM170 299h2v2h-2zM216 321h2v2h-2zM206 335h2v2h-2zM202 337h2v2h-2z"/><path fill="#1f1f1f" d="M186 287h2v2h-2zM180 289h2v2h-2zM216 303h2v2h-2zM170 315h2v2h-2zM216 319h2v2h-2zM172 323h2v2h-2zM174 327h2v2h-2zM212 329h2v2h-2zM208 333h2v2h-2zM186 337h2v2h-2z"/><path fill="#202020" d="M198 287h2v2h-2zM212 295h2v2h-2zM216 317h2v2h-2zM214 325h2v2h-2zM210 331h2v2h-2zM182 335h2v2h-2zM200 337h2v2h-2z"/><path fill="#212121" d="M204 289h2v2h-2zM210 293h2v2h-2zM216 305h2v2h-2zM170 313h2v2h-2zM216 313h2v2h-2zM216 315h2v2h-2zM172 321h2v2h-2zM176 329h2v2h-2zM180 333h2v2h-2zM204 335h2v2h-2zM188 337h2v2h-2z"/><path fill="#222222" d="M216 307h2v2h-2zM216 309h2v2h-2zM216 311h2v2h-2zM214 323h2v2h-2zM212 327h2v2h-2zM178 331h2v2h-2zM198 337h2v2h-2z"/><path fill="#232323" d="M188 287h2v2h-2zM196 287h2v2h-2zM214 299h2v2h-2zM170 301h2v2h-2zM170 311h2v2h-2zM172 319h2v2h-2zM174 325h2v2h-2zM184 335h2v2h-2zM190 337h2v2h-2zM192 337h2v2h-2zM196 337h2v2h-2z"/><path fill="#242424" d="M214 321h2v2h-2zM210 329h2v2h-2zM208 331h2v2h-2zM206 333h2v2h-2zM202 335h2v2h-2zM194 337h2v2h-2z"/><path fill="#252525" d="M190 287h2v2h-2zM194 287h2v2h-2zM172 297h2v2h-2zM172 317h2v2h-2zM174 323h2v2h-2zM176 327h2v2h-2zM182 333h2v2h-2z"/><path fill="#262626" d="M192 287h2v2h-2zM178 291h2v2h-2zM170 309h2v2h-2zM214 319h2v2h-2zM212 325h2v2h-2zM186 335h2v2h-2z"/><path fill="#272727" d="M182 289h2v2h-2zM170 303h2v2h-2zM170 307h2v2h-2zM178 329h2v2h-2zM180 331h2v2h-2zM200 335h2v2h-2z"/><path fill="#282828" d="M202 289h2v2h-2zM206 291h2v2h-2zM170 305h2v2h-2zM172 315h2v2h-2zM214 317h2v2h-2zM174 321h2v2h-2zM204 333h2v2h-2zM188 335h2v2h-2z"/><path fill="#292929" d="M212 297h2v2h-2zM214 301h2v2h-2zM214 315h2v2h-2zM212 323h2v2h-2zM176 325h2v2h-2zM210 327h2v2h-2zM206 331h2v2h-2zM184 333h2v2h-2zM198 335h2v2h-2z"/><path fill="#2a2a2a" d="M176 293h2v2h-2zM174 295h2v2h-2zM208 329h2v2h-2zM190 335h2v2h-2z"/><path fill="#2b2b2b" d="M214 313h2v2h-2zM174 319h2v2h-2zM202 333h2v2h-2zM192 335h2v2h-2zM194 335h2v2h-2zM196 335h2v2h-2z"/><path fill="#2c2c2c" d="M172 313h2v2h-2zM212 321h2v2h-2zM178 327h2v2h-2zM182 331h2v2h-2z"/><path fill="#2d2d2d" d="M208 293h2v2h-2zM210 295h2v2h-2zM214 303h2v2h-2zM214 311h2v2h-2zM176 323h2v2h-2zM210 325h2v2h-2zM180 329h2v2h-2zM186 333h2v2h-2z"/><path fill="#2e2e2e" d="M184 289h2v2h-2zM172 299h2v2h-2zM212 319h2v2h-2zM204 331h2v2h-2zM200 333h2v2h-2z"/><path fill="#2f2f2f" d="M214 305h2v2h-2zM214 307h2v2h-2zM214 309h2v2h-2zM174 317h2v2h-2zM208 327h2v2h-2zM206 329h2v2h-2z"/><path fill="#303030" d="M200 289h2v2h-2zM176 321h2v2h-2zM178 325h2v2h-2zM184 331h2v2h-2zM188 333h2v2h-2z"/><path fill="#313131" d="M180 291h2v2h-2zM172 311h2v2h-2zM212 317h2v2h-2zM210 323h2v2h-2zM198 333h2v2h-2z"/><path fill="#323232" d="M180 327h2v2h-2zM182 329h2v2h-2zM190 333h2v2h-2z"/><path fill="#333333" d="M212 299h2v2h-2zM202 331h2v2h-2zM192 333h2v2h-2zM194 333h2v2h-2zM196 333h2v2h-2z"/><path fill="#343434" d="M204 291h2v2h-2zM174 315h2v2h-2zM212 315h2v2h-2zM210 321h2v2h-2zM208 325h2v2h-2zM186 331h2v2h-2z"/><path fill="#353535" d="M172 301h2v2h-2zM176 319h2v2h-2zM178 323h2v2h-2zM206 327h2v2h-2zM204 329h2v2h-2z"/><path fill="#363636" d="M186 289h2v2h-2zM174 297h2v2h-2zM172 309h2v2h-2zM200 331h2v2h-2z"/><path fill="#373737" d="M198 289h2v2h-2zM212 313h2v2h-2zM210 319h2v2h-2zM180 325h2v2h-2zM184 329h2v2h-2z"/><path fill="#383838" d="M208 323h2v2h-2zM182 327h2v2h-2zM188 331h2v2h-2z"/><path fill="#393939" d="M178 293h2v2h-2zM172 303h2v2h-2zM172 307h2v2h-2zM178 321h2v2h-2zM198 331h2v2h-2z"/><path fill="#3a3a3a" d="M176 295h2v2h-2zM202 329h2v2h-2zM190 331h2v2h-2z"/><path fill="#3b3b3b" d="M188 289h2v2h-2zM206 293h2v2h-2zM210 297h2v2h-2zM212 301h2v2h-2zM172 305h2v2h-2zM212 311h2v2h-2zM174 313h2v2h-2zM176 317h2v2h-2zM210 317h2v2h-2zM206 325h2v2h-2zM196 331h2v2h-2z"/><path fill="#3c3c3c" d="M196 289h2v2h-2zM204 327h2v2h-2zM186 329h2v2h-2zM192 331h2v2h-2zM194 331h2v2h-2z"/><path fill="#3d3d3d" d="M182 291h2v2h-2zM208 321h2v2h-2zM180 323h2v2h-2z"/><path fill="#3e3e3e" d="M208 295h2v2h-2zM184 327h2v2h-2zM200 329h2v2h-2z"/><path fill="#3f3f3f" d="M190 289h2v2h-2zM194 289h2v2h-2zM202 291h2v2h-2zM212 309h2v2h-2zM178 319h2v2h-2zM182 325h2v2h-2z"/><path fill="#404040" d="M192 289h2v2h-2zM212 303h2v2h-2zM210 315h2v2h-2zM206 323h2v2h-2zM188 329h2v2h-2z"/><path fill="#414141" d="M208 319h2v2h-2zM202 327h2v2h-2z"/><path fill="#424242" d="M174 299h2v2h-2zM212 305h2v2h-2zM212 307h2v2h-2zM204 325h2v2h-2zM198 329h2v2h-2z"/><path fill="#434343" d="M174 311h2v2h-2zM176 315h2v2h-2zM180 321h2v2h-2zM190 329h2v2h-2z"/><path fill="#444444" d="M186 327h2v2h-2zM192 329h2v2h-2zM196 329h2v2h-2z"/><path fill="#454545" d="M182 323h2v2h-2zM184 325h2v2h-2zM194 329h2v2h-2z"/><path fill="#464646" d="M206 321h2v2h-2zM200 327h2v2h-2z"/><path fill="#474747" d="M210 299h2v2h-2zM210 313h2v2h-2zM208 317h2v2h-2z"/><path fill="#484848" d="M178 317h2v2h-2zM204 323h2v2h-2zM202 325h2v2h-2zM188 327h2v2h-2z"/><path fill="#494949" d="M184 291h2v2h-2zM180 293h2v2h-2z"/><path fill="#4a4a4a" d="M174 309h2v2h-2zM198 327h2v2h-2z"/><path fill="#4b4b4b" d="M200 291h2v2h-2zM204 293h2v2h-2zM176 297h2v2h-2zM180 319h2v2h-2zM186 325h2v2h-2zM190 327h2v2h-2z"/><path fill="#4c4c4c" d="M174 301h2v2h-2zM206 319h2v2h-2zM182 321h2v2h-2zM184 323h2v2h-2zM196 327h2v2h-2z"/><path fill="#4d4d4d" d="M176 313h2v2h-2zM192 327h2v2h-2zM194 327h2v2h-2z"/><path fill="#4e4e4e" d="M178 295h2v2h-2zM210 311h2v2h-2zM200 325h2v2h-2z"/><path fill="#4f4f4f" d="M208 315h2v2h-2zM204 321h2v2h-2zM202 323h2v2h-2z"/><path fill="#505050" d="M208 297h2v2h-2zM174 307h2v2h-2zM188 325h2v2h-2z"/><path fill="#515151" d="M206 295h2v2h-2zM174 303h2v2h-2z"/><path fill="#525252" d="M210 301h2v2h-2zM198 325h2v2h-2z"/><path fill="#535353" d="M174 305h2v2h-2zM178 315h2v2h-2zM186 323h2v2h-2z"/><path fill="#545454" d="M186 291h2v2h-2zM210 309h2v2h-2zM190 325h2v2h-2z"/><path fill="#555555" d="M198 291h2v2h-2zM206 317h2v2h-2zM184 321h2v2h-2zM200 323h2v2h-2zM196 325h2v2h-2z"/><path fill="#565656" d="M180 317h2v2h-2zM182 319h2v2h-2zM192 325h2v2h-2zM194 325h2v2h-2z"/><path fill="#575757" d="M204 319h2v2h-2zM202 321h2v2h-2z"/><path fill="#585858" d="M210 303h2v2h-2z"/><path fill="#595959" d="M182 293h2v2h-2zM210 307h2v2h-2zM176 311h2v2h-2zM208 313h2v2h-2zM188 323h2v2h-2z"/><path fill="#5a5a5a" d="M198 323h2v2h-2z"/><path fill="#5b5b5b" d="M176 299h2v2h-2zM210 305h2v2h-2z"/><path fill="#5c5c5c" d="M188 291h2v2h-2zM202 293h2v2h-2z"/><path fill="#5d5d5d" d="M196 291h2v2h-2zM186 321h2v2h-2zM190 323h2v2h-2z"/><path fill="#5e5e5e" d="M196 323h2v2h-2z"/><path fill="#5f5f5f" d="M200 321h2v2h-2zM192 323h2v2h-2z"/><path fill="#606060" d="M208 299h2v2h-2zM206 315h2v2h-2zM194 323h2v2h-2z"/><path fill="#616161" d="M190 291h2v2h-2zM194 291h2v2h-2z"/><path fill="#626262" d="M180 295h2v2h-2zM178 313h2v2h-2zM184 319h2v2h-2zM202 319h2v2h-2z"/><path fill="#636363" d="M192 291h2v2h-2zM178 297h2v2h-2zM176 309h2v2h-2zM204 317h2v2h-2z"/><path fill="#646464" d="M208 311h2v2h-2zM188 321h2v2h-2z"/><path fill="#656565" d="M182 317h2v2h-2zM198 321h2v2h-2z"/><path fill="#666666" d="M204 295h2v2h-2zM176 301h2v2h-2zM180 315h2v2h-2z"/><path fill="#676767" d="M206 297h2v2h-2z"/><path fill="#696969" d="M184 293h2v2h-2zM190 321h2v2h-2z"/><path fill="#6a6a6a" d="M196 321h2v2h-2z"/><path fill="#6b6b6b" d="M200 293h2v2h-2zM176 307h2v2h-2z"/><path fill="#6c6c6c" d="M208 301h2v2h-2zM186 319h2v2h-2zM200 319h2v2h-2zM192 321h2v2h-2zM194 321h2v2h-2z"/><path fill="#6d6d6d" d="M176 303h2v2h-2z"/><path fill="#6e6e6e" d="M208 309h2v2h-2zM206 313h2v2h-2z"/><path fill="#6f6f6f" d="M176 305h2v2h-2z"/><path fill="#707070" d="M202 317h2v2h-2z"/><path fill="#717171" d="M178 311h2v2h-2z"/><path fill="#727272" d="M204 315h2v2h-2z"/><path fill="#747474" d="M208 303h2v2h-2zM208 307h2v2h-2zM184 317h2v2h-2zM188 319h2v2h-2zM198 319h2v2h-2z"/><path fill="#757575" d="M178 299h2v2h-2z"/><path fill="#767676" d="M186 293h2v2h-2z"/><path fill="#777777" d="M182 295h2v2h-2zM208 305h2v2h-2z"/><path fill="#787878" d="M198 293h2v2h-2zM180 313h2v2h-2z"/><path fill="#797979" d="M182 315h2v2h-2z"/><path fill="#7a7a7a" d="M202 295h2v2h-2zM206 299h2v2h-2zM190 319h2v2h-2zM196 319h2v2h-2z"/><path fill="#7b7b7b" d="M180 297h2v2h-2z"/><path fill="#7c7c7c" d="M206 311h2v2h-2z"/><path fill="#7d7d7d" d="M200 317h2v2h-2zM192 319h2v2h-2zM194 319h2v2h-2z"/><path fill="#7f7f7f" d="M204 297h2v2h-2zM178 309h2v2h-2z"/><path fill="#808080" d="M188 293h2v2h-2z"/><path fill="#818181" d="M196 293h2v2h-2zM186 317h2v2h-2z"/><path fill="#838383" d="M178 301h2v2h-2z"/><path fill="#848484" d="M204 313h2v2h-2zM202 315h2v2h-2z"/><path fill="#868686" d="M190 293h2v2h-2z"/><path fill="#878787" d="M194 293h2v2h-2z"/><path fill="#888888" d="M198 317h2v2h-2z"/><path fill="#898989" d="M192 293h2v2h-2zM184 295h2v2h-2zM206 301h2v2h-2zM178 307h2v2h-2zM206 309h2v2h-2z"/><path fill="#8b8b8b" d="M178 303h2v2h-2zM180 311h2v2h-2zM184 315h2v2h-2zM188 317h2v2h-2z"/><path fill="#8c8c8c" d="M200 295h2v2h-2z"/><path fill="#8d8d8d" d="M178 305h2v2h-2z"/><path fill="#8f8f8f" d="M182 313h2v2h-2z"/><path fill="#909090" d="M180 299h2v2h-2z"/><path fill="#919191" d="M196 317h2v2h-2z"/><path fill="#929292" d="M182 297h2v2h-2zM206 303h2v2h-2zM206 307h2v2h-2zM190 317h2v2h-2z"/><path fill="#949494" d="M200 315h2v2h-2z"/><path fill="#959595" d="M204 299h2v2h-2zM206 305h2v2h-2zM194 317h2v2h-2z"/><path fill="#969696" d="M202 297h2v2h-2zM204 311h2v2h-2zM192 317h2v2h-2z"/><path fill="#989898" d="M186 295h2v2h-2z"/><path fill="#999999" d="M202 313h2v2h-2z"/><path fill="#9a9a9a" d="M198 295h2v2h-2zM186 315h2v2h-2z"/><path fill="#9b9b9b" d="M180 309h2v2h-2z"/><path fill="#9f9f9f" d="M180 301h2v2h-2z"/><path fill="#a2a2a2" d="M198 315h2v2h-2z"/><path fill="#a3a3a3" d="M188 295h2v2h-2z"/><path fill="#a4a4a4" d="M196 295h2v2h-2zM182 311h2v2h-2zM184 313h2v2h-2z"/><path fill="#a5a5a5" d="M184 297h2v2h-2zM204 301h2v2h-2zM204 309h2v2h-2z"/><path fill="#a6a6a6" d="M180 307h2v2h-2z"/><path fill="#a7a7a7" d="M188 315h2v2h-2z"/><path fill="#a8a8a8" d="M182 299h2v2h-2zM180 303h2v2h-2z"/><path fill="#a9a9a9" d="M200 297h2v2h-2z"/><path fill="#aaaaaa" d="M190 295h2v2h-2zM194 295h2v2h-2zM180 305h2v2h-2z"/><path fill="#acacac" d="M192 295h2v2h-2zM196 315h2v2h-2z"/><path fill="#adadad" d="M202 299h2v2h-2zM200 313h2v2h-2z"/><path fill="#aeaeae" d="M202 311h2v2h-2z"/><path fill="#afafaf" d="M204 303h2v2h-2zM204 307h2v2h-2z"/><path fill="#b0b0b0" d="M190 315h2v2h-2z"/><path fill="#b2b2b2" d="M204 305h2v2h-2zM194 315h2v2h-2z"/><path fill="#b3b3b3" d="M192 315h2v2h-2z"/><path fill="#b5b5b5" d="M186 297h2v2h-2z"/><path fill="#b6b6b6" d="M182 309h2v2h-2zM186 313h2v2h-2z"/><path fill="#b8b8b8" d="M198 297h2v2h-2zM182 301h2v2h-2z"/><path fill="#bbbbbb" d="M184 311h2v2h-2z"/><path fill="#bcbcbc" d="M184 299h2v2h-2z"/><path fill="#bdbdbd" d="M198 313h2v2h-2z"/><path fill="#bebebe" d="M202 301h2v2h-2z"/><path fill="#bfbfbf" d="M202 309h2v2h-2z"/><path fill="#c0c0c0" d="M188 297h2v2h-2zM200 299h2v2h-2z"/><path fill="#c1c1c1" d="M182 303h2v2h-2zM182 307h2v2h-2z"/><path fill="#c2c2c2" d="M196 297h2v2h-2z"/><path fill="#c4c4c4" d="M182 305h2v2h-2zM200 311h2v2h-2zM188 313h2v2h-2z"/><path fill="#c6c6c6" d="M190 297h2v2h-2z"/><path fill="#c7c7c7" d="M194 297h2v2h-2z"/><path fill="#c8c8c8" d="M202 303h2v2h-2z"/><path fill="#c9c9c9" d="M192 297h2v2h-2zM202 307h2v2h-2zM196 313h2v2h-2z"/><path fill="#cbcbcb" d="M186 299h2v2h-2z"/><path fill="#cccccc" d="M184 301h2v2h-2zM202 305h2v2h-2z"/><path fill="#cdcdcd" d="M184 309h2v2h-2zM190 313h2v2h-2z"/><path fill="#cecece" d="M198 299h2v2h-2zM186 311h2v2h-2z"/><path fill="#d0d0d0" d="M194 313h2v2h-2z"/><path fill="#d1d1d1" d="M200 301h2v2h-2zM192 313h2v2h-2z"/><path fill="#d5d5d5" d="M188 299h2v2h-2zM200 309h2v2h-2zM198 311h2v2h-2z"/><path fill="#d6d6d6" d="M184 303h2v2h-2z"/><path fill="#d7d7d7" d="M184 307h2v2h-2z"/><path fill="#d8d8d8" d="M196 299h2v2h-2z"/><path fill="#dadada" d="M186 301h2v2h-2zM184 305h2v2h-2z"/><path fill="#dbdbdb" d="M190 299h2v2h-2z"/><path fill="#dcdcdc" d="M194 299h2v2h-2zM200 303h2v2h-2z"/><path fill="#dddddd" d="M192 299h2v2h-2zM188 311h2v2h-2z"/><path fill="#dedede" d="M198 301h2v2h-2z"/><path fill="#dfdfdf" d="M200 307h2v2h-2z"/><path fill="#e0e0e0" d="M186 309h2v2h-2z"/><path fill="#e1e1e1" d="M200 305h2v2h-2z"/><path fill="#e2e2e2" d="M196 311h2v2h-2z"/><path fill="#e3e3e3" d="M188 301h2v2h-2z"/><path fill="#e4e4e4" d="M186 303h2v2h-2z"/><path fill="#e6e6e6" d="M198 309h2v2h-2zM190 311h2v2h-2z"/><path fill="#e7e7e7" d="M196 301h2v2h-2z"/><path fill="#e9e9e9" d="M190 301h2v2h-2zM198 303h2v2h-2zM186 305h2v2h-2zM186 307h2v2h-2zM194 311h2v2h-2z"/><path fill="#eaeaea" d="M194 301h2v2h-2zM192 311h2v2h-2z"/><path fill="#ebebeb" d="M192 301h2v2h-2z"/><path fill="#ededed" d="M188 303h2v2h-2zM188 309h2v2h-2z"/><path fill="#efefef" d="M198 305h2v2h-2zM198 307h2v2h-2z"/><path fill="#f1f1f1" d="M196 303h2v2h-2z"/><path fill="#f2f2f2" d="M190 303h2v2h-2zM196 309h2v2h-2z"/><path fill="#f3f3f3" d="M188 305h2v2h-2z"/><path fill="#f4f4f4" d="M192 303h2v2h-2zM194 303h2v2h-2z"/><path fill="#f5f5f5" d="M188 307h2v2h-2z"/><path fill="#f6f6f6" d="M190 309h2v2h-2z"/><path fill="#f8f8f8" d="M196 305h2v2h-2zM194 309h2v2h-2z"/><path fill="#f9f9f9" d="M190 305h2v2h-2zM196 307h2v2h-2z"/><path fill="#fafafa" d="M192 309h2v2h-2z"/><path fill="#fbfbfb" d="M194 305h2v2h-2z"/><path fill="#fcfcfc" d="M192 305h2v2h-2zM190 307h2v2h-2z"/><path fill="#fefefe" d="M194 307h2v2h-2z"/><path fill="#ffffff" d="M192 307h2v2h-2z"/></g></g><g style="font-family:'Liberation Sans',Arial,sans-serif" font-size="7" fill="#404040"><text x="150.7" y="368.9" text-anchor="middle">-20</text><text x="173.5" y="368.9" text-anchor="middle">-10</text><text x="196.3" y="368.9" text-anchor="middle">0</text><text x="219.2" y="368.9" text-anchor="middle">10</text><text x="242" y="368.9" text-anchor="middle">20</text><text x="149.5" y="363.3" text-anchor="end">-20</text><text x="149.5" y="340.6" text-anchor="end">-10</text><text x="149.5" y="317.8" text-anchor="end">0</text><text x="149.5" y="295.1" text-anchor="end">10</text><text x="149.5" y="272.3" text-anchor="end">20</text><text x="196.3" y="376.5" text-anchor="middle">x(mm)</text><text transform="translate(137.7 314.5) rotate(-90)" text-anchor="middle">y(mm)</text></g><path d="M327.6 357.1L379.5 324L419 368.6M327.6 337.7L379.5 304.6L419 349.2M327.6 318.3L379.5 285.2L419 329.8M327.6 298.9L379.5 265.8L419 310.4M327.6 279.5L379.5 246.4L419 291M327.6 260.1L379.5 227L419 271.6M327.6 357.1V260.1M419 368.6V271.6M353.6 340.6V243.6M399.2 346.3V249.3M379.5 324V227M379.5 324V227" stroke="#e3e3e3" stroke-width=".6" fill="none"/><path d="M327.6 357.1V260.1" stroke="#a8a8a8" stroke-width=".8" fill="none"/><path d="M367.1 401.7L419 368.6L379.5 324L327.6 357.1Z" fill="#3937a6"/><g fill="url(#fd)" stroke="url(#sd)" stroke-width="3.5"><g transform="translate(327.6 357.1)scale(.1)"><path d="M86 -55l0-3 6-4 6-4 6-4 6-4 5-4 6-4 6-5 6-4 5-4 6-5 6-4 6-4 5-5 6-4 6-5 6-5 6-4 5-5 6-5 6-4 6-5 5-4 6-5 6-5 6-4 5-4 6-4 6-5 6-4 5-3 6-4 6-4 6-3 6-4 5-3 6-3 6-3 6-3 5-2 6-3 6-3 6-2 5-3 6-2 6-3 6-3 6-2 5-3 6-3 6-2 6-3 5-3 6-3 6-3 6-3 5-3 6-4 0 3z"/></g><g transform="translate(327.9 357.5)scale(.1)"><path d="M81 -51l0-3 5-4 6-4 6-4 6-4 6-5 5-4 6-4 6-4 6-5 5-4 6-5 6-4 6-5 5-5 6-4 6-5 6-5 6-5 5-5 6-4 6-5 6-5 5-5 6-5 6-4 6-5 5-4 6-5 6-4 6-4 5-4 6-4 6-3 6-4 6-3 5-3 6-3 6-3 6-3 5-2 6-3 6-2 6-2 5-3 6-2 6-2 6-3 6-2 5-3 6-2 6-3 6-2 5-3 6-3 6-3 6-3 5-3 6-3 6-3 0 3z"/></g><g transform="translate(328.3 357.8)scale(.1)"><path d="M75 -48l0-3 6-4 5-4 6-4 6-4 6-4 6-4 5-5 6-4 6-5 6-4 5-5 6-4 6-5 6-5 5-5 6-5 6-5 6-5 6-5 5-5 6-5 6-5 6-5 5-5 6-5 6-5 6-5 5-4 6-5 6-4 6-4 5-4 6-4 6-4 6-3 6-3 5-3 6-3 6-3 6-2 5-3 6-2 6-2 6-2 5-2 6-2 6-2 6-2 6-3 5-2 6-2 6-2 6-3 5-2 6-3 6-3 6-3 5-3 6-3 6-3 6-3 0 3z"/></g><g transform="translate(328.6 358.2)scale(.1)"><path d="M69 -44l0-3 6-4 6-4 5-4 6-4 6-5 6-4 6-4 5-5 6-4 6-5 6-4 5-5 6-5 6-5 6-5 5-5 6-5 6-5 6-6 6-5 5-5 6-6 6-5 6-5 5-6 6-5 6-5 6-5 5-5 6-5 6-4 6-4 5-4 6-4 6-4 6-3 6-3 5-3 6-3 6-2 6-2 5-3 6-2 6-2 6-1 5-2 6-2 6-2 6-2 6-1 5-2 6-2 6-2 6-3 5-2 6-2 6-3 6-3 5-3 6-2 6-3 6-3 5-4 0 3z"/></g><g transform="translate(328.9 358.6)scale(.1)"><path d="M63 -40l0-3 6-4 6-4 6-5 5-4 6-4 6-4 6-5 6-4 5-5 6-4 6-5 6-5 5-5 6-5 6-5 6-5 5-6 6-5 6-6 6-5 6-6 5-6 6-5 6-6 6-6 5-5 6-6 6-5 6-5 5-5 6-5 6-5 6-4 5-4 6-4 6-4 6-3 6-3 5-3 6-2 6-3 6-2 5-1 6-2 6-2 6-1 5-2 6-1 6-2 6-1 6-2 5-1 6-2 6-2 6-2 5-2 6-2 6-2 6-3 5-2 6-3 6-3 6-3 5-3 6-3 0 2z"/></g><g transform="translate(329.2 359)scale(.1)"><path d="M58 -37l0-3 5-4 6-4 6-4 6-4 5-4 6-5 6-4 6-5 6-4 5-5 6-5 6-5 6-5 5-5 6-5 6-6 6-5 5-6 6-6 6-5 6-6 6-6 5-6 6-7 6-6 6-6 5-6 6-5 6-6 6-6 5-5 6-5 6-5 6-4 5-4 6-4 6-4 6-3 6-3 5-2 6-3 6-2 6-2 5-1 6-2 6-1 6-1 5-1 6-1 6-1 6-1 6-1 5-2 6-1 6-1 6-2 5-2 6-2 6-2 6-2 5-3 6-2 6-3 6-3 5-3 6-3 6-3 0 3z"/></g><g transform="translate(329.6 359.3)scale(.1)"><path d="M52 -33l0-3 6-4 5-4 6-4 6-4 6-5 5-4 6-5 6-4 6-5 6-4 5-5 6-5 6-6 6-5 5-5 6-6 6-6 6-5 5-6 6-7 6-6 6-6 6-7 5-6 6-6 6-7 6-6 5-7 6-6 6-6 6-6 5-5 6-6 6-5 6-4 5-4 6-4 6-4 6-3 6-3 5-2 6-2 6-2 6-2 5-1 6-1 6-1 6-1 5 0 6-1 6 0 6-1 6-1 5-1 6 0 6-2 6-1 5-1 6-2 6-2 6-2 5-2 6-2 6-3 6-2 5-3 6-3 6-3 6-4 0 3z"/></g><g transform="translate(329.9 359.7)scale(.1)"><path d="M46 -29l0-3 6-4 6-4 5-4 6-5 6-4 6-4 5-5 6-4 6-5 6-5 6-5 5-5 6-5 6-6 6-5 5-6 6-6 6-6 6-6 5-6 6-7 6-7 6-6 6-7 5-7 6-7 6-7 6-7 5-7 6-6 6-7 6-6 5-6 6-5 6-6 6-4 5-5 6-4 6-3 6-3 6-3 5-2 6-2 6-2 6-1 5-1 6 0 6-1 6 0 5 0 6 0 6 0 6 0 6-1 5 0 6 0 6-1 6-1 5-1 6-1 6-2 6-1 5-2 6-3 6-2 6-2 5-3 6-3 6-3 6-3 6-3 0 2z"/></g><g transform="translate(330.2 360.1)scale(.1)"><path d="M40 -26l0-2 6-4 6-4 6-5 5-4 6-4 6-5 6-4 5-5 6-4 6-5 6-5 6-5 5-6 6-5 6-6 6-6 5-6 6-6 6-6 6-7 5-7 6-7 6-7 6-8 6-7 5-7 6-8 6-7 6-8 5-7 6-7 6-7 6-6 5-7 6-6 6-5 6-5 5-4 6-5 6-3 6-3 6-3 5-2 6-1 6-1 6-1 5-1 6 0 6 0 6 1 5 0 6 0 6 1 6 0 6 1 5 0 6 0 6 0 6-1 5 0 6-1 6-1 6-1 5-2 6-2 6-2 6-2 5-3 6-3 6-2 6-3 6-3 5-4 0 3z"/></g><g transform="translate(330.6 360.4)scale(.1)"><path d="M40 -26l0-3 6-4 6-4 6-4 5-4 6-5 6-4 6-5 5-5 6-5 6-5 6-5 6-5 5-6 6-5 6-6 6-7 5-6 6-7 6-7 6-7 5-7 6-8 6-7 6-8 6-8 5-8 6-9 6-8 6-8 5-7 6-8 6-7 6-7 5-7 6-6 6-6 6-5 5-5 6-4 6-3 6-3 6-2 5-2 6-1 6-1 6-1 5 0 6 1 6 0 6 1 5 1 6 1 6 1 6 1 6 1 5 1 6 1 6 0 6 0 5 0 6 0 6-1 6-1 5-1 6-2 6-1 6-3 5-2 6-2 6-3 6-3 6-3 5-3 0 3z"/></g><g transform="translate(330.9 360.8)scale(.1)"><path d="M35 -22l0-3 5-4 6-4 6-4 6-5 5-4 6-5 6-4 6-5 5-5 6-5 6-5 6-6 6-5 5-6 6-6 6-6 6-7 5-7 6-7 6-7 6-8 5-8 6-8 6-9 6-8 6-9 5-8 6-9 6-9 6-8 5-9 6-8 6-8 6-7 5-7 6-7 6-6 6-5 5-5 6-4 6-4 6-2 6-3 5-1 6-1 6-1 6 1 5 0 6 1 6 1 6 2 5 1 6 2 6 2 6 2 6 1 5 2 6 1 6 1 6 1 5 0 6 0 6 0 6 0 5-1 6-2 6-1 6-2 5-2 6-2 6-3 6-3 6-2 5-3 6-4 0 3z"/></g><g transform="translate(331.2 361.2)scale(.1)"><path d="M29 -18l0-3 6-4 5-4 6-5 6-4 6-4 5-5 6-4 6-5 6-5 5-5 6-5 6-6 6-5 6-6 5-6 6-7 6-7 6-7 5-7 6-8 6-8 6-8 5-8 6-9 6-9 6-10 6-9 5-9 6-10 6-9 6-10 5-9 6-8 6-9 6-8 5-7 6-7 6-6 6-6 5-5 6-4 6-4 6-2 6-2 5-2 6 0 6 0 6 0 5 1 6 2 6 2 6 2 5 2 6 3 6 2 6 3 6 2 5 3 6 2 6 1 6 2 5 1 6 0 6 1 6 0 5-1 6-1 6-1 6-1 5-2 6-2 6-3 6-2 6-3 5-3 6-3 6-3 0 2z"/></g><g transform="translate(331.6 361.6)scale(.1)"><path d="M23 -15l0-2 6-4 6-4 5-5 6-4 6-4 6-5 5-4 6-5 6-5 6-5 5-5 6-6 6-6 6-5 6-7 5-6 6-7 6-7 6-8 5-8 6-8 6-8 6-9 5-10 6-9 6-10 6-10 6-10 5-10 6-11 6-10 6-10 5-10 6-9 6-9 6-9 5-8 6-7 6-7 6-6 5-5 6-4 6-3 6-3 6-2 5-1 6 0 6 1 6 1 5 1 6 3 6 2 6 3 5 3 6 4 6 3 6 3 6 4 5 3 6 2 6 3 6 2 5 2 6 1 6 1 6 0 5 0 6 0 6-1 6-1 5-2 6-1 6-3 6-2 6-3 5-2 6-3 6-3 0 2z"/></g><g transform="translate(331.9 361.9)scale(.1)"><path d="M23 -15l0-2 6-5 6-4 5-4 6-4 6-5 6-5 5-4 6-5 6-5 6-5 5-6 6-6 6-6 6-6 6-6 5-7 6-8 6-7 6-8 5-9 6-9 6-9 6-10 5-10 6-10 6-11 6-11 6-11 5-11 6-11 6-11 6-11 5-10 6-10 6-10 6-9 5-9 6-7 6-7 6-7 5-5 6-4 6-3 6-3 6-1 5-1 6 0 6 1 6 2 5 2 6 3 6 3 6 4 5 4 6 4 6 5 6 4 6 4 5 4 6 3 6 4 6 3 5 2 6 2 6 2 6 1 5 0 6 0 6 0 6-1 5-1 6-2 6-2 6-2 6-2 5-3 6-3 6-3 6-3 0 3z"/></g><g transform="translate(332.2 362.3)scale(.1)"><path d="M17 -11l0-3 6-4 6-4 6-4 5-5 6-4 6-5 6-4 5-5 6-5 6-5 6-6 5-6 6-5 6-7 6-6 6-7 5-8 6-7 6-9 6-8 5-9 6-10 6-10 6-10 5-11 6-12 6-11 6-12 6-12 5-12 6-12 6-12 6-12 5-11 6-11 6-10 6-10 5-9 6-8 6-8 6-6 5-5 6-5 6-3 6-2 6-2 5 0 6 1 6 1 6 2 5 3 6 4 6 4 6 5 5 5 6 5 6 5 6 5 6 5 5 5 6 5 6 4 6 4 5 3 6 3 6 2 6 2 5 1 6 0 6 0 6 0 5-1 6-1 6-2 6-2 6-2 5-2 6-3 6-3 6-3 0 3z"/></g><g transform="translate(332.5 362.7)scale(.1)"><path d="M17 -11l0-3 6-4 6-4 6-5 5-4 6-5 6-4 6-5 5-5 6-5 6-6 6-5 5-6 6-7 6-6 6-7 6-8 5-7 6-9 6-8 6-10 5-10 6-10 6-11 6-11 5-12 6-12 6-13 6-12 6-13 5-14 6-13 6-13 6-12 5-12 6-12 6-11 6-11 5-9 6-9 6-8 6-6 5-6 6-4 6-4 6-2 6-1 5 0 6 1 6 3 6 2 5 4 6 5 6 5 6 5 5 6 6 6 6 6 6 7 6 6 5 6 6 5 6 5 6 5 5 4 6 4 6 3 6 2 5 2 6 1 6 1 6 0 5-1 6-1 6-1 6-2 6-2 5-2 6-3 6-3 6-2 5-4 0 3z"/></g><g transform="translate(332.9 363)scale(.1)"><path d="M12 -7l0-3 5-4 6-4 6-5 6-4 5-5 6-4 6-5 6-5 5-5 6-6 6-5 6-6 5-6 6-7 6-7 6-7 6-8 5-8 6-9 6-10 6-10 5-10 6-11 6-12 6-13 5-12 6-14 6-13 6-14 6-14 5-14 6-14 6-14 6-14 5-13 6-13 6-12 6-11 5-10 6-9 6-8 6-7 5-6 6-4 6-3 6-2 6-1 5 0 6 2 6 3 6 3 5 5 6 5 6 6 6 6 5 7 6 7 6 8 6 7 6 7 5 7 6 7 6 6 6 6 5 5 6 4 6 4 6 3 5 3 6 1 6 2 6 0 5 0 6 0 6-2 6-1 6-2 5-2 6-2 6-3 6-3 5-3 6-3 0 2z"/></g><g transform="translate(333.2 363.4)scale(.1)"><path d="M6 -4l0-2 6-4 5-4 6-5 6-4 6-5 5-4 6-5 6-5 6-5 5-5 6-6 6-6 6-6 5-6 6-7 6-8 6-7 6-9 5-9 6-9 6-10 6-11 5-12 6-12 6-12 6-14 5-14 6-14 6-15 6-15 6-15 5-15 6-15 6-15 6-15 5-14 6-14 6-12 6-12 5-11 6-10 6-8 6-7 6-6 5-5 6-3 6-2 6 0 5 1 6 2 6 3 6 5 5 5 6 6 6 7 6 7 5 8 6 9 6 8 6 9 6 8 5 8 6 8 6 7 6 7 5 6 6 5 6 5 6 4 5 3 6 3 6 1 6 1 5 1 6 0 6-1 6-1 6-2 5-2 6-2 6-3 6-2 5-3 6-3 0 2z"/></g><g transform="translate(333.5 363.8)scale(.1)"><path d="M6 -4l0-2 6-5 5-4 6-4 6-5 6-4 5-5 6-5 6-5 6-5 5-5 6-6 6-6 6-7 5-7 6-7 6-8 6-8 6-9 5-9 6-11 6-11 6-11 5-13 6-13 6-13 6-15 5-15 6-15 6-16 6-16 6-17 5-16 6-17 6-16 6-16 5-15 6-14 6-14 6-12 5-12 6-10 6-9 6-7 5-6 6-5 6-3 6-1 6 0 5 1 6 3 6 4 6 5 5 6 6 7 6 8 6 8 5 9 6 10 6 9 6 10 6 10 5 9 6 9 6 8 6 8 5 7 6 7 6 5 6 5 5 4 6 3 6 3 6 1 5 1 6 1 6-1 6-1 6-1 5-2 6-2 6-2 6-3 5-3 6-3 6-3 0 3z"/></g><g transform="translate(333.9 364.2)scale(.1)"><path d="M0 0l0-3 6-4 6-4 5-4 6-5 6-4 6-5 5-4 6-5 6-6 6-5 5-6 6-6 6-6 6-7 5-7 6-8 6-8 6-9 6-9 5-11 6-10 6-12 6-13 5-13 6-14 6-15 6-15 5-17 6-16 6-18 6-17 6-18 5-18 6-17 6-18 6-16 5-17 6-15 6-14 6-14 5-12 6-10 6-9 6-8 5-6 6-5 6-3 6-1 6 0 5 2 6 3 6 5 6 6 5 7 6 8 6 8 6 10 5 10 6 11 6 11 6 10 6 11 5 11 6 10 6 10 6 9 5 8 6 7 6 7 6 6 5 5 6 4 6 3 6 2 5 1 6 1 6 0 6 0 6-1 5-2 6-2 6-2 6-2 5-3 6-3 6-3 0 3z"/></g><g transform="translate(334.2 364.5)scale(.1)"><path d="M0 0l0-3 6-4 6-4 5-4 6-5 6-5 6-4 5-5 6-5 6-6 6-5 5-6 6-6 6-7 6-7 5-8 6-8 6-9 6-9 6-10 5-11 6-12 6-12 6-14 5-14 6-15 6-16 6-17 5-17 6-19 6-18 6-19 6-19 5-19 6-19 6-18 6-18 5-18 6-16 6-15 6-14 5-13 6-11 6-10 6-8 5-6 6-4 6-3 6-1 6 0 5 3 6 3 6 6 6 6 5 8 6 9 6 10 6 11 5 11 6 12 6 12 6 12 6 12 5 12 6 12 6 10 6 11 5 9 6 9 6 7 6 7 5 6 6 5 6 4 6 2 5 3 6 1 6 0 6 0 6-1 5-1 6-1 6-2 6-3 5-2 6-3 6-3 6-3 0 2z"/></g><g transform="translate(334.5 364.9)scale(.1)"><path d="M0 0l0-3 6-4 6-4 5-5 6-4 6-5 6-5 5-5 6-5 6-6 6-5 5-7 6-6 6-7 6-7 5-8 6-9 6-9 6-10 6-11 5-12 6-12 6-14 6-14 5-16 6-16 6-17 6-18 5-19 6-20 6-19 6-21 6-20 5-21 6-20 6-19 6-20 5-18 6-17 6-16 6-15 5-13 6-12 6-10 6-8 5-6 6-5 6-2 6-1 6 1 5 2 6 5 6 6 6 7 5 9 6 10 6 11 6 12 5 12 6 13 6 13 6 14 6 13 5 14 6 12 6 13 6 11 5 11 6 9 6 9 6 8 5 7 6 5 6 5 6 4 5 2 6 2 6 1 6 0 6 0 5-1 6-1 6-2 6-2 5-3 6-3 6-3 6-3 0 3z"/></g><g transform="translate(334.8 365.3)scale(.1)"><path d="M0 0l0-3 6-4 6-5 5-4 6-5 6-5 6-5 5-5 6-5 6-6 6-6 5-6 6-7 6-7 6-8 5-8 6-9 6-10 6-11 6-11 5-13 6-13 6-15 6-15 5-17 6-17 6-19 6-19 5-21 6-20 6-22 6-21 6-22 5-22 6-22 6-21 6-20 5-19 6-18 6-17 6-16 5-14 6-12 6-10 6-8 5-7 6-4 6-3 6 0 6 1 5 3 6 5 6 7 6 8 5 10 6 11 6 12 6 13 5 13 6 14 6 15 6 15 6 15 5 14 6 14 6 14 6 13 5 12 6 11 6 10 6 9 5 7 6 7 6 5 6 5 5 3 6 2 6 2 6 0 6 0 5 0 6-1 6-2 6-2 5-2 6-3 6-3 6-3 0 3z"/></g><g transform="translate(335.2 365.6)scale(.1)"><path d="M0 0l0-3 6-5 6-4 5-5 6-4 6-5 6-5 5-5 6-6 6-6 6-6 5-7 6-7 6-7 6-9 5-8 6-10 6-10 6-12 6-12 5-13 6-15 6-15 6-17 5-18 6-18 6-20 6-21 5-22 6-22 6-23 6-23 6-23 5-23 6-23 6-23 6-21 5-20 6-20 6-17 6-16 5-15 6-12 6-11 6-9 5-6 6-4 6-3 6 0 6 2 5 4 6 5 6 7 6 9 5 11 6 12 6 13 6 14 5 15 6 15 6 16 6 16 6 16 5 16 6 16 6 15 6 14 5 13 6 13 6 11 6 10 5 8 6 8 6 6 6 5 5 4 6 3 6 2 6 1 6 1 5 0 6-1 6-2 6-2 5-2 6-2 6-3 6-3 5-3 0 2z"/></g><g transform="translate(335.5 366)scale(.1)"><path d="M0 0l0-4 6-4 6-4 5-5 6-5 6-5 6-5 5-5 6-6 6-6 6-7 5-6 6-8 6-8 6-8 5-10 6-10 6-11 6-12 6-13 5-14 6-16 6-16 6-18 5-19 6-20 6-21 6-22 5-24 6-23 6-25 6-24 6-25 5-25 6-24 6-23 6-23 5-21 6-21 6-18 6-17 5-15 6-13 6-11 6-8 5-7 6-4 6-2 6 0 6 2 5 4 6 6 6 8 6 10 5 12 6 12 6 14 6 16 5 16 6 16 6 18 6 17 6 18 5 17 6 17 6 16 6 16 5 14 6 14 6 12 6 11 5 10 6 9 6 7 6 6 5 5 6 3 6 3 6 1 6 1 5 0 6-1 6-1 6-1 5-2 6-3 6-2 6-3 5-3 0 2z"/></g><g transform="translate(335.8 366.4)scale(.1)"><path d="M0 0l0-4 6-4 6-5 5-5 6-4 6-5 6-6 5-5 6-6 6-6 6-7 5-7 6-8 6-8 6-9 5-10 6-11 6-12 6-12 6-14 5-15 6-17 6-17 6-19 5-21 6-21 6-23 6-23 5-25 6-25 6-26 6-26 6-27 5-26 6-25 6-25 6-24 5-22 6-21 6-19 6-18 5-15 6-14 6-11 6-8 5-7 6-4 6-2 6 0 6 3 5 5 6 6 6 9 6 11 5 12 6 14 6 15 6 16 5 17 6 18 6 19 6 19 6 18 5 19 6 18 6 18 6 17 5 16 6 15 6 13 6 13 5 11 6 9 6 8 6 7 5 6 6 4 6 3 6 2 6 1 5 1 6-1 6-1 6-1 5-2 6-2 6-3 6-3 5-3 6-3 0 3z"/></g><g transform="translate(336.2 366.8)scale(.1)"><path d="M0 0l0-4 6-5 6-4 5-5 6-5 6-5 6-5 5-6 6-6 6-7 6-7 5-7 6-8 6-9 6-9 5-11 6-11 6-12 6-14 6-15 5-16 6-17 6-19 6-20 5-22 6-22 6-25 6-25 5-26 6-27 6-27 6-28 6-28 5-27 6-27 6-26 6-25 5-23 6-22 6-20 6-18 5-16 6-14 6-11 6-9 5-6 6-4 6-2 6 1 6 3 5 5 6 7 6 10 6 11 5 13 6 15 6 16 6 17 5 18 6 20 6 19 6 21 6 20 5 20 6 20 6 19 6 18 5 17 6 17 6 14 6 14 5 12 6 10 6 10 6 7 5 6 6 5 6 4 6 3 6 1 5 1 6 0 6-1 6-1 5-2 6-2 6-2 6-3 5-3 6-3 0 3z"/></g><g transform="translate(336.5 367.1)scale(.1)"><path d="M0 0l0-4 6-5 6-5 5-4 6-5 6-6 6-5 5-6 6-6 6-7 6-7 5-8 6-8 6-9 6-10 5-11 6-12 6-13 6-15 6-15 5-17 6-19 6-20 6-21 5-23 6-24 6-26 6-27 5-27 6-29 6-29 6-29 6-29 5-29 6-28 6-27 6-26 5-25 6-22 6-21 6-19 5-16 6-14 6-11 6-9 5-6 6-4 6-2 6 1 6 4 5 6 6 8 6 10 6 11 5 14 6 16 6 17 6 18 5 20 6 20 6 21 6 21 6 22 5 21 6 22 6 20 6 20 5 18 6 18 6 16 6 15 5 13 6 12 6 10 6 8 5 7 6 6 6 4 6 3 6 2 5 1 6 1 6-1 6-1 5-1 6-2 6-3 6-2 5-3 6-3 0 3z"/></g><g transform="translate(336.8 367.5)scale(.1)"><path d="M0 0l0-5 6-4 6-5 5-5 6-5 6-5 6-6 5-6 6-7 6-6 6-8 5-8 6-9 6-9 6-11 5-11 6-13 6-13 6-15 6-17 5-18 6-20 6-21 6-22 5-25 6-25 6-28 6-28 5-29 6-30 6-31 6-30 6-31 5-30 6-30 6-28 6-27 5-25 6-24 6-21 6-19 5-17 6-14 6-11 6-9 5-6 6-4 6-1 6 1 6 4 5 7 6 8 6 11 6 12 5 15 6 16 6 18 6 19 5 21 6 21 6 22 6 23 6 23 5 23 6 22 6 22 6 21 5 20 6 19 6 18 6 16 5 14 6 12 6 12 6 9 5 8 6 6 6 5 6 4 6 2 5 2 6 0 6 0 6-1 5-1 6-2 6-2 6-3 5-2 6-3 6-3 0 2z"/></g><g transform="translate(337.1 367.9)scale(.1)"><path d="M0 0l0-5 6-5 6-4 5-5 6-6 6-5 6-6 5-6 6-7 6-7 6-7 5-9 6-9 6-10 6-11 5-12 6-13 6-15 6-15 6-18 5-19 6-21 6-22 6-24 5-26 6-27 6-28 6-30 5-31 6-32 6-32 6-32 6-32 5-31 6-31 6-30 6-28 5-26 6-24 6-22 6-19 5-17 6-14 6-12 6-9 5-6 6-3 6-1 6 2 6 4 5 7 6 9 6 11 6 13 5 16 6 17 6 18 6 21 5 21 6 23 6 23 6 24 6 24 5 24 6 24 6 23 6 23 5 21 6 20 6 19 6 17 5 16 6 13 6 12 6 11 5 8 6 7 6 6 6 4 6 3 5 2 6 1 6 0 6 0 5-2 6-1 6-2 6-3 5-3 6-3 6-3 0 3z"/></g><g transform="translate(337.5 368.2)scale(.1)"><path d="M0 0l0-5 6-5 6-5 5-5 6-5 6-6 6-6 5-6 6-7 6-7 6-8 5-9 6-9 6-11 6-11 5-13 6-14 6-15 6-17 6-18 5-20 6-22 6-23 6-26 5-27 6-28 6-30 6-32 5-32 6-33 6-34 6-33 6-34 5-33 6-32 6-30 6-29 5-27 6-25 6-22 6-20 5-17 6-14 6-12 6-9 5-5 6-3 6-1 6 2 6 5 5 7 6 10 6 11 6 14 5 16 6 18 6 19 6 22 5 22 6 24 6 24 6 25 6 25 5 26 6 25 6 24 6 24 5 23 6 21 6 20 6 19 5 16 6 15 6 13 6 11 5 10 6 8 6 6 6 5 6 3 5 2 6 2 6 0 6 0 5-1 6-2 6-2 6-2 5-3 6-3 6-3 0 3z"/></g><g transform="translate(337.8 368.6)scale(.1)"><path d="M0 0l0-6 6-4 6-5 5-5 6-6 6-6 6-6 5-6 6-7 6-8 6-8 5-9 6-10 6-11 6-11 5-14 6-14 6-16 6-18 6-19 5-21 6-23 6-25 6-26 5-29 6-30 6-31 6-33 5-34 6-35 6-35 6-35 6-35 5-34 6-33 6-31 6-30 5-28 6-25 6-23 6-20 5-17 6-15 6-11 6-8 5-6 6-3 6 0 6 3 6 5 5 7 6 10 6 13 6 14 5 16 6 19 6 20 6 22 5 23 6 25 6 25 6 26 6 27 5 26 6 27 6 26 6 25 5 24 6 22 6 22 6 19 5 18 6 16 6 14 6 12 5 10 6 9 6 6 6 6 6 4 5 3 6 1 6 1 6 0 5-1 6-2 6-1 6-3 5-2 6-3 6-3 0 3z"/></g><g transform="translate(338.1 369)scale(.1)"><path d="M0 0l0-6 6-5 6-5 5-5 6-5 6-6 6-7 5-6 6-7 6-8 6-9 5-9 6-10 6-11 6-13 5-14 6-15 6-16 6-19 6-20 5-22 6-24 6-26 6-28 5-30 6-31 6-33 6-35 5-35 6-36 6-36 6-37 6-36 5-35 6-34 6-33 6-31 5-28 6-26 6-23 6-20 5-18 6-14 6-11 6-8 6-6 5-2 6 0 6 3 6 6 5 8 6 10 6 13 6 15 5 17 6 19 6 21 6 22 5 24 6 26 6 26 6 27 6 28 5 27 6 28 6 27 6 26 5 26 6 24 6 22 6 21 5 19 6 16 6 15 6 13 5 11 6 10 6 7 6 6 6 5 5 3 6 2 6 1 6 0 5-1 6-1 6-2 6-2 5-2 6-3 6-3 0 3z"/></g><g transform="translate(338.5 369.4)scale(.1)"><path d="M0 0l0-6 6-5 6-5 5-5 6-6 6-6 6-6 5-7 6-8 6-8 6-8 5-10 6-11 6-11 6-13 5-14 6-16 6-18 6-19 6-21 5-23 6-25 6-27 6-30 5-31 6-33 6-34 6-36 5-37 6-37 6-38 6-38 6-37 5-36 6-36 6-33 6-31 5-29 6-26 6-24 6-20 5-18 6-14 6-11 6-8 5-5 6-2 6 1 6 3 6 6 5 8 6 11 6 13 6 16 5 17 6 20 6 21 6 23 5 25 6 26 6 27 6 28 6 29 5 29 6 29 6 28 6 27 5 27 6 25 6 24 6 21 5 20 6 18 6 16 6 14 5 12 6 10 6 8 6 6 6 5 5 4 6 2 6 1 6 1 5-1 6-1 6-1 6-2 5-3 6-2 6-3 0 3z"/></g><g transform="translate(338.8 369.7)scale(.1)"><path d="M0 0l0-7 6-4 6-6 5-5 6-6 6-6 6-6 5-7 6-8 6-8 6-9 5-10 6-11 6-12 6-13 5-15 6-17 6-18 6-20 6-22 5-24 6-26 6-29 6-30 5-32 6-35 6-35 6-38 5-38 6-39 6-39 6-39 6-38 5-38 6-36 6-34 6-32 5-29 6-27 6-24 6-20 5-18 6-14 6-10 6-8 5-5 6-1 6 1 6 3 6 7 5 8 6 12 6 13 6 16 5 18 6 20 6 22 6 23 5 26 6 27 6 28 6 29 6 29 5 30 6 30 6 29 6 29 5 27 6 27 6 24 6 23 5 21 6 19 6 17 6 15 5 12 6 11 6 9 6 7 6 5 5 4 6 3 6 1 6 1 5 0 6-1 6-2 6-2 5-2 6-3 6-2 0 3z"/></g><g transform="translate(339.1 370.1)scale(.1)"><path d="M0 0l0-7 6-5 6-5 5-5 6-6 6-6 6-7 5-7 6-8 6-8 6-10 5-10 6-11 6-13 6-14 5-15 6-17 6-19 6-21 6-23 5-25 6-27 6-30 6-31 5-34 6-35 6-37 6-39 5-39 6-41 6-40 6-40 6-40 5-38 6-37 6-35 6-33 5-30 6-26 6-24 6-21 5-17 6-14 6-10 6-8 5-4 6-1 6 1 6 4 6 7 5 9 6 12 6 13 6 16 5 19 6 20 6 22 6 25 5 26 6 27 6 29 6 29 6 31 5 31 6 30 6 31 6 30 5 28 6 28 6 25 6 24 5 22 6 20 6 18 6 15 5 14 6 11 6 10 6 7 6 6 5 4 6 3 6 2 6 1 5 0 6-1 6-1 6-2 5-2 6-3 6-3 0 4z"/></g><g transform="translate(339.5 370.5)scale(.1)"><path d="M0 0l0-7 6-5 6-5 5-6 6-6 6-6 6-7 5-7 6-8 6-9 6-9 5-11 6-12 6-13 6-14 5-16 6-18 6-19 6-22 6-23 5-26 6-29 6-30 6-33 5-35 6-36 6-39 6-40 5-40 6-42 6-41 6-42 6-40 5-40 6-37 6-36 6-33 5-30 6-27 6-24 6-21 5-17 6-13 6-10 6-7 5-4 6-1 6 2 6 4 6 7 5 10 6 11 6 14 6 17 5 18 6 21 6 22 6 25 5 26 6 28 6 30 6 30 6 32 5 31 6 32 6 31 6 31 5 30 6 28 6 27 6 25 5 23 6 21 6 18 6 16 5 15 6 12 6 10 6 8 6 6 5 5 6 3 6 2 6 1 5 0 6 0 6-2 6-1 5-3 6-2 6-3 0 4z"/></g><g transform="translate(339.8 370.9)scale(.1)"><path d="M0 0l0-7 6-5 6-6 5-5 6-6 6-7 6-7 5-7 6-8 6-9 6-10 5-11 6-12 6-13 6-15 5-16 6-19 6-20 6-22 6-25 5-27 6-29 6-31 6-34 5-36 6-38 6-40 6-41 5-42 6-42 6-43 6-42 6-42 5-40 6-38 6-37 6-33 5-31 6-27 6-24 6-20 5-17 6-13 6-10 6-6 5-4 6 0 6 2 6 5 6 7 5 10 6 12 6 14 6 16 5 19 6 21 6 23 6 25 5 27 6 28 6 30 6 31 6 32 5 32 6 33 6 32 6 32 5 31 6 29 6 28 6 26 5 23 6 22 6 20 6 17 5 14 6 13 6 11 6 8 6 7 5 5 6 4 6 2 6 1 5 0 6 0 6-1 6-2 5-2 6-2 6-3 0 4z"/></g><g transform="translate(340.1 371.2)scale(.1)"><path d="M0 0l0-8 6-5 6-5 5-6 6-6 6-6 6-7 5-8 6-8 6-9 6-11 5-11 6-12 6-14 6-15 5-17 6-19 6-20 6-24 6-25 5-28 6-30 6-32 6-35 5-37 6-39 6-41 6-42 5-43 6-44 6-43 6-44 6-42 5-41 6-39 6-37 6-34 5-30 6-28 6-24 6-20 5-16 6-13 6-10 6-6 5-2 6 0 6 2 6 6 6 7 5 10 6 12 6 14 6 17 5 19 6 20 6 24 6 25 5 27 6 29 6 30 6 32 6 33 5 33 6 33 6 33 6 33 5 31 6 30 6 29 6 27 5 25 6 22 6 20 6 18 5 15 6 14 6 11 6 9 6 7 5 5 6 4 6 3 6 1 5 1 6-1 6-1 6-1 5-2 6-3 6-2 0 4z"/></g><g transform="translate(340.4 371.6)scale(.1)"><path d="M0 0l0-8 6-5 6-6 5-5 6-7 6-6 6-7 5-8 6-8 6-10 6-10 5-11 6-13 6-14 6-16 5-17 6-19 6-22 6-23 6-27 5-28 6-31 6-33 6-36 5-38 6-40 6-42 6-43 5-44 6-45 6-45 6-44 6-43 5-42 6-39 6-37 6-34 5-31 6-28 6-24 6-20 5-16 6-12 6-9 6-6 5-2 6 0 6 3 6 6 6 8 5 10 6 12 6 14 6 17 5 19 6 21 6 23 6 25 5 28 6 29 6 31 6 32 6 33 5 34 6 34 6 34 6 33 5 33 6 31 6 29 6 28 5 25 6 23 6 21 6 19 5 16 6 14 6 11 6 10 6 7 5 6 6 4 6 3 6 1 5 1 6 0 6-1 6-1 5-2 6-3 6-2 0 4z"/></g><g transform="translate(340.8 372)scale(.1)"><path d="M0 0l0-8 6-5 6-6 5-6 6-6 6-7 6-7 5-8 6-8 6-10 6-10 5-12 6-13 6-14 6-16 5-18 6-20 6-22 6-24 6-27 5-29 6-32 6-34 6-37 5-39 6-40 6-43 6-44 5-45 6-46 6-45 6-45 6-44 5-42 6-41 6-37 6-35 5-31 6-27 6-24 6-19 5-16 6-12 6-9 6-5 5-2 6 1 6 4 6 6 6 8 5 10 6 12 6 14 6 17 5 19 6 21 6 23 6 26 5 27 6 30 6 31 6 32 6 34 5 34 6 35 6 35 6 34 5 33 6 31 6 31 6 28 5 26 6 24 6 22 6 19 5 16 6 15 6 12 6 9 6 8 5 6 6 5 6 3 6 2 5 0 6 0 6 0 6-2 5-2 6-2 6-3 0 5z"/></g><g transform="translate(341.1 372.3)scale(.1)"><path d="M0 0l0-8 6-6 6-5 5-6 6-7 6-6 6-8 5-8 6-8 6-10 6-11 5-11 6-14 6-14 6-17 5-18 6-20 6-22 6-25 6-28 5-29 6-33 6-35 6-37 5-40 6-42 6-43 6-45 5-46 6-47 6-46 6-46 6-44 5-43 6-40 6-38 6-35 5-31 6-27 6-24 6-19 5-16 6-12 6-8 6-4 5-1 6 1 6 4 6 6 6 8 5 10 6 13 6 14 6 16 5 19 6 21 6 23 6 26 5 28 6 30 6 31 6 33 6 34 5 35 6 35 6 35 6 35 5 34 6 32 6 31 6 29 5 27 6 24 6 22 6 20 5 17 6 15 6 12 6 10 6 9 5 6 6 5 6 3 6 2 5 1 6 0 6-1 6-1 5-2 6-2 6-3 0 5z"/></g><g transform="translate(341.4 372.7)scale(.1)"><path d="M0 0l0-9 6-5 6-6 5-6 6-6 6-7 6-7 5-8 6-9 6-10 6-11 5-12 6-13 6-15 6-17 5-18 6-21 6-23 6-25 6-28 5-30 6-33 6-36 6-38 5-41 6-42 6-44 6-46 5-47 6-47 6-47 6-46 6-45 5-43 6-41 6-38 6-35 5-31 6-28 6-23 6-19 5-16 6-11 6-7 6-4 5-1 6 2 6 4 6 6 6 9 5 10 6 12 6 14 6 17 5 18 6 21 6 24 6 25 5 28 6 30 6 32 6 33 6 34 5 36 6 35 6 36 6 35 5 34 6 33 6 32 6 29 5 28 6 25 6 23 6 20 5 17 6 15 6 13 6 11 6 8 5 7 6 5 6 3 6 2 5 1 6 1 6-1 6-1 5-2 6-2 6-3 0 5z"/></g><g transform="translate(341.8 373.1)scale(.1)"><path d="M0 0l0-9 6-5 6-6 5-6 6-6 6-7 6-8 5-8 6-9 6-10 6-11 5-12 6-14 6-15 6-17 5-18 6-21 6-24 6-25 6-29 5-31 6-33 6-36 6-39 5-41 6-43 6-45 6-47 5-47 6-48 6-47 6-47 6-45 5-44 6-41 6-38 6-35 5-32 6-27 6-23 6-19 5-15 6-11 6-7 6-4 5 0 6 2 6 5 6 7 6 8 5 10 6 12 6 14 6 16 5 19 6 21 6 23 6 26 5 28 6 30 6 32 6 33 6 35 5 36 6 36 6 36 6 35 5 35 6 34 6 32 6 30 5 28 6 25 6 23 6 21 5 18 6 15 6 13 6 11 6 9 5 7 6 5 6 3 6 3 5 1 6 0 6 0 6-2 5-1 6-3 6-2 0 5z"/></g><g transform="translate(342.1 373.5)scale(.1)"><path d="M0 0l0-9 6-6 6-5 5-6 6-7 6-7 6-7 5-9 6-9 6-10 6-11 5-12 6-14 6-15 6-17 5-19 6-22 6-23 6-26 6-29 5-31 6-34 6-37 6-39 5-42 6-44 6-45 6-47 5-48 6-48 6-48 6-47 6-46 5-44 6-41 6-39 6-35 5-31 6-27 6-23 6-19 5-15 6-10 6-7 6-3 5 0 6 3 6 5 6 6 6 9 5 10 6 12 6 14 6 16 5 18 6 21 6 23 6 26 5 28 6 30 6 32 6 34 6 35 5 36 6 36 6 37 6 36 5 35 6 34 6 32 6 31 5 28 6 26 6 23 6 21 5 19 6 15 6 14 6 11 6 9 5 7 6 5 6 4 6 2 5 1 6 1 6-1 6-1 5-2 6-2 6-2 0 5z"/></g><g transform="translate(342.4 373.8)scale(.1)"><path d="M0 0l0-9 6-6 6-5 5-7 6-6 6-7 6-8 5-8 6-9 6-10 6-12 5-12 6-14 6-15 6-18 5-19 6-21 6-24 6-27 6-29 5-31 6-35 6-37 6-39 5-42 6-45 6-45 6-48 5-48 6-48 6-49 6-47 6-46 5-45 6-41 6-39 6-35 5-31 6-27 6-23 6-19 5-15 6-10 6-6 6-3 5 1 6 3 6 5 6 7 6 9 5 9 6 12 6 14 6 16 5 18 6 21 6 23 6 26 5 28 6 30 6 32 6 34 6 35 5 37 6 36 6 37 6 36 5 36 6 34 6 33 6 30 5 29 6 26 6 24 6 21 5 19 6 16 6 13 6 12 6 9 5 7 6 5 6 4 6 3 5 1 6 0 6 0 6-1 5-2 6-2 6-2 0 5z"/></g><g transform="translate(342.7 374.2)scale(.1)"><path d="M0 0l0-10 6-5 6-6 5-6 6-6 6-7 6-8 5-8 6-10 6-10 6-11 5-13 6-14 6-15 6-18 5-19 6-22 6-24 6-26 6-30 5-32 6-34 6-38 6-39 5-43 6-44 6-46 6-48 5-48 6-49 6-49 6-48 6-46 5-44 6-42 6-39 6-35 5-31 6-28 6-22 6-19 5-14 6-10 6-6 6-3 5 1 6 3 6 6 6 7 6 9 5 9 6 12 6 13 6 16 5 18 6 21 6 23 6 26 5 28 6 31 6 32 6 34 6 35 5 36 6 37 6 37 6 37 5 35 6 35 6 33 6 31 5 29 6 26 6 24 6 22 5 18 6 17 6 13 6 12 6 9 5 7 6 6 6 4 6 2 5 2 6 0 6 0 6-1 5-2 6-2 6-2 0 5z"/></g><g transform="translate(343.1 374.6)scale(.1)"><path d="M0 0l0-10 6-5 6-6 5-6 6-7 6-7 6-7 5-9 6-9 6-10 6-12 5-12 6-14 6-16 6-18 5-19 6-22 6-24 6-27 6-29 5-32 6-35 6-37 6-41 5-42 6-45 6-46 6-48 5-48 6-49 6-49 6-48 6-47 5-44 6-42 6-39 6-35 5-31 6-28 6-22 6-19 5-14 6-10 6-6 6-2 6 1 5 3 6 6 6 8 6 8 5 9 6 12 6 13 6 16 5 18 6 21 6 23 6 26 5 28 6 30 6 33 6 34 6 35 5 37 6 37 6 37 6 36 5 36 6 35 6 33 6 31 5 29 6 27 6 24 6 22 5 19 6 16 6 14 6 11 6 10 5 7 6 5 6 4 6 3 5 1 6 1 6 0 6-1 5-2 6-2 6-2 0 5z"/></g><g transform="translate(343.4 374.9)scale(.1)"><path d="M0 0l0-10 6-5 6-6 5-6 6-7 6-7 6-8 5-8 6-9 6-11 6-11 5-13 6-14 6-16 6-17 5-20 6-21 6-25 6-26 6-30 5-32 6-35 6-37 6-41 5-42 6-45 6-46 6-48 5-49 6-49 6-49 6-48 6-46 5-45 6-42 6-38 6-36 5-31 6-27 6-23 6-19 5-14 6-10 6-6 6-2 5 1 6 4 6 6 6 7 6 8 5 10 6 11 6 14 6 15 5 19 6 20 6 24 6 25 5 28 6 31 6 32 6 34 6 36 5 36 6 37 6 37 6 37 5 36 6 35 6 33 6 31 5 29 6 27 6 24 6 22 5 19 6 16 6 14 6 12 6 9 5 8 6 5 6 4 6 3 5 1 6 1 6-1 6-1 5-1 6-2 6-3 0 6z"/></g><g transform="translate(343.7 375.3)scale(.1)"><path d="M0 0l0-10 6-5 6-6 5-6 6-7 6-7 6-8 5-8 6-10 6-10 6-11 5-13 6-14 6-16 6-17 5-20 6-22 6-24 6-27 6-29 5-32 6-35 6-37 6-41 5-42 6-45 6-46 6-48 5-49 6-49 6-48 6-48 6-47 5-44 6-42 6-39 6-35 5-32 6-27 6-23 6-19 5-14 6-10 6-6 6-2 5 1 6 3 6 6 6 7 6 8 5 10 6 12 6 13 6 16 5 18 6 21 6 23 6 26 5 28 6 31 6 32 6 34 6 36 5 36 6 37 6 37 6 37 5 36 6 35 6 33 6 31 5 29 6 27 6 24 6 22 5 19 6 16 6 14 6 12 6 9 5 7 6 6 6 4 6 3 5 1 6 1 6-1 6-1 5-1 6-2 6-3 0 6z"/></g><g transform="translate(344.1 375.7)scale(.1)"><path d="M0 0l0-10 6-5 6-6 5-6 6-7 6-7 6-8 5-8 6-10 6-10 6-11 5-13 6-14 6-16 6-17 5-20 6-21 6-25 6-26 6-29 5-32 6-35 6-38 6-39 5-43 6-44 6-47 6-47 5-49 6-49 6-48 6-48 6-46 5-45 6-42 6-39 6-35 5-31 6-28 6-23 6-19 5-14 6-10 6-6 6-3 5 1 6 3 6 5 6 8 6 8 5 10 6 11 6 14 6 16 5 18 6 21 6 24 6 26 5 28 6 30 6 33 6 34 6 35 5 37 6 37 6 37 6 36 5 36 6 35 6 33 6 31 5 29 6 27 6 24 6 21 5 19 6 16 6 14 6 12 6 9 5 7 6 6 6 4 6 3 5 1 6 1 6-1 6-1 5-1 6-2 6-3 0 6z"/></g><g transform="translate(344.4 376.1)scale(.1)"><path d="M0 0l0-10 6-6 6-5 5-7 6-6 6-7 6-8 5-8 6-10 6-10 6-11 5-13 6-14 6-15 6-18 5-19 6-22 6-24 6-26 6-29 5-32 6-35 6-37 6-39 5-42 6-45 6-46 6-47 5-48 6-49 6-48 6-48 6-46 5-44 6-42 6-39 6-35 5-32 6-27 6-23 6-19 5-15 6-10 6-7 6-3 5 0 6 3 6 5 6 7 6 9 5 10 6 12 6 13 6 17 5 18 6 21 6 24 6 25 5 29 6 30 6 33 6 34 6 35 5 36 6 37 6 37 6 37 5 35 6 35 6 33 6 31 5 28 6 27 6 24 6 21 5 19 6 16 6 14 6 11 6 9 5 8 6 5 6 4 6 3 5 1 6 1 6-1 6-1 5-1 6-2 6-3 0 6z"/></g><g transform="translate(344.7 376.4)scale(.1)"><path d="M0 0l0-10 6-6 6-5 5-7 6-6 6-7 6-8 5-8 6-10 6-10 6-11 5-13 6-13 6-16 6-17 5-19 6-22 6-24 6-26 6-29 5-31 6-34 6-37 6-39 5-42 6-44 6-45 6-47 5-48 6-48 6-48 6-48 6-46 5-44 6-42 6-38 6-36 5-31 6-28 6-23 6-19 5-15 6-11 6-7 6-3 5-1 6 3 6 5 6 7 6 8 5 10 6 12 6 14 6 17 5 18 6 21 6 24 6 26 5 28 6 31 6 32 6 34 6 35 5 36 6 37 6 37 6 36 5 35 6 35 6 32 6 31 5 28 6 27 6 23 6 21 5 19 6 16 6 13 6 12 6 9 5 7 6 5 6 4 6 3 5 1 6 1 6-1 6-1 5-1 6-2 6-3 0 6z"/></g><g transform="translate(345 376.8)scale(.1)"><path d="M0 0l0-10 6-6 6-5 5-7 6-6 6-7 6-8 5-8 6-9 6-11 6-11 5-12 6-14 6-15 6-17 5-19 6-21 6-24 6-26 6-28 5-31 6-34 6-36 6-39 5-41 6-44 6-45 6-46 5-48 6-47 6-48 6-47 6-46 5-43 6-42 6-38 6-36 5-31 6-28 6-24 6-19 5-15 6-11 6-8 6-4 5 0 6 2 6 4 6 7 6 8 5 10 6 12 6 15 6 16 5 19 6 21 6 24 6 26 5 28 6 31 6 32 6 34 6 35 5 36 6 36 6 37 6 35 5 36 6 33 6 33 6 30 5 28 6 26 6 23 6 21 5 18 6 16 6 13 6 11 6 9 5 7 6 6 6 3 6 3 5 1 6 1 6-1 6-1 5-1 6-2 6-3 0 6z"/></g><g transform="translate(345.4 377.2)scale(.1)"><path d="M0 0l0-10 6-6 6-5 5-6 6-7 6-7 6-8 5-8 6-9 6-10 6-11 5-12 6-14 6-15 6-17 5-19 6-21 6-23 6-25 6-28 5-31 6-33 6-36 6-38 5-41 6-43 6-44 6-46 5-47 6-47 6-47 6-46 6-46 5-43 6-41 6-39 6-35 5-31 6-28 6-24 6-20 5-15 6-12 6-8 6-4 5-1 6 1 6 4 6 7 6 8 5 10 6 12 6 15 6 16 5 19 6 22 6 24 6 26 5 28 6 30 6 32 6 34 6 35 5 36 6 36 6 36 6 35 5 35 6 33 6 32 6 30 5 28 6 25 6 23 6 20 5 18 6 16 6 13 6 10 6 9 5 7 6 5 6 4 6 2 5 1 6 1 6-1 6-1 5-1 6-2 6-3 0 6z"/></g><g transform="translate(345.7 377.5)scale(.1)"><path d="M0 0l0-10 6-6 6-5 5-6 6-7 6-7 6-8 5-8 6-9 6-10 6-11 5-12 6-13 6-15 6-17 5-18 6-21 6-22 6-25 6-28 5-30 6-33 6-35 6-37 5-40 6-42 6-44 6-45 5-46 6-47 6-46 6-46 6-45 5-43 6-41 6-38 6-35 5-32 6-27 6-24 6-20 5-16 6-12 6-9 6-5 5-2 6 2 6 3 6 6 6 8 5 11 6 12 6 15 6 16 5 20 6 21 6 24 6 26 5 28 6 30 6 32 6 34 6 34 5 36 6 35 6 36 6 35 5 34 6 33 6 31 6 29 5 28 6 24 6 23 6 20 5 17 6 15 6 13 6 11 6 8 5 7 6 5 6 3 6 3 5 1 6 0 6-1 6-1 5-1 6-2 6-3 0 6z"/></g><g transform="translate(346 377.9)scale(.1)"><path d="M0 0l0-10 6-5 6-6 5-6 6-7 6-7 6-7 5-8 6-9 6-10 6-11 5-12 6-13 6-15 6-16 5-18 6-20 6-22 6-25 6-27 5-29 6-32 6-35 6-37 5-39 6-41 6-43 6-44 5-45 6-46 6-46 6-45 6-44 5-43 6-40 6-38 6-35 5-32 6-28 6-24 6-20 5-16 6-13 6-9 6-5 5-3 6 1 6 3 6 6 6 8 5 10 6 13 6 14 6 17 5 19 6 22 6 24 6 26 5 28 6 30 6 32 6 33 6 34 5 35 6 35 6 35 6 34 5 34 6 32 6 31 6 29 5 26 6 24 6 22 6 20 5 17 6 15 6 12 6 10 6 8 5 7 6 4 6 4 6 2 5 1 6 0 6 0 6-2 5-1 6-2 6-3 0 6z"/></g><g transform="translate(346.4 378.3)scale(.1)"><path d="M0 0l0-10 6-5 6-6 5-6 6-7 6-6 6-8 5-8 6-9 6-9 6-11 5-12 6-13 6-14 6-16 5-18 6-20 6-21 6-24 6-27 5-28 6-32 6-33 6-36 5-39 6-40 6-42 6-43 5-44 6-45 6-45 6-45 6-43 5-42 6-40 6-38 6-34 5-32 6-28 6-24 6-21 5-16 6-13 6-10 6-6 5-3 6 1 6 2 6 6 6 8 5 10 6 12 6 15 6 17 5 19 6 21 6 24 6 26 5 28 6 30 6 31 6 33 6 34 5 34 6 35 6 34 6 34 5 33 6 31 6 30 6 28 5 26 6 24 6 21 6 19 5 17 6 14 6 12 6 10 6 8 5 6 6 4 6 3 6 2 5 1 6 0 6 0 6-2 5-1 6-2 6-3 0 6z"/></g><g transform="translate(346.7 378.7)scale(.1)"><path d="M0 0l0-10 6-5 6-6 5-6 6-6 6-7 6-8 5-7 6-9 6-10 6-10 5-12 6-12 6-14 6-16 5-17 6-20 6-21 6-23 6-26 5-28 6-30 6-33 6-35 5-37 6-40 6-41 6-42 5-43 6-44 6-44 6-44 6-43 5-41 6-40 6-37 6-34 5-31 6-28 6-25 6-20 5-17 6-14 6-10 6-6 5-4 6 0 6 3 6 5 6 7 5 10 6 12 6 15 6 17 5 19 6 22 6 23 6 26 5 28 6 29 6 31 6 33 6 33 5 34 6 34 6 33 6 33 5 32 6 31 6 29 6 28 5 25 6 23 6 21 6 18 5 16 6 14 6 11 6 9 6 8 5 6 6 4 6 3 6 2 5 1 6 0 6-1 6-1 5-2 6-2 6-3 0 6z"/></g><g transform="translate(347 379)scale(.1)"><path d="M0 0l0-10 6-5 6-6 5-6 6-6 6-7 6-7 5-8 6-8 6-10 6-10 5-11 6-13 6-13 6-16 5-17 6-18 6-21 6-23 6-25 5-27 6-29 6-32 6-34 5-37 6-38 6-40 6-41 5-42 6-43 6-43 6-43 6-42 5-41 6-38 6-37 6-34 5-31 6-28 6-24 6-21 5-18 6-13 6-11 6-7 5-3 6-1 6 2 6 5 6 7 5 10 6 12 6 14 6 17 5 19 6 21 6 24 6 25 5 28 6 29 6 31 6 31 6 33 5 33 6 33 6 33 6 33 5 31 6 30 6 28 6 27 5 24 6 22 6 20 6 18 5 15 6 13 6 11 6 9 6 8 5 5 6 4 6 3 6 1 5 1 6 0 6-1 6-1 5-2 6-2 6-3 0 6z"/></g><g transform="translate(347.4 379.4)scale(.1)"><path d="M0 0l0-10 6-5 6-6 5-6 6-6 6-6 6-8 5-7 6-9 6-9 6-10 5-11 6-12 6-13 6-15 5-17 6-18 6-20 6-22 6-24 5-27 6-28 6-31 6-33 5-35 6-37 6-39 6-40 5-41 6-42 6-42 6-42 6-41 5-40 6-38 6-36 6-33 5-31 6-28 6-24 6-21 5-18 6-14 6-11 6-7 5-4 6-2 6 2 6 4 6 7 5 10 6 12 6 14 6 17 5 19 6 21 6 23 6 25 5 27 6 29 6 30 6 31 6 32 5 33 6 32 6 32 6 32 5 30 6 29 6 27 6 26 5 24 6 21 6 19 6 17 5 15 6 12 6 11 6 8 6 7 5 5 6 4 6 3 6 1 5 1 6-1 6-1 6-1 5-2 6-2 6-3 0 6z"/></g><g transform="translate(347.7 379.8)scale(.1)"><path d="M0 0l0-10 6-5 6-5 5-6 6-6 6-7 6-7 5-8 6-8 6-9 6-10 5-10 6-12 6-13 6-15 5-16 6-17 6-20 6-21 6-23 5-26 6-28 6-29 6-32 5-34 6-36 6-38 6-39 5-40 6-40 6-41 6-41 6-40 5-39 6-37 6-35 6-33 5-31 6-27 6-25 6-21 5-18 6-14 6-11 6-8 5-4 6-2 6 1 6 4 6 7 5 9 6 12 6 14 6 16 5 19 6 21 6 23 6 25 5 26 6 28 6 30 6 30 6 32 5 31 6 32 6 31 6 30 5 30 6 28 6 26 6 25 5 23 6 20 6 18 6 17 5 14 6 12 6 9 6 9 6 6 5 5 6 3 6 2 6 2 5 0 6 0 6-1 6-2 5-2 6-2 6-3 0 6z"/></g><g transform="translate(348 380.1)scale(.1)"><path d="M0 0l0-9 6-6 6-5 5-6 6-6 6-7 6-7 5-7 6-8 6-9 6-10 5-10 6-12 6-12 6-14 5-16 6-17 6-18 6-21 6-23 5-24 6-27 6-29 6-30 5-33 6-35 6-36 6-37 5-39 6-39 6-40 6-39 6-39 5-38 6-37 6-35 6-32 5-30 6-27 6-25 6-21 5-18 6-14 6-12 6-8 6-5 5-2 6 1 6 4 6 6 5 9 6 11 6 14 6 16 5 19 6 20 6 23 6 24 5 26 6 28 6 29 6 29 6 31 5 30 6 31 6 30 6 30 5 28 6 27 6 25 6 24 5 22 6 19 6 18 6 15 5 14 6 11 6 9 6 8 6 6 5 4 6 3 6 2 6 1 5 1 6-1 6-1 6-2 5-2 6-2 6-3 0 6z"/></g><g transform="translate(348.3 380.5)scale(.1)"><path d="M0 0l0-9 6-6 6-5 5-6 6-6 6-6 6-7 5-7 6-8 6-9 6-9 5-10 6-12 6-12 6-13 5-15 6-17 6-18 6-20 6-21 5-24 6-26 6-27 6-30 5-32 6-33 6-35 6-36 5-37 6-38 6-38 6-39 6-37 5-37 6-36 6-34 6-32 5-29 6-27 6-24 6-21 5-18 6-15 6-12 6-8 5-5 6-3 6 1 6 3 6 6 5 9 6 11 6 13 6 16 5 18 6 20 6 22 6 24 5 25 6 27 6 28 6 29 6 30 5 29 6 30 6 29 6 28 5 28 6 26 6 24 6 22 5 21 6 19 6 16 6 15 5 13 6 10 6 9 6 7 6 6 5 4 6 3 6 1 6 1 5 0 6-1 6-1 6-1 5-2 6-3 6-2 0 5z"/></g><g transform="translate(348.7 380.9)scale(.1)"><path d="M0 0l0-9 6-5 6-6 5-5 6-6 6-7 6-6 5-8 6-7 6-9 6-9 5-10 6-11 6-12 6-13 5-14 6-16 6-17 6-19 6-21 5-23 6-24 6-27 6-28 5-31 6-32 6-33 6-35 5-36 6-36 6-37 6-37 6-37 5-36 6-34 6-33 6-31 5-29 6-27 6-24 6-21 5-17 6-15 6-12 6-9 5-5 6-3 6 0 6 3 6 5 5 9 6 10 6 13 6 16 5 17 6 20 6 21 6 24 5 25 6 26 6 27 6 28 6 28 5 29 6 28 6 28 6 28 5 26 6 24 6 24 6 21 5 20 6 17 6 16 6 14 5 12 6 10 6 8 6 6 6 5 5 4 6 3 6 1 6 1 5 0 6-1 6-1 6-2 5-2 6-3 6-2 0 5z"/></g><g transform="translate(349 381.3)scale(.1)"><path d="M0 0l0-9 6-5 6-5 5-6 6-6 6-6 6-7 5-7 6-8 6-8 6-9 5-9 6-11 6-11 6-13 5-14 6-15 6-17 6-18 6-20 5-22 6-23 6-25 6-28 5-29 6-30 6-32 6-34 5-34 6-35 6-36 6-35 6-36 5-34 6-34 6-32 6-30 5-29 6-26 6-23 6-21 5-18 6-14 6-12 6-9 5-6 6-3 6 0 6 2 6 5 5 8 6 10 6 13 6 15 5 17 6 19 6 21 6 23 5 24 6 25 6 26 6 27 6 28 5 27 6 27 6 27 6 26 5 25 6 24 6 22 6 20 5 18 6 17 6 15 6 13 5 11 6 9 6 8 6 6 6 4 5 4 6 2 6 1 6 1 5-1 6-1 6-1 6-2 5-2 6-3 6-2 0 5z"/></g><g transform="translate(349.3 381.6)scale(.1)"><path d="M0 0l0-9 6-5 6-5 5-6 6-6 6-6 6-6 5-7 6-8 6-8 6-8 5-10 6-10 6-11 6-12 5-13 6-15 6-16 6-17 6-20 5-20 6-23 6-24 6-26 5-27 6-30 6-30 6-32 5-33 6-34 6-34 6-34 6-34 5-34 6-32 6-31 6-30 5-27 6-26 6-23 6-20 5-18 6-14 6-12 6-9 5-7 6-3 6 0 6 2 6 4 5 8 6 10 6 12 6 14 5 17 6 18 6 20 6 22 5 23 6 25 6 25 6 26 6 26 5 27 6 26 6 25 6 25 5 23 6 23 6 21 6 19 5 17 6 16 6 14 6 12 5 10 6 9 6 7 6 5 6 4 5 3 6 2 6 1 6 0 5 0 6-1 6-2 6-2 5-2 6-2 6-3 0 5z"/></g><g transform="translate(349.7 382)scale(.1)"><path d="M0 0l0-9 6-5 6-5 5-5 6-6 6-6 6-7 5-6 6-8 6-7 6-9 5-9 6-10 6-10 6-12 5-13 6-14 6-15 6-17 6-18 5-20 6-21 6-23 6-25 5-26 6-28 6-29 6-31 5-31 6-32 6-33 6-33 6-32 5-33 6-31 6-30 6-29 5-26 6-25 6-23 6-20 5-17 6-15 6-12 6-9 5-6 6-4 6-1 6 2 6 5 5 7 6 9 6 11 6 14 5 16 6 18 6 19 6 21 5 23 6 23 6 24 6 25 6 25 5 25 6 25 6 24 6 24 5 22 6 21 6 20 6 18 5 16 6 15 6 13 6 11 5 9 6 8 6 6 6 5 6 4 5 3 6 1 6 1 6 0 5-1 6-1 6-1 6-2 5-3 6-2 6-3 0 5z"/></g><g transform="translate(350 382.4)scale(.1)"><path d="M0 0l0-8 6-5 6-6 5-5 6-6 6-6 6-6 5-7 6-7 6-7 6-8 5-9 6-10 6-10 6-11 5-13 6-13 6-15 6-16 6-17 5-19 6-20 6-22 6-23 5-25 6-27 6-28 6-28 5-30 6-31 6-31 6-32 6-31 5-31 6-30 6-29 6-27 5-26 6-24 6-22 6-20 5-17 6-14 6-12 6-9 5-7 6-4 6-1 6 2 6 4 5 6 6 9 6 11 6 13 5 15 6 17 6 19 6 20 5 21 6 23 6 23 6 24 6 23 5 24 6 24 6 23 6 22 5 21 6 19 6 19 6 17 5 15 6 13 6 12 6 11 5 8 6 8 6 5 6 5 6 3 5 2 6 2 6 0 6 0 5-1 6-1 6-2 6-2 5-3 6-2 6-3 0 5z"/></g><g transform="translate(350.3 382.7)scale(.1)"><path d="M0 0l0-8 6-5 6-5 5-6 6-5 6-6 6-6 5-7 6-7 6-7 6-8 5-9 6-9 6-10 6-11 5-11 6-13 6-14 6-15 6-17 5-18 6-19 6-21 6-22 5-24 6-25 6-26 6-27 5-29 6-29 6-29 6-30 6-30 5-30 6-28 6-28 6-27 5-25 6-23 6-21 6-19 5-17 6-15 6-11 6-10 5-6 6-4 6-1 6 1 6 3 5 6 6 8 6 11 6 12 5 15 6 16 6 18 6 19 5 20 6 22 6 22 6 22 6 23 5 22 6 22 6 22 6 21 5 19 6 19 6 17 6 15 5 15 6 12 6 11 6 10 5 7 6 7 6 5 6 4 6 3 5 2 6 1 6 0 6-1 5-1 6-1 6-2 6-2 5-2 6-3 6-3 0 5z"/></g><g transform="translate(350.6 383.1)scale(.1)"><path d="M0 0l0-8 6-5 6-5 5-5 6-6 6-6 6-6 5-6 6-7 6-7 6-8 5-8 6-9 6-9 6-11 5-11 6-12 6-14 6-14 6-16 5-17 6-18 6-20 6-21 5-22 6-24 6-25 6-25 5-27 6-28 6-28 6-28 6-29 5-28 6-27 6-27 6-25 5-25 6-22 6-21 6-18 5-16 6-15 6-11 6-9 5-7 6-4 6-2 6 1 6 3 5 6 6 8 6 9 6 12 5 14 6 15 6 17 6 18 5 19 6 21 6 20 6 22 6 21 5 21 6 21 6 20 6 19 5 19 6 17 6 16 6 14 5 13 6 12 6 10 6 8 5 7 6 6 6 5 6 3 6 3 5 1 6 1 6 0 6-1 5-1 6-2 6-2 6-2 5-2 6-3 6-3 0 5z"/></g><g transform="translate(351 383.5)scale(.1)"><path d="M0 0l0-8 6-5 6-5 5-5 6-5 6-6 6-6 5-6 6-7 6-7 6-7 5-8 6-9 6-9 6-10 5-11 6-12 6-12 6-14 6-15 5-16 6-17 6-19 6-20 5-21 6-22 6-23 6-25 5-25 6-26 6-27 6-27 6-27 5-26 6-27 6-25 6-24 5-24 6-21 6-20 6-18 5-16 6-13 6-12 6-9 5-7 6-4 6-2 6 1 6 3 5 5 6 7 6 9 6 11 5 13 6 14 6 16 6 17 5 19 6 18 6 20 6 20 6 20 5 20 6 19 6 19 6 18 5 17 6 16 6 14 6 14 5 12 6 10 6 9 6 8 5 6 6 6 6 4 6 2 6 2 5 2 6 0 6 0 6-1 5-1 6-2 6-2 6-3 5-2 6-3 6-3 0 5z"/></g><g transform="translate(351.3 383.9)scale(.1)"><path d="M0 0l0-8 6-4 6-5 5-6 6-5 6-6 6-5 5-7 6-6 6-7 6-7 5-8 6-8 6-9 6-10 5-10 6-11 6-12 6-13 6-14 5-15 6-17 6-17 6-19 5-20 6-21 6-22 6-23 5-24 6-24 6-25 6-26 6-25 5-26 6-24 6-25 6-23 5-22 6-21 6-19 6-17 5-15 6-14 6-11 6-9 5-6 6-5 6-2 6 0 6 3 5 4 6 7 6 8 6 11 5 12 6 13 6 15 6 16 5 17 6 18 6 18 6 19 6 19 5 18 6 18 6 17 6 17 5 16 6 14 6 14 6 12 5 11 6 9 6 8 6 7 5 6 6 5 6 3 6 3 6 1 5 1 6 0 6 0 6-1 5-2 6-2 6-2 6-2 5-3 6-3 6-3 0 5z"/></g><g transform="translate(351.6 384.2)scale(.1)"><path d="M0 0l0-7 6-5 6-5 5-5 6-6 6-5 6-6 5-6 6-6 6-7 6-7 5-7 6-8 6-9 6-9 5-10 6-11 6-11 6-12 6-14 5-14 6-15 6-17 6-17 5-19 6-20 6-21 6-21 5-23 6-23 6-24 6-23 6-24 5-24 6-24 6-23 6-22 5-21 6-20 6-18 6-17 5-14 6-13 6-11 6-9 5-6 6-5 6-2 6 0 6 2 5 4 6 6 6 8 6 9 5 12 6 12 6 14 6 15 5 16 6 16 6 17 6 18 6 17 5 17 6 17 6 16 6 15 5 14 6 14 6 12 6 11 5 10 6 8 6 8 6 6 5 5 6 4 6 3 6 2 6 1 5 0 6 0 6-1 6-1 5-1 6-2 6-3 6-2 5-3 6-3 6-2 0 4z"/></g><g transform="translate(352 384.6)scale(.1)"><path d="M0 0l0-7 6-5 6-5 5-5 6-5 6-5 6-6 5-6 6-6 6-7 6-7 5-7 6-8 6-8 6-9 5-9 6-10 6-11 6-12 6-12 5-14 6-14 6-16 6-16 5-18 6-18 6-20 6-20 5-21 6-22 6-22 6-23 6-22 5-23 6-22 6-22 6-21 5-20 6-18 6-18 6-16 5-14 6-12 6-11 6-8 5-7 6-4 6-3 6 0 6 1 5 4 6 5 6 8 6 8 5 11 6 12 6 12 6 14 5 15 6 15 6 16 6 16 6 16 5 15 6 16 6 14 6 14 5 13 6 13 6 11 6 10 5 8 6 8 6 6 6 6 5 4 6 4 6 2 6 2 6 0 5 1 6-1 6-1 6-1 5-2 6-2 6-2 6-3 5-3 6-2 6-3 0 4z"/></g><g transform="translate(352.3 385)scale(.1)"><path d="M0 0l0-7 6-5 6-5 5-4 6-6 6-5 6-6 5-5 6-6 6-7 6-6 5-7 6-8 6-8 6-8 5-9 6-10 6-10 6-11 6-12 5-13 6-14 6-14 6-16 5-16 6-18 6-18 6-19 5-20 6-20 6-21 6-21 6-21 5-21 6-21 6-20 6-20 5-19 6-18 6-16 6-16 5-13 6-12 6-10 6-9 5-6 6-5 6-2 6-1 6 1 5 4 6 4 6 7 6 8 5 9 6 11 6 12 6 13 5 13 6 14 6 15 6 14 6 15 5 14 6 14 6 14 6 12 5 12 6 11 6 10 6 9 5 8 6 6 6 6 6 5 5 3 6 3 6 2 6 1 6 1 5 0 6-1 6-1 6-2 5-1 6-3 6-2 6-3 5-2 6-3 6-3 0 4z"/></g><g transform="translate(352.6 385.3)scale(.1)"><path d="M0 0l0-7 6-4 6-5 5-5 6-5 6-5 6-6 5-6 6-5 6-7 6-6 5-7 6-7 6-8 6-8 5-9 6-9 6-10 6-10 6-11 5-13 6-12 6-14 6-15 5-15 6-16 6-17 6-18 5-18 6-19 6-20 6-20 6-19 5-20 6-20 6-19 6-19 5-18 6-16 6-16 6-15 5-13 6-11 6-10 6-8 5-6 6-5 6-2 6-1 6 1 5 2 6 5 6 5 6 8 5 8 6 10 6 11 6 12 5 12 6 13 6 13 6 13 6 14 5 13 6 12 6 12 6 12 5 10 6 10 6 9 6 8 5 7 6 6 6 5 6 4 5 3 6 2 6 1 6 1 6 0 5 0 6-1 6-1 6-2 5-2 6-2 6-3 6-2 5-3 6-3 6-3 0 4z"/></g><g transform="translate(352.9 385.7)scale(.1)"><path d="M0 0l0-7 6-4 6-5 5-5 6-5 6-5 6-5 5-6 6-6 6-6 6-6 5-7 6-7 6-7 6-8 5-8 6-9 6-9 6-10 6-11 5-11 6-12 6-13 6-14 5-14 6-15 6-16 6-17 5-17 6-18 6-18 6-18 6-19 5-19 6-18 6-18 6-17 5-17 6-16 6-15 6-14 5-12 6-11 6-9 6-8 6-6 5-5 6-3 6-1 6 1 5 2 6 4 6 5 6 7 5 7 6 9 6 10 6 11 5 11 6 12 6 11 6 12 6 12 5 12 6 12 6 10 6 11 5 9 6 9 6 8 6 6 5 6 6 6 6 4 6 3 5 3 6 1 6 1 6 1 6 0 5-1 6-1 6-2 6-1 5-3 6-2 6-2 6-3 5-3 6-3 6-3 0 4z"/></g><g transform="translate(353.3 386.1)scale(.1)"><path d="M0 0l0-6 6-5 6-5 5-4 6-5 6-5 6-6 5-5 6-6 6-6 6-6 5-6 6-7 6-7 6-8 5-8 6-8 6-9 6-10 6-10 5-10 6-12 6-12 6-13 5-13 6-14 6-15 6-15 5-17 6-16 6-17 6-17 6-17 5-18 6-17 6-17 6-16 5-16 6-15 6-14 6-13 5-12 6-10 6-9 6-7 5-6 6-5 6-3 6-1 6 0 5 2 6 3 6 5 6 6 5 6 6 8 6 9 6 10 5 10 6 10 6 11 6 11 6 11 5 10 6 10 6 10 6 9 5 8 6 8 6 7 6 6 5 5 6 4 6 4 6 2 5 2 6 2 6 0 6 0 6 0 5-1 6-1 6-2 6-2 5-2 6-3 6-2 6-3 5-3 6-3 6-3 0 4z"/></g><g transform="translate(353.6 386.5)scale(.1)"><path d="M0 0l0-6 6-5 6-4 5-5 6-5 6-5 6-5 5-6 6-5 6-6 6-6 5-6 6-7 6-7 6-7 5-7 6-9 6-8 6-9 6-10 5-10 6-10 6-12 6-12 5-12 6-14 6-13 6-15 5-15 6-15 6-16 6-16 6-16 5-16 6-16 6-16 6-15 5-15 6-14 6-13 6-12 5-11 6-10 6-9 6-7 5-6 6-4 6-3 6-2 6 0 5 2 6 2 6 4 6 5 5 6 6 7 6 8 6 9 5 9 6 9 6 10 6 9 6 10 5 9 6 9 6 9 6 7 5 8 6 6 6 6 6 5 5 5 6 3 6 3 6 2 5 2 6 1 6 0 6 0 6-1 5-1 6-2 6-1 6-2 5-3 6-2 6-3 6-3 5-3 6-3 6-3 0 4z"/></g><g transform="translate(353.9 386.8)scale(.1)"><path d="M0 0l0-6 6-4 6-5 5-5 6-5 6-5 6-5 5-5 6-5 6-6 6-6 5-6 6-6 6-7 6-7 5-7 6-8 6-8 6-9 6-9 5-9 6-10 6-11 6-11 5-12 6-12 6-13 6-14 5-14 6-14 6-14 6-15 6-15 5-15 6-15 6-15 6-14 5-14 6-13 6-13 6-11 5-10 6-10 6-8 6-7 5-6 6-4 6-3 6-2 6 0 5 1 6 2 6 3 6 5 5 5 6 6 6 7 6 8 5 8 6 8 6 8 6 9 6 8 5 8 6 8 6 8 6 7 5 6 6 6 6 5 6 4 5 4 6 2 6 3 6 1 5 1 6 1 6 0 6-1 6-1 5-1 6-2 6-2 6-2 5-2 6-3 6-3 6-2 5-3 6-4 6-3 0 4z"/></g><g transform="translate(354.3 387.2)scale(.1)"><path d="M0 0l0-6 6-4 6-5 5-4 6-5 6-5 6-5 5-5 6-6 6-5 6-6 5-6 6-6 6-6 6-7 5-7 6-8 6-7 6-9 6-8 5-9 6-10 6-10 6-10 5-11 6-12 6-12 6-12 5-13 6-14 6-13 6-14 6-14 5-14 6-14 6-13 6-14 5-12 6-13 6-11 6-11 5-10 6-9 6-8 6-6 5-6 6-4 6-3 6-2 6-1 5 1 6 2 6 2 6 4 5 5 6 5 6 6 6 6 5 7 6 8 6 7 6 7 6 8 5 7 6 7 6 6 6 6 5 5 6 5 6 4 6 4 5 3 6 2 6 2 6 1 5 1 6 0 6-1 6-1 6-1 5-1 6-2 6-2 6-2 5-3 6-3 6-2 6-3 5-3 6-3 6-4 0 4z"/></g><g transform="translate(354.6 387.6)scale(.1)"><path d="M0 0l0-6 6-4 6-4 5-5 6-5 6-5 6-5 5-5 6-5 6-5 6-6 5-6 6-6 6-6 6-7 5-6 6-7 6-8 6-8 6-8 5-8 6-9 6-10 6-10 5-10 6-11 6-11 6-12 5-12 6-12 6-13 6-12 6-13 5-13 6-13 6-13 6-12 5-12 6-12 6-11 6-10 5-9 6-8 6-8 6-6 5-6 6-4 6-3 6-2 6-1 5 0 6 2 6 2 6 3 5 4 6 4 6 6 6 5 5 6 6 6 6 7 6 6 6 6 5 7 6 5 6 6 6 5 5 4 6 4 6 4 6 3 5 2 6 2 6 1 6 0 5 1 6-1 6 0 6-1 6-2 5-2 6-1 6-3 6-2 5-3 6-2 6-3 6-3 5-3 6-3 6-3 0 3z"/></g><g transform="translate(354.9 387.9)scale(.1)"><path d="M0 0l0-5 6-5 6-4 5-5 6-4 6-5 6-5 5-5 6-5 6-6 6-5 5-6 6-6 6-6 6-6 5-7 6-6 6-8 6-7 6-8 5-8 6-8 6-9 6-10 5-9 6-10 6-11 6-11 5-11 6-11 6-12 6-12 6-12 5-12 6-12 6-12 6-11 5-11 6-11 6-10 6-10 5-8 6-8 6-7 6-7 5-5 6-4 6-3 6-2 6-1 5 0 6 0 6 2 6 3 5 3 6 4 6 4 6 5 5 5 6 5 6 5 6 6 6 5 5 5 6 5 6 5 6 4 5 4 6 3 6 3 6 2 5 2 6 1 6 0 6 1 5 0 6-1 6-1 6-1 6-2 5-2 6-2 6-2 6-3 5-2 6-3 6-3 6-3 5-3 6-3 6-3 0 3z"/></g><g transform="translate(355.2 388.3)scale(.1)"><path d="M0 0l0-5 6-4 6-5 5-4 6-5 6-5 6-5 5-5 6-5 6-5 6-5 5-6 6-5 6-6 6-7 5-6 6-6 6-7 6-7 6-8 5-8 6-8 6-8 6-9 5-9 6-9 6-10 6-10 5-11 6-10 6-11 6-11 6-11 5-12 6-11 6-11 6-10 5-11 6-10 6-9 6-9 5-8 6-8 6-7 6-5 5-5 6-5 6-3 6-2 6-1 5-1 6 1 6 1 6 2 5 2 6 3 6 4 6 4 5 4 6 5 6 4 6 5 6 4 5 4 6 4 6 4 6 4 5 3 6 2 6 2 6 2 5 1 6 1 6 0 6 0 5-1 6-1 6-1 6-1 6-2 5-2 6-2 6-3 6-2 5-3 6-3 6-3 6-3 5-3 6-3 6-3 0 3z"/></g><g transform="translate(355.6 388.7)scale(.1)"><path d="M0 0l0-5 6-4 6-5 5-4 6-5 6-4 6-5 5-5 6-5 6-5 6-5 5-6 6-5 6-6 6-6 5-6 6-7 6-6 6-7 6-7 5-8 6-7 6-8 6-8 5-9 6-9 6-9 6-10 5-9 6-10 6-10 6-11 6-10 5-10 6-11 6-10 6-10 5-9 6-10 6-9 6-8 5-8 6-7 6-6 6-6 5-5 6-4 6-3 6-2 6-2 5 0 6 0 6 0 6 2 5 2 6 2 6 3 6 3 5 4 6 3 6 4 6 4 6 3 5 4 6 3 6 3 6 3 5 2 6 2 6 1 6 1 5 1 6 0 6 0 6 0 5-1 6-1 6-2 6-1 6-2 5-2 6-3 6-2 6-3 5-3 6-3 6-2 6-4 5-3 6-3 6-3 0 3z"/></g><g transform="translate(355.9 389.1)scale(.1)"><path d="M0 0l0-5 6-4 6-4 5-5 6-4 6-5 6-5 5-4 6-5 6-5 6-6 5-5 6-5 6-6 6-6 5-6 6-6 6-6 6-7 6-7 5-7 6-7 6-8 6-7 5-8 6-9 6-8 6-9 5-9 6-10 6-9 6-10 6-9 5-10 6-9 6-10 6-9 5-9 6-9 6-8 6-8 5-7 6-7 6-6 6-5 5-5 6-4 6-3 6-3 6-1 5-1 6-1 6 0 6 1 5 2 6 2 6 2 6 2 5 3 6 3 6 3 6 3 6 3 5 2 6 3 6 2 6 2 5 2 6 1 6 1 6 1 5 0 6 0 6-1 6-1 5-1 6-1 6-2 6-1 6-3 5-2 6-2 6-3 6-3 5-2 6-3 6-3 6-3 5-3 6-4 6-3 0 3z"/></g><g transform="translate(356.2 389.4)scale(.1)"><path d="M0 0l0-5 6-4 6-4 5-5 6-4 6-5 6-4 5-5 6-5 6-5 6-5 5-5 6-5 6-6 6-6 5-5 6-6 6-6 6-7 6-6 5-7 6-7 6-7 6-8 5-7 6-8 6-8 6-9 5-8 6-9 6-9 6-8 6-9 5-9 6-9 6-9 6-9 5-8 6-8 6-8 6-7 5-7 6-7 6-5 6-6 5-4 6-4 6-3 6-3 6-2 5-1 6-1 6 0 6 1 5 1 6 1 6 1 6 2 5 2 6 3 6 2 6 2 6 2 5 2 6 2 6 2 6 1 5 1 6 1 6 0 6 1 5-1 6 0 6-1 6-1 5-1 6-2 6-2 6-2 6-2 5-2 6-3 6-2 6-3 5-3 6-3 6-3 6-3 5-3 6-4 6-3 0 3z"/></g><g transform="translate(356.6 389.8)scale(.1)"><path d="M0 0l0-4 6-5 6-4 5-4 6-5 6-4 6-5 5-4 6-5 6-5 6-5 5-5 6-5 6-6 6-5 5-6 6-6 6-6 6-6 6-6 5-7 6-6 6-7 6-7 5-7 6-8 6-8 6-7 5-8 6-9 6-8 6-8 6-8 5-9 6-8 6-8 6-8 5-8 6-8 6-7 6-7 5-7 6-6 6-5 6-5 5-5 6-3 6-4 6-2 6-2 5-2 6-1 6 0 6 0 5 0 6 1 6 1 6 1 5 2 6 1 6 2 6 2 6 1 5 1 6 2 6 1 6 1 5 0 6 0 6 1 6-1 5 0 6-1 6-1 6-1 5-2 6-2 6-2 6-2 6-2 5-3 6-2 6-3 6-3 5-3 6-3 6-3 6-3 5-3 6-3 6-4 0 3z"/></g><g transform="translate(356.9 390.2)scale(.1)"><path d="M0 0l0-4 6-4 6-5 5-4 6-4 6-5 6-4 5-5 6-5 6-5 6-4 5-5 6-6 6-5 6-5 5-6 6-5 6-6 6-6 6-6 5-6 6-7 6-6 6-7 5-7 6-7 6-7 6-8 5-7 6-8 6-8 6-7 6-8 5-8 6-8 6-8 6-7 5-7 6-8 6-6 6-7 5-6 6-6 6-5 6-5 5-4 6-4 6-3 6-3 6-2 5-2 6-1 6-1 6 0 5 0 6 0 6 1 6 0 5 1 6 1 6 1 6 1 6 1 5 1 6 1 6 0 6 1 5 0 6 0 6-1 6 0 5-1 6-1 6-2 6-1 5-2 6-2 6-2 6-2 6-3 5-2 6-3 6-3 6-3 5-2 6-4 6-3 6-3 5-3 6-3 6-4 0 3z"/></g><g transform="translate(357.2 390.6)scale(.1)"><path d="M0 0l0-4 6-4 6-4 5-5 6-4 6-4 6-5 5-5 6-4 6-5 6-5 5-5 6-5 6-5 6-5 5-6 6-5 6-6 6-5 6-6 5-6 6-6 6-7 6-6 5-7 6-7 6-6 6-7 5-7 6-8 6-7 6-7 6-8 5-7 6-7 6-8 6-7 5-7 6-6 6-7 6-6 5-6 6-5 6-5 6-5 5-4 6-4 6-3 6-3 6-2 5-2 6-1 6-2 6 0 5-1 6 0 6 0 6 0 5 1 6 0 6 1 6 0 6 1 5 0 6 0 6 0 6 0 5 0 6 0 6-1 6-1 5-1 6-2 6-1 6-2 5-2 6-2 6-2 6-3 6-2 5-3 6-2 6-3 6-3 5-3 6-3 6-3 6-4 5-3 6-3 0 3z"/></g><g transform="translate(357.6 390.9)scale(.1)"><path d="M0 0l0-4 6-4 6-4 5-4 6-5 6-4 6-5 5-4 6-5 6-4 6-5 5-5 6-5 6-5 6-5 5-5 6-6 6-5 6-6 6-6 5-5 6-6 6-6 6-7 5-6 6-6 6-7 6-6 5-7 6-7 6-7 6-7 6-7 5-7 6-7 6-6 6-7 5-7 6-6 6-6 6-6 5-5 6-6 6-4 6-5 5-4 6-4 6-3 6-3 6-2 5-2 6-2 6-1 6-1 5-1 6-1 6 0 6 0 5 0 6 0 6 0 6 0 6 0 5 0 6-1 6 0 6 0 5-1 6-1 6-1 6-1 5-1 6-2 6-2 6-2 5-2 6-2 6-2 6-3 6-3 5-2 6-3 6-3 6-3 5-3 6-3 6-3 6-3 5-4 6-3 0 3z"/></g><g transform="translate(357.9 391.3)scale(.1)"><path d="M0 0l0-4 6-4 6-4 5-4 6-4 6-5 6-4 5-5 6-4 6-5 6-5 5-4 6-5 6-5 6-5 5-5 6-6 6-5 6-5 6-6 5-6 6-5 6-6 6-6 5-6 6-6 6-7 6-6 5-6 6-7 6-6 6-7 6-6 5-7 6-6 6-7 6-6 5-6 6-6 6-6 6-6 5-5 6-5 6-5 6-4 6-4 5-4 6-3 6-3 6-2 5-3 6-2 6-1 6-1 5-2 6 0 6-1 6-1 5 0 6-1 6 0 6 0 6-1 5 0 6-1 6-1 6 0 5-1 6-2 6-1 6-1 5-2 6-2 6-2 6-2 5-2 6-2 6-3 6-2 6-3 5-3 6-3 6-3 6-3 5-3 6-3 6-3 6-3 5-4 6-3 0 3z"/></g><g transform="translate(358.2 391.7)scale(.1)"><path d="M0 0l0-3 6-5 6-4 5-4 6-4 6-4 6-5 5-4 6-5 6-4 6-5 5-5 6-5 6-4 6-5 5-5 6-5 6-6 6-5 6-5 5-6 6-5 6-6 6-6 5-6 6-6 6-6 6-6 5-6 6-6 6-6 6-6 6-7 5-6 6-6 6-6 6-6 5-6 6-6 6-5 6-5 5-5 6-5 6-5 6-4 5-4 6-4 6-3 6-3 6-3 5-2 6-2 6-2 6-1 5-2 6-1 6-1 6-1 5-1 6 0 6-1 6-1 6-1 5-1 6-1 6-1 6-1 5-1 6-1 6-2 6-2 5-1 6-2 6-3 6-2 5-2 6-3 6-2 6-3 6-3 5-2 6-3 6-3 6-3 5-4 6-3 6-3 6-3 5-3 0 2z"/></g><g transform="translate(358.5 392)scale(.1)"><path d="M0 0l0-3 6-4 6-4 5-5 6-4 6-4 6-5 5-4 6-4 6-5 6-4 5-5 6-5 6-5 6-4 5-5 6-5 6-6 6-5 6-5 5-5 6-6 6-5 6-6 5-5 6-6 6-6 6-6 5-6 6-5 6-6 6-6 6-6 5-6 6-6 6-6 6-6 5-5 6-6 6-5 6-5 5-5 6-4 6-5 6-4 5-4 6-3 6-4 6-3 6-3 5-2 6-2 6-2 6-2 5-2 6-1 6-2 6-1 5-1 6-1 6-1 6-1 6-1 5-1 6-2 6-1 6-1 5-2 6-2 6-1 6-2 5-2 6-2 6-3 6-2 5-2 6-3 6-3 6-2 6-3 5-3 6-3 6-3 6-3 5-3 6-3 6-4 6-3 5-3 0 2z"/></g><g transform="translate(358.9 392.4)scale(.1)"><path d="M0 0l0-3 6-4 6-4 5-4 6-5 6-4 6-4 5-5 6-4 6-4 6-5 5-5 6-4 6-5 6-5 5-5 6-4 6-5 6-6 6-5 5-5 6-5 6-5 6-6 5-5 6-6 6-5 6-6 5-6 6-5 6-6 6-6 6-5 5-6 6-6 6-5 6-6 5-5 6-5 6-5 6-5 5-5 6-4 6-5 6-4 5-3 6-4 6-3 6-3 6-3 5-3 6-2 6-2 6-2 5-2 6-2 6-2 6-1 5-2 6-1 6-1 6-2 6-1 5-1 6-2 6-2 6-1 5-2 6-2 6-2 6-2 5-2 6-2 6-3 6-2 5-3 6-2 6-3 6-3 6-3 5-3 6-3 6-3 6-3 5-3 6-3 6-4 6-3 0 3z"/></g><g transform="translate(359.2 392.8)scale(.1)"><path d="M0 0l0-3 6-4 6-4 5-4 6-4 6-5 6-4 5-4 6-5 6-4 6-4 5-5 6-5 6-4 6-5 5-5 6-5 6-4 6-5 6-5 5-6 6-5 6-5 6-5 5-5 6-6 6-5 6-6 5-5 6-5 6-6 6-5 6-6 5-5 6-6 6-5 6-5 5-5 6-5 6-5 6-5 5-4 6-5 6-4 6-4 5-4 6-3 6-4 6-3 6-3 5-2 6-3 6-2 6-3 5-2 6-1 6-2 6-2 5-2 6-1 6-2 6-2 6-1 5-2 6-2 6-1 6-2 5-2 6-2 6-2 6-3 5-2 6-2 6-3 6-2 5-3 6-3 6-3 6-2 6-3 5-3 6-3 6-3 6-4 5-3 6-3 6-3 6-4 0 3z"/></g><g transform="translate(359.5 393.2)scale(.1)"><path d="M0 0l0-3 6-4 6-4 5-4 6-4 6-4 6-5 5-4 6-4 6-5 6-4 5-4 6-5 6-5 6-4 5-5 6-5 6-4 6-5 6-5 5-5 6-5 6-5 6-5 5-6 6-5 6-5 6-5 5-6 6-5 6-5 6-5 6-6 5-5 6-5 6-5 6-5 5-5 6-5 6-5 6-4 5-5 6-4 6-4 6-4 5-4 6-3 6-4 6-3 6-3 5-3 6-2 6-3 6-2 5-2 6-2 6-2 6-2 5-2 6-2 6-2 6-2 6-2 5-2 6-2 6-2 6-2 5-2 6-2 6-2 6-2 5-3 6-2 6-3 6-3 5-2 6-3 6-3 6-3 6-3 5-3 6-3 6-3 6-3 5-4 6-3 6-3 6-4 0 3z"/></g><g transform="translate(359.9 393.5)scale(.1)"><path d="M0 0l0-3 6-4 6-4 5-4 6-4 6-4 6-4 5-4 6-5 6-4 6-4 5-5 6-4 6-5 6-4 5-5 6-5 6-5 6-4 6-5 5-5 6-5 6-5 6-5 5-5 6-5 6-5 6-5 5-5 6-5 6-6 6-5 6-5 5-5 6-5 6-5 6-5 5-4 6-5 6-5 6-4 5-5 6-4 6-4 6-4 5-3 6-4 6-3 6-3 6-3 5-3 6-3 6-3 6-2 5-3 6-2 6-2 6-2 5-2 6-2 6-2 6-2 6-2 5-2 6-3 6-2 6-2 5-2 6-3 6-2 6-2 5-3 6-3 6-2 6-3 5-3 6-3 6-3 6-3 6-3 5-3 6-3 6-3 6-3 5-3 6-4 6-3 0 3z"/></g><g transform="translate(360.2 393.9)scale(.1)"><path d="M6 -4l0-2 6-4 5-5 6-4 6-4 6-4 5-4 6-4 6-5 6-4 5-4 6-5 6-4 6-5 5-4 6-5 6-5 6-4 6-5 5-5 6-5 6-5 6-5 5-4 6-5 6-5 6-5 5-5 6-5 6-5 6-5 6-5 5-5 6-5 6-5 6-4 5-5 6-5 6-4 6-5 5-4 6-4 6-4 6-4 5-3 6-4 6-3 6-3 6-4 5-3 6-2 6-3 6-3 5-2 6-3 6-2 6-2 5-3 6-2 6-2 6-2 6-2 5-3 6-2 6-2 6-3 5-2 6-2 6-3 6-2 5-3 6-3 6-3 6-2 5-3 6-3 6-3 6-3 6-3 5-3 6-4 6-3 6-3 5-3 6-4 6-3 0 3z"/></g><g transform="translate(360.5 394.3)scale(.1)"><path d="M6 -4l0-2 6-4 5-4 6-4 6-5 6-4 5-4 6-4 6-4 6-5 5-4 6-4 6-5 6-4 5-5 6-4 6-5 6-5 6-4 5-5 6-5 6-4 6-5 5-5 6-5 6-5 6-5 5-4 6-5 6-5 6-5 6-5 5-5 6-4 6-5 6-5 5-4 6-5 6-4 6-4 5-4 6-4 6-4 6-4 5-4 6-3 6-4 6-3 6-3 5-3 6-3 6-3 6-3 5-2 6-3 6-2 6-3 5-2 6-2 6-3 6-2 6-3 5-2 6-2 6-3 6-2 5-3 6-2 6-3 6-3 5-2 6-3 6-3 6-3 5-3 6-3 6-3 6-3 6-3 5-3 6-3 6-3 6-4 5-3 6-3 0 2z"/></g><g transform="translate(360.8 394.6)scale(.1)"><path d="M12 -7l0-3 5-4 6-4 6-4 6-4 5-5 6-4 6-4 6-4 5-4 6-5 6-4 6-5 5-4 6-5 6-4 6-5 6-4 5-5 6-5 6-4 6-5 5-5 6-4 6-5 6-5 5-5 6-4 6-5 6-5 6-5 5-4 6-5 6-4 6-5 5-4 6-5 6-4 6-4 5-4 6-4 6-4 6-4 5-4 6-3 6-4 6-3 6-3 5-3 6-3 6-3 6-3 5-3 6-2 6-3 6-2 5-3 6-2 6-3 6-2 6-3 5-2 6-3 6-2 6-3 5-3 6-2 6-3 6-3 5-3 6-2 6-3 6-3 5-3 6-3 6-3 6-3 6-4 5-3 6-3 6-3 6-4 5-3 6-3 0 2z"/></g><g transform="translate(361.2 395)scale(.1)"><path d="M12 -7l0-3 5-4 6-4 6-4 6-4 5-4 6-4 6-5 6-4 5-4 6-4 6-5 6-4 5-4 6-5 6-4 6-5 6-4 5-5 6-5 6-4 6-5 5-4 6-5 6-5 6-4 5-5 6-5 6-4 6-5 6-5 5-4 6-5 6-4 6-5 5-4 6-4 6-4 6-5 5-4 6-4 6-3 6-4 5-4 6-3 6-4 6-3 6-3 5-3 6-3 6-3 6-3 5-3 6-3 6-3 6-2 5-3 6-3 6-2 6-3 6-2 5-3 6-3 6-2 6-3 5-3 6-2 6-3 6-3 5-3 6-3 6-3 6-3 5-3 6-3 6-3 6-3 6-3 5-3 6-4 6-3 6-3 5-4 0 3z"/></g><g transform="translate(361.5 395.4)scale(.1)"><path d="M17 -11l0-3 6-4 6-4 6-4 5-4 6-4 6-4 6-4 5-5 6-4 6-4 6-5 5-4 6-4 6-5 6-4 6-5 5-4 6-5 6-4 6-5 5-4 6-5 6-4 6-5 5-5 6-4 6-5 6-4 6-5 5-4 6-5 6-4 6-4 5-5 6-4 6-4 6-4 5-4 6-4 6-4 6-4 5-3 6-4 6-3 6-4 6-3 5-3 6-3 6-3 6-3 5-3 6-3 6-3 6-2 5-3 6-3 6-3 6-2 6-3 5-3 6-2 6-3 6-3 5-3 6-3 6-2 6-3 5-3 6-3 6-3 6-3 5-3 6-3 6-4 6-3 6-3 5-3 6-4 6-3 6-3 5-4 0 3z"/></g><g transform="translate(361.8 395.8)scale(.1)"><path d="M23 -15l0-3 6-4 6-4 5-4 6-4 6-4 6-4 5-4 6-4 6-5 6-4 5-4 6-5 6-4 6-4 6-5 5-4 6-5 6-4 6-5 5-4 6-5 6-4 6-5 5-4 6-5 6-4 6-5 6-4 5-5 6-4 6-4 6-4 5-5 6-4 6-4 6-4 5-4 6-4 6-4 6-3 5-4 6-3 6-4 6-3 6-4 5-3 6-3 6-3 6-3 5-3 6-3 6-3 6-3 5-3 6-2 6-3 6-3 6-3 5-3 6-2 6-3 6-3 5-3 6-3 6-3 6-3 5-3 6-3 6-3 6-3 5-3 6-3 6-3 6-3 6-4 5-3 6-3 6-4 6-3 0 3z"/></g><g transform="translate(362.2 396.1)scale(.1)"><path d="M23 -15l0-2 6-4 6-4 5-4 6-5 6-4 6-4 5-4 6-4 6-4 6-4 5-5 6-4 6-4 6-5 6-4 5-4 6-5 6-4 6-5 5-4 6-5 6-4 6-5 5-4 6-4 6-5 6-4 6-5 5-4 6-4 6-4 6-5 5-4 6-4 6-4 6-4 5-4 6-4 6-4 6-3 5-4 6-3 6-4 6-3 6-4 5-3 6-3 6-3 6-3 5-3 6-3 6-3 6-3 5-3 6-3 6-3 6-3 6-3 5-2 6-3 6-3 6-3 5-3 6-3 6-3 6-3 5-3 6-3 6-3 6-3 5-4 6-3 6-3 6-3 6-3 5-4 6-3 6-3 0 2z"/></g><g transform="translate(362.5 396.5)scale(.1)"><path d="M29 -18l0-3 6-4 5-4 6-4 6-4 6-4 5-5 6-4 6-4 6-4 5-4 6-5 6-4 6-4 6-4 5-5 6-4 6-4 6-5 5-4 6-5 6-4 6-4 5-5 6-4 6-4 6-5 6-4 5-4 6-5 6-4 6-4 5-4 6-4 6-4 6-4 5-4 6-4 6-4 6-3 5-4 6-3 6-4 6-3 6-4 5-3 6-3 6-3 6-4 5-3 6-3 6-3 6-3 5-3 6-3 6-3 6-3 6-3 5-2 6-3 6-3 6-3 5-3 6-3 6-3 6-3 5-4 6-3 6-3 6-3 5-3 6-3 6-4 6-3 6-3 5-4 6-3 6-3 0 2z"/></g><g transform="translate(362.8 396.9)scale(.1)"><path d="M29 -18l0-3 6-4 5-4 6-4 6-4 6-4 5-4 6-4 6-4 6-5 5-4 6-4 6-4 6-4 6-5 5-4 6-4 6-5 6-4 5-4 6-5 6-4 6-4 5-5 6-4 6-4 6-5 6-4 5-4 6-4 6-4 6-4 5-5 6-4 6-4 6-3 5-4 6-4 6-4 6-4 6-3 5-4 6-3 6-4 6-3 5-3 6-4 6-3 6-3 5-3 6-3 6-3 6-3 5-4 6-3 6-3 6-3 6-3 5-3 6-3 6-3 6-3 5-3 6-3 6-3 6-3 5-3 6-3 6-3 6-4 5-3 6-3 6-3 6-4 6-3 5-3 6-4 0 3z"/></g><g transform="translate(363.2 397.2)scale(.1)"><path d="M35 -22l0-3 5-4 6-4 6-4 6-4 5-4 6-4 6-4 6-4 5-4 6-4 6-5 6-4 6-4 5-4 6-5 6-4 6-4 5-4 6-5 6-4 6-4 5-5 6-4 6-4 6-4 6-5 5-4 6-4 6-4 6-4 5-4 6-4 6-4 6-4 5-4 6-4 6-3 6-4 5-4 6-3 6-4 6-3 6-4 5-3 6-3 6-3 6-4 5-3 6-3 6-3 6-3 5-3 6-3 6-4 6-3 6-3 5-3 6-3 6-3 6-3 5-3 6-3 6-3 6-3 5-4 6-3 6-3 6-3 5-3 6-4 6-3 6-3 6-4 5-3 0 3z"/></g><g transform="translate(363.5 397.6)scale(.1)"><path d="M40 -26l0-3 6-4 6-4 6-4 5-4 6-4 6-4 6-4 5-4 6-4 6-4 6-4 6-5 5-4 6-4 6-4 6-4 5-5 6-4 6-4 6-4 5-5 6-4 6-4 6-4 6-4 5-5 6-4 6-4 6-4 5-4 6-4 6-4 6-4 5-3 6-4 6-4 6-4 5-3 6-4 6-3 6-4 6-3 5-4 6-3 6-3 6-3 5-4 6-3 6-3 6-3 5-3 6-3 6-4 6-3 6-3 5-3 6-3 6-3 6-3 5-3 6-4 6-3 6-3 5-3 6-3 6-4 6-3 5-3 6-3 6-4 6-3 6-4 5-3 0 3z"/></g><g transform="translate(363.8 398)scale(.1)"><path d="M46 -29l0-3 6-4 6-4 5-4 6-4 6-4 6-4 5-4 6-5 6-4 6-4 6-4 5-4 6-4 6-5 6-4 5-4 6-4 6-4 6-5 5-4 6-4 6-4 6-4 6-4 5-4 6-4 6-5 6-4 5-3 6-4 6-4 6-4 5-4 6-4 6-3 6-4 5-4 6-3 6-4 6-3 6-4 5-3 6-4 6-3 6-3 5-4 6-3 6-3 6-3 5-3 6-4 6-3 6-3 6-3 5-3 6-3 6-3 6-4 5-3 6-3 6-3 6-3 5-4 6-3 6-3 6-4 5-3 6-3 6-4 6-3 6-3 0 2z"/></g><g transform="translate(364.1 398.4)scale(.1)"><path d="M46 -29l0-3 6-4 6-4 5-4 6-4 6-4 6-4 5-4 6-4 6-4 6-4 6-4 5-5 6-4 6-4 6-4 5-4 6-4 6-5 6-4 5-4 6-4 6-4 6-4 6-4 5-4 6-4 6-4 6-4 5-4 6-4 6-4 6-4 5-4 6-4 6-3 6-4 5-4 6-3 6-4 6-3 6-4 5-3 6-3 6-4 6-3 5-3 6-4 6-3 6-3 5-3 6-4 6-3 6-3 6-3 5-3 6-4 6-3 6-3 5-3 6-4 6-3 6-3 5-3 6-4 6-3 6-3 5-4 6-3 6-3 6-4 0 3z"/></g><g transform="translate(364.5 398.7)scale(.1)"><path d="M52 -33l0-3 6-4 5-4 6-4 6-4 6-4 5-4 6-4 6-4 6-4 6-4 5-4 6-4 6-4 6-4 5-5 6-4 6-4 6-4 5-4 6-4 6-4 6-4 6-4 5-4 6-4 6-4 6-4 5-4 6-4 6-4 6-4 5-4 6-3 6-4 6-4 5-3 6-4 6-4 6-3 6-4 5-3 6-3 6-4 6-3 5-3 6-4 6-3 6-3 5-4 6-3 6-3 6-3 6-4 5-3 6-3 6-3 6-4 5-3 6-3 6-3 6-4 5-3 6-3 6-4 6-3 5-3 6-4 6-3 0 3z"/></g><g transform="translate(364.8 399.1)scale(.1)"><path d="M58 -37l0-3 5-3 6-4 6-4 6-4 5-4 6-4 6-4 6-4 6-5 5-4 6-4 6-4 6-4 5-4 6-4 6-4 6-4 5-4 6-4 6-4 6-4 6-4 5-4 6-4 6-4 6-4 5-4 6-4 6-4 6-4 5-4 6-3 6-4 6-4 5-3 6-4 6-3 6-4 6-4 5-3 6-3 6-4 6-3 5-4 6-3 6-3 6-4 5-3 6-3 6-3 6-4 6-3 5-3 6-3 6-4 6-3 5-3 6-4 6-3 6-3 5-4 6-3 6-3 6-4 5-3 6-3 6-4 0 3z"/></g><g transform="translate(365.1 399.5)scale(.1)"><path d="M63 -40l0-3 6-4 6-4 6-4 5-4 6-4 6-4 6-4 6-4 5-4 6-4 6-4 6-4 5-4 6-4 6-4 6-4 5-5 6-4 6-4 6-4 6-4 5-4 6-4 6-3 6-4 5-4 6-4 6-4 6-4 5-4 6-3 6-4 6-4 5-3 6-4 6-3 6-4 6-4 5-3 6-3 6-4 6-3 5-4 6-3 6-3 6-4 5-3 6-3 6-4 6-3 6-3 5-4 6-3 6-3 6-4 5-3 6-3 6-4 6-3 5-3 6-4 6-3 6-3 5-4 6-3 0 2z"/></g><g transform="translate(365.5 399.8)scale(.1)"><path d="M69 -44l0-3 6-4 6-4 5-4 6-4 6-4 6-4 6-4 5-4 6-4 6-4 6-4 5-4 6-4 6-4 6-4 5-4 6-4 6-4 6-4 6-4 5-4 6-4 6-4 6-4 5-3 6-4 6-4 6-4 5-4 6-3 6-4 6-4 5-3 6-4 6-4 6-3 6-4 5-3 6-4 6-3 6-3 5-4 6-3 6-4 6-3 5-3 6-4 6-3 6-3 6-4 5-3 6-3 6-4 6-3 5-3 6-4 6-3 6-4 5-3 6-3 6-4 6-3 5-4 0 3z"/></g><g transform="translate(365.8 400.2)scale(.1)"><path d="M75 -48l0-3 6-4 5-3 6-4 6-4 6-4 6-4 5-4 6-4 6-4 6-4 5-4 6-4 6-4 6-4 5-4 6-4 6-4 6-4 6-4 5-4 6-4 6-4 6-4 5-4 6-3 6-4 6-4 5-4 6-3 6-4 6-4 5-4 6-3 6-4 6-3 6-4 5-3 6-4 6-3 6-4 5-3 6-4 6-3 6-3 5-4 6-3 6-3 6-4 6-3 5-4 6-3 6-3 6-4 5-3 6-3 6-4 6-3 5-4 6-3 6-3 6-4 0 3z"/></g><g transform="translate(366.1 400.6)scale(.1)"><path d="M81 -51l0-3 5-4 6-4 6-4 6-4 6-4 5-4 6-4 6-4 6-4 5-4 6-4 6-4 6-4 5-4 6-4 6-4 6-3 6-4 5-4 6-4 6-4 6-4 5-4 6-4 6-3 6-4 5-4 6-4 6-3 6-4 5-4 6-3 6-4 6-3 6-4 5-4 6-3 6-4 6-3 5-3 6-4 6-3 6-4 5-3 6-4 6-3 6-3 6-4 5-3 6-3 6-4 6-3 5-4 6-3 6-3 6-4 5-3 6-4 6-3 0 3z"/></g><g transform="translate(366.4 401)scale(.1)"><path d="M86 -55l0-3 6-4 6-4 6-4 6-4 5-4 6-4 6-3 6-4 5-4 6-4 6-4 6-4 5-4 6-4 6-4 6-4 6-4 5-4 6-4 6-3 6-4 5-4 6-4 6-4 6-3 5-4 6-4 6-4 6-3 5-4 6-4 6-3 6-4 6-3 5-4 6-3 6-4 6-3 5-4 6-3 6-4 6-3 5-4 6-3 6-3 6-4 6-3 5-4 6-3 6-3 6-4 5-3 6-4 6-3 6-4 5-3 6-4 0 3z"/></g><g transform="translate(366.8 401.3)scale(.1)"><path d="M92 -59l0-3 6-4 6-3 6-4 5-4 6-4 6-4 6-4 5-4 6-4 6-4 6-4 5-4 6-4 6-3 6-4 6-4 5-4 6-4 6-4 6-4 5-3 6-4 6-4 6-4 5-3 6-4 6-4 6-4 5-3 6-4 6-3 6-4 6-4 5-3 6-4 6-3 6-4 5-3 6-4 6-3 6-4 5-3 6-4 6-3 6-3 6-4 5-3 6-4 6-3 6-4 5-3 6-3 6-4 6-3 5-4 0 3z"/></g><g transform="translate(367.1 401.7)scale(.1)"><path d="M98 -63l0-2 6-4 6-4 5-4 6-4 6-4 6-4 5-4 6-3 6-4 6-4 5-4 6-4 6-4 6-4 6-4 5-4 6-3 6-4 6-4 5-4 6-4 6-3 6-4 5-4 6-4 6-3 6-4 5-4 6-3 6-4 6-3 6-4 5-4 6-3 6-4 6-3 5-4 6-3 6-4 6-3 5-4 6-3 6-4 6-3 6-3 5-4 6-3 6-4 6-3 5-4 6-3 6-4 0 3z"/></g></g><path d="M327.6 357.1L326.1 358.1M327.6 337.7L326.1 338.7M327.6 318.3L326.1 319.3M327.6 298.9L326.1 299.9M327.6 279.5L326.1 280.5M327.6 260.1L326.1 261.1M367.1 401.7L365.6 402.7M367.1 401.7L368.3 403M347.4 379.4L345.8 380.4M393.1 385.1L394.2 386.5M327.6 357.1L326.1 358.1M419 368.6L420.2 369.9" stroke="#777" stroke-width=".6" fill="none"/><g style="font-family:'Liberation Sans',Arial,sans-serif" font-size="7" fill="#404040"><text x="325.6" y="358.4" text-anchor="end">0</text><text x="325.6" y="339" text-anchor="end">0.2</text><text x="325.6" y="319.6" text-anchor="end">0.4</text><text x="325.6" y="300.2" text-anchor="end">0.6</text><text x="325.6" y="280.8" text-anchor="end">0.8</text><text x="325.6" y="261.4" text-anchor="end">1</text><text x="325.1" y="366.6" text-anchor="end">40</text><text x="344.9" y="388.9" text-anchor="end">0</text><text x="364.6" y="411.2" text-anchor="end">-40</text><text x="369.6" y="411">-40</text><text x="395.6" y="394.4">0</text><text x="421.5" y="377.9">40</text></g><g clip-path="url(#cd)"><g filter="url(#jd)" shape-rendering="crispEdges"><rect x="449" y="265" width="100" height="100" fill="#000"/><path fill="#010101" d="M473 265h2v2h-2zM475 265h2v2h-2zM477 265h2v2h-2zM479 265h2v2h-2zM481 265h2v2h-2zM483 265h2v2h-2zM485 265h2v2h-2zM487 265h2v2h-2zM489 265h2v2h-2zM491 265h2v2h-2zM493 265h2v2h-2zM495 265h2v2h-2zM497 265h2v2h-2zM499 265h2v2h-2zM501 265h2v2h-2zM503 265h2v2h-2zM505 265h2v2h-2zM507 265h2v2h-2zM509 265h2v2h-2zM511 265h2v2h-2zM513 265h2v2h-2zM515 265h2v2h-2zM517 265h2v2h-2zM519 265h2v2h-2zM521 265h2v2h-2zM469 267h2v2h-2zM471 267h2v2h-2zM473 267h2v2h-2zM475 267h2v2h-2zM477 267h2v2h-2zM479 267h2v2h-2zM481 267h2v2h-2zM483 267h2v2h-2zM511 267h2v2h-2zM513 267h2v2h-2zM515 267h2v2h-2zM517 267h2v2h-2zM519 267h2v2h-2zM521 267h2v2h-2zM523 267h2v2h-2zM525 267h2v2h-2zM467 269h2v2h-2zM469 269h2v2h-2zM471 269h2v2h-2zM473 269h2v2h-2zM475 269h2v2h-2zM477 269h2v2h-2zM517 269h2v2h-2zM519 269h2v2h-2zM521 269h2v2h-2zM523 269h2v2h-2zM525 269h2v2h-2zM527 269h2v2h-2zM465 271h2v2h-2zM467 271h2v2h-2zM469 271h2v2h-2zM471 271h2v2h-2zM473 271h2v2h-2zM521 271h2v2h-2zM523 271h2v2h-2zM525 271h2v2h-2zM527 271h2v2h-2zM529 271h2v2h-2zM531 271h2v2h-2zM461 273h2v2h-2zM463 273h2v2h-2zM465 273h2v2h-2zM467 273h2v2h-2zM469 273h2v2h-2zM525 273h2v2h-2zM527 273h2v2h-2zM529 273h2v2h-2zM531 273h2v2h-2zM533 273h2v2h-2zM459 275h2v2h-2zM461 275h2v2h-2zM463 275h2v2h-2zM465 275h2v2h-2zM467 275h2v2h-2zM527 275h2v2h-2zM529 275h2v2h-2zM531 275h2v2h-2zM533 275h2v2h-2zM535 275h2v2h-2zM457 277h2v2h-2zM459 277h2v2h-2zM461 277h2v2h-2zM463 277h2v2h-2zM465 277h2v2h-2zM531 277h2v2h-2zM533 277h2v2h-2zM535 277h2v2h-2zM537 277h2v2h-2zM455 279h2v2h-2zM457 279h2v2h-2zM459 279h2v2h-2zM461 279h2v2h-2zM533 279h2v2h-2zM535 279h2v2h-2zM537 279h2v2h-2zM539 279h2v2h-2zM455 281h2v2h-2zM457 281h2v2h-2zM459 281h2v2h-2zM461 281h2v2h-2zM535 281h2v2h-2zM537 281h2v2h-2zM539 281h2v2h-2zM541 281h2v2h-2zM453 283h2v2h-2zM455 283h2v2h-2zM457 283h2v2h-2zM459 283h2v2h-2zM537 283h2v2h-2zM539 283h2v2h-2zM541 283h2v2h-2zM451 285h2v2h-2zM453 285h2v2h-2zM455 285h2v2h-2zM457 285h2v2h-2zM537 285h2v2h-2zM539 285h2v2h-2zM541 285h2v2h-2zM543 285h2v2h-2zM451 287h2v2h-2zM453 287h2v2h-2zM455 287h2v2h-2zM539 287h2v2h-2zM541 287h2v2h-2zM543 287h2v2h-2zM545 287h2v2h-2zM449 289h2v2h-2zM451 289h2v2h-2zM453 289h2v2h-2zM541 289h2v2h-2zM543 289h2v2h-2zM545 289h2v2h-2zM449 291h2v2h-2zM451 291h2v2h-2zM453 291h2v2h-2zM541 291h2v2h-2zM543 291h2v2h-2zM545 291h2v2h-2zM547 291h2v2h-2zM449 293h2v2h-2zM451 293h2v2h-2zM543 293h2v2h-2zM545 293h2v2h-2zM547 293h2v2h-2zM449 295h2v2h-2zM451 295h2v2h-2zM543 295h2v2h-2zM545 295h2v2h-2zM547 295h2v2h-2zM449 297h2v2h-2zM451 297h2v2h-2zM545 297h2v2h-2zM547 297h2v2h-2zM449 299h2v2h-2zM545 299h2v2h-2zM547 299h2v2h-2zM449 301h2v2h-2zM545 301h2v2h-2zM547 301h2v2h-2zM449 303h2v2h-2zM547 303h2v2h-2zM547 305h2v2h-2zM547 307h2v2h-2zM547 309h2v2h-2zM547 311h2v2h-2zM547 313h2v2h-2zM547 315h2v2h-2zM547 317h2v2h-2zM547 319h2v2h-2zM547 321h2v2h-2zM547 323h2v2h-2zM547 325h2v2h-2zM449 327h2v2h-2zM547 327h2v2h-2zM449 329h2v2h-2zM545 329h2v2h-2zM547 329h2v2h-2zM449 331h2v2h-2zM545 331h2v2h-2zM547 331h2v2h-2zM449 333h2v2h-2zM451 333h2v2h-2zM545 333h2v2h-2zM547 333h2v2h-2zM449 335h2v2h-2zM451 335h2v2h-2zM543 335h2v2h-2zM545 335h2v2h-2zM547 335h2v2h-2zM449 337h2v2h-2zM451 337h2v2h-2zM453 337h2v2h-2zM543 337h2v2h-2zM545 337h2v2h-2zM547 337h2v2h-2zM449 339h2v2h-2zM451 339h2v2h-2zM453 339h2v2h-2zM541 339h2v2h-2zM543 339h2v2h-2zM545 339h2v2h-2zM547 339h2v2h-2zM449 341h2v2h-2zM451 341h2v2h-2zM453 341h2v2h-2zM455 341h2v2h-2zM541 341h2v2h-2zM543 341h2v2h-2zM545 341h2v2h-2zM451 343h2v2h-2zM453 343h2v2h-2zM455 343h2v2h-2zM539 343h2v2h-2zM541 343h2v2h-2zM543 343h2v2h-2zM451 345h2v2h-2zM453 345h2v2h-2zM455 345h2v2h-2zM457 345h2v2h-2zM537 345h2v2h-2zM539 345h2v2h-2zM541 345h2v2h-2zM543 345h2v2h-2zM453 347h2v2h-2zM455 347h2v2h-2zM457 347h2v2h-2zM459 347h2v2h-2zM535 347h2v2h-2zM537 347h2v2h-2zM539 347h2v2h-2zM541 347h2v2h-2zM455 349h2v2h-2zM457 349h2v2h-2zM459 349h2v2h-2zM461 349h2v2h-2zM533 349h2v2h-2zM535 349h2v2h-2zM537 349h2v2h-2zM539 349h2v2h-2zM457 351h2v2h-2zM459 351h2v2h-2zM461 351h2v2h-2zM463 351h2v2h-2zM531 351h2v2h-2zM533 351h2v2h-2zM535 351h2v2h-2zM537 351h2v2h-2zM539 351h2v2h-2zM459 353h2v2h-2zM461 353h2v2h-2zM463 353h2v2h-2zM465 353h2v2h-2zM529 353h2v2h-2zM531 353h2v2h-2zM533 353h2v2h-2zM535 353h2v2h-2zM537 353h2v2h-2zM461 355h2v2h-2zM463 355h2v2h-2zM465 355h2v2h-2zM467 355h2v2h-2zM527 355h2v2h-2zM529 355h2v2h-2zM531 355h2v2h-2zM533 355h2v2h-2zM535 355h2v2h-2zM463 357h2v2h-2zM465 357h2v2h-2zM467 357h2v2h-2zM469 357h2v2h-2zM471 357h2v2h-2zM523 357h2v2h-2zM525 357h2v2h-2zM527 357h2v2h-2zM529 357h2v2h-2zM531 357h2v2h-2zM533 357h2v2h-2zM465 359h2v2h-2zM467 359h2v2h-2zM469 359h2v2h-2zM471 359h2v2h-2zM473 359h2v2h-2zM475 359h2v2h-2zM521 359h2v2h-2zM523 359h2v2h-2zM525 359h2v2h-2zM527 359h2v2h-2zM529 359h2v2h-2zM467 361h2v2h-2zM469 361h2v2h-2zM471 361h2v2h-2zM473 361h2v2h-2zM475 361h2v2h-2zM477 361h2v2h-2zM479 361h2v2h-2zM515 361h2v2h-2zM517 361h2v2h-2zM519 361h2v2h-2zM521 361h2v2h-2zM523 361h2v2h-2zM525 361h2v2h-2zM527 361h2v2h-2zM471 363h2v2h-2zM473 363h2v2h-2zM475 363h2v2h-2zM477 363h2v2h-2zM479 363h2v2h-2zM481 363h2v2h-2zM483 363h2v2h-2zM485 363h2v2h-2zM487 363h2v2h-2zM509 363h2v2h-2zM511 363h2v2h-2zM513 363h2v2h-2zM515 363h2v2h-2zM517 363h2v2h-2zM519 363h2v2h-2zM521 363h2v2h-2zM523 363h2v2h-2z"/><path fill="#020202" d="M485 267h2v2h-2zM487 267h2v2h-2zM489 267h2v2h-2zM491 267h2v2h-2zM493 267h2v2h-2zM495 267h2v2h-2zM497 267h2v2h-2zM499 267h2v2h-2zM501 267h2v2h-2zM503 267h2v2h-2zM505 267h2v2h-2zM507 267h2v2h-2zM509 267h2v2h-2zM479 269h2v2h-2zM481 269h2v2h-2zM483 269h2v2h-2zM485 269h2v2h-2zM487 269h2v2h-2zM507 269h2v2h-2zM509 269h2v2h-2zM511 269h2v2h-2zM513 269h2v2h-2zM515 269h2v2h-2zM475 271h2v2h-2zM477 271h2v2h-2zM479 271h2v2h-2zM481 271h2v2h-2zM515 271h2v2h-2zM517 271h2v2h-2zM519 271h2v2h-2zM471 273h2v2h-2zM473 273h2v2h-2zM475 273h2v2h-2zM519 273h2v2h-2zM521 273h2v2h-2zM523 273h2v2h-2zM469 275h2v2h-2zM471 275h2v2h-2zM473 275h2v2h-2zM523 275h2v2h-2zM525 275h2v2h-2zM467 277h2v2h-2zM469 277h2v2h-2zM525 277h2v2h-2zM527 277h2v2h-2zM529 277h2v2h-2zM463 279h2v2h-2zM465 279h2v2h-2zM467 279h2v2h-2zM529 279h2v2h-2zM531 279h2v2h-2zM463 281h2v2h-2zM465 281h2v2h-2zM531 281h2v2h-2zM533 281h2v2h-2zM461 283h2v2h-2zM463 283h2v2h-2zM533 283h2v2h-2zM535 283h2v2h-2zM459 285h2v2h-2zM461 285h2v2h-2zM535 285h2v2h-2zM457 287h2v2h-2zM459 287h2v2h-2zM535 287h2v2h-2zM537 287h2v2h-2zM455 289h2v2h-2zM457 289h2v2h-2zM537 289h2v2h-2zM539 289h2v2h-2zM455 291h2v2h-2zM457 291h2v2h-2zM539 291h2v2h-2zM453 293h2v2h-2zM455 293h2v2h-2zM539 293h2v2h-2zM541 293h2v2h-2zM453 295h2v2h-2zM455 295h2v2h-2zM541 295h2v2h-2zM453 297h2v2h-2zM541 297h2v2h-2zM543 297h2v2h-2zM451 299h2v2h-2zM453 299h2v2h-2zM543 299h2v2h-2zM451 301h2v2h-2zM543 301h2v2h-2zM451 303h2v2h-2zM543 303h2v2h-2zM545 303h2v2h-2zM449 305h2v2h-2zM451 305h2v2h-2zM543 305h2v2h-2zM545 305h2v2h-2zM449 307h2v2h-2zM451 307h2v2h-2zM545 307h2v2h-2zM449 309h2v2h-2zM451 309h2v2h-2zM545 309h2v2h-2zM449 311h2v2h-2zM545 311h2v2h-2zM449 313h2v2h-2zM545 313h2v2h-2zM449 315h2v2h-2zM545 315h2v2h-2zM449 317h2v2h-2zM545 317h2v2h-2zM449 319h2v2h-2zM451 319h2v2h-2zM545 319h2v2h-2zM449 321h2v2h-2zM451 321h2v2h-2zM545 321h2v2h-2zM449 323h2v2h-2zM451 323h2v2h-2zM545 323h2v2h-2zM449 325h2v2h-2zM451 325h2v2h-2zM543 325h2v2h-2zM545 325h2v2h-2zM451 327h2v2h-2zM543 327h2v2h-2zM545 327h2v2h-2zM451 329h2v2h-2zM453 329h2v2h-2zM543 329h2v2h-2zM451 331h2v2h-2zM453 331h2v2h-2zM541 331h2v2h-2zM543 331h2v2h-2zM453 333h2v2h-2zM541 333h2v2h-2zM543 333h2v2h-2zM453 335h2v2h-2zM455 335h2v2h-2zM541 335h2v2h-2zM455 337h2v2h-2zM539 337h2v2h-2zM541 337h2v2h-2zM455 339h2v2h-2zM457 339h2v2h-2zM537 339h2v2h-2zM539 339h2v2h-2zM457 341h2v2h-2zM459 341h2v2h-2zM537 341h2v2h-2zM539 341h2v2h-2zM457 343h2v2h-2zM459 343h2v2h-2zM535 343h2v2h-2zM537 343h2v2h-2zM459 345h2v2h-2zM461 345h2v2h-2zM533 345h2v2h-2zM535 345h2v2h-2zM461 347h2v2h-2zM463 347h2v2h-2zM531 347h2v2h-2zM533 347h2v2h-2zM463 349h2v2h-2zM465 349h2v2h-2zM529 349h2v2h-2zM531 349h2v2h-2zM465 351h2v2h-2zM467 351h2v2h-2zM527 351h2v2h-2zM529 351h2v2h-2zM467 353h2v2h-2zM469 353h2v2h-2zM471 353h2v2h-2zM525 353h2v2h-2zM527 353h2v2h-2zM469 355h2v2h-2zM471 355h2v2h-2zM473 355h2v2h-2zM521 355h2v2h-2zM523 355h2v2h-2zM525 355h2v2h-2zM473 357h2v2h-2zM475 357h2v2h-2zM477 357h2v2h-2zM517 357h2v2h-2zM519 357h2v2h-2zM521 357h2v2h-2zM477 359h2v2h-2zM479 359h2v2h-2zM481 359h2v2h-2zM483 359h2v2h-2zM511 359h2v2h-2zM513 359h2v2h-2zM515 359h2v2h-2zM517 359h2v2h-2zM519 359h2v2h-2zM481 361h2v2h-2zM483 361h2v2h-2zM485 361h2v2h-2zM487 361h2v2h-2zM489 361h2v2h-2zM491 361h2v2h-2zM493 361h2v2h-2zM495 361h2v2h-2zM501 361h2v2h-2zM503 361h2v2h-2zM505 361h2v2h-2zM507 361h2v2h-2zM509 361h2v2h-2zM511 361h2v2h-2zM513 361h2v2h-2zM489 363h2v2h-2zM491 363h2v2h-2zM493 363h2v2h-2zM495 363h2v2h-2zM497 363h2v2h-2zM499 363h2v2h-2zM501 363h2v2h-2zM503 363h2v2h-2zM505 363h2v2h-2zM507 363h2v2h-2z"/><path fill="#030303" d="M489 269h2v2h-2zM491 269h2v2h-2zM493 269h2v2h-2zM495 269h2v2h-2zM497 269h2v2h-2zM499 269h2v2h-2zM501 269h2v2h-2zM503 269h2v2h-2zM505 269h2v2h-2zM483 271h2v2h-2zM485 271h2v2h-2zM487 271h2v2h-2zM489 271h2v2h-2zM507 271h2v2h-2zM509 271h2v2h-2zM511 271h2v2h-2zM513 271h2v2h-2zM477 273h2v2h-2zM479 273h2v2h-2zM481 273h2v2h-2zM513 273h2v2h-2zM515 273h2v2h-2zM517 273h2v2h-2zM475 275h2v2h-2zM477 275h2v2h-2zM519 275h2v2h-2zM521 275h2v2h-2zM471 277h2v2h-2zM473 277h2v2h-2zM521 277h2v2h-2zM523 277h2v2h-2zM469 279h2v2h-2zM525 279h2v2h-2zM527 279h2v2h-2zM467 281h2v2h-2zM527 281h2v2h-2zM529 281h2v2h-2zM465 283h2v2h-2zM529 283h2v2h-2zM531 283h2v2h-2zM463 285h2v2h-2zM531 285h2v2h-2zM533 285h2v2h-2zM461 287h2v2h-2zM533 287h2v2h-2zM459 289h2v2h-2zM461 289h2v2h-2zM535 289h2v2h-2zM459 291h2v2h-2zM535 291h2v2h-2zM537 291h2v2h-2zM457 293h2v2h-2zM537 293h2v2h-2zM457 295h2v2h-2zM539 295h2v2h-2zM455 297h2v2h-2zM539 297h2v2h-2zM455 299h2v2h-2zM539 299h2v2h-2zM541 299h2v2h-2zM453 301h2v2h-2zM455 301h2v2h-2zM541 301h2v2h-2zM453 303h2v2h-2zM541 303h2v2h-2zM453 305h2v2h-2zM541 305h2v2h-2zM453 307h2v2h-2zM541 307h2v2h-2zM543 307h2v2h-2zM453 309h2v2h-2zM543 309h2v2h-2zM451 311h2v2h-2zM453 311h2v2h-2zM543 311h2v2h-2zM451 313h2v2h-2zM453 313h2v2h-2zM543 313h2v2h-2zM451 315h2v2h-2zM543 315h2v2h-2zM451 317h2v2h-2zM453 317h2v2h-2zM543 317h2v2h-2zM453 319h2v2h-2zM543 319h2v2h-2zM453 321h2v2h-2zM543 321h2v2h-2zM453 323h2v2h-2zM541 323h2v2h-2zM543 323h2v2h-2zM453 325h2v2h-2zM541 325h2v2h-2zM453 327h2v2h-2zM541 327h2v2h-2zM455 329h2v2h-2zM541 329h2v2h-2zM455 331h2v2h-2zM539 331h2v2h-2zM455 333h2v2h-2zM539 333h2v2h-2zM457 335h2v2h-2zM537 335h2v2h-2zM539 335h2v2h-2zM457 337h2v2h-2zM459 337h2v2h-2zM537 337h2v2h-2zM459 339h2v2h-2zM535 339h2v2h-2zM461 341h2v2h-2zM533 341h2v2h-2zM535 341h2v2h-2zM461 343h2v2h-2zM463 343h2v2h-2zM533 343h2v2h-2zM463 345h2v2h-2zM465 345h2v2h-2zM531 345h2v2h-2zM465 347h2v2h-2zM467 347h2v2h-2zM529 347h2v2h-2zM467 349h2v2h-2zM469 349h2v2h-2zM527 349h2v2h-2zM469 351h2v2h-2zM471 351h2v2h-2zM523 351h2v2h-2zM525 351h2v2h-2zM473 353h2v2h-2zM475 353h2v2h-2zM521 353h2v2h-2zM523 353h2v2h-2zM475 355h2v2h-2zM477 355h2v2h-2zM479 355h2v2h-2zM517 355h2v2h-2zM519 355h2v2h-2zM479 357h2v2h-2zM481 357h2v2h-2zM483 357h2v2h-2zM511 357h2v2h-2zM513 357h2v2h-2zM515 357h2v2h-2zM485 359h2v2h-2zM487 359h2v2h-2zM489 359h2v2h-2zM491 359h2v2h-2zM493 359h2v2h-2zM495 359h2v2h-2zM497 359h2v2h-2zM499 359h2v2h-2zM501 359h2v2h-2zM503 359h2v2h-2zM505 359h2v2h-2zM507 359h2v2h-2zM509 359h2v2h-2zM497 361h2v2h-2zM499 361h2v2h-2z"/><path fill="#040404" d="M491 271h2v2h-2zM493 271h2v2h-2zM495 271h2v2h-2zM497 271h2v2h-2zM499 271h2v2h-2zM501 271h2v2h-2zM503 271h2v2h-2zM505 271h2v2h-2zM483 273h2v2h-2zM485 273h2v2h-2zM487 273h2v2h-2zM509 273h2v2h-2zM511 273h2v2h-2zM479 275h2v2h-2zM515 275h2v2h-2zM517 275h2v2h-2zM475 277h2v2h-2zM519 277h2v2h-2zM471 279h2v2h-2zM473 279h2v2h-2zM523 279h2v2h-2zM469 281h2v2h-2zM525 281h2v2h-2zM467 283h2v2h-2zM527 283h2v2h-2zM465 285h2v2h-2zM529 285h2v2h-2zM463 287h2v2h-2zM531 287h2v2h-2zM533 289h2v2h-2zM461 291h2v2h-2zM459 293h2v2h-2zM535 293h2v2h-2zM459 295h2v2h-2zM537 295h2v2h-2zM457 297h2v2h-2zM537 297h2v2h-2zM457 299h2v2h-2zM539 301h2v2h-2zM455 303h2v2h-2zM539 303h2v2h-2zM455 305h2v2h-2zM539 305h2v2h-2zM455 307h2v2h-2zM541 309h2v2h-2zM541 311h2v2h-2zM541 313h2v2h-2zM453 315h2v2h-2zM541 315h2v2h-2zM541 317h2v2h-2zM541 319h2v2h-2zM455 321h2v2h-2zM541 321h2v2h-2zM455 323h2v2h-2zM455 325h2v2h-2zM539 325h2v2h-2zM455 327h2v2h-2zM539 327h2v2h-2zM457 329h2v2h-2zM539 329h2v2h-2zM457 331h2v2h-2zM537 331h2v2h-2zM457 333h2v2h-2zM537 333h2v2h-2zM459 335h2v2h-2zM535 335h2v2h-2zM535 337h2v2h-2zM461 339h2v2h-2zM533 339h2v2h-2zM463 341h2v2h-2zM531 341h2v2h-2zM465 343h2v2h-2zM531 343h2v2h-2zM467 345h2v2h-2zM529 345h2v2h-2zM469 347h2v2h-2zM527 347h2v2h-2zM471 349h2v2h-2zM523 349h2v2h-2zM525 349h2v2h-2zM473 351h2v2h-2zM475 351h2v2h-2zM521 351h2v2h-2zM477 353h2v2h-2zM517 353h2v2h-2zM519 353h2v2h-2zM481 355h2v2h-2zM483 355h2v2h-2zM513 355h2v2h-2zM515 355h2v2h-2zM485 357h2v2h-2zM487 357h2v2h-2zM489 357h2v2h-2zM491 357h2v2h-2zM503 357h2v2h-2zM505 357h2v2h-2zM507 357h2v2h-2zM509 357h2v2h-2z"/><path fill="#050505" d="M489 273h2v2h-2zM491 273h2v2h-2zM493 273h2v2h-2zM495 273h2v2h-2zM497 273h2v2h-2zM499 273h2v2h-2zM501 273h2v2h-2zM503 273h2v2h-2zM505 273h2v2h-2zM507 273h2v2h-2zM481 275h2v2h-2zM483 275h2v2h-2zM511 275h2v2h-2zM513 275h2v2h-2zM477 277h2v2h-2zM479 277h2v2h-2zM517 277h2v2h-2zM475 279h2v2h-2zM521 279h2v2h-2zM471 281h2v2h-2zM523 281h2v2h-2zM469 283h2v2h-2zM525 283h2v2h-2zM467 285h2v2h-2zM465 287h2v2h-2zM529 287h2v2h-2zM463 289h2v2h-2zM531 289h2v2h-2zM463 291h2v2h-2zM533 291h2v2h-2zM461 293h2v2h-2zM535 295h2v2h-2zM459 297h2v2h-2zM535 297h2v2h-2zM537 299h2v2h-2zM457 301h2v2h-2zM537 301h2v2h-2zM457 303h2v2h-2zM457 305h2v2h-2zM539 307h2v2h-2zM455 309h2v2h-2zM539 309h2v2h-2zM455 311h2v2h-2zM539 311h2v2h-2zM455 313h2v2h-2zM539 313h2v2h-2zM455 315h2v2h-2zM539 315h2v2h-2zM455 317h2v2h-2zM539 317h2v2h-2zM455 319h2v2h-2zM539 319h2v2h-2zM539 321h2v2h-2zM539 323h2v2h-2zM457 325h2v2h-2zM457 327h2v2h-2zM537 327h2v2h-2zM537 329h2v2h-2zM459 331h2v2h-2zM459 333h2v2h-2zM535 333h2v2h-2zM461 335h2v2h-2zM461 337h2v2h-2zM533 337h2v2h-2zM463 339h2v2h-2zM531 339h2v2h-2zM465 341h2v2h-2zM467 343h2v2h-2zM529 343h2v2h-2zM469 345h2v2h-2zM527 345h2v2h-2zM471 347h2v2h-2zM523 347h2v2h-2zM525 347h2v2h-2zM473 349h2v2h-2zM521 349h2v2h-2zM477 351h2v2h-2zM517 351h2v2h-2zM519 351h2v2h-2zM479 353h2v2h-2zM481 353h2v2h-2zM513 353h2v2h-2zM515 353h2v2h-2zM485 355h2v2h-2zM487 355h2v2h-2zM507 355h2v2h-2zM509 355h2v2h-2zM511 355h2v2h-2zM493 357h2v2h-2zM495 357h2v2h-2zM497 357h2v2h-2zM499 357h2v2h-2zM501 357h2v2h-2z"/><path fill="#060606" d="M485 275h2v2h-2zM487 275h2v2h-2zM507 275h2v2h-2zM509 275h2v2h-2zM481 277h2v2h-2zM515 277h2v2h-2zM477 279h2v2h-2zM519 279h2v2h-2zM473 281h2v2h-2zM521 281h2v2h-2zM471 283h2v2h-2zM469 285h2v2h-2zM527 285h2v2h-2zM467 287h2v2h-2zM465 289h2v2h-2zM531 291h2v2h-2zM533 293h2v2h-2zM461 295h2v2h-2zM533 295h2v2h-2zM459 299h2v2h-2zM535 299h2v2h-2zM459 301h2v2h-2zM537 303h2v2h-2zM537 305h2v2h-2zM457 307h2v2h-2zM537 307h2v2h-2zM457 309h2v2h-2zM457 311h2v2h-2zM457 313h2v2h-2zM457 315h2v2h-2zM457 317h2v2h-2zM457 319h2v2h-2zM457 321h2v2h-2zM537 321h2v2h-2zM457 323h2v2h-2zM537 323h2v2h-2zM537 325h2v2h-2zM459 327h2v2h-2zM459 329h2v2h-2zM535 329h2v2h-2zM535 331h2v2h-2zM461 333h2v2h-2zM533 333h2v2h-2zM533 335h2v2h-2zM463 337h2v2h-2zM531 337h2v2h-2zM465 339h2v2h-2zM467 341h2v2h-2zM529 341h2v2h-2zM527 343h2v2h-2zM471 345h2v2h-2zM525 345h2v2h-2zM473 347h2v2h-2zM475 349h2v2h-2zM519 349h2v2h-2zM479 351h2v2h-2zM515 351h2v2h-2zM483 353h2v2h-2zM485 353h2v2h-2zM511 353h2v2h-2zM489 355h2v2h-2zM491 355h2v2h-2zM493 355h2v2h-2zM495 355h2v2h-2zM497 355h2v2h-2zM499 355h2v2h-2zM501 355h2v2h-2zM503 355h2v2h-2zM505 355h2v2h-2z"/><path fill="#070707" d="M489 275h2v2h-2zM491 275h2v2h-2zM503 275h2v2h-2zM505 275h2v2h-2zM483 277h2v2h-2zM513 277h2v2h-2zM479 279h2v2h-2zM517 279h2v2h-2zM475 281h2v2h-2zM523 283h2v2h-2zM525 285h2v2h-2zM527 287h2v2h-2zM529 289h2v2h-2zM465 291h2v2h-2zM463 293h2v2h-2zM531 293h2v2h-2zM461 297h2v2h-2zM533 297h2v2h-2zM461 299h2v2h-2zM535 301h2v2h-2zM459 303h2v2h-2zM535 303h2v2h-2zM459 305h2v2h-2zM537 309h2v2h-2zM537 311h2v2h-2zM537 313h2v2h-2zM537 315h2v2h-2zM537 317h2v2h-2zM537 319h2v2h-2zM459 323h2v2h-2zM459 325h2v2h-2zM535 327h2v2h-2zM461 331h2v2h-2zM533 331h2v2h-2zM463 335h2v2h-2zM531 335h2v2h-2zM465 337h2v2h-2zM529 339h2v2h-2zM527 341h2v2h-2zM469 343h2v2h-2zM525 343h2v2h-2zM523 345h2v2h-2zM475 347h2v2h-2zM521 347h2v2h-2zM477 349h2v2h-2zM517 349h2v2h-2zM481 351h2v2h-2zM483 351h2v2h-2zM513 351h2v2h-2zM487 353h2v2h-2zM489 353h2v2h-2zM505 353h2v2h-2zM507 353h2v2h-2zM509 353h2v2h-2z"/><path fill="#080808" d="M493 275h2v2h-2zM495 275h2v2h-2zM497 275h2v2h-2zM499 275h2v2h-2zM501 275h2v2h-2zM485 277h2v2h-2zM511 277h2v2h-2zM515 279h2v2h-2zM519 281h2v2h-2zM473 283h2v2h-2zM471 285h2v2h-2zM469 287h2v2h-2zM467 289h2v2h-2zM529 291h2v2h-2zM463 295h2v2h-2zM533 299h2v2h-2zM461 301h2v2h-2zM535 305h2v2h-2zM459 307h2v2h-2zM535 307h2v2h-2zM459 309h2v2h-2zM459 311h2v2h-2zM459 313h2v2h-2zM459 315h2v2h-2zM459 317h2v2h-2zM459 319h2v2h-2zM459 321h2v2h-2zM535 321h2v2h-2zM535 323h2v2h-2zM535 325h2v2h-2zM461 327h2v2h-2zM461 329h2v2h-2zM533 329h2v2h-2zM463 333h2v2h-2zM531 333h2v2h-2zM465 335h2v2h-2zM529 337h2v2h-2zM467 339h2v2h-2zM527 339h2v2h-2zM469 341h2v2h-2zM525 341h2v2h-2zM471 343h2v2h-2zM523 343h2v2h-2zM473 345h2v2h-2zM521 345h2v2h-2zM477 347h2v2h-2zM519 347h2v2h-2zM479 349h2v2h-2zM515 349h2v2h-2zM485 351h2v2h-2zM509 351h2v2h-2zM511 351h2v2h-2zM491 353h2v2h-2zM493 353h2v2h-2zM495 353h2v2h-2zM497 353h2v2h-2zM499 353h2v2h-2zM501 353h2v2h-2zM503 353h2v2h-2z"/><path fill="#090909" d="M487 277h2v2h-2zM509 277h2v2h-2zM481 279h2v2h-2zM477 281h2v2h-2zM521 283h2v2h-2zM523 285h2v2h-2zM527 289h2v2h-2zM465 293h2v2h-2zM531 295h2v2h-2zM463 297h2v2h-2zM533 301h2v2h-2zM461 303h2v2h-2zM461 305h2v2h-2zM535 309h2v2h-2zM535 311h2v2h-2zM535 313h2v2h-2zM535 315h2v2h-2zM535 317h2v2h-2zM535 319h2v2h-2zM461 325h2v2h-2zM533 327h2v2h-2zM463 331h2v2h-2zM531 331h2v2h-2zM529 335h2v2h-2zM467 337h2v2h-2zM469 339h2v2h-2zM473 343h2v2h-2zM475 345h2v2h-2zM517 347h2v2h-2zM481 349h2v2h-2zM513 349h2v2h-2zM487 351h2v2h-2zM507 351h2v2h-2z"/><path fill="#0a0a0a" d="M489 277h2v2h-2zM507 277h2v2h-2zM483 279h2v2h-2zM513 279h2v2h-2zM517 281h2v2h-2zM475 283h2v2h-2zM525 287h2v2h-2zM469 289h2v2h-2zM467 291h2v2h-2zM529 293h2v2h-2zM465 295h2v2h-2zM531 297h2v2h-2zM463 299h2v2h-2zM533 303h2v2h-2zM461 307h2v2h-2zM461 309h2v2h-2zM461 319h2v2h-2zM461 321h2v2h-2zM461 323h2v2h-2zM533 323h2v2h-2zM533 325h2v2h-2zM463 329h2v2h-2zM531 329h2v2h-2zM465 333h2v2h-2zM529 333h2v2h-2zM527 337h2v2h-2zM525 339h2v2h-2zM471 341h2v2h-2zM523 341h2v2h-2zM521 343h2v2h-2zM519 345h2v2h-2zM479 347h2v2h-2zM515 347h2v2h-2zM483 349h2v2h-2zM511 349h2v2h-2zM489 351h2v2h-2zM491 351h2v2h-2zM493 351h2v2h-2zM501 351h2v2h-2zM503 351h2v2h-2zM505 351h2v2h-2z"/><path fill="#0b0b0b" d="M491 277h2v2h-2zM503 277h2v2h-2zM505 277h2v2h-2zM511 279h2v2h-2zM479 281h2v2h-2zM519 283h2v2h-2zM473 285h2v2h-2zM471 287h2v2h-2zM531 299h2v2h-2zM463 301h2v2h-2zM533 305h2v2h-2zM533 307h2v2h-2zM533 309h2v2h-2zM461 311h2v2h-2zM461 313h2v2h-2zM461 315h2v2h-2zM461 317h2v2h-2zM533 319h2v2h-2zM533 321h2v2h-2zM463 327h2v2h-2zM531 327h2v2h-2zM465 331h2v2h-2zM467 335h2v2h-2zM527 335h2v2h-2zM469 337h2v2h-2zM471 339h2v2h-2zM473 341h2v2h-2zM475 343h2v2h-2zM477 345h2v2h-2zM517 345h2v2h-2zM481 347h2v2h-2zM513 347h2v2h-2zM485 349h2v2h-2zM487 349h2v2h-2zM509 349h2v2h-2zM495 351h2v2h-2zM497 351h2v2h-2zM499 351h2v2h-2z"/><path fill="#0c0c0c" d="M493 277h2v2h-2zM495 277h2v2h-2zM497 277h2v2h-2zM499 277h2v2h-2zM501 277h2v2h-2zM485 279h2v2h-2zM515 281h2v2h-2zM477 283h2v2h-2zM527 291h2v2h-2zM467 293h2v2h-2zM529 295h2v2h-2zM465 297h2v2h-2zM531 301h2v2h-2zM463 303h2v2h-2zM463 305h2v2h-2zM533 311h2v2h-2zM533 313h2v2h-2zM533 315h2v2h-2zM533 317h2v2h-2zM463 323h2v2h-2zM463 325h2v2h-2zM531 325h2v2h-2zM465 329h2v2h-2zM529 331h2v2h-2zM467 333h2v2h-2zM525 337h2v2h-2zM523 339h2v2h-2zM521 341h2v2h-2zM519 343h2v2h-2zM479 345h2v2h-2zM483 347h2v2h-2zM489 349h2v2h-2zM505 349h2v2h-2zM507 349h2v2h-2z"/><path fill="#0d0d0d" d="M509 279h2v2h-2zM481 281h2v2h-2zM521 285h2v2h-2zM523 287h2v2h-2zM525 289h2v2h-2zM469 291h2v2h-2zM465 299h2v2h-2zM531 303h2v2h-2zM463 307h2v2h-2zM463 309h2v2h-2zM463 319h2v2h-2zM463 321h2v2h-2zM531 323h2v2h-2zM465 327h2v2h-2zM529 329h2v2h-2zM527 333h2v2h-2zM469 335h2v2h-2zM475 341h2v2h-2zM477 343h2v2h-2zM517 343h2v2h-2zM515 345h2v2h-2zM485 347h2v2h-2zM511 347h2v2h-2zM491 349h2v2h-2zM493 349h2v2h-2zM501 349h2v2h-2zM503 349h2v2h-2z"/><path fill="#0e0e0e" d="M487 279h2v2h-2zM475 285h2v2h-2zM473 287h2v2h-2zM471 289h2v2h-2zM527 293h2v2h-2zM467 295h2v2h-2zM529 297h2v2h-2zM531 305h2v2h-2zM463 311h2v2h-2zM463 313h2v2h-2zM463 315h2v2h-2zM463 317h2v2h-2zM531 319h2v2h-2zM531 321h2v2h-2zM529 327h2v2h-2zM467 331h2v2h-2zM525 335h2v2h-2zM471 337h2v2h-2zM523 337h2v2h-2zM473 339h2v2h-2zM521 339h2v2h-2zM519 341h2v2h-2zM481 345h2v2h-2zM513 345h2v2h-2zM487 347h2v2h-2zM509 347h2v2h-2zM495 349h2v2h-2zM497 349h2v2h-2zM499 349h2v2h-2z"/><path fill="#0f0f0f" d="M507 279h2v2h-2zM513 281h2v2h-2zM517 283h2v2h-2zM465 301h2v2h-2zM531 307h2v2h-2zM531 309h2v2h-2zM531 311h2v2h-2zM531 313h2v2h-2zM531 315h2v2h-2zM531 317h2v2h-2zM465 325h2v2h-2zM467 329h2v2h-2zM527 331h2v2h-2zM469 333h2v2h-2zM479 343h2v2h-2zM515 343h2v2h-2zM483 345h2v2h-2zM489 347h2v2h-2zM507 347h2v2h-2z"/><path fill="#101010" d="M489 279h2v2h-2zM483 281h2v2h-2zM479 283h2v2h-2zM525 291h2v2h-2zM469 293h2v2h-2zM467 297h2v2h-2zM529 299h2v2h-2zM465 303h2v2h-2zM465 305h2v2h-2zM465 321h2v2h-2zM465 323h2v2h-2zM529 325h2v2h-2zM527 329h2v2h-2zM525 333h2v2h-2zM471 335h2v2h-2zM473 337h2v2h-2zM475 339h2v2h-2zM477 341h2v2h-2zM517 341h2v2h-2zM511 345h2v2h-2zM491 347h2v2h-2zM503 347h2v2h-2zM505 347h2v2h-2z"/><path fill="#111111" d="M491 279h2v2h-2zM505 279h2v2h-2zM519 285h2v2h-2zM523 289h2v2h-2zM527 295h2v2h-2zM529 301h2v2h-2zM465 307h2v2h-2zM465 309h2v2h-2zM465 317h2v2h-2zM465 319h2v2h-2zM529 323h2v2h-2zM467 327h2v2h-2zM469 331h2v2h-2zM523 335h2v2h-2zM521 337h2v2h-2zM519 339h2v2h-2zM481 343h2v2h-2zM513 343h2v2h-2zM485 345h2v2h-2zM509 345h2v2h-2zM493 347h2v2h-2zM495 347h2v2h-2zM497 347h2v2h-2zM499 347h2v2h-2zM501 347h2v2h-2z"/><path fill="#121212" d="M493 279h2v2h-2zM503 279h2v2h-2zM511 281h2v2h-2zM515 283h2v2h-2zM477 285h2v2h-2zM521 287h2v2h-2zM471 291h2v2h-2zM467 299h2v2h-2zM529 303h2v2h-2zM465 311h2v2h-2zM465 313h2v2h-2zM465 315h2v2h-2zM529 319h2v2h-2zM529 321h2v2h-2zM467 325h2v2h-2zM527 327h2v2h-2zM525 331h2v2h-2zM471 333h2v2h-2zM479 341h2v2h-2zM487 345h2v2h-2zM507 345h2v2h-2z"/><path fill="#131313" d="M495 279h2v2h-2zM501 279h2v2h-2zM485 281h2v2h-2zM475 287h2v2h-2zM473 289h2v2h-2zM529 305h2v2h-2zM529 307h2v2h-2zM529 309h2v2h-2zM529 311h2v2h-2zM529 313h2v2h-2zM529 315h2v2h-2zM529 317h2v2h-2zM467 323h2v2h-2zM527 325h2v2h-2zM469 329h2v2h-2zM523 333h2v2h-2zM473 335h2v2h-2zM475 337h2v2h-2zM477 339h2v2h-2zM515 341h2v2h-2zM483 343h2v2h-2zM511 343h2v2h-2zM489 345h2v2h-2z"/><path fill="#141414" d="M497 279h2v2h-2zM499 279h2v2h-2zM481 283h2v2h-2zM525 293h2v2h-2zM469 295h2v2h-2zM527 297h2v2h-2zM467 301h2v2h-2zM467 321h2v2h-2zM525 329h2v2h-2zM471 331h2v2h-2zM521 335h2v2h-2zM519 337h2v2h-2zM517 339h2v2h-2zM481 341h2v2h-2zM485 343h2v2h-2zM491 345h2v2h-2zM503 345h2v2h-2zM505 345h2v2h-2z"/><path fill="#151515" d="M509 281h2v2h-2zM467 303h2v2h-2zM467 319h2v2h-2zM527 323h2v2h-2zM469 327h2v2h-2zM523 331h2v2h-2zM473 333h2v2h-2zM479 339h2v2h-2zM513 341h2v2h-2zM509 343h2v2h-2zM493 345h2v2h-2zM495 345h2v2h-2zM501 345h2v2h-2z"/><path fill="#161616" d="M487 281h2v2h-2zM517 285h2v2h-2zM527 299h2v2h-2zM467 305h2v2h-2zM467 307h2v2h-2zM467 309h2v2h-2zM467 311h2v2h-2zM467 313h2v2h-2zM467 315h2v2h-2zM467 317h2v2h-2zM527 321h2v2h-2zM469 325h2v2h-2zM525 327h2v2h-2zM475 335h2v2h-2zM477 337h2v2h-2zM515 339h2v2h-2zM487 343h2v2h-2zM497 345h2v2h-2zM499 345h2v2h-2z"/><path fill="#171717" d="M513 283h2v2h-2zM479 285h2v2h-2zM523 291h2v2h-2zM471 293h2v2h-2zM469 297h2v2h-2zM527 317h2v2h-2zM527 319h2v2h-2zM471 329h2v2h-2zM521 333h2v2h-2zM519 335h2v2h-2zM517 337h2v2h-2zM483 341h2v2h-2zM511 341h2v2h-2zM507 343h2v2h-2z"/><path fill="#181818" d="M507 281h2v2h-2zM483 283h2v2h-2zM519 287h2v2h-2zM521 289h2v2h-2zM527 301h2v2h-2zM527 315h2v2h-2zM469 323h2v2h-2zM525 325h2v2h-2zM523 329h2v2h-2zM473 331h2v2h-2zM481 339h2v2h-2zM489 343h2v2h-2zM505 343h2v2h-2z"/><path fill="#191919" d="M489 281h2v2h-2zM473 291h2v2h-2zM525 295h2v2h-2zM469 299h2v2h-2zM527 303h2v2h-2zM527 309h2v2h-2zM527 311h2v2h-2zM527 313h2v2h-2zM469 321h2v2h-2zM525 323h2v2h-2zM471 327h2v2h-2zM475 333h2v2h-2zM479 337h2v2h-2zM513 339h2v2h-2zM485 341h2v2h-2zM509 341h2v2h-2zM491 343h2v2h-2zM503 343h2v2h-2z"/><path fill="#1a1a1a" d="M477 287h2v2h-2zM475 289h2v2h-2zM527 305h2v2h-2zM527 307h2v2h-2zM469 319h2v2h-2zM523 327h2v2h-2zM521 331h2v2h-2zM519 333h2v2h-2zM477 335h2v2h-2zM515 337h2v2h-2zM493 343h2v2h-2zM495 343h2v2h-2zM499 343h2v2h-2zM501 343h2v2h-2z"/><path fill="#1b1b1b" d="M505 281h2v2h-2zM471 295h2v2h-2zM469 301h2v2h-2zM469 317h2v2h-2zM525 321h2v2h-2zM471 325h2v2h-2zM473 329h2v2h-2zM517 335h2v2h-2zM483 339h2v2h-2zM487 341h2v2h-2zM507 341h2v2h-2zM497 343h2v2h-2z"/><path fill="#1c1c1c" d="M491 281h2v2h-2zM511 283h2v2h-2zM515 285h2v2h-2zM469 313h2v2h-2zM469 315h2v2h-2zM525 319h2v2h-2zM523 325h2v2h-2zM521 329h2v2h-2zM481 337h2v2h-2zM511 339h2v2h-2z"/><path fill="#1d1d1d" d="M503 281h2v2h-2zM485 283h2v2h-2zM481 285h2v2h-2zM523 293h2v2h-2zM525 297h2v2h-2zM469 303h2v2h-2zM469 305h2v2h-2zM469 307h2v2h-2zM469 309h2v2h-2zM469 311h2v2h-2zM525 317h2v2h-2zM471 323h2v2h-2zM475 331h2v2h-2zM477 333h2v2h-2zM479 335h2v2h-2zM513 337h2v2h-2zM489 341h2v2h-2zM505 341h2v2h-2z"/><path fill="#1e1e1e" d="M493 281h2v2h-2zM525 315h2v2h-2zM471 321h2v2h-2zM523 323h2v2h-2zM473 327h2v2h-2zM519 331h2v2h-2zM515 335h2v2h-2zM485 339h2v2h-2zM509 339h2v2h-2zM491 341h2v2h-2zM503 341h2v2h-2z"/><path fill="#1f1f1f" d="M501 281h2v2h-2zM517 287h2v2h-2zM525 313h2v2h-2zM521 327h2v2h-2zM517 333h2v2h-2zM493 341h2v2h-2zM501 341h2v2h-2z"/><path fill="#202020" d="M495 281h2v2h-2zM497 281h2v2h-2zM499 281h2v2h-2zM521 291h2v2h-2zM473 293h2v2h-2zM471 297h2v2h-2zM525 299h2v2h-2zM525 311h2v2h-2zM471 319h2v2h-2zM523 321h2v2h-2zM473 325h2v2h-2zM475 329h2v2h-2zM483 337h2v2h-2zM487 339h2v2h-2zM495 341h2v2h-2zM497 341h2v2h-2zM499 341h2v2h-2z"/><path fill="#212121" d="M509 283h2v2h-2zM479 287h2v2h-2zM519 289h2v2h-2zM471 317h2v2h-2zM519 329h2v2h-2zM477 331h2v2h-2zM481 335h2v2h-2zM511 337h2v2h-2zM507 339h2v2h-2z"/><path fill="#222222" d="M487 283h2v2h-2zM525 301h2v2h-2zM525 309h2v2h-2zM471 315h2v2h-2zM523 319h2v2h-2zM473 323h2v2h-2zM521 325h2v2h-2zM479 333h2v2h-2zM513 335h2v2h-2zM489 339h2v2h-2z"/><path fill="#232323" d="M513 285h2v2h-2zM477 289h2v2h-2zM475 291h2v2h-2zM523 295h2v2h-2zM471 299h2v2h-2zM525 303h2v2h-2zM525 305h2v2h-2zM525 307h2v2h-2zM471 313h2v2h-2zM523 317h2v2h-2zM475 327h2v2h-2zM517 331h2v2h-2zM515 333h2v2h-2zM485 337h2v2h-2zM505 339h2v2h-2z"/><path fill="#242424" d="M471 311h2v2h-2zM473 321h2v2h-2zM521 323h2v2h-2zM509 337h2v2h-2zM491 339h2v2h-2zM503 339h2v2h-2z"/><path fill="#252525" d="M483 285h2v2h-2zM523 315h2v2h-2zM519 327h2v2h-2zM477 329h2v2h-2zM483 335h2v2h-2zM493 339h2v2h-2z"/><path fill="#262626" d="M507 283h2v2h-2zM473 295h2v2h-2zM471 301h2v2h-2zM471 309h2v2h-2zM473 319h2v2h-2zM521 321h2v2h-2zM475 325h2v2h-2zM479 331h2v2h-2zM481 333h2v2h-2zM511 335h2v2h-2zM487 337h2v2h-2zM507 337h2v2h-2zM495 339h2v2h-2zM497 339h2v2h-2zM499 339h2v2h-2zM501 339h2v2h-2z"/><path fill="#272727" d="M489 283h2v2h-2zM471 303h2v2h-2zM471 305h2v2h-2zM471 307h2v2h-2zM523 313h2v2h-2zM517 329h2v2h-2zM515 331h2v2h-2zM513 333h2v2h-2z"/><path fill="#282828" d="M515 287h2v2h-2zM521 293h2v2h-2zM523 297h2v2h-2zM473 317h2v2h-2zM475 323h2v2h-2zM519 325h2v2h-2zM477 327h2v2h-2zM485 335h2v2h-2zM489 337h2v2h-2z"/><path fill="#292929" d="M521 319h2v2h-2zM509 335h2v2h-2zM505 337h2v2h-2z"/><path fill="#2a2a2a" d="M523 311h2v2h-2zM473 315h2v2h-2zM517 327h2v2h-2zM479 329h2v2h-2zM483 333h2v2h-2zM491 337h2v2h-2z"/><path fill="#2b2b2b" d="M505 283h2v2h-2zM511 285h2v2h-2zM481 287h2v2h-2zM517 289h2v2h-2zM519 291h2v2h-2zM475 293h2v2h-2zM521 317h2v2h-2zM475 321h2v2h-2zM519 323h2v2h-2zM481 331h2v2h-2zM511 333h2v2h-2zM503 337h2v2h-2z"/><path fill="#2c2c2c" d="M491 283h2v2h-2zM485 285h2v2h-2zM473 297h2v2h-2zM523 309h2v2h-2zM473 313h2v2h-2zM477 325h2v2h-2zM515 329h2v2h-2zM513 331h2v2h-2zM487 335h2v2h-2zM493 337h2v2h-2zM501 337h2v2h-2z"/><path fill="#2d2d2d" d="M523 299h2v2h-2zM475 319h2v2h-2zM519 321h2v2h-2zM507 335h2v2h-2zM495 337h2v2h-2zM497 337h2v2h-2zM499 337h2v2h-2z"/><path fill="#2e2e2e" d="M479 289h2v2h-2zM477 291h2v2h-2zM523 307h2v2h-2zM473 311h2v2h-2zM521 315h2v2h-2zM517 325h2v2h-2zM479 327h2v2h-2zM485 333h2v2h-2z"/><path fill="#2f2f2f" d="M503 283h2v2h-2zM523 301h2v2h-2zM477 323h2v2h-2zM509 333h2v2h-2zM489 335h2v2h-2zM505 335h2v2h-2z"/><path fill="#303030" d="M493 283h2v2h-2zM521 295h2v2h-2zM523 303h2v2h-2zM523 305h2v2h-2zM475 317h2v2h-2zM519 319h2v2h-2zM515 327h2v2h-2zM481 329h2v2h-2zM483 331h2v2h-2z"/><path fill="#313131" d="M473 299h2v2h-2zM473 309h2v2h-2zM521 313h2v2h-2zM517 323h2v2h-2zM513 329h2v2h-2zM511 331h2v2h-2zM491 335h2v2h-2z"/><path fill="#323232" d="M495 283h2v2h-2zM501 283h2v2h-2zM509 285h2v2h-2zM477 321h2v2h-2zM479 325h2v2h-2zM487 333h2v2h-2zM503 335h2v2h-2z"/><path fill="#333333" d="M497 283h2v2h-2zM499 283h2v2h-2zM513 287h2v2h-2zM473 307h2v2h-2zM475 315h2v2h-2zM507 333h2v2h-2zM493 335h2v2h-2zM501 335h2v2h-2z"/><path fill="#343434" d="M487 285h2v2h-2zM475 295h2v2h-2zM473 301h2v2h-2zM519 317h2v2h-2zM515 325h2v2h-2zM481 327h2v2h-2zM485 331h2v2h-2zM495 335h2v2h-2zM499 335h2v2h-2z"/><path fill="#353535" d="M483 287h2v2h-2zM473 303h2v2h-2zM473 305h2v2h-2zM521 311h2v2h-2zM477 319h2v2h-2zM517 321h2v2h-2zM483 329h2v2h-2zM489 333h2v2h-2zM497 335h2v2h-2z"/><path fill="#363636" d="M519 293h2v2h-2zM475 313h2v2h-2zM479 323h2v2h-2zM513 327h2v2h-2zM509 331h2v2h-2zM505 333h2v2h-2z"/><path fill="#373737" d="M511 329h2v2h-2z"/><path fill="#383838" d="M515 289h2v2h-2zM521 297h2v2h-2zM519 315h2v2h-2zM515 323h2v2h-2zM491 333h2v2h-2z"/><path fill="#393939" d="M517 291h2v2h-2zM521 309h2v2h-2zM477 317h2v2h-2zM517 319h2v2h-2zM481 325h2v2h-2zM487 331h2v2h-2zM503 333h2v2h-2z"/><path fill="#3a3a3a" d="M507 285h2v2h-2zM477 293h2v2h-2zM479 321h2v2h-2zM483 327h2v2h-2zM485 329h2v2h-2zM507 331h2v2h-2zM493 333h2v2h-2z"/><path fill="#3b3b3b" d="M481 289h2v2h-2zM475 311h2v2h-2zM513 325h2v2h-2zM501 333h2v2h-2z"/><path fill="#3c3c3c" d="M489 285h2v2h-2zM475 297h2v2h-2zM511 327h2v2h-2zM509 329h2v2h-2zM489 331h2v2h-2zM495 333h2v2h-2zM497 333h2v2h-2zM499 333h2v2h-2z"/><path fill="#3d3d3d" d="M511 287h2v2h-2zM479 291h2v2h-2zM521 299h2v2h-2zM521 307h2v2h-2zM519 313h2v2h-2zM477 315h2v2h-2zM517 317h2v2h-2zM515 321h2v2h-2zM481 323h2v2h-2zM505 331h2v2h-2z"/><path fill="#3e3e3e" d="M479 319h2v2h-2z"/><path fill="#3f3f3f" d="M475 309h2v2h-2zM483 325h2v2h-2zM487 329h2v2h-2z"/><path fill="#404040" d="M485 287h2v2h-2zM521 301h2v2h-2zM521 305h2v2h-2zM513 323h2v2h-2zM485 327h2v2h-2zM507 329h2v2h-2zM491 331h2v2h-2zM503 331h2v2h-2z"/><path fill="#414141" d="M505 285h2v2h-2zM519 295h2v2h-2zM521 303h2v2h-2z"/><path fill="#424242" d="M491 285h2v2h-2zM475 299h2v2h-2zM515 319h2v2h-2zM481 321h2v2h-2zM511 325h2v2h-2zM509 327h2v2h-2zM493 331h2v2h-2z"/><path fill="#434343" d="M475 307h2v2h-2zM519 311h2v2h-2zM477 313h2v2h-2zM479 317h2v2h-2zM489 329h2v2h-2zM495 331h2v2h-2zM501 331h2v2h-2z"/><path fill="#444444" d="M517 315h2v2h-2zM505 329h2v2h-2zM497 331h2v2h-2zM499 331h2v2h-2z"/><path fill="#454545" d="M513 289h2v2h-2zM513 321h2v2h-2zM483 323h2v2h-2zM487 327h2v2h-2z"/><path fill="#464646" d="M477 295h2v2h-2zM475 301h2v2h-2zM475 305h2v2h-2zM485 325h2v2h-2z"/><path fill="#474747" d="M503 285h2v2h-2zM517 293h2v2h-2zM475 303h2v2h-2zM481 319h2v2h-2zM511 323h2v2h-2zM507 327h2v2h-2zM491 329h2v2h-2z"/><path fill="#484848" d="M493 285h2v2h-2zM509 287h2v2h-2zM515 317h2v2h-2zM509 325h2v2h-2zM503 329h2v2h-2z"/><path fill="#494949" d="M483 289h2v2h-2zM515 291h2v2h-2zM477 311h2v2h-2z"/><path fill="#4a4a4a" d="M519 297h2v2h-2zM519 309h2v2h-2zM479 315h2v2h-2zM483 321h2v2h-2zM489 327h2v2h-2zM493 329h2v2h-2zM501 329h2v2h-2z"/><path fill="#4b4b4b" d="M495 285h2v2h-2zM501 285h2v2h-2zM487 287h2v2h-2zM479 293h2v2h-2zM517 313h2v2h-2zM505 327h2v2h-2zM495 329h2v2h-2z"/><path fill="#4c4c4c" d="M513 319h2v2h-2zM485 323h2v2h-2zM487 325h2v2h-2zM497 329h2v2h-2zM499 329h2v2h-2z"/><path fill="#4d4d4d" d="M497 285h2v2h-2zM499 285h2v2h-2zM481 291h2v2h-2zM511 321h2v2h-2z"/><path fill="#4e4e4e" d="M481 317h2v2h-2zM509 323h2v2h-2zM507 325h2v2h-2zM491 327h2v2h-2z"/><path fill="#4f4f4f" d="M477 297h2v2h-2zM503 327h2v2h-2z"/><path fill="#505050" d="M519 307h2v2h-2zM477 309h2v2h-2z"/><path fill="#515151" d="M519 299h2v2h-2zM515 315h2v2h-2zM483 319h2v2h-2zM489 325h2v2h-2zM493 327h2v2h-2z"/><path fill="#525252" d="M479 313h2v2h-2zM485 321h2v2h-2zM487 323h2v2h-2zM501 327h2v2h-2z"/><path fill="#535353" d="M507 287h2v2h-2zM505 325h2v2h-2zM495 327h2v2h-2zM499 327h2v2h-2z"/><path fill="#545454" d="M511 289h2v2h-2zM519 305h2v2h-2zM517 311h2v2h-2zM513 317h2v2h-2zM497 327h2v2h-2z"/><path fill="#555555" d="M489 287h2v2h-2zM517 295h2v2h-2zM519 301h2v2h-2zM507 323h2v2h-2zM491 325h2v2h-2z"/><path fill="#565656" d="M519 303h2v2h-2zM477 307h2v2h-2zM511 319h2v2h-2zM509 321h2v2h-2z"/><path fill="#575757" d="M485 289h2v2h-2zM477 299h2v2h-2zM481 315h2v2h-2zM503 325h2v2h-2z"/><path fill="#585858" d="M489 323h2v2h-2z"/><path fill="#595959" d="M493 325h2v2h-2z"/><path fill="#5a5a5a" d="M513 291h2v2h-2zM515 293h2v2h-2zM479 295h2v2h-2zM477 305h2v2h-2zM483 317h2v2h-2zM487 321h2v2h-2zM505 323h2v2h-2zM501 325h2v2h-2z"/><path fill="#5b5b5b" d="M477 301h2v2h-2zM479 311h2v2h-2zM515 313h2v2h-2zM485 319h2v2h-2zM495 325h2v2h-2zM499 325h2v2h-2z"/><path fill="#5c5c5c" d="M505 287h2v2h-2zM477 303h2v2h-2zM497 325h2v2h-2z"/><path fill="#5d5d5d" d="M517 309h2v2h-2zM507 321h2v2h-2zM491 323h2v2h-2z"/><path fill="#5e5e5e" d="M491 287h2v2h-2zM483 291h2v2h-2z"/><path fill="#5f5f5f" d="M481 293h2v2h-2zM513 315h2v2h-2zM509 319h2v2h-2zM503 323h2v2h-2z"/><path fill="#606060" d="M517 297h2v2h-2zM511 317h2v2h-2z"/><path fill="#616161" d="M489 321h2v2h-2zM493 323h2v2h-2z"/><path fill="#626262" d="M509 289h2v2h-2zM481 313h2v2h-2z"/><path fill="#636363" d="M503 287h2v2h-2zM501 323h2v2h-2z"/><path fill="#646464" d="M487 289h2v2h-2zM479 309h2v2h-2zM487 319h2v2h-2zM505 321h2v2h-2zM495 323h2v2h-2z"/><path fill="#656565" d="M493 287h2v2h-2zM479 297h2v2h-2zM517 307h2v2h-2zM483 315h2v2h-2zM497 323h2v2h-2zM499 323h2v2h-2z"/><path fill="#666666" d="M485 317h2v2h-2z"/><path fill="#676767" d="M515 311h2v2h-2zM491 321h2v2h-2z"/><path fill="#686868" d="M517 299h2v2h-2z"/><path fill="#696969" d="M495 287h2v2h-2zM501 287h2v2h-2zM507 319h2v2h-2z"/><path fill="#6a6a6a" d="M515 295h2v2h-2zM503 321h2v2h-2z"/><path fill="#6b6b6b" d="M499 287h2v2h-2zM511 291h2v2h-2zM517 305h2v2h-2z"/><path fill="#6c6c6c" d="M497 287h2v2h-2zM479 307h2v2h-2zM509 317h2v2h-2zM493 321h2v2h-2z"/><path fill="#6d6d6d" d="M517 301h2v2h-2zM513 313h2v2h-2zM489 319h2v2h-2z"/><path fill="#6e6e6e" d="M507 289h2v2h-2zM513 293h2v2h-2zM479 299h2v2h-2zM517 303h2v2h-2zM481 311h2v2h-2zM511 315h2v2h-2zM501 321h2v2h-2z"/><path fill="#6f6f6f" d="M485 291h2v2h-2zM481 295h2v2h-2zM495 321h2v2h-2z"/><path fill="#707070" d="M499 321h2v2h-2z"/><path fill="#717171" d="M489 289h2v2h-2zM505 319h2v2h-2zM497 321h2v2h-2z"/><path fill="#727272" d="M483 293h2v2h-2zM479 305h2v2h-2zM487 317h2v2h-2z"/><path fill="#737373" d="M479 301h2v2h-2zM515 309h2v2h-2zM483 313h2v2h-2z"/><path fill="#747474" d="M479 303h2v2h-2zM485 315h2v2h-2z"/><path fill="#757575" d="M491 319h2v2h-2z"/><path fill="#777777" d="M515 297h2v2h-2z"/><path fill="#787878" d="M507 317h2v2h-2zM503 319h2v2h-2z"/><path fill="#797979" d="M505 289h2v2h-2zM481 309h2v2h-2z"/><path fill="#7a7a7a" d="M493 319h2v2h-2z"/><path fill="#7b7b7b" d="M509 291h2v2h-2zM513 311h2v2h-2z"/><path fill="#7c7c7c" d="M491 289h2v2h-2zM489 317h2v2h-2z"/><path fill="#7d7d7d" d="M481 297h2v2h-2zM515 307h2v2h-2zM509 315h2v2h-2zM501 319h2v2h-2z"/><path fill="#7e7e7e" d="M511 313h2v2h-2zM495 319h2v2h-2z"/><path fill="#7f7f7f" d="M487 291h2v2h-2z"/><path fill="#808080" d="M513 295h2v2h-2zM497 319h2v2h-2zM499 319h2v2h-2z"/><path fill="#818181" d="M515 299h2v2h-2z"/><path fill="#828282" d="M503 289h2v2h-2zM511 293h2v2h-2zM483 311h2v2h-2zM487 315h2v2h-2zM505 317h2v2h-2z"/><path fill="#838383" d="M481 307h2v2h-2z"/><path fill="#848484" d="M493 289h2v2h-2zM515 305h2v2h-2z"/><path fill="#858585" d="M483 295h2v2h-2zM485 313h2v2h-2z"/><path fill="#868686" d="M485 293h2v2h-2zM515 301h2v2h-2zM491 317h2v2h-2z"/><path fill="#878787" d="M481 299h2v2h-2zM515 303h2v2h-2z"/><path fill="#888888" d="M501 289h2v2h-2z"/><path fill="#898989" d="M495 289h2v2h-2zM513 309h2v2h-2z"/><path fill="#8a8a8a" d="M507 291h2v2h-2zM481 305h2v2h-2zM503 317h2v2h-2z"/><path fill="#8b8b8b" d="M507 315h2v2h-2z"/><path fill="#8c8c8c" d="M497 289h2v2h-2zM499 289h2v2h-2zM481 301h2v2h-2z"/><path fill="#8d8d8d" d="M489 291h2v2h-2zM493 317h2v2h-2z"/><path fill="#8e8e8e" d="M481 303h2v2h-2z"/><path fill="#8f8f8f" d="M513 297h2v2h-2zM511 311h2v2h-2z"/><path fill="#909090" d="M483 309h2v2h-2zM509 313h2v2h-2zM489 315h2v2h-2zM501 317h2v2h-2z"/><path fill="#929292" d="M495 317h2v2h-2z"/><path fill="#939393" d="M509 293h2v2h-2z"/><path fill="#949494" d="M483 297h2v2h-2zM499 317h2v2h-2z"/><path fill="#959595" d="M511 295h2v2h-2zM513 307h2v2h-2zM497 317h2v2h-2z"/><path fill="#969696" d="M505 291h2v2h-2zM485 311h2v2h-2zM487 313h2v2h-2z"/><path fill="#979797" d="M487 293h2v2h-2zM505 315h2v2h-2z"/><path fill="#999999" d="M491 291h2v2h-2zM513 299h2v2h-2z"/><path fill="#9a9a9a" d="M485 295h2v2h-2z"/><path fill="#9b9b9b" d="M491 315h2v2h-2z"/><path fill="#9c9c9c" d="M483 307h2v2h-2z"/><path fill="#9d9d9d" d="M513 305h2v2h-2z"/><path fill="#9f9f9f" d="M483 299h2v2h-2zM513 301h2v2h-2zM511 309h2v2h-2z"/><path fill="#a0a0a0" d="M503 291h2v2h-2zM513 303h2v2h-2zM507 313h2v2h-2z"/><path fill="#a1a1a1" d="M493 291h2v2h-2zM503 315h2v2h-2z"/><path fill="#a3a3a3" d="M507 293h2v2h-2zM483 305h2v2h-2zM509 311h2v2h-2z"/><path fill="#a4a4a4" d="M493 315h2v2h-2z"/><path fill="#a5a5a5" d="M511 297h2v2h-2zM483 301h2v2h-2zM489 313h2v2h-2z"/><path fill="#a6a6a6" d="M501 291h2v2h-2zM489 293h2v2h-2zM485 309h2v2h-2z"/><path fill="#a7a7a7" d="M495 291h2v2h-2zM483 303h2v2h-2z"/><path fill="#a8a8a8" d="M509 295h2v2h-2zM501 315h2v2h-2z"/><path fill="#a9a9a9" d="M487 311h2v2h-2z"/><path fill="#aaaaaa" d="M497 291h2v2h-2zM499 291h2v2h-2zM485 297h2v2h-2zM495 315h2v2h-2z"/><path fill="#acacac" d="M487 295h2v2h-2zM511 307h2v2h-2zM499 315h2v2h-2z"/><path fill="#adadad" d="M497 315h2v2h-2z"/><path fill="#aeaeae" d="M505 313h2v2h-2z"/><path fill="#b0b0b0" d="M505 293h2v2h-2zM511 299h2v2h-2z"/><path fill="#b2b2b2" d="M491 293h2v2h-2zM491 313h2v2h-2z"/><path fill="#b3b3b3" d="M485 307h2v2h-2z"/><path fill="#b4b4b4" d="M509 309h2v2h-2z"/><path fill="#b5b5b5" d="M485 299h2v2h-2zM511 305h2v2h-2zM507 311h2v2h-2z"/><path fill="#b6b6b6" d="M511 301h2v2h-2z"/><path fill="#b8b8b8" d="M507 295h2v2h-2zM509 297h2v2h-2zM511 303h2v2h-2z"/><path fill="#b9b9b9" d="M503 293h2v2h-2zM503 313h2v2h-2z"/><path fill="#bababa" d="M487 309h2v2h-2zM489 311h2v2h-2z"/><path fill="#bbbbbb" d="M493 293h2v2h-2zM489 295h2v2h-2zM485 305h2v2h-2z"/><path fill="#bcbcbc" d="M487 297h2v2h-2zM485 301h2v2h-2z"/><path fill="#bdbdbd" d="M493 313h2v2h-2z"/><path fill="#bebebe" d="M485 303h2v2h-2z"/><path fill="#c0c0c0" d="M501 293h2v2h-2z"/><path fill="#c1c1c1" d="M495 293h2v2h-2zM501 313h2v2h-2z"/><path fill="#c2c2c2" d="M509 307h2v2h-2z"/><path fill="#c3c3c3" d="M497 293h2v2h-2zM499 293h2v2h-2zM509 299h2v2h-2zM495 313h2v2h-2z"/><path fill="#c4c4c4" d="M505 295h2v2h-2zM505 311h2v2h-2z"/><path fill="#c6c6c6" d="M499 313h2v2h-2z"/><path fill="#c7c7c7" d="M491 295h2v2h-2zM507 309h2v2h-2zM497 313h2v2h-2z"/><path fill="#c8c8c8" d="M507 297h2v2h-2zM487 299h2v2h-2zM487 307h2v2h-2z"/><path fill="#c9c9c9" d="M491 311h2v2h-2z"/><path fill="#cacaca" d="M509 301h2v2h-2zM509 305h2v2h-2z"/><path fill="#cbcbcb" d="M489 297h2v2h-2z"/><path fill="#cccccc" d="M489 309h2v2h-2z"/><path fill="#cdcdcd" d="M503 295h2v2h-2zM509 303h2v2h-2z"/><path fill="#cfcfcf" d="M493 295h2v2h-2zM487 301h2v2h-2z"/><path fill="#d0d0d0" d="M487 305h2v2h-2zM503 311h2v2h-2z"/><path fill="#d2d2d2" d="M487 303h2v2h-2z"/><path fill="#d3d3d3" d="M501 295h2v2h-2zM507 299h2v2h-2z"/><path fill="#d4d4d4" d="M495 295h2v2h-2zM505 297h2v2h-2zM507 307h2v2h-2zM493 311h2v2h-2z"/><path fill="#d6d6d6" d="M499 295h2v2h-2z"/><path fill="#d7d7d7" d="M497 295h2v2h-2zM491 297h2v2h-2zM489 299h2v2h-2zM505 309h2v2h-2z"/><path fill="#d9d9d9" d="M501 311h2v2h-2z"/><path fill="#dadada" d="M489 307h2v2h-2z"/><path fill="#dbdbdb" d="M507 301h2v2h-2zM491 309h2v2h-2zM495 311h2v2h-2z"/><path fill="#dcdcdc" d="M503 297h2v2h-2zM507 305h2v2h-2z"/><path fill="#dedede" d="M493 297h2v2h-2zM507 303h2v2h-2zM497 311h2v2h-2zM499 311h2v2h-2z"/><path fill="#dfdfdf" d="M505 299h2v2h-2zM489 301h2v2h-2z"/><path fill="#e1e1e1" d="M501 297h2v2h-2zM489 305h2v2h-2z"/><path fill="#e2e2e2" d="M491 299h2v2h-2zM489 303h2v2h-2z"/><path fill="#e3e3e3" d="M495 297h2v2h-2zM503 309h2v2h-2z"/><path fill="#e4e4e4" d="M497 297h2v2h-2zM499 297h2v2h-2zM505 307h2v2h-2z"/><path fill="#e6e6e6" d="M493 309h2v2h-2z"/><path fill="#e7e7e7" d="M503 299h2v2h-2zM505 301h2v2h-2z"/><path fill="#e8e8e8" d="M491 307h2v2h-2z"/><path fill="#e9e9e9" d="M493 299h2v2h-2z"/><path fill="#eaeaea" d="M491 301h2v2h-2zM505 305h2v2h-2z"/><path fill="#ebebeb" d="M505 303h2v2h-2zM501 309h2v2h-2z"/><path fill="#ececec" d="M501 299h2v2h-2z"/><path fill="#ededed" d="M495 299h2v2h-2zM495 309h2v2h-2z"/><path fill="#eeeeee" d="M497 299h2v2h-2zM499 299h2v2h-2zM491 303h2v2h-2zM491 305h2v2h-2z"/><path fill="#efefef" d="M503 301h2v2h-2zM503 307h2v2h-2z"/><path fill="#f0f0f0" d="M497 309h2v2h-2zM499 309h2v2h-2z"/><path fill="#f1f1f1" d="M493 301h2v2h-2z"/><path fill="#f2f2f2" d="M493 307h2v2h-2z"/><path fill="#f3f3f3" d="M501 301h2v2h-2z"/><path fill="#f4f4f4" d="M503 303h2v2h-2zM503 305h2v2h-2z"/><path fill="#f5f5f5" d="M495 301h2v2h-2z"/><path fill="#f6f6f6" d="M497 301h2v2h-2zM499 301h2v2h-2zM493 303h2v2h-2z"/><path fill="#f7f7f7" d="M493 305h2v2h-2zM501 307h2v2h-2z"/><path fill="#f8f8f8" d="M495 307h2v2h-2z"/><path fill="#f9f9f9" d="M501 303h2v2h-2z"/><path fill="#fbfbfb" d="M495 303h2v2h-2zM501 305h2v2h-2zM497 307h2v2h-2zM499 307h2v2h-2z"/><path fill="#fcfcfc" d="M497 303h2v2h-2zM499 303h2v2h-2z"/><path fill="#fdfdfd" d="M495 305h2v2h-2z"/><path fill="#fefefe" d="M499 305h2v2h-2z"/><path fill="#ffffff" d="M497 305h2v2h-2z"/></g></g><g style="font-family:'Liberation Sans',Arial,sans-serif" font-size="7" fill="#404040"><text x="453.9" y="368.9" text-anchor="middle">-40</text><text x="476.7" y="368.9" text-anchor="middle">-20</text><text x="499.4" y="368.9" text-anchor="middle">0</text><text x="522.2" y="368.9" text-anchor="middle">20</text><text x="545" y="368.9" text-anchor="middle">40</text><text x="452.7" y="363.3" text-anchor="end">-40</text><text x="452.7" y="340.6" text-anchor="end">-20</text><text x="452.7" y="317.8" text-anchor="end">0</text><text x="452.7" y="295.1" text-anchor="end">20</text><text x="452.7" y="272.3" text-anchor="end">40</text><text x="499.4" y="376.5" text-anchor="middle">x(mm)</text><text transform="translate(440.9 314.5) rotate(-90)" text-anchor="middle">y(mm)</text></g><g style="font-family:'Liberation Sans',Arial,sans-serif" font-size="7" fill="#404040"><text transform="translate(9.3 94.9) rotate(-90)" text-anchor="middle" font-size="6.8">Normalized Intensity</text><text x="30.7" y="193.4" text-anchor="middle">y(mm)</text><text x="103.5" y="195.7" text-anchor="middle">x(mm)</text><text transform="translate(312.4 94.8) rotate(-90)" text-anchor="middle" font-size="6.8">Normalized Intensity</text><text x="329.5" y="194" text-anchor="middle">y(mm)</text><text x="408.3" y="196.3" text-anchor="middle">x(mm)</text><text transform="translate(9.2 309.8) rotate(-90)" text-anchor="middle" font-size="6.8">Normalized Intensity</text><text x="26.3" y="408.1" text-anchor="middle">y(mm)</text><text x="105.2" y="410.4" text-anchor="middle">x(mm)</text><text transform="translate(312.3 309.5) rotate(-90)" text-anchor="middle" font-size="6.8">Normalized Intensity</text><text x="329.4" y="408.1" text-anchor="middle">y(mm)</text><text x="407.8" y="410.4" text-anchor="middle">x(mm)</text></g><g style="font-family:'Liberation Serif',serif" font-size="7" fill="#222" stroke="#222" stroke-width=".1"><text x="130.6" y="8.9" text-anchor="middle">(a)</text><text x="434.3" y="9.4" text-anchor="middle">(b)</text><text x="130.8" y="222.9" text-anchor="middle">(c)</text><text x="434.3" y="224" text-anchor="middle">(d)</text></g></svg></body></html>
